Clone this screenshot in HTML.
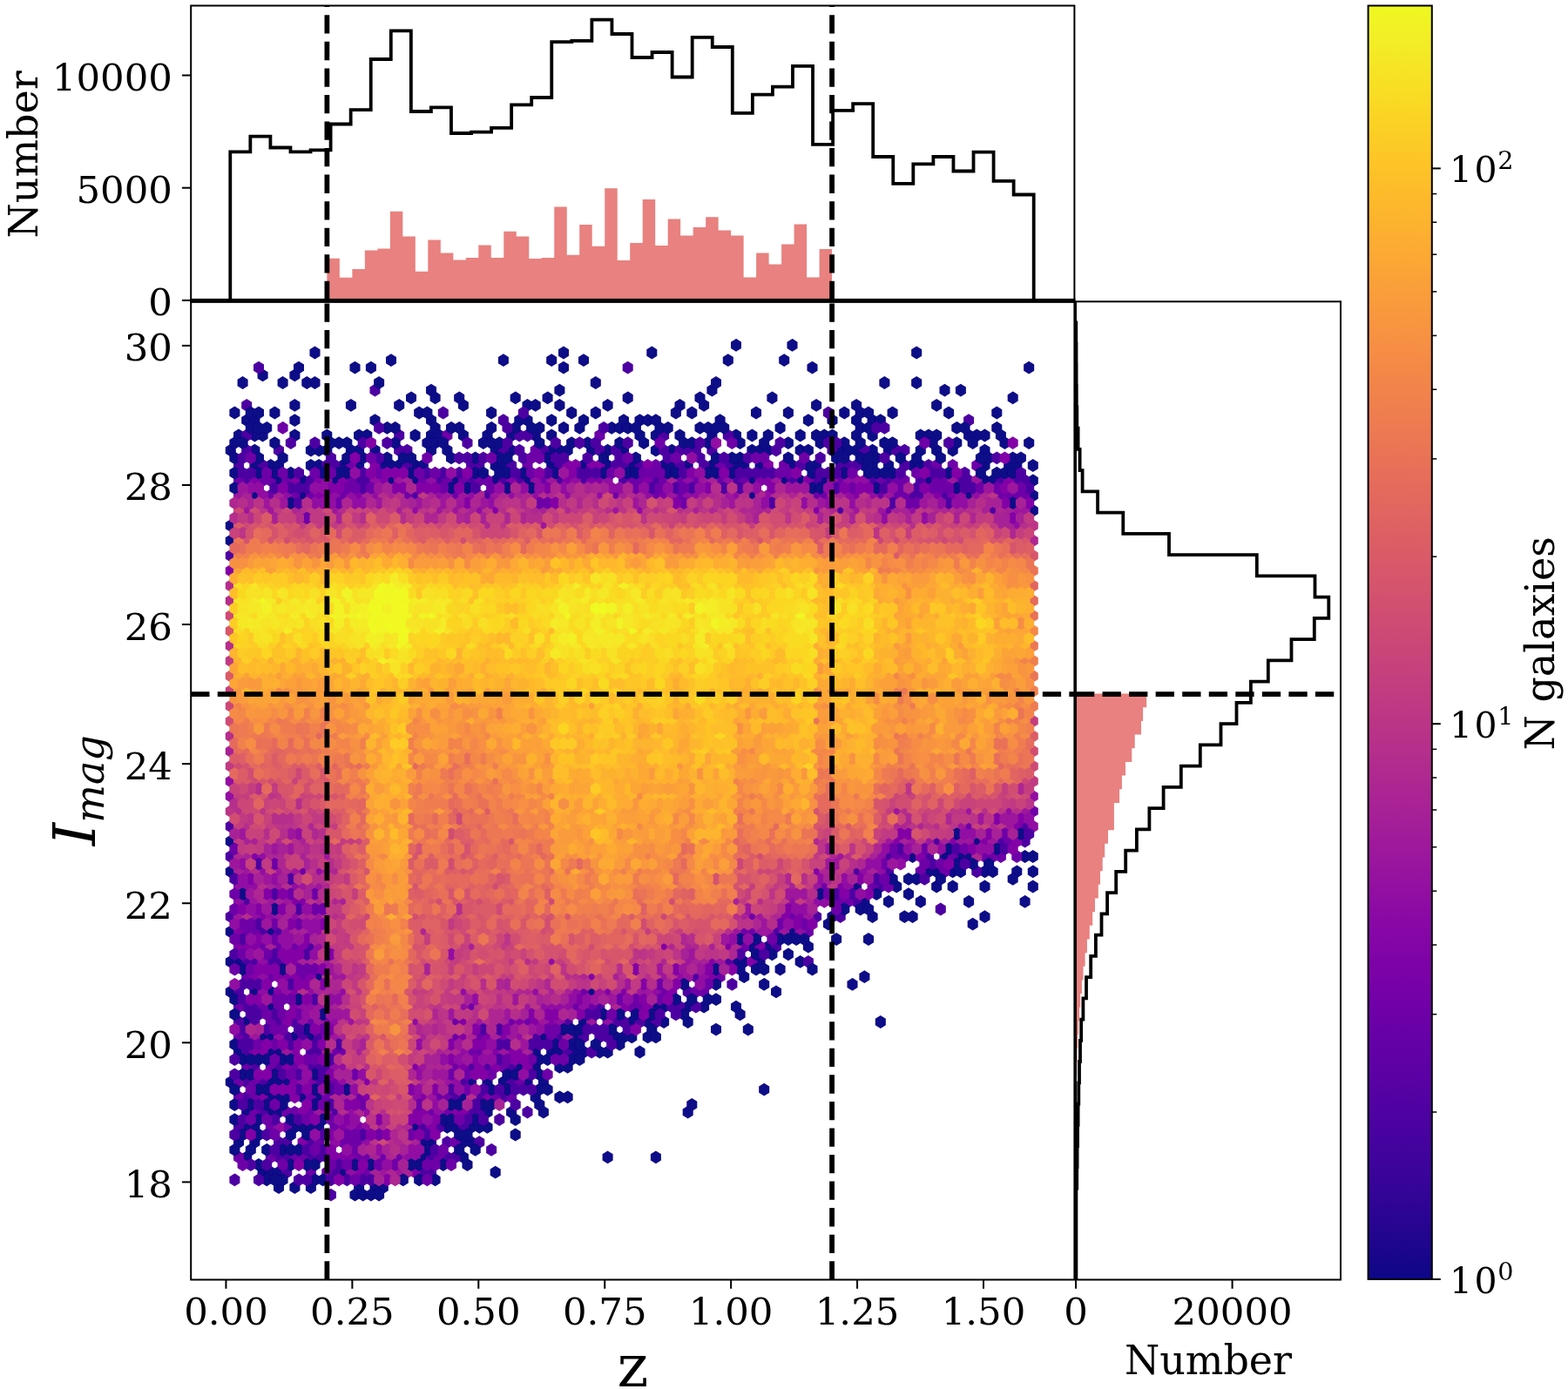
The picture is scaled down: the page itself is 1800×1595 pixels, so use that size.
<!DOCTYPE html><html><head><meta charset="utf-8"><style>html,body{margin:0;padding:0;background:#fff}svg{display:block}text{font-family:"DejaVu Serif","Liberation Serif",serif;fill:#000}</style></head><body>
<svg width="1800" height="1595" viewBox="0 0 1800 1595">
<rect width="1800" height="1595" fill="#fff"/>
<defs><path id="h" d="M0 -5.76L4.61 -2.88V2.88L0 5.76L-4.61 2.88V-2.88Z"/><linearGradient id="cg" x1="0" y1="1" x2="0" y2="0">
<stop offset="0.0000" stop-color="#0c0786"/>
<stop offset="0.0312" stop-color="#21058f"/>
<stop offset="0.0625" stop-color="#310496"/>
<stop offset="0.0938" stop-color="#3f039c"/>
<stop offset="0.1250" stop-color="#4c02a1"/>
<stop offset="0.1562" stop-color="#5901a4"/>
<stop offset="0.1875" stop-color="#6500a7"/>
<stop offset="0.2188" stop-color="#7200a8"/>
<stop offset="0.2500" stop-color="#7e03a7"/>
<stop offset="0.2812" stop-color="#8908a5"/>
<stop offset="0.3125" stop-color="#9511a1"/>
<stop offset="0.3438" stop-color="#9f1a9b"/>
<stop offset="0.3750" stop-color="#a92395"/>
<stop offset="0.4062" stop-color="#b22c8e"/>
<stop offset="0.4375" stop-color="#bb3586"/>
<stop offset="0.4688" stop-color="#c33e7f"/>
<stop offset="0.5000" stop-color="#cb4777"/>
<stop offset="0.5312" stop-color="#d25070"/>
<stop offset="0.5625" stop-color="#d95969"/>
<stop offset="0.5938" stop-color="#df6262"/>
<stop offset="0.6250" stop-color="#e56c5b"/>
<stop offset="0.6562" stop-color="#eb7654"/>
<stop offset="0.6875" stop-color="#f0804d"/>
<stop offset="0.7188" stop-color="#f48a47"/>
<stop offset="0.7500" stop-color="#f89540"/>
<stop offset="0.7812" stop-color="#faa039"/>
<stop offset="0.8125" stop-color="#fcac32"/>
<stop offset="0.8438" stop-color="#fdb82c"/>
<stop offset="0.8750" stop-color="#fdc427"/>
<stop offset="0.9062" stop-color="#fbd124"/>
<stop offset="0.9375" stop-color="#f8df24"/>
<stop offset="0.9688" stop-color="#f3ec26"/>
<stop offset="1.0000" stop-color="#eff821"/>
</linearGradient><clipPath id="crh"><rect x="1200" y="346.3" width="400" height="1123.2"/></clipPath><filter id="hb" x="-2%" y="-2%" width="104%" height="104%"><feGaussianBlur stdDeviation="0.6"/></filter><clipPath id="cm"><rect x="219.2" y="346.3" width="1014.2" height="1123.2"/></clipPath></defs>
<g clip-path="url(#cm)"><g filter="url(#hb)" stroke-width="2.8">
<g fill="#0d0887" stroke="#0d0887">
<use href="#h" x="283.2" y="482.7"/><use href="#h" x="292.4" y="482.7"/><use href="#h" x="338.4" y="482.7"/><use href="#h" x="430.5" y="482.7"/><use href="#h" x="495.0" y="482.7"/><use href="#h" x="596.3" y="482.7"/><use href="#h" x="605.5" y="482.7"/><use href="#h" x="633.2" y="482.7"/><use href="#h" x="670.0" y="482.7"/><use href="#h" x="716.0" y="482.7"/><use href="#h" x="734.5" y="482.7"/><use href="#h" x="743.7" y="482.7"/><use href="#h" x="752.9" y="482.7"/><use href="#h" x="826.6" y="482.7"/><use href="#h" x="927.9" y="482.7"/><use href="#h" x="955.5" y="482.7"/><use href="#h" x="983.1" y="482.7"/><use href="#h" x="1001.6" y="482.7"/><use href="#h" x="1010.8" y="482.7"/><use href="#h" x="274.0" y="500.0"/><use href="#h" x="292.4" y="500.0"/><use href="#h" x="301.6" y="500.0"/><use href="#h" x="338.4" y="500.0"/><use href="#h" x="375.3" y="500.0"/><use href="#h" x="412.1" y="500.0"/><use href="#h" x="421.3" y="500.0"/><use href="#h" x="476.6" y="500.0"/><use href="#h" x="495.0" y="500.0"/><use href="#h" x="504.2" y="500.0"/><use href="#h" x="531.9" y="500.0"/><use href="#h" x="559.5" y="500.0"/><use href="#h" x="587.1" y="500.0"/><use href="#h" x="614.7" y="500.0"/><use href="#h" x="633.2" y="500.0"/><use href="#h" x="734.5" y="500.0"/><use href="#h" x="752.9" y="500.0"/><use href="#h" x="780.5" y="500.0"/><use href="#h" x="817.4" y="500.0"/><use href="#h" x="845.0" y="500.0"/><use href="#h" x="863.4" y="500.0"/><use href="#h" x="881.8" y="500.0"/><use href="#h" x="918.7" y="500.0"/><use href="#h" x="937.1" y="500.0"/><use href="#h" x="946.3" y="500.0"/><use href="#h" x="955.5" y="500.0"/><use href="#h" x="983.1" y="500.0"/><use href="#h" x="1001.6" y="500.0"/><use href="#h" x="1056.8" y="500.0"/><use href="#h" x="1066.0" y="500.0"/><use href="#h" x="1075.2" y="500.0"/><use href="#h" x="1112.1" y="500.0"/><use href="#h" x="1121.3" y="500.0"/><use href="#h" x="1130.5" y="500.0"/><use href="#h" x="1148.9" y="500.0"/><use href="#h" x="264.8" y="517.2"/><use href="#h" x="292.4" y="517.2"/><use href="#h" x="356.9" y="517.2"/><use href="#h" x="366.1" y="517.2"/><use href="#h" x="375.3" y="517.2"/><use href="#h" x="402.9" y="517.2"/><use href="#h" x="412.1" y="517.2"/><use href="#h" x="430.5" y="517.2"/><use href="#h" x="495.0" y="517.2"/><use href="#h" x="513.4" y="517.2"/><use href="#h" x="568.7" y="517.2"/><use href="#h" x="587.1" y="517.2"/><use href="#h" x="633.2" y="517.2"/><use href="#h" x="642.4" y="517.2"/><use href="#h" x="651.6" y="517.2"/><use href="#h" x="679.2" y="517.2"/><use href="#h" x="697.6" y="517.2"/><use href="#h" x="716.0" y="517.2"/><use href="#h" x="752.9" y="517.2"/><use href="#h" x="771.3" y="517.2"/><use href="#h" x="863.4" y="517.2"/><use href="#h" x="872.6" y="517.2"/><use href="#h" x="881.8" y="517.2"/><use href="#h" x="918.7" y="517.2"/><use href="#h" x="927.9" y="517.2"/><use href="#h" x="964.7" y="517.2"/><use href="#h" x="973.9" y="517.2"/><use href="#h" x="983.1" y="517.2"/><use href="#h" x="1001.6" y="517.2"/><use href="#h" x="1020.0" y="517.2"/><use href="#h" x="1056.8" y="517.2"/><use href="#h" x="1075.2" y="517.2"/><use href="#h" x="1093.7" y="517.2"/><use href="#h" x="1130.5" y="517.2"/><use href="#h" x="292.4" y="534.5"/><use href="#h" x="310.8" y="534.5"/><use href="#h" x="320.0" y="534.5"/><use href="#h" x="356.9" y="534.5"/><use href="#h" x="366.1" y="534.5"/><use href="#h" x="393.7" y="534.5"/><use href="#h" x="412.1" y="534.5"/><use href="#h" x="439.8" y="534.5"/><use href="#h" x="449.0" y="534.5"/><use href="#h" x="458.2" y="534.5"/><use href="#h" x="476.6" y="534.5"/><use href="#h" x="485.8" y="534.5"/><use href="#h" x="568.7" y="534.5"/><use href="#h" x="577.9" y="534.5"/><use href="#h" x="633.2" y="534.5"/><use href="#h" x="670.0" y="534.5"/><use href="#h" x="697.6" y="534.5"/><use href="#h" x="725.3" y="534.5"/><use href="#h" x="762.1" y="534.5"/><use href="#h" x="771.3" y="534.5"/><use href="#h" x="789.7" y="534.5"/><use href="#h" x="817.4" y="534.5"/><use href="#h" x="845.0" y="534.5"/><use href="#h" x="854.2" y="534.5"/><use href="#h" x="872.6" y="534.5"/><use href="#h" x="909.5" y="534.5"/><use href="#h" x="927.9" y="534.5"/><use href="#h" x="937.1" y="534.5"/><use href="#h" x="992.4" y="534.5"/><use href="#h" x="1001.6" y="534.5"/><use href="#h" x="1020.0" y="534.5"/><use href="#h" x="1047.6" y="534.5"/><use href="#h" x="1056.8" y="534.5"/><use href="#h" x="1130.5" y="534.5"/><use href="#h" x="1158.1" y="534.5"/><use href="#h" x="1167.3" y="534.5"/><use href="#h" x="1185.8" y="534.5"/><use href="#h" x="320.0" y="551.8"/><use href="#h" x="347.6" y="551.8"/><use href="#h" x="384.5" y="551.8"/><use href="#h" x="449.0" y="551.8"/><use href="#h" x="476.6" y="551.8"/><use href="#h" x="522.6" y="551.8"/><use href="#h" x="568.7" y="551.8"/><use href="#h" x="605.5" y="551.8"/><use href="#h" x="863.4" y="551.8"/><use href="#h" x="900.2" y="551.8"/><use href="#h" x="918.7" y="551.8"/><use href="#h" x="946.3" y="551.8"/><use href="#h" x="1066.0" y="551.8"/><use href="#h" x="1130.5" y="551.8"/><use href="#h" x="1139.7" y="551.8"/><use href="#h" x="1185.8" y="551.8"/><use href="#h" x="292.4" y="569.0"/><use href="#h" x="347.6" y="569.0"/><use href="#h" x="863.4" y="569.0"/><use href="#h" x="1112.1" y="569.0"/><use href="#h" x="1185.8" y="569.0"/><use href="#h" x="1185.8" y="586.3"/><use href="#h" x="264.8" y="603.6"/><use href="#h" x="264.8" y="620.8"/><use href="#h" x="264.8" y="966.2"/><use href="#h" x="1121.3" y="966.2"/><use href="#h" x="1047.6" y="983.5"/><use href="#h" x="1084.5" y="983.5"/><use href="#h" x="1102.9" y="983.5"/><use href="#h" x="1112.1" y="983.5"/><use href="#h" x="1176.6" y="983.5"/><use href="#h" x="1185.8" y="983.5"/><use href="#h" x="264.8" y="1000.8"/><use href="#h" x="1066.0" y="1000.8"/><use href="#h" x="1075.2" y="1000.8"/><use href="#h" x="1093.7" y="1000.8"/><use href="#h" x="1102.9" y="1000.8"/><use href="#h" x="1130.5" y="1000.8"/><use href="#h" x="1139.7" y="1000.8"/><use href="#h" x="1167.3" y="1000.8"/><use href="#h" x="1185.8" y="1000.8"/><use href="#h" x="983.1" y="1018.0"/><use href="#h" x="1029.2" y="1018.0"/><use href="#h" x="1075.2" y="1018.0"/><use href="#h" x="1093.7" y="1018.0"/><use href="#h" x="992.4" y="1035.3"/><use href="#h" x="1020.0" y="1035.3"/><use href="#h" x="955.5" y="1052.6"/><use href="#h" x="1001.6" y="1052.6"/><use href="#h" x="1047.6" y="1052.6"/><use href="#h" x="264.8" y="1069.9"/><use href="#h" x="310.8" y="1069.9"/><use href="#h" x="909.5" y="1069.9"/><use href="#h" x="863.4" y="1087.1"/><use href="#h" x="881.8" y="1087.1"/><use href="#h" x="927.9" y="1087.1"/><use href="#h" x="264.8" y="1104.4"/><use href="#h" x="274.0" y="1104.4"/><use href="#h" x="845.0" y="1104.4"/><use href="#h" x="854.2" y="1104.4"/><use href="#h" x="872.6" y="1104.4"/><use href="#h" x="366.1" y="1121.7"/><use href="#h" x="854.2" y="1121.7"/><use href="#h" x="264.8" y="1138.9"/><use href="#h" x="292.4" y="1138.9"/><use href="#h" x="310.8" y="1138.9"/><use href="#h" x="679.2" y="1138.9"/><use href="#h" x="310.8" y="1156.2"/><use href="#h" x="752.9" y="1156.2"/><use href="#h" x="762.1" y="1156.2"/><use href="#h" x="789.7" y="1156.2"/><use href="#h" x="808.1" y="1156.2"/><use href="#h" x="283.2" y="1173.5"/><use href="#h" x="670.0" y="1173.5"/><use href="#h" x="725.3" y="1173.5"/><use href="#h" x="743.7" y="1173.5"/><use href="#h" x="762.1" y="1173.5"/><use href="#h" x="301.6" y="1190.8"/><use href="#h" x="310.8" y="1190.8"/><use href="#h" x="338.4" y="1190.8"/><use href="#h" x="356.9" y="1190.8"/><use href="#h" x="623.9" y="1190.8"/><use href="#h" x="660.8" y="1190.8"/><use href="#h" x="706.8" y="1190.8"/><use href="#h" x="716.0" y="1190.8"/><use href="#h" x="725.3" y="1190.8"/><use href="#h" x="743.7" y="1190.8"/><use href="#h" x="274.0" y="1208.0"/><use href="#h" x="310.8" y="1208.0"/><use href="#h" x="320.0" y="1208.0"/><use href="#h" x="614.7" y="1208.0"/><use href="#h" x="633.2" y="1208.0"/><use href="#h" x="642.4" y="1208.0"/><use href="#h" x="660.8" y="1208.0"/><use href="#h" x="670.0" y="1208.0"/><use href="#h" x="688.4" y="1208.0"/><use href="#h" x="697.6" y="1208.0"/><use href="#h" x="734.5" y="1208.0"/><use href="#h" x="596.3" y="1225.3"/><use href="#h" x="614.7" y="1225.3"/><use href="#h" x="642.4" y="1225.3"/><use href="#h" x="651.6" y="1225.3"/><use href="#h" x="264.8" y="1242.6"/><use href="#h" x="310.8" y="1242.6"/><use href="#h" x="320.0" y="1242.6"/><use href="#h" x="329.2" y="1242.6"/><use href="#h" x="375.3" y="1242.6"/><use href="#h" x="541.1" y="1242.6"/><use href="#h" x="559.5" y="1242.6"/><use href="#h" x="577.9" y="1242.6"/><use href="#h" x="605.5" y="1242.6"/><use href="#h" x="623.9" y="1242.6"/><use href="#h" x="310.8" y="1259.8"/><use href="#h" x="320.0" y="1259.8"/><use href="#h" x="329.2" y="1259.8"/><use href="#h" x="347.6" y="1259.8"/><use href="#h" x="366.1" y="1259.8"/><use href="#h" x="531.9" y="1259.8"/><use href="#h" x="614.7" y="1259.8"/><use href="#h" x="642.4" y="1259.8"/><use href="#h" x="651.6" y="1259.8"/><use href="#h" x="283.2" y="1277.1"/><use href="#h" x="310.8" y="1277.1"/><use href="#h" x="320.0" y="1277.1"/><use href="#h" x="559.5" y="1277.1"/><use href="#h" x="587.1" y="1277.1"/><use href="#h" x="623.9" y="1277.1"/><use href="#h" x="283.2" y="1294.4"/><use href="#h" x="292.4" y="1294.4"/><use href="#h" x="338.4" y="1294.4"/><use href="#h" x="347.6" y="1294.4"/><use href="#h" x="356.9" y="1294.4"/><use href="#h" x="366.1" y="1294.4"/><use href="#h" x="476.6" y="1294.4"/><use href="#h" x="513.4" y="1294.4"/><use href="#h" x="522.6" y="1294.4"/><use href="#h" x="541.1" y="1294.4"/><use href="#h" x="550.3" y="1294.4"/><use href="#h" x="559.5" y="1294.4"/><use href="#h" x="274.0" y="1311.6"/><use href="#h" x="292.4" y="1311.6"/><use href="#h" x="485.8" y="1311.6"/><use href="#h" x="495.0" y="1311.6"/><use href="#h" x="531.9" y="1311.6"/><use href="#h" x="541.1" y="1311.6"/><use href="#h" x="283.2" y="1328.9"/><use href="#h" x="485.8" y="1328.9"/><use href="#h" x="531.9" y="1328.9"/><use href="#h" x="697.6" y="1328.9"/><use href="#h" x="301.6" y="1346.2"/><use href="#h" x="310.8" y="1346.2"/><use href="#h" x="320.0" y="1346.2"/><use href="#h" x="393.7" y="1346.2"/><use href="#h" x="568.7" y="1346.2"/><use href="#h" x="320.0" y="1363.5"/><use href="#h" x="338.4" y="1363.5"/><use href="#h" x="356.9" y="1363.5"/><use href="#h" x="412.1" y="1363.5"/><use href="#h" x="430.5" y="1363.5"/><use href="#h" x="439.8" y="1363.5"/><use href="#h" x="301.6" y="430.9"/><use href="#h" x="338.4" y="430.9"/><use href="#h" x="338.4" y="465.4"/><use href="#h" x="449.0" y="413.6"/><use href="#h" x="402.9" y="465.4"/><use href="#h" x="458.2" y="465.4"/><use href="#h" x="495.0" y="448.1"/><use href="#h" x="531.9" y="465.4"/><use href="#h" x="577.9" y="413.6"/><use href="#h" x="633.2" y="413.6"/><use href="#h" x="670.0" y="413.6"/><use href="#h" x="845.0" y="396.3"/><use href="#h" x="835.8" y="413.6"/><use href="#h" x="642.4" y="448.1"/><use href="#h" x="605.5" y="465.4"/><use href="#h" x="614.7" y="465.4"/><use href="#h" x="642.4" y="465.4"/><use href="#h" x="697.6" y="465.4"/><use href="#h" x="817.4" y="448.1"/><use href="#h" x="808.1" y="465.4"/><use href="#h" x="780.5" y="465.4"/><use href="#h" x="909.5" y="396.3"/><use href="#h" x="900.2" y="413.6"/><use href="#h" x="1084.5" y="448.1"/><use href="#h" x="1102.9" y="448.1"/><use href="#h" x="937.1" y="465.4"/><use href="#h" x="983.1" y="465.4"/><use href="#h" x="1075.2" y="465.4"/><use href="#h" x="891.0" y="1138.9"/><use href="#h" x="918.7" y="1104.4"/><use href="#h" x="992.4" y="1121.7"/><use href="#h" x="1010.8" y="1173.5"/><use href="#h" x="845.0" y="1156.2"/><use href="#h" x="789.7" y="1173.5"/><use href="#h" x="789.7" y="1277.1"/><use href="#h" x="752.9" y="1328.9"/><use href="#h" x="752.9" y="1190.8"/><use href="#h" x="1038.4" y="1052.6"/><use href="#h" x="1056.8" y="1035.3"/><use href="#h" x="1112.1" y="1035.3"/><use href="#h" x="1130.5" y="1018.0"/><use href="#h" x="1130.5" y="1052.6"/><use href="#h" x="1185.8" y="1018.0"/><use href="#h" x="1176.6" y="1035.3"/>
</g>
<g fill="#4e02a2" stroke="#4e02a2">
<use href="#h" x="577.9" y="482.7"/><use href="#h" x="1112.1" y="482.7"/><use href="#h" x="283.2" y="500.0"/><use href="#h" x="458.2" y="500.0"/><use href="#h" x="596.3" y="500.0"/><use href="#h" x="605.5" y="500.0"/><use href="#h" x="762.1" y="500.0"/><use href="#h" x="835.8" y="500.0"/><use href="#h" x="283.2" y="517.2"/><use href="#h" x="320.0" y="517.2"/><use href="#h" x="458.2" y="517.2"/><use href="#h" x="467.4" y="517.2"/><use href="#h" x="577.9" y="517.2"/><use href="#h" x="596.3" y="517.2"/><use href="#h" x="623.9" y="517.2"/><use href="#h" x="688.4" y="517.2"/><use href="#h" x="706.8" y="517.2"/><use href="#h" x="762.1" y="517.2"/><use href="#h" x="780.5" y="517.2"/><use href="#h" x="789.7" y="517.2"/><use href="#h" x="798.9" y="517.2"/><use href="#h" x="817.4" y="517.2"/><use href="#h" x="891.0" y="517.2"/><use href="#h" x="955.5" y="517.2"/><use href="#h" x="992.4" y="517.2"/><use href="#h" x="1029.2" y="517.2"/><use href="#h" x="1038.4" y="517.2"/><use href="#h" x="274.0" y="534.5"/><use href="#h" x="301.6" y="534.5"/><use href="#h" x="375.3" y="534.5"/><use href="#h" x="384.5" y="534.5"/><use href="#h" x="467.4" y="534.5"/><use href="#h" x="541.1" y="534.5"/><use href="#h" x="550.3" y="534.5"/><use href="#h" x="587.1" y="534.5"/><use href="#h" x="642.4" y="534.5"/><use href="#h" x="706.8" y="534.5"/><use href="#h" x="716.0" y="534.5"/><use href="#h" x="734.5" y="534.5"/><use href="#h" x="780.5" y="534.5"/><use href="#h" x="808.1" y="534.5"/><use href="#h" x="835.8" y="534.5"/><use href="#h" x="918.7" y="534.5"/><use href="#h" x="964.7" y="534.5"/><use href="#h" x="973.9" y="534.5"/><use href="#h" x="983.1" y="534.5"/><use href="#h" x="1038.4" y="534.5"/><use href="#h" x="1066.0" y="534.5"/><use href="#h" x="283.2" y="551.8"/><use href="#h" x="356.9" y="551.8"/><use href="#h" x="412.1" y="551.8"/><use href="#h" x="421.3" y="551.8"/><use href="#h" x="504.2" y="551.8"/><use href="#h" x="541.1" y="551.8"/><use href="#h" x="577.9" y="551.8"/><use href="#h" x="596.3" y="551.8"/><use href="#h" x="642.4" y="551.8"/><use href="#h" x="670.0" y="551.8"/><use href="#h" x="716.0" y="551.8"/><use href="#h" x="752.9" y="551.8"/><use href="#h" x="845.0" y="551.8"/><use href="#h" x="909.5" y="551.8"/><use href="#h" x="937.1" y="551.8"/><use href="#h" x="1001.6" y="551.8"/><use href="#h" x="1020.0" y="551.8"/><use href="#h" x="1056.8" y="551.8"/><use href="#h" x="1102.9" y="551.8"/><use href="#h" x="1112.1" y="551.8"/><use href="#h" x="1148.9" y="551.8"/><use href="#h" x="1167.3" y="551.8"/><use href="#h" x="1176.6" y="551.8"/><use href="#h" x="476.6" y="569.0"/><use href="#h" x="559.5" y="569.0"/><use href="#h" x="1047.6" y="569.0"/><use href="#h" x="1056.8" y="569.0"/><use href="#h" x="1084.5" y="569.0"/><use href="#h" x="964.7" y="586.3"/><use href="#h" x="1139.7" y="586.3"/><use href="#h" x="264.8" y="638.1"/><use href="#h" x="264.8" y="949.0"/><use href="#h" x="1176.6" y="949.0"/><use href="#h" x="1075.2" y="966.2"/><use href="#h" x="1148.9" y="966.2"/><use href="#h" x="1176.6" y="966.2"/><use href="#h" x="264.8" y="983.5"/><use href="#h" x="1020.0" y="983.5"/><use href="#h" x="1066.0" y="983.5"/><use href="#h" x="983.1" y="1000.8"/><use href="#h" x="1020.0" y="1000.8"/><use href="#h" x="1121.3" y="1000.8"/><use href="#h" x="1010.8" y="1018.0"/><use href="#h" x="283.2" y="1035.3"/><use href="#h" x="955.5" y="1035.3"/><use href="#h" x="983.1" y="1035.3"/><use href="#h" x="264.8" y="1052.6"/><use href="#h" x="937.1" y="1052.6"/><use href="#h" x="964.7" y="1052.6"/><use href="#h" x="301.6" y="1069.9"/><use href="#h" x="320.0" y="1069.9"/><use href="#h" x="891.0" y="1069.9"/><use href="#h" x="356.9" y="1087.1"/><use href="#h" x="891.0" y="1087.1"/><use href="#h" x="283.2" y="1104.4"/><use href="#h" x="292.4" y="1104.4"/><use href="#h" x="310.8" y="1104.4"/><use href="#h" x="320.0" y="1104.4"/><use href="#h" x="835.8" y="1104.4"/><use href="#h" x="798.9" y="1121.7"/><use href="#h" x="274.0" y="1138.9"/><use href="#h" x="789.7" y="1138.9"/><use href="#h" x="283.2" y="1156.2"/><use href="#h" x="292.4" y="1156.2"/><use href="#h" x="688.4" y="1156.2"/><use href="#h" x="771.3" y="1156.2"/><use href="#h" x="780.5" y="1156.2"/><use href="#h" x="798.9" y="1156.2"/><use href="#h" x="274.0" y="1173.5"/><use href="#h" x="292.4" y="1173.5"/><use href="#h" x="320.0" y="1173.5"/><use href="#h" x="338.4" y="1173.5"/><use href="#h" x="651.6" y="1173.5"/><use href="#h" x="706.8" y="1173.5"/><use href="#h" x="716.0" y="1173.5"/><use href="#h" x="734.5" y="1173.5"/><use href="#h" x="752.9" y="1173.5"/><use href="#h" x="283.2" y="1190.8"/><use href="#h" x="329.2" y="1190.8"/><use href="#h" x="347.6" y="1190.8"/><use href="#h" x="366.1" y="1190.8"/><use href="#h" x="614.7" y="1190.8"/><use href="#h" x="642.4" y="1190.8"/><use href="#h" x="670.0" y="1190.8"/><use href="#h" x="688.4" y="1190.8"/><use href="#h" x="697.6" y="1190.8"/><use href="#h" x="283.2" y="1208.0"/><use href="#h" x="356.9" y="1208.0"/><use href="#h" x="366.1" y="1208.0"/><use href="#h" x="651.6" y="1208.0"/><use href="#h" x="679.2" y="1208.0"/><use href="#h" x="292.4" y="1225.3"/><use href="#h" x="320.0" y="1225.3"/><use href="#h" x="356.9" y="1225.3"/><use href="#h" x="366.1" y="1225.3"/><use href="#h" x="375.3" y="1225.3"/><use href="#h" x="541.1" y="1225.3"/><use href="#h" x="559.5" y="1225.3"/><use href="#h" x="587.1" y="1225.3"/><use href="#h" x="283.2" y="1242.6"/><use href="#h" x="301.6" y="1242.6"/><use href="#h" x="366.1" y="1242.6"/><use href="#h" x="531.9" y="1242.6"/><use href="#h" x="587.1" y="1242.6"/><use href="#h" x="283.2" y="1259.8"/><use href="#h" x="522.6" y="1259.8"/><use href="#h" x="550.3" y="1259.8"/><use href="#h" x="577.9" y="1259.8"/><use href="#h" x="301.6" y="1277.1"/><use href="#h" x="384.5" y="1277.1"/><use href="#h" x="541.1" y="1277.1"/><use href="#h" x="550.3" y="1277.1"/><use href="#h" x="605.5" y="1277.1"/><use href="#h" x="274.0" y="1294.4"/><use href="#h" x="485.8" y="1294.4"/><use href="#h" x="504.2" y="1294.4"/><use href="#h" x="531.9" y="1294.4"/><use href="#h" x="320.0" y="1311.6"/><use href="#h" x="329.2" y="1311.6"/><use href="#h" x="356.9" y="1311.6"/><use href="#h" x="513.4" y="1311.6"/><use href="#h" x="550.3" y="1311.6"/><use href="#h" x="320.0" y="1328.9"/><use href="#h" x="329.2" y="1328.9"/><use href="#h" x="356.9" y="1328.9"/><use href="#h" x="366.1" y="1328.9"/><use href="#h" x="375.3" y="1328.9"/><use href="#h" x="495.0" y="1328.9"/><use href="#h" x="513.4" y="1328.9"/><use href="#h" x="522.6" y="1328.9"/><use href="#h" x="329.2" y="1346.2"/><use href="#h" x="384.5" y="1346.2"/><use href="#h" x="485.8" y="1346.2"/><use href="#h" x="495.0" y="1346.2"/><use href="#h" x="283.2" y="465.4"/><use href="#h" x="430.5" y="448.1"/><use href="#h" x="927.9" y="1104.4"/>
</g>
<g fill="#6e00a8" stroke="#6e00a8">
<use href="#h" x="513.4" y="500.0"/><use href="#h" x="688.4" y="500.0"/><use href="#h" x="614.7" y="517.2"/><use href="#h" x="402.9" y="534.5"/><use href="#h" x="605.5" y="534.5"/><use href="#h" x="752.9" y="534.5"/><use href="#h" x="826.6" y="534.5"/><use href="#h" x="900.2" y="534.5"/><use href="#h" x="1075.2" y="534.5"/><use href="#h" x="1093.7" y="534.5"/><use href="#h" x="1121.3" y="534.5"/><use href="#h" x="274.0" y="551.8"/><use href="#h" x="301.6" y="551.8"/><use href="#h" x="310.8" y="551.8"/><use href="#h" x="329.2" y="551.8"/><use href="#h" x="402.9" y="551.8"/><use href="#h" x="485.8" y="551.8"/><use href="#h" x="513.4" y="551.8"/><use href="#h" x="531.9" y="551.8"/><use href="#h" x="550.3" y="551.8"/><use href="#h" x="559.5" y="551.8"/><use href="#h" x="623.9" y="551.8"/><use href="#h" x="725.3" y="551.8"/><use href="#h" x="734.5" y="551.8"/><use href="#h" x="762.1" y="551.8"/><use href="#h" x="780.5" y="551.8"/><use href="#h" x="798.9" y="551.8"/><use href="#h" x="826.6" y="551.8"/><use href="#h" x="854.2" y="551.8"/><use href="#h" x="964.7" y="551.8"/><use href="#h" x="1010.8" y="551.8"/><use href="#h" x="1029.2" y="551.8"/><use href="#h" x="1038.4" y="551.8"/><use href="#h" x="1075.2" y="551.8"/><use href="#h" x="1084.5" y="551.8"/><use href="#h" x="310.8" y="569.0"/><use href="#h" x="338.4" y="569.0"/><use href="#h" x="356.9" y="569.0"/><use href="#h" x="375.3" y="569.0"/><use href="#h" x="393.7" y="569.0"/><use href="#h" x="467.4" y="569.0"/><use href="#h" x="522.6" y="569.0"/><use href="#h" x="706.8" y="569.0"/><use href="#h" x="752.9" y="569.0"/><use href="#h" x="780.5" y="569.0"/><use href="#h" x="937.1" y="569.0"/><use href="#h" x="946.3" y="569.0"/><use href="#h" x="1010.8" y="569.0"/><use href="#h" x="1029.2" y="569.0"/><use href="#h" x="1038.4" y="569.0"/><use href="#h" x="1148.9" y="569.0"/><use href="#h" x="1158.1" y="569.0"/><use href="#h" x="1167.3" y="569.0"/><use href="#h" x="1176.6" y="569.0"/><use href="#h" x="1020.0" y="586.3"/><use href="#h" x="1185.8" y="931.7"/><use href="#h" x="1112.1" y="949.0"/><use href="#h" x="1158.1" y="966.2"/><use href="#h" x="1029.2" y="983.5"/><use href="#h" x="1038.4" y="983.5"/><use href="#h" x="1093.7" y="983.5"/><use href="#h" x="1130.5" y="983.5"/><use href="#h" x="1139.7" y="983.5"/><use href="#h" x="1148.9" y="983.5"/><use href="#h" x="1167.3" y="983.5"/><use href="#h" x="347.6" y="1000.8"/><use href="#h" x="1056.8" y="1000.8"/><use href="#h" x="1084.5" y="1000.8"/><use href="#h" x="946.3" y="1018.0"/><use href="#h" x="1001.6" y="1018.0"/><use href="#h" x="1020.0" y="1018.0"/><use href="#h" x="964.7" y="1035.3"/><use href="#h" x="973.9" y="1035.3"/><use href="#h" x="863.4" y="1052.6"/><use href="#h" x="909.5" y="1052.6"/><use href="#h" x="283.2" y="1069.9"/><use href="#h" x="292.4" y="1069.9"/><use href="#h" x="854.2" y="1069.9"/><use href="#h" x="863.4" y="1069.9"/><use href="#h" x="927.9" y="1069.9"/><use href="#h" x="301.6" y="1087.1"/><use href="#h" x="320.0" y="1087.1"/><use href="#h" x="338.4" y="1087.1"/><use href="#h" x="854.2" y="1087.1"/><use href="#h" x="283.2" y="1121.7"/><use href="#h" x="310.8" y="1121.7"/><use href="#h" x="347.6" y="1121.7"/><use href="#h" x="826.6" y="1121.7"/><use href="#h" x="670.0" y="1138.9"/><use href="#h" x="762.1" y="1138.9"/><use href="#h" x="798.9" y="1138.9"/><use href="#h" x="808.1" y="1138.9"/><use href="#h" x="274.0" y="1156.2"/><use href="#h" x="301.6" y="1156.2"/><use href="#h" x="320.0" y="1156.2"/><use href="#h" x="375.3" y="1156.2"/><use href="#h" x="541.1" y="1156.2"/><use href="#h" x="660.8" y="1156.2"/><use href="#h" x="679.2" y="1156.2"/><use href="#h" x="725.3" y="1156.2"/><use href="#h" x="734.5" y="1156.2"/><use href="#h" x="310.8" y="1173.5"/><use href="#h" x="356.9" y="1173.5"/><use href="#h" x="522.6" y="1173.5"/><use href="#h" x="587.1" y="1173.5"/><use href="#h" x="605.5" y="1173.5"/><use href="#h" x="274.0" y="1190.8"/><use href="#h" x="522.6" y="1190.8"/><use href="#h" x="550.3" y="1190.8"/><use href="#h" x="633.2" y="1190.8"/><use href="#h" x="384.5" y="1208.0"/><use href="#h" x="393.7" y="1208.0"/><use href="#h" x="541.1" y="1208.0"/><use href="#h" x="550.3" y="1208.0"/><use href="#h" x="283.2" y="1225.3"/><use href="#h" x="310.8" y="1225.3"/><use href="#h" x="338.4" y="1225.3"/><use href="#h" x="522.6" y="1225.3"/><use href="#h" x="577.9" y="1225.3"/><use href="#h" x="274.0" y="1242.6"/><use href="#h" x="292.4" y="1242.6"/><use href="#h" x="384.5" y="1242.6"/><use href="#h" x="596.3" y="1242.6"/><use href="#h" x="274.0" y="1259.8"/><use href="#h" x="292.4" y="1259.8"/><use href="#h" x="356.9" y="1259.8"/><use href="#h" x="375.3" y="1259.8"/><use href="#h" x="412.1" y="1259.8"/><use href="#h" x="504.2" y="1259.8"/><use href="#h" x="513.4" y="1259.8"/><use href="#h" x="568.7" y="1259.8"/><use href="#h" x="587.1" y="1259.8"/><use href="#h" x="292.4" y="1277.1"/><use href="#h" x="329.2" y="1277.1"/><use href="#h" x="338.4" y="1277.1"/><use href="#h" x="356.9" y="1277.1"/><use href="#h" x="495.0" y="1277.1"/><use href="#h" x="513.4" y="1277.1"/><use href="#h" x="310.8" y="1294.4"/><use href="#h" x="329.2" y="1294.4"/><use href="#h" x="384.5" y="1294.4"/><use href="#h" x="366.1" y="1311.6"/><use href="#h" x="393.7" y="1311.6"/><use href="#h" x="402.9" y="1311.6"/><use href="#h" x="412.1" y="1311.6"/><use href="#h" x="522.6" y="1311.6"/><use href="#h" x="274.0" y="1328.9"/><use href="#h" x="310.8" y="1328.9"/><use href="#h" x="338.4" y="1328.9"/><use href="#h" x="347.6" y="1328.9"/><use href="#h" x="412.1" y="1328.9"/><use href="#h" x="421.3" y="1328.9"/><use href="#h" x="439.8" y="1328.9"/><use href="#h" x="458.2" y="1328.9"/><use href="#h" x="504.2" y="1328.9"/><use href="#h" x="356.9" y="1346.2"/><use href="#h" x="375.3" y="1346.2"/><use href="#h" x="421.3" y="1346.2"/>
</g>
<g fill="#8305a7" stroke="#8305a7">
<use href="#h" x="430.5" y="534.5"/><use href="#h" x="651.6" y="534.5"/><use href="#h" x="660.8" y="534.5"/><use href="#h" x="679.2" y="534.5"/><use href="#h" x="688.4" y="534.5"/><use href="#h" x="743.7" y="534.5"/><use href="#h" x="881.8" y="534.5"/><use href="#h" x="292.4" y="551.8"/><use href="#h" x="338.4" y="551.8"/><use href="#h" x="366.1" y="551.8"/><use href="#h" x="393.7" y="551.8"/><use href="#h" x="439.8" y="551.8"/><use href="#h" x="587.1" y="551.8"/><use href="#h" x="651.6" y="551.8"/><use href="#h" x="679.2" y="551.8"/><use href="#h" x="688.4" y="551.8"/><use href="#h" x="743.7" y="551.8"/><use href="#h" x="872.6" y="551.8"/><use href="#h" x="881.8" y="551.8"/><use href="#h" x="927.9" y="551.8"/><use href="#h" x="1158.1" y="551.8"/><use href="#h" x="366.1" y="569.0"/><use href="#h" x="412.1" y="569.0"/><use href="#h" x="762.1" y="569.0"/><use href="#h" x="983.1" y="569.0"/><use href="#h" x="1075.2" y="569.0"/><use href="#h" x="1093.7" y="569.0"/><use href="#h" x="568.7" y="586.3"/><use href="#h" x="937.1" y="586.3"/><use href="#h" x="264.8" y="655.4"/><use href="#h" x="1167.3" y="949.0"/><use href="#h" x="1029.2" y="966.2"/><use href="#h" x="1093.7" y="966.2"/><use href="#h" x="1130.5" y="966.2"/><use href="#h" x="1167.3" y="966.2"/><use href="#h" x="292.4" y="983.5"/><use href="#h" x="1056.8" y="983.5"/><use href="#h" x="937.1" y="1000.8"/><use href="#h" x="955.5" y="1000.8"/><use href="#h" x="964.7" y="1018.0"/><use href="#h" x="338.4" y="1035.3"/><use href="#h" x="347.6" y="1035.3"/><use href="#h" x="301.6" y="1052.6"/><use href="#h" x="900.2" y="1052.6"/><use href="#h" x="918.7" y="1052.6"/><use href="#h" x="274.0" y="1069.9"/><use href="#h" x="274.0" y="1087.1"/><use href="#h" x="283.2" y="1087.1"/><use href="#h" x="292.4" y="1087.1"/><use href="#h" x="347.6" y="1087.1"/><use href="#h" x="762.1" y="1087.1"/><use href="#h" x="835.8" y="1087.1"/><use href="#h" x="872.6" y="1087.1"/><use href="#h" x="329.2" y="1104.4"/><use href="#h" x="338.4" y="1104.4"/><use href="#h" x="817.4" y="1104.4"/><use href="#h" x="863.4" y="1104.4"/><use href="#h" x="292.4" y="1121.7"/><use href="#h" x="320.0" y="1121.7"/><use href="#h" x="329.2" y="1121.7"/><use href="#h" x="338.4" y="1121.7"/><use href="#h" x="356.9" y="1121.7"/><use href="#h" x="679.2" y="1121.7"/><use href="#h" x="817.4" y="1121.7"/><use href="#h" x="320.0" y="1138.9"/><use href="#h" x="338.4" y="1138.9"/><use href="#h" x="697.6" y="1138.9"/><use href="#h" x="716.0" y="1138.9"/><use href="#h" x="771.3" y="1138.9"/><use href="#h" x="338.4" y="1156.2"/><use href="#h" x="716.0" y="1156.2"/><use href="#h" x="743.7" y="1156.2"/><use href="#h" x="329.2" y="1173.5"/><use href="#h" x="375.3" y="1173.5"/><use href="#h" x="531.9" y="1173.5"/><use href="#h" x="596.3" y="1173.5"/><use href="#h" x="614.7" y="1173.5"/><use href="#h" x="633.2" y="1173.5"/><use href="#h" x="375.3" y="1190.8"/><use href="#h" x="531.9" y="1190.8"/><use href="#h" x="559.5" y="1190.8"/><use href="#h" x="577.9" y="1190.8"/><use href="#h" x="292.4" y="1208.0"/><use href="#h" x="301.6" y="1208.0"/><use href="#h" x="338.4" y="1208.0"/><use href="#h" x="568.7" y="1208.0"/><use href="#h" x="587.1" y="1208.0"/><use href="#h" x="596.3" y="1208.0"/><use href="#h" x="329.2" y="1225.3"/><use href="#h" x="476.6" y="1225.3"/><use href="#h" x="531.9" y="1225.3"/><use href="#h" x="550.3" y="1225.3"/><use href="#h" x="568.7" y="1225.3"/><use href="#h" x="605.5" y="1225.3"/><use href="#h" x="338.4" y="1242.6"/><use href="#h" x="356.9" y="1242.6"/><use href="#h" x="421.3" y="1242.6"/><use href="#h" x="301.6" y="1259.8"/><use href="#h" x="338.4" y="1259.8"/><use href="#h" x="421.3" y="1259.8"/><use href="#h" x="485.8" y="1259.8"/><use href="#h" x="559.5" y="1259.8"/><use href="#h" x="347.6" y="1277.1"/><use href="#h" x="476.6" y="1277.1"/><use href="#h" x="485.8" y="1277.1"/><use href="#h" x="522.6" y="1277.1"/><use href="#h" x="531.9" y="1277.1"/><use href="#h" x="393.7" y="1294.4"/><use href="#h" x="412.1" y="1294.4"/><use href="#h" x="495.0" y="1294.4"/><use href="#h" x="347.6" y="1311.6"/><use href="#h" x="384.5" y="1328.9"/><use href="#h" x="393.7" y="1328.9"/><use href="#h" x="402.9" y="1328.9"/><use href="#h" x="412.1" y="1346.2"/><use href="#h" x="476.6" y="1346.2"/>
</g>
<g fill="#920fa3" stroke="#920fa3">
<use href="#h" x="375.3" y="551.8"/><use href="#h" x="430.5" y="551.8"/><use href="#h" x="495.0" y="551.8"/><use href="#h" x="614.7" y="551.8"/><use href="#h" x="660.8" y="551.8"/><use href="#h" x="697.6" y="551.8"/><use href="#h" x="789.7" y="551.8"/><use href="#h" x="835.8" y="551.8"/><use href="#h" x="955.5" y="551.8"/><use href="#h" x="973.9" y="551.8"/><use href="#h" x="983.1" y="551.8"/><use href="#h" x="992.4" y="551.8"/><use href="#h" x="301.6" y="569.0"/><use href="#h" x="329.2" y="569.0"/><use href="#h" x="384.5" y="569.0"/><use href="#h" x="402.9" y="569.0"/><use href="#h" x="430.5" y="569.0"/><use href="#h" x="504.2" y="569.0"/><use href="#h" x="541.1" y="569.0"/><use href="#h" x="587.1" y="569.0"/><use href="#h" x="614.7" y="569.0"/><use href="#h" x="651.6" y="569.0"/><use href="#h" x="688.4" y="569.0"/><use href="#h" x="743.7" y="569.0"/><use href="#h" x="789.7" y="569.0"/><use href="#h" x="798.9" y="569.0"/><use href="#h" x="845.0" y="569.0"/><use href="#h" x="881.8" y="569.0"/><use href="#h" x="973.9" y="569.0"/><use href="#h" x="1001.6" y="569.0"/><use href="#h" x="1102.9" y="569.0"/><use href="#h" x="1121.3" y="569.0"/><use href="#h" x="476.6" y="586.3"/><use href="#h" x="550.3" y="586.3"/><use href="#h" x="734.5" y="586.3"/><use href="#h" x="1047.6" y="586.3"/><use href="#h" x="1167.3" y="603.6"/><use href="#h" x="264.8" y="897.2"/><use href="#h" x="264.8" y="914.4"/><use href="#h" x="1185.8" y="914.4"/><use href="#h" x="1158.1" y="931.7"/><use href="#h" x="1185.8" y="949.0"/><use href="#h" x="301.6" y="983.5"/><use href="#h" x="1010.8" y="983.5"/><use href="#h" x="301.6" y="1000.8"/><use href="#h" x="366.1" y="1000.8"/><use href="#h" x="992.4" y="1000.8"/><use href="#h" x="1010.8" y="1000.8"/><use href="#h" x="274.0" y="1018.0"/><use href="#h" x="283.2" y="1018.0"/><use href="#h" x="292.4" y="1018.0"/><use href="#h" x="338.4" y="1018.0"/><use href="#h" x="973.9" y="1018.0"/><use href="#h" x="274.0" y="1035.3"/><use href="#h" x="909.5" y="1035.3"/><use href="#h" x="937.1" y="1035.3"/><use href="#h" x="946.3" y="1035.3"/><use href="#h" x="292.4" y="1052.6"/><use href="#h" x="310.8" y="1052.6"/><use href="#h" x="338.4" y="1052.6"/><use href="#h" x="329.2" y="1069.9"/><use href="#h" x="356.9" y="1069.9"/><use href="#h" x="366.1" y="1069.9"/><use href="#h" x="918.7" y="1069.9"/><use href="#h" x="329.2" y="1087.1"/><use href="#h" x="366.1" y="1087.1"/><use href="#h" x="301.6" y="1104.4"/><use href="#h" x="633.2" y="1104.4"/><use href="#h" x="301.6" y="1121.7"/><use href="#h" x="780.5" y="1121.7"/><use href="#h" x="808.1" y="1121.7"/><use href="#h" x="301.6" y="1138.9"/><use href="#h" x="329.2" y="1138.9"/><use href="#h" x="356.9" y="1138.9"/><use href="#h" x="393.7" y="1138.9"/><use href="#h" x="531.9" y="1138.9"/><use href="#h" x="614.7" y="1138.9"/><use href="#h" x="660.8" y="1138.9"/><use href="#h" x="752.9" y="1138.9"/><use href="#h" x="347.6" y="1156.2"/><use href="#h" x="356.9" y="1156.2"/><use href="#h" x="531.9" y="1156.2"/><use href="#h" x="623.9" y="1156.2"/><use href="#h" x="633.2" y="1156.2"/><use href="#h" x="642.4" y="1156.2"/><use href="#h" x="651.6" y="1156.2"/><use href="#h" x="670.0" y="1156.2"/><use href="#h" x="347.6" y="1173.5"/><use href="#h" x="384.5" y="1173.5"/><use href="#h" x="476.6" y="1173.5"/><use href="#h" x="642.4" y="1173.5"/><use href="#h" x="697.6" y="1173.5"/><use href="#h" x="320.0" y="1190.8"/><use href="#h" x="596.3" y="1190.8"/><use href="#h" x="531.9" y="1208.0"/><use href="#h" x="347.6" y="1225.3"/><use href="#h" x="384.5" y="1225.3"/><use href="#h" x="393.7" y="1225.3"/><use href="#h" x="347.6" y="1242.6"/><use href="#h" x="393.7" y="1242.6"/><use href="#h" x="522.6" y="1242.6"/><use href="#h" x="476.6" y="1259.8"/><use href="#h" x="375.3" y="1277.1"/><use href="#h" x="402.9" y="1277.1"/><use href="#h" x="421.3" y="1277.1"/><use href="#h" x="504.2" y="1277.1"/><use href="#h" x="320.0" y="1294.4"/><use href="#h" x="402.9" y="1294.4"/><use href="#h" x="421.3" y="1294.4"/><use href="#h" x="384.5" y="1311.6"/><use href="#h" x="421.3" y="1311.6"/><use href="#h" x="467.4" y="1328.9"/><use href="#h" x="476.6" y="1328.9"/><use href="#h" x="402.9" y="1346.2"/>
</g>
<g fill="#9d189d" stroke="#9d189d">
<use href="#h" x="458.2" y="551.8"/><use href="#h" x="633.2" y="551.8"/><use href="#h" x="808.1" y="551.8"/><use href="#h" x="891.0" y="551.8"/><use href="#h" x="1093.7" y="551.8"/><use href="#h" x="1121.3" y="551.8"/><use href="#h" x="274.0" y="569.0"/><use href="#h" x="513.4" y="569.0"/><use href="#h" x="531.9" y="569.0"/><use href="#h" x="568.7" y="569.0"/><use href="#h" x="771.3" y="569.0"/><use href="#h" x="835.8" y="569.0"/><use href="#h" x="1020.0" y="569.0"/><use href="#h" x="1066.0" y="569.0"/><use href="#h" x="283.2" y="586.3"/><use href="#h" x="310.8" y="586.3"/><use href="#h" x="384.5" y="586.3"/><use href="#h" x="504.2" y="586.3"/><use href="#h" x="522.6" y="586.3"/><use href="#h" x="706.8" y="586.3"/><use href="#h" x="983.1" y="586.3"/><use href="#h" x="1010.8" y="586.3"/><use href="#h" x="1167.3" y="586.3"/><use href="#h" x="1176.6" y="586.3"/><use href="#h" x="623.9" y="603.6"/><use href="#h" x="1029.2" y="931.7"/><use href="#h" x="1112.1" y="931.7"/><use href="#h" x="1176.6" y="931.7"/><use href="#h" x="1102.9" y="949.0"/><use href="#h" x="1158.1" y="949.0"/><use href="#h" x="1020.0" y="966.2"/><use href="#h" x="1047.6" y="966.2"/><use href="#h" x="1066.0" y="966.2"/><use href="#h" x="1102.9" y="966.2"/><use href="#h" x="1112.1" y="966.2"/><use href="#h" x="1139.7" y="966.2"/><use href="#h" x="375.3" y="983.5"/><use href="#h" x="964.7" y="983.5"/><use href="#h" x="283.2" y="1000.8"/><use href="#h" x="320.0" y="1000.8"/><use href="#h" x="338.4" y="1000.8"/><use href="#h" x="375.3" y="1000.8"/><use href="#h" x="320.0" y="1018.0"/><use href="#h" x="347.6" y="1018.0"/><use href="#h" x="366.1" y="1018.0"/><use href="#h" x="937.1" y="1018.0"/><use href="#h" x="292.4" y="1035.3"/><use href="#h" x="310.8" y="1035.3"/><use href="#h" x="329.2" y="1035.3"/><use href="#h" x="274.0" y="1052.6"/><use href="#h" x="320.0" y="1052.6"/><use href="#h" x="366.1" y="1052.6"/><use href="#h" x="872.6" y="1052.6"/><use href="#h" x="927.9" y="1052.6"/><use href="#h" x="845.0" y="1069.9"/><use href="#h" x="872.6" y="1069.9"/><use href="#h" x="881.8" y="1069.9"/><use href="#h" x="900.2" y="1069.9"/><use href="#h" x="375.3" y="1104.4"/><use href="#h" x="789.7" y="1104.4"/><use href="#h" x="826.6" y="1104.4"/><use href="#h" x="384.5" y="1121.7"/><use href="#h" x="393.7" y="1121.7"/><use href="#h" x="762.1" y="1121.7"/><use href="#h" x="789.7" y="1121.7"/><use href="#h" x="688.4" y="1138.9"/><use href="#h" x="734.5" y="1138.9"/><use href="#h" x="743.7" y="1138.9"/><use href="#h" x="366.1" y="1156.2"/><use href="#h" x="605.5" y="1156.2"/><use href="#h" x="366.1" y="1173.5"/><use href="#h" x="402.9" y="1173.5"/><use href="#h" x="550.3" y="1173.5"/><use href="#h" x="623.9" y="1173.5"/><use href="#h" x="679.2" y="1173.5"/><use href="#h" x="292.4" y="1190.8"/><use href="#h" x="384.5" y="1190.8"/><use href="#h" x="587.1" y="1190.8"/><use href="#h" x="651.6" y="1190.8"/><use href="#h" x="329.2" y="1208.0"/><use href="#h" x="559.5" y="1208.0"/><use href="#h" x="577.9" y="1208.0"/><use href="#h" x="485.8" y="1225.3"/><use href="#h" x="513.4" y="1242.6"/><use href="#h" x="495.0" y="1259.8"/><use href="#h" x="366.1" y="1277.1"/><use href="#h" x="439.8" y="1346.2"/><use href="#h" x="458.2" y="1346.2"/>
</g>
<g fill="#a72197" stroke="#a72197">
<use href="#h" x="467.4" y="551.8"/><use href="#h" x="771.3" y="551.8"/><use href="#h" x="817.4" y="551.8"/><use href="#h" x="283.2" y="569.0"/><use href="#h" x="320.0" y="569.0"/><use href="#h" x="421.3" y="569.0"/><use href="#h" x="449.0" y="569.0"/><use href="#h" x="495.0" y="569.0"/><use href="#h" x="596.3" y="569.0"/><use href="#h" x="716.0" y="569.0"/><use href="#h" x="808.1" y="569.0"/><use href="#h" x="955.5" y="569.0"/><use href="#h" x="964.7" y="569.0"/><use href="#h" x="458.2" y="586.3"/><use href="#h" x="541.1" y="586.3"/><use href="#h" x="623.9" y="586.3"/><use href="#h" x="798.9" y="586.3"/><use href="#h" x="872.6" y="586.3"/><use href="#h" x="1029.2" y="586.3"/><use href="#h" x="1038.4" y="586.3"/><use href="#h" x="1130.5" y="586.3"/><use href="#h" x="1158.1" y="586.3"/><use href="#h" x="1148.9" y="603.6"/><use href="#h" x="1158.1" y="603.6"/><use href="#h" x="264.8" y="862.6"/><use href="#h" x="283.2" y="966.2"/><use href="#h" x="292.4" y="966.2"/><use href="#h" x="347.6" y="966.2"/><use href="#h" x="1038.4" y="966.2"/><use href="#h" x="1084.5" y="966.2"/><use href="#h" x="283.2" y="983.5"/><use href="#h" x="347.6" y="983.5"/><use href="#h" x="1001.6" y="983.5"/><use href="#h" x="274.0" y="1000.8"/><use href="#h" x="1001.6" y="1000.8"/><use href="#h" x="310.8" y="1018.0"/><use href="#h" x="356.9" y="1018.0"/><use href="#h" x="909.5" y="1018.0"/><use href="#h" x="320.0" y="1035.3"/><use href="#h" x="393.7" y="1035.3"/><use href="#h" x="845.0" y="1035.3"/><use href="#h" x="329.2" y="1052.6"/><use href="#h" x="347.6" y="1052.6"/><use href="#h" x="356.9" y="1052.6"/><use href="#h" x="854.2" y="1052.6"/><use href="#h" x="338.4" y="1069.9"/><use href="#h" x="347.6" y="1069.9"/><use href="#h" x="310.8" y="1087.1"/><use href="#h" x="375.3" y="1087.1"/><use href="#h" x="541.1" y="1087.1"/><use href="#h" x="789.7" y="1087.1"/><use href="#h" x="817.4" y="1087.1"/><use href="#h" x="347.6" y="1104.4"/><use href="#h" x="356.9" y="1104.4"/><use href="#h" x="798.9" y="1104.4"/><use href="#h" x="808.1" y="1104.4"/><use href="#h" x="706.8" y="1121.7"/><use href="#h" x="366.1" y="1138.9"/><use href="#h" x="384.5" y="1138.9"/><use href="#h" x="633.2" y="1138.9"/><use href="#h" x="651.6" y="1138.9"/><use href="#h" x="384.5" y="1156.2"/><use href="#h" x="577.9" y="1173.5"/><use href="#h" x="393.7" y="1190.8"/><use href="#h" x="485.8" y="1190.8"/><use href="#h" x="568.7" y="1190.8"/><use href="#h" x="375.3" y="1208.0"/><use href="#h" x="412.1" y="1208.0"/><use href="#h" x="504.2" y="1208.0"/><use href="#h" x="605.5" y="1208.0"/><use href="#h" x="393.7" y="1259.8"/><use href="#h" x="476.6" y="1311.6"/><use href="#h" x="430.5" y="1328.9"/><use href="#h" x="430.5" y="1346.2"/><use href="#h" x="467.4" y="1346.2"/>
</g>
<g fill="#b52f8c" stroke="#b52f8c">
<use href="#h" x="439.8" y="569.0"/><use href="#h" x="458.2" y="569.0"/><use href="#h" x="623.9" y="569.0"/><use href="#h" x="660.8" y="569.0"/><use href="#h" x="670.0" y="569.0"/><use href="#h" x="725.3" y="569.0"/><use href="#h" x="826.6" y="569.0"/><use href="#h" x="854.2" y="569.0"/><use href="#h" x="891.0" y="569.0"/><use href="#h" x="927.9" y="569.0"/><use href="#h" x="347.6" y="586.3"/><use href="#h" x="393.7" y="586.3"/><use href="#h" x="513.4" y="586.3"/><use href="#h" x="531.9" y="586.3"/><use href="#h" x="577.9" y="586.3"/><use href="#h" x="605.5" y="586.3"/><use href="#h" x="697.6" y="586.3"/><use href="#h" x="752.9" y="586.3"/><use href="#h" x="780.5" y="586.3"/><use href="#h" x="973.9" y="586.3"/><use href="#h" x="1093.7" y="586.3"/><use href="#h" x="1112.1" y="586.3"/><use href="#h" x="1047.6" y="603.6"/><use href="#h" x="1176.6" y="603.6"/><use href="#h" x="264.8" y="672.7"/><use href="#h" x="264.8" y="689.9"/><use href="#h" x="264.8" y="741.7"/><use href="#h" x="264.8" y="845.4"/><use href="#h" x="274.0" y="931.7"/><use href="#h" x="1038.4" y="931.7"/><use href="#h" x="1130.5" y="931.7"/><use href="#h" x="1167.3" y="931.7"/><use href="#h" x="283.2" y="949.0"/><use href="#h" x="1075.2" y="949.0"/><use href="#h" x="338.4" y="966.2"/><use href="#h" x="973.9" y="983.5"/><use href="#h" x="292.4" y="1000.8"/><use href="#h" x="973.9" y="1000.8"/><use href="#h" x="301.6" y="1018.0"/><use href="#h" x="329.2" y="1018.0"/><use href="#h" x="872.6" y="1035.3"/><use href="#h" x="283.2" y="1052.6"/><use href="#h" x="384.5" y="1052.6"/><use href="#h" x="845.0" y="1052.6"/><use href="#h" x="835.8" y="1069.9"/><use href="#h" x="366.1" y="1104.4"/><use href="#h" x="605.5" y="1104.4"/><use href="#h" x="651.6" y="1121.7"/><use href="#h" x="660.8" y="1121.7"/><use href="#h" x="743.7" y="1121.7"/><use href="#h" x="347.6" y="1138.9"/><use href="#h" x="504.2" y="1173.5"/><use href="#h" x="541.1" y="1173.5"/><use href="#h" x="559.5" y="1173.5"/><use href="#h" x="421.3" y="1225.3"/><use href="#h" x="541.1" y="1259.8"/><use href="#h" x="393.7" y="1277.1"/><use href="#h" x="439.8" y="1277.1"/><use href="#h" x="458.2" y="1294.4"/><use href="#h" x="449.0" y="1311.6"/>
</g>
<g fill="#c03a83" stroke="#c03a83">
<use href="#h" x="485.8" y="569.0"/><use href="#h" x="918.7" y="569.0"/><use href="#h" x="320.0" y="586.3"/><use href="#h" x="356.9" y="586.3"/><use href="#h" x="366.1" y="586.3"/><use href="#h" x="430.5" y="586.3"/><use href="#h" x="495.0" y="586.3"/><use href="#h" x="596.3" y="586.3"/><use href="#h" x="688.4" y="586.3"/><use href="#h" x="743.7" y="586.3"/><use href="#h" x="762.1" y="586.3"/><use href="#h" x="826.6" y="586.3"/><use href="#h" x="845.0" y="586.3"/><use href="#h" x="1056.8" y="586.3"/><use href="#h" x="347.6" y="603.6"/><use href="#h" x="366.1" y="603.6"/><use href="#h" x="384.5" y="603.6"/><use href="#h" x="1139.7" y="603.6"/><use href="#h" x="264.8" y="759.0"/><use href="#h" x="264.8" y="879.9"/><use href="#h" x="1185.8" y="897.2"/><use href="#h" x="320.0" y="914.4"/><use href="#h" x="274.0" y="966.2"/><use href="#h" x="301.6" y="966.2"/><use href="#h" x="393.7" y="966.2"/><use href="#h" x="1056.8" y="966.2"/><use href="#h" x="329.2" y="983.5"/><use href="#h" x="356.9" y="983.5"/><use href="#h" x="366.1" y="983.5"/><use href="#h" x="937.1" y="983.5"/><use href="#h" x="891.0" y="1018.0"/><use href="#h" x="955.5" y="1018.0"/><use href="#h" x="854.2" y="1035.3"/><use href="#h" x="900.2" y="1035.3"/><use href="#h" x="881.8" y="1052.6"/><use href="#h" x="384.5" y="1087.1"/><use href="#h" x="402.9" y="1087.1"/><use href="#h" x="577.9" y="1087.1"/><use href="#h" x="587.1" y="1104.4"/><use href="#h" x="614.7" y="1104.4"/><use href="#h" x="375.3" y="1121.7"/><use href="#h" x="476.6" y="1138.9"/><use href="#h" x="513.4" y="1138.9"/><use href="#h" x="577.9" y="1138.9"/><use href="#h" x="725.3" y="1138.9"/><use href="#h" x="495.0" y="1156.2"/><use href="#h" x="421.3" y="1173.5"/><use href="#h" x="495.0" y="1173.5"/><use href="#h" x="513.4" y="1173.5"/><use href="#h" x="412.1" y="1190.8"/><use href="#h" x="495.0" y="1190.8"/><use href="#h" x="476.6" y="1208.0"/><use href="#h" x="495.0" y="1208.0"/><use href="#h" x="458.2" y="1259.8"/><use href="#h" x="430.5" y="1294.4"/>
</g>
<g fill="#ae2892" stroke="#ae2892">
<use href="#h" x="550.3" y="569.0"/><use href="#h" x="577.9" y="569.0"/><use href="#h" x="605.5" y="569.0"/><use href="#h" x="633.2" y="569.0"/><use href="#h" x="734.5" y="569.0"/><use href="#h" x="817.4" y="569.0"/><use href="#h" x="872.6" y="569.0"/><use href="#h" x="909.5" y="569.0"/><use href="#h" x="1130.5" y="569.0"/><use href="#h" x="338.4" y="586.3"/><use href="#h" x="614.7" y="586.3"/><use href="#h" x="651.6" y="586.3"/><use href="#h" x="817.4" y="586.3"/><use href="#h" x="854.2" y="586.3"/><use href="#h" x="863.4" y="586.3"/><use href="#h" x="881.8" y="586.3"/><use href="#h" x="955.5" y="586.3"/><use href="#h" x="1075.2" y="586.3"/><use href="#h" x="1084.5" y="586.3"/><use href="#h" x="1102.9" y="586.3"/><use href="#h" x="1148.9" y="586.3"/><use href="#h" x="559.5" y="603.6"/><use href="#h" x="1185.8" y="620.8"/><use href="#h" x="356.9" y="949.0"/><use href="#h" x="1029.2" y="949.0"/><use href="#h" x="1038.4" y="949.0"/><use href="#h" x="1056.8" y="949.0"/><use href="#h" x="1139.7" y="949.0"/><use href="#h" x="320.0" y="966.2"/><use href="#h" x="937.1" y="966.2"/><use href="#h" x="274.0" y="983.5"/><use href="#h" x="310.8" y="983.5"/><use href="#h" x="320.0" y="983.5"/><use href="#h" x="955.5" y="983.5"/><use href="#h" x="1121.3" y="983.5"/><use href="#h" x="329.2" y="1000.8"/><use href="#h" x="384.5" y="1000.8"/><use href="#h" x="946.3" y="1000.8"/><use href="#h" x="375.3" y="1018.0"/><use href="#h" x="301.6" y="1035.3"/><use href="#h" x="366.1" y="1035.3"/><use href="#h" x="384.5" y="1035.3"/><use href="#h" x="927.9" y="1035.3"/><use href="#h" x="891.0" y="1052.6"/><use href="#h" x="485.8" y="1069.9"/><use href="#h" x="771.3" y="1087.1"/><use href="#h" x="798.9" y="1087.1"/><use href="#h" x="845.0" y="1087.1"/><use href="#h" x="762.1" y="1104.4"/><use href="#h" x="670.0" y="1121.7"/><use href="#h" x="375.3" y="1138.9"/><use href="#h" x="596.3" y="1138.9"/><use href="#h" x="605.5" y="1138.9"/><use href="#h" x="706.8" y="1138.9"/><use href="#h" x="706.8" y="1156.2"/><use href="#h" x="568.7" y="1173.5"/><use href="#h" x="541.1" y="1190.8"/><use href="#h" x="513.4" y="1208.0"/><use href="#h" x="522.6" y="1208.0"/><use href="#h" x="495.0" y="1225.3"/><use href="#h" x="504.2" y="1225.3"/><use href="#h" x="513.4" y="1225.3"/><use href="#h" x="402.9" y="1242.6"/><use href="#h" x="485.8" y="1242.6"/><use href="#h" x="504.2" y="1242.6"/><use href="#h" x="384.5" y="1259.8"/><use href="#h" x="402.9" y="1259.8"/><use href="#h" x="412.1" y="1277.1"/><use href="#h" x="439.8" y="1294.4"/><use href="#h" x="467.4" y="1294.4"/><use href="#h" x="458.2" y="1311.6"/><use href="#h" x="449.0" y="1328.9"/><use href="#h" x="449.0" y="1346.2"/>
</g>
<g fill="#bb3488" stroke="#bb3488">
<use href="#h" x="642.4" y="569.0"/><use href="#h" x="679.2" y="569.0"/><use href="#h" x="900.2" y="569.0"/><use href="#h" x="992.4" y="569.0"/><use href="#h" x="1139.7" y="569.0"/><use href="#h" x="301.6" y="586.3"/><use href="#h" x="485.8" y="586.3"/><use href="#h" x="559.5" y="586.3"/><use href="#h" x="660.8" y="586.3"/><use href="#h" x="716.0" y="586.3"/><use href="#h" x="789.7" y="586.3"/><use href="#h" x="808.1" y="586.3"/><use href="#h" x="946.3" y="586.3"/><use href="#h" x="1066.0" y="586.3"/><use href="#h" x="1121.3" y="586.3"/><use href="#h" x="577.9" y="603.6"/><use href="#h" x="1185.8" y="603.6"/><use href="#h" x="310.8" y="914.4"/><use href="#h" x="264.8" y="931.7"/><use href="#h" x="301.6" y="931.7"/><use href="#h" x="1093.7" y="931.7"/><use href="#h" x="1102.9" y="931.7"/><use href="#h" x="1148.9" y="931.7"/><use href="#h" x="320.0" y="949.0"/><use href="#h" x="329.2" y="949.0"/><use href="#h" x="338.4" y="949.0"/><use href="#h" x="1047.6" y="949.0"/><use href="#h" x="1066.0" y="949.0"/><use href="#h" x="1093.7" y="949.0"/><use href="#h" x="1148.9" y="949.0"/><use href="#h" x="375.3" y="966.2"/><use href="#h" x="946.3" y="966.2"/><use href="#h" x="1010.8" y="966.2"/><use href="#h" x="356.9" y="1000.8"/><use href="#h" x="356.9" y="1035.3"/><use href="#h" x="375.3" y="1052.6"/><use href="#h" x="393.7" y="1052.6"/><use href="#h" x="384.5" y="1069.9"/><use href="#h" x="384.5" y="1104.4"/><use href="#h" x="402.9" y="1121.7"/><use href="#h" x="716.0" y="1121.7"/><use href="#h" x="771.3" y="1121.7"/><use href="#h" x="412.1" y="1138.9"/><use href="#h" x="587.1" y="1138.9"/><use href="#h" x="393.7" y="1156.2"/><use href="#h" x="504.2" y="1156.2"/><use href="#h" x="550.3" y="1156.2"/><use href="#h" x="568.7" y="1156.2"/><use href="#h" x="577.9" y="1156.2"/><use href="#h" x="614.7" y="1156.2"/><use href="#h" x="393.7" y="1173.5"/><use href="#h" x="412.1" y="1173.5"/><use href="#h" x="421.3" y="1190.8"/><use href="#h" x="513.4" y="1190.8"/><use href="#h" x="605.5" y="1190.8"/><use href="#h" x="412.1" y="1242.6"/><use href="#h" x="430.5" y="1242.6"/><use href="#h" x="495.0" y="1242.6"/><use href="#h" x="430.5" y="1311.6"/><use href="#h" x="467.4" y="1311.6"/>
</g>
<g fill="#d14e72" stroke="#d14e72">
<use href="#h" x="697.6" y="569.0"/><use href="#h" x="292.4" y="586.3"/><use href="#h" x="642.4" y="586.3"/><use href="#h" x="421.3" y="603.6"/><use href="#h" x="522.6" y="603.6"/><use href="#h" x="550.3" y="603.6"/><use href="#h" x="633.2" y="603.6"/><use href="#h" x="798.9" y="603.6"/><use href="#h" x="891.0" y="603.6"/><use href="#h" x="955.5" y="603.6"/><use href="#h" x="1020.0" y="603.6"/><use href="#h" x="1038.4" y="603.6"/><use href="#h" x="329.2" y="620.8"/><use href="#h" x="531.9" y="620.8"/><use href="#h" x="1185.8" y="862.6"/><use href="#h" x="310.8" y="897.2"/><use href="#h" x="1038.4" y="914.4"/><use href="#h" x="310.8" y="931.7"/><use href="#h" x="338.4" y="931.7"/><use href="#h" x="1084.5" y="931.7"/><use href="#h" x="1139.7" y="931.7"/><use href="#h" x="301.6" y="949.0"/><use href="#h" x="1010.8" y="949.0"/><use href="#h" x="1020.0" y="949.0"/><use href="#h" x="329.2" y="966.2"/><use href="#h" x="872.6" y="983.5"/><use href="#h" x="384.5" y="1018.0"/><use href="#h" x="568.7" y="1018.0"/><use href="#h" x="504.2" y="1035.3"/><use href="#h" x="550.3" y="1035.3"/><use href="#h" x="771.3" y="1035.3"/><use href="#h" x="476.6" y="1052.6"/><use href="#h" x="623.9" y="1069.9"/><use href="#h" x="771.3" y="1069.9"/><use href="#h" x="798.9" y="1069.9"/><use href="#h" x="679.2" y="1087.1"/><use href="#h" x="725.3" y="1087.1"/><use href="#h" x="485.8" y="1104.4"/><use href="#h" x="568.7" y="1104.4"/><use href="#h" x="651.6" y="1104.4"/><use href="#h" x="743.7" y="1104.4"/><use href="#h" x="485.8" y="1121.7"/><use href="#h" x="402.9" y="1190.8"/>
</g>
<g fill="#ce4b75" stroke="#ce4b75">
<use href="#h" x="274.0" y="586.3"/><use href="#h" x="375.3" y="586.3"/><use href="#h" x="439.8" y="586.3"/><use href="#h" x="587.1" y="586.3"/><use href="#h" x="725.3" y="586.3"/><use href="#h" x="891.0" y="586.3"/><use href="#h" x="909.5" y="586.3"/><use href="#h" x="283.2" y="603.6"/><use href="#h" x="476.6" y="603.6"/><use href="#h" x="541.1" y="603.6"/><use href="#h" x="1066.0" y="603.6"/><use href="#h" x="1029.2" y="620.8"/><use href="#h" x="1102.9" y="620.8"/><use href="#h" x="264.8" y="707.2"/><use href="#h" x="264.8" y="828.1"/><use href="#h" x="274.0" y="879.9"/><use href="#h" x="1185.8" y="879.9"/><use href="#h" x="292.4" y="897.2"/><use href="#h" x="375.3" y="914.4"/><use href="#h" x="1158.1" y="914.4"/><use href="#h" x="1176.6" y="914.4"/><use href="#h" x="283.2" y="931.7"/><use href="#h" x="292.4" y="931.7"/><use href="#h" x="1056.8" y="931.7"/><use href="#h" x="292.4" y="949.0"/><use href="#h" x="955.5" y="949.0"/><use href="#h" x="946.3" y="983.5"/><use href="#h" x="891.0" y="1000.8"/><use href="#h" x="881.8" y="1018.0"/><use href="#h" x="633.2" y="1035.3"/><use href="#h" x="891.0" y="1035.3"/><use href="#h" x="531.9" y="1069.9"/><use href="#h" x="826.6" y="1069.9"/><use href="#h" x="568.7" y="1087.1"/><use href="#h" x="412.1" y="1104.4"/><use href="#h" x="513.4" y="1104.4"/><use href="#h" x="531.9" y="1104.4"/><use href="#h" x="577.9" y="1104.4"/><use href="#h" x="697.6" y="1104.4"/><use href="#h" x="421.3" y="1121.7"/><use href="#h" x="550.3" y="1121.7"/><use href="#h" x="550.3" y="1138.9"/><use href="#h" x="513.4" y="1156.2"/><use href="#h" x="476.6" y="1190.8"/><use href="#h" x="421.3" y="1208.0"/><use href="#h" x="412.1" y="1225.3"/><use href="#h" x="439.8" y="1259.8"/><use href="#h" x="467.4" y="1277.1"/><use href="#h" x="439.8" y="1311.6"/>
</g>
<g fill="#cc4778" stroke="#cc4778">
<use href="#h" x="329.2" y="586.3"/><use href="#h" x="402.9" y="586.3"/><use href="#h" x="412.1" y="586.3"/><use href="#h" x="679.2" y="586.3"/><use href="#h" x="835.8" y="586.3"/><use href="#h" x="393.7" y="603.6"/><use href="#h" x="504.2" y="603.6"/><use href="#h" x="568.7" y="603.6"/><use href="#h" x="937.1" y="603.6"/><use href="#h" x="1029.2" y="603.6"/><use href="#h" x="1084.5" y="603.6"/><use href="#h" x="1102.9" y="603.6"/><use href="#h" x="1010.8" y="620.8"/><use href="#h" x="1084.5" y="620.8"/><use href="#h" x="264.8" y="810.8"/><use href="#h" x="1176.6" y="897.2"/><use href="#h" x="356.9" y="914.4"/><use href="#h" x="366.1" y="914.4"/><use href="#h" x="1029.2" y="914.4"/><use href="#h" x="329.2" y="931.7"/><use href="#h" x="366.1" y="931.7"/><use href="#h" x="375.3" y="931.7"/><use href="#h" x="366.1" y="949.0"/><use href="#h" x="375.3" y="949.0"/><use href="#h" x="1084.5" y="949.0"/><use href="#h" x="310.8" y="966.2"/><use href="#h" x="356.9" y="966.2"/><use href="#h" x="992.4" y="966.2"/><use href="#h" x="393.7" y="983.5"/><use href="#h" x="872.6" y="1000.8"/><use href="#h" x="881.8" y="1000.8"/><use href="#h" x="421.3" y="1052.6"/><use href="#h" x="522.6" y="1052.6"/><use href="#h" x="762.1" y="1052.6"/><use href="#h" x="780.5" y="1087.1"/><use href="#h" x="826.6" y="1087.1"/><use href="#h" x="402.9" y="1104.4"/><use href="#h" x="734.5" y="1104.4"/><use href="#h" x="614.7" y="1121.7"/><use href="#h" x="495.0" y="1138.9"/><use href="#h" x="522.6" y="1156.2"/><use href="#h" x="485.8" y="1173.5"/><use href="#h" x="485.8" y="1208.0"/><use href="#h" x="449.0" y="1242.6"/>
</g>
<g fill="#c8437b" stroke="#c8437b">
<use href="#h" x="421.3" y="586.3"/><use href="#h" x="918.7" y="586.3"/><use href="#h" x="375.3" y="603.6"/><use href="#h" x="412.1" y="603.6"/><use href="#h" x="771.3" y="603.6"/><use href="#h" x="927.9" y="603.6"/><use href="#h" x="964.7" y="603.6"/><use href="#h" x="973.9" y="603.6"/><use href="#h" x="1010.8" y="603.6"/><use href="#h" x="1093.7" y="603.6"/><use href="#h" x="1121.3" y="603.6"/><use href="#h" x="264.8" y="793.5"/><use href="#h" x="338.4" y="897.2"/><use href="#h" x="347.6" y="914.4"/><use href="#h" x="1047.6" y="914.4"/><use href="#h" x="1112.1" y="914.4"/><use href="#h" x="1148.9" y="914.4"/><use href="#h" x="1066.0" y="931.7"/><use href="#h" x="1075.2" y="931.7"/><use href="#h" x="347.6" y="949.0"/><use href="#h" x="1121.3" y="949.0"/><use href="#h" x="1130.5" y="949.0"/><use href="#h" x="412.1" y="966.2"/><use href="#h" x="338.4" y="983.5"/><use href="#h" x="384.5" y="983.5"/><use href="#h" x="310.8" y="1000.8"/><use href="#h" x="900.2" y="1018.0"/><use href="#h" x="881.8" y="1035.3"/><use href="#h" x="587.1" y="1087.1"/><use href="#h" x="393.7" y="1104.4"/><use href="#h" x="752.9" y="1104.4"/><use href="#h" x="780.5" y="1104.4"/><use href="#h" x="752.9" y="1121.7"/><use href="#h" x="402.9" y="1156.2"/><use href="#h" x="412.1" y="1156.2"/><use href="#h" x="476.6" y="1156.2"/><use href="#h" x="485.8" y="1156.2"/><use href="#h" x="596.3" y="1156.2"/><use href="#h" x="402.9" y="1208.0"/><use href="#h" x="430.5" y="1277.1"/><use href="#h" x="449.0" y="1294.4"/>
</g>
<g fill="#c43e7f" stroke="#c43e7f">
<use href="#h" x="449.0" y="586.3"/><use href="#h" x="467.4" y="586.3"/><use href="#h" x="633.2" y="586.3"/><use href="#h" x="670.0" y="586.3"/><use href="#h" x="900.2" y="586.3"/><use href="#h" x="927.9" y="586.3"/><use href="#h" x="992.4" y="586.3"/><use href="#h" x="1001.6" y="586.3"/><use href="#h" x="863.4" y="603.6"/><use href="#h" x="1112.1" y="603.6"/><use href="#h" x="1185.8" y="828.1"/><use href="#h" x="274.0" y="914.4"/><use href="#h" x="283.2" y="914.4"/><use href="#h" x="356.9" y="931.7"/><use href="#h" x="1020.0" y="931.7"/><use href="#h" x="274.0" y="949.0"/><use href="#h" x="310.8" y="949.0"/><use href="#h" x="384.5" y="949.0"/><use href="#h" x="366.1" y="966.2"/><use href="#h" x="402.9" y="966.2"/><use href="#h" x="992.4" y="983.5"/><use href="#h" x="964.7" y="1000.8"/><use href="#h" x="863.4" y="1018.0"/><use href="#h" x="927.9" y="1018.0"/><use href="#h" x="375.3" y="1035.3"/><use href="#h" x="918.7" y="1035.3"/><use href="#h" x="375.3" y="1069.9"/><use href="#h" x="393.7" y="1069.9"/><use href="#h" x="743.7" y="1069.9"/><use href="#h" x="780.5" y="1069.9"/><use href="#h" x="393.7" y="1087.1"/><use href="#h" x="531.9" y="1087.1"/><use href="#h" x="808.1" y="1087.1"/><use href="#h" x="522.6" y="1104.4"/><use href="#h" x="642.4" y="1104.4"/><use href="#h" x="725.3" y="1104.4"/><use href="#h" x="412.1" y="1121.7"/><use href="#h" x="531.9" y="1121.7"/><use href="#h" x="577.9" y="1121.7"/><use href="#h" x="587.1" y="1121.7"/><use href="#h" x="633.2" y="1121.7"/><use href="#h" x="688.4" y="1121.7"/><use href="#h" x="734.5" y="1121.7"/><use href="#h" x="485.8" y="1138.9"/><use href="#h" x="541.1" y="1138.9"/><use href="#h" x="559.5" y="1138.9"/><use href="#h" x="568.7" y="1138.9"/><use href="#h" x="623.9" y="1138.9"/><use href="#h" x="642.4" y="1138.9"/><use href="#h" x="559.5" y="1156.2"/><use href="#h" x="587.1" y="1156.2"/><use href="#h" x="504.2" y="1190.8"/><use href="#h" x="402.9" y="1225.3"/><use href="#h" x="476.6" y="1242.6"/>
</g>
<g fill="#d8576b" stroke="#d8576b">
<use href="#h" x="771.3" y="586.3"/><use href="#h" x="338.4" y="603.6"/><use href="#h" x="531.9" y="603.6"/><use href="#h" x="679.2" y="603.6"/><use href="#h" x="706.8" y="603.6"/><use href="#h" x="716.0" y="603.6"/><use href="#h" x="789.7" y="603.6"/><use href="#h" x="918.7" y="603.6"/><use href="#h" x="1075.2" y="603.6"/><use href="#h" x="375.3" y="620.8"/><use href="#h" x="872.6" y="620.8"/><use href="#h" x="937.1" y="620.8"/><use href="#h" x="1139.7" y="620.8"/><use href="#h" x="1148.9" y="620.8"/><use href="#h" x="1176.6" y="620.8"/><use href="#h" x="1185.8" y="638.1"/><use href="#h" x="264.8" y="724.5"/><use href="#h" x="301.6" y="897.2"/><use href="#h" x="320.0" y="897.2"/><use href="#h" x="375.3" y="897.2"/><use href="#h" x="301.6" y="914.4"/><use href="#h" x="320.0" y="931.7"/><use href="#h" x="347.6" y="931.7"/><use href="#h" x="1010.8" y="931.7"/><use href="#h" x="587.1" y="966.2"/><use href="#h" x="983.1" y="966.2"/><use href="#h" x="531.9" y="1000.8"/><use href="#h" x="927.9" y="1000.8"/><use href="#h" x="522.6" y="1035.3"/><use href="#h" x="485.8" y="1052.6"/><use href="#h" x="531.9" y="1052.6"/><use href="#h" x="651.6" y="1052.6"/><use href="#h" x="817.4" y="1052.6"/><use href="#h" x="412.1" y="1069.9"/><use href="#h" x="587.1" y="1069.9"/><use href="#h" x="716.0" y="1069.9"/><use href="#h" x="789.7" y="1069.9"/><use href="#h" x="485.8" y="1087.1"/><use href="#h" x="752.9" y="1087.1"/><use href="#h" x="495.0" y="1104.4"/><use href="#h" x="504.2" y="1104.4"/><use href="#h" x="559.5" y="1104.4"/><use href="#h" x="706.8" y="1104.4"/><use href="#h" x="596.3" y="1121.7"/><use href="#h" x="439.8" y="1190.8"/><use href="#h" x="430.5" y="1225.3"/><use href="#h" x="439.8" y="1225.3"/>
</g>
<g fill="#da5b69" stroke="#da5b69">
<use href="#h" x="274.0" y="603.6"/><use href="#h" x="301.6" y="603.6"/><use href="#h" x="587.1" y="603.6"/><use href="#h" x="596.3" y="603.6"/><use href="#h" x="651.6" y="603.6"/><use href="#h" x="734.5" y="603.6"/><use href="#h" x="780.5" y="603.6"/><use href="#h" x="826.6" y="603.6"/><use href="#h" x="881.8" y="603.6"/><use href="#h" x="1056.8" y="603.6"/><use href="#h" x="347.6" y="620.8"/><use href="#h" x="605.5" y="620.8"/><use href="#h" x="1167.3" y="620.8"/><use href="#h" x="1029.2" y="638.1"/><use href="#h" x="264.8" y="776.3"/><use href="#h" x="338.4" y="879.9"/><use href="#h" x="274.0" y="897.2"/><use href="#h" x="283.2" y="897.2"/><use href="#h" x="1047.6" y="897.2"/><use href="#h" x="292.4" y="914.4"/><use href="#h" x="1056.8" y="914.4"/><use href="#h" x="1084.5" y="914.4"/><use href="#h" x="1102.9" y="914.4"/><use href="#h" x="955.5" y="931.7"/><use href="#h" x="973.9" y="949.0"/><use href="#h" x="863.4" y="983.5"/><use href="#h" x="983.1" y="983.5"/><use href="#h" x="541.1" y="1000.8"/><use href="#h" x="421.3" y="1035.3"/><use href="#h" x="495.0" y="1035.3"/><use href="#h" x="559.5" y="1035.3"/><use href="#h" x="577.9" y="1035.3"/><use href="#h" x="863.4" y="1035.3"/><use href="#h" x="504.2" y="1052.6"/><use href="#h" x="559.5" y="1052.6"/><use href="#h" x="605.5" y="1052.6"/><use href="#h" x="623.9" y="1052.6"/><use href="#h" x="725.3" y="1052.6"/><use href="#h" x="826.6" y="1052.6"/><use href="#h" x="835.8" y="1052.6"/><use href="#h" x="596.3" y="1069.9"/><use href="#h" x="513.4" y="1087.1"/><use href="#h" x="706.8" y="1087.1"/><use href="#h" x="504.2" y="1121.7"/><use href="#h" x="642.4" y="1121.7"/><use href="#h" x="725.3" y="1121.7"/><use href="#h" x="458.2" y="1242.6"/>
</g>
<g fill="#d6556d" stroke="#d6556d">
<use href="#h" x="292.4" y="603.6"/><use href="#h" x="485.8" y="603.6"/><use href="#h" x="495.0" y="603.6"/><use href="#h" x="605.5" y="603.6"/><use href="#h" x="762.1" y="603.6"/><use href="#h" x="808.1" y="603.6"/><use href="#h" x="835.8" y="603.6"/><use href="#h" x="845.0" y="603.6"/><use href="#h" x="909.5" y="603.6"/><use href="#h" x="983.1" y="603.6"/><use href="#h" x="1130.5" y="603.6"/><use href="#h" x="310.8" y="620.8"/><use href="#h" x="356.9" y="620.8"/><use href="#h" x="1056.8" y="620.8"/><use href="#h" x="329.2" y="914.4"/><use href="#h" x="384.5" y="914.4"/><use href="#h" x="1130.5" y="914.4"/><use href="#h" x="1139.7" y="914.4"/><use href="#h" x="1047.6" y="931.7"/><use href="#h" x="937.1" y="949.0"/><use href="#h" x="476.6" y="983.5"/><use href="#h" x="531.9" y="983.5"/><use href="#h" x="393.7" y="1000.8"/><use href="#h" x="900.2" y="1000.8"/><use href="#h" x="402.9" y="1018.0"/><use href="#h" x="918.7" y="1018.0"/><use href="#h" x="402.9" y="1035.3"/><use href="#h" x="541.1" y="1035.3"/><use href="#h" x="587.1" y="1035.3"/><use href="#h" x="412.1" y="1052.6"/><use href="#h" x="550.3" y="1052.6"/><use href="#h" x="789.7" y="1052.6"/><use href="#h" x="513.4" y="1069.9"/><use href="#h" x="522.6" y="1069.9"/><use href="#h" x="550.3" y="1069.9"/><use href="#h" x="559.5" y="1069.9"/><use href="#h" x="633.2" y="1069.9"/><use href="#h" x="752.9" y="1069.9"/><use href="#h" x="817.4" y="1069.9"/><use href="#h" x="421.3" y="1087.1"/><use href="#h" x="642.4" y="1087.1"/><use href="#h" x="541.1" y="1104.4"/><use href="#h" x="771.3" y="1104.4"/><use href="#h" x="476.6" y="1121.7"/><use href="#h" x="513.4" y="1121.7"/><use href="#h" x="541.1" y="1121.7"/><use href="#h" x="623.9" y="1121.7"/><use href="#h" x="421.3" y="1138.9"/><use href="#h" x="467.4" y="1138.9"/><use href="#h" x="504.2" y="1138.9"/><use href="#h" x="467.4" y="1225.3"/>
</g>
<g fill="#d45270" stroke="#d45270">
<use href="#h" x="310.8" y="603.6"/><use href="#h" x="329.2" y="603.6"/><use href="#h" x="356.9" y="603.6"/><use href="#h" x="402.9" y="603.6"/><use href="#h" x="439.8" y="603.6"/><use href="#h" x="513.4" y="603.6"/><use href="#h" x="660.8" y="603.6"/><use href="#h" x="725.3" y="603.6"/><use href="#h" x="743.7" y="603.6"/><use href="#h" x="900.2" y="603.6"/><use href="#h" x="946.3" y="603.6"/><use href="#h" x="283.2" y="620.8"/><use href="#h" x="1066.0" y="620.8"/><use href="#h" x="1075.2" y="620.8"/><use href="#h" x="1093.7" y="620.8"/><use href="#h" x="283.2" y="879.9"/><use href="#h" x="356.9" y="897.2"/><use href="#h" x="1066.0" y="914.4"/><use href="#h" x="1167.3" y="914.4"/><use href="#h" x="937.1" y="931.7"/><use href="#h" x="1121.3" y="931.7"/><use href="#h" x="946.3" y="949.0"/><use href="#h" x="955.5" y="966.2"/><use href="#h" x="421.3" y="1000.8"/><use href="#h" x="476.6" y="1018.0"/><use href="#h" x="845.0" y="1018.0"/><use href="#h" x="633.2" y="1052.6"/><use href="#h" x="402.9" y="1069.9"/><use href="#h" x="577.9" y="1069.9"/><use href="#h" x="808.1" y="1069.9"/><use href="#h" x="412.1" y="1087.1"/><use href="#h" x="476.6" y="1087.1"/><use href="#h" x="522.6" y="1087.1"/><use href="#h" x="550.3" y="1087.1"/><use href="#h" x="559.5" y="1087.1"/><use href="#h" x="623.9" y="1087.1"/><use href="#h" x="633.2" y="1087.1"/><use href="#h" x="743.7" y="1087.1"/><use href="#h" x="623.9" y="1104.4"/><use href="#h" x="670.0" y="1104.4"/><use href="#h" x="568.7" y="1121.7"/><use href="#h" x="605.5" y="1121.7"/><use href="#h" x="697.6" y="1121.7"/><use href="#h" x="402.9" y="1138.9"/><use href="#h" x="522.6" y="1138.9"/><use href="#h" x="467.4" y="1259.8"/><use href="#h" x="449.0" y="1277.1"/><use href="#h" x="458.2" y="1277.1"/>
</g>
<g fill="#de5f65" stroke="#de5f65">
<use href="#h" x="320.0" y="603.6"/><use href="#h" x="430.5" y="603.6"/><use href="#h" x="688.4" y="603.6"/><use href="#h" x="697.6" y="603.6"/><use href="#h" x="1001.6" y="603.6"/><use href="#h" x="412.1" y="620.8"/><use href="#h" x="1038.4" y="620.8"/><use href="#h" x="347.6" y="897.2"/><use href="#h" x="366.1" y="897.2"/><use href="#h" x="1038.4" y="897.2"/><use href="#h" x="1093.7" y="914.4"/><use href="#h" x="522.6" y="931.7"/><use href="#h" x="973.9" y="966.2"/><use href="#h" x="541.1" y="983.5"/><use href="#h" x="568.7" y="983.5"/><use href="#h" x="402.9" y="1000.8"/><use href="#h" x="522.6" y="1000.8"/><use href="#h" x="845.0" y="1000.8"/><use href="#h" x="541.1" y="1018.0"/><use href="#h" x="559.5" y="1018.0"/><use href="#h" x="872.6" y="1018.0"/><use href="#h" x="531.9" y="1035.3"/><use href="#h" x="771.3" y="1052.6"/><use href="#h" x="670.0" y="1069.9"/><use href="#h" x="679.2" y="1069.9"/><use href="#h" x="504.2" y="1087.1"/><use href="#h" x="605.5" y="1087.1"/><use href="#h" x="421.3" y="1104.4"/><use href="#h" x="596.3" y="1104.4"/><use href="#h" x="495.0" y="1121.7"/><use href="#h" x="430.5" y="1156.2"/><use href="#h" x="430.5" y="1190.8"/>
</g>
<g fill="#e26561" stroke="#e26561">
<use href="#h" x="449.0" y="603.6"/><use href="#h" x="817.4" y="603.6"/><use href="#h" x="476.6" y="620.8"/><use href="#h" x="771.3" y="620.8"/><use href="#h" x="780.5" y="620.8"/><use href="#h" x="1112.1" y="620.8"/><use href="#h" x="1158.1" y="620.8"/><use href="#h" x="1185.8" y="672.7"/><use href="#h" x="310.8" y="879.9"/><use href="#h" x="384.5" y="879.9"/><use href="#h" x="1148.9" y="879.9"/><use href="#h" x="329.2" y="897.2"/><use href="#h" x="1167.3" y="897.2"/><use href="#h" x="338.4" y="914.4"/><use href="#h" x="1075.2" y="914.4"/><use href="#h" x="412.1" y="931.7"/><use href="#h" x="550.3" y="949.0"/><use href="#h" x="845.0" y="966.2"/><use href="#h" x="476.6" y="1000.8"/><use href="#h" x="577.9" y="1000.8"/><use href="#h" x="522.6" y="1018.0"/><use href="#h" x="550.3" y="1018.0"/><use href="#h" x="568.7" y="1035.3"/><use href="#h" x="605.5" y="1035.3"/><use href="#h" x="402.9" y="1052.6"/><use href="#h" x="541.1" y="1052.6"/><use href="#h" x="614.7" y="1052.6"/><use href="#h" x="541.1" y="1069.9"/><use href="#h" x="706.8" y="1069.9"/><use href="#h" x="725.3" y="1069.9"/><use href="#h" x="476.6" y="1104.4"/><use href="#h" x="660.8" y="1104.4"/><use href="#h" x="716.0" y="1104.4"/><use href="#h" x="430.5" y="1259.8"/>
</g>
<g fill="#e97158" stroke="#e97158">
<use href="#h" x="458.2" y="603.6"/><use href="#h" x="596.3" y="620.8"/><use href="#h" x="918.7" y="620.8"/><use href="#h" x="1047.6" y="638.1"/><use href="#h" x="347.6" y="862.6"/><use href="#h" x="955.5" y="897.2"/><use href="#h" x="550.3" y="914.4"/><use href="#h" x="937.1" y="914.4"/><use href="#h" x="983.1" y="949.0"/><use href="#h" x="854.2" y="966.2"/><use href="#h" x="421.3" y="983.5"/><use href="#h" x="513.4" y="983.5"/><use href="#h" x="854.2" y="983.5"/><use href="#h" x="605.5" y="1000.8"/><use href="#h" x="651.6" y="1000.8"/><use href="#h" x="633.2" y="1018.0"/><use href="#h" x="550.3" y="1104.4"/><use href="#h" x="430.5" y="1121.7"/>
</g>
<g fill="#e56b5d" stroke="#e56b5d">
<use href="#h" x="467.4" y="603.6"/><use href="#h" x="301.6" y="620.8"/><use href="#h" x="670.0" y="620.8"/><use href="#h" x="881.8" y="620.8"/><use href="#h" x="983.1" y="620.8"/><use href="#h" x="283.2" y="862.6"/><use href="#h" x="310.8" y="862.6"/><use href="#h" x="329.2" y="862.6"/><use href="#h" x="338.4" y="862.6"/><use href="#h" x="412.1" y="879.9"/><use href="#h" x="476.6" y="879.9"/><use href="#h" x="1029.2" y="897.2"/><use href="#h" x="946.3" y="931.7"/><use href="#h" x="964.7" y="949.0"/><use href="#h" x="559.5" y="966.2"/><use href="#h" x="881.8" y="966.2"/><use href="#h" x="559.5" y="983.5"/><use href="#h" x="927.9" y="983.5"/><use href="#h" x="412.1" y="1000.8"/><use href="#h" x="633.2" y="1000.8"/><use href="#h" x="854.2" y="1000.8"/><use href="#h" x="421.3" y="1018.0"/><use href="#h" x="623.9" y="1018.0"/><use href="#h" x="734.5" y="1035.3"/><use href="#h" x="835.8" y="1035.3"/><use href="#h" x="752.9" y="1052.6"/><use href="#h" x="495.0" y="1087.1"/><use href="#h" x="596.3" y="1087.1"/><use href="#h" x="430.5" y="1208.0"/>
</g>
<g fill="#dc5d67" stroke="#dc5d67">
<use href="#h" x="614.7" y="603.6"/><use href="#h" x="854.2" y="603.6"/><use href="#h" x="872.6" y="603.6"/><use href="#h" x="338.4" y="620.8"/><use href="#h" x="366.1" y="620.8"/><use href="#h" x="402.9" y="620.8"/><use href="#h" x="485.8" y="620.8"/><use href="#h" x="513.4" y="620.8"/><use href="#h" x="1020.0" y="620.8"/><use href="#h" x="1047.6" y="620.8"/><use href="#h" x="1185.8" y="845.4"/><use href="#h" x="320.0" y="879.9"/><use href="#h" x="347.6" y="879.9"/><use href="#h" x="366.1" y="879.9"/><use href="#h" x="393.7" y="914.4"/><use href="#h" x="1121.3" y="914.4"/><use href="#h" x="384.5" y="931.7"/><use href="#h" x="393.7" y="931.7"/><use href="#h" x="559.5" y="931.7"/><use href="#h" x="421.3" y="966.2"/><use href="#h" x="531.9" y="966.2"/><use href="#h" x="541.1" y="966.2"/><use href="#h" x="402.9" y="983.5"/><use href="#h" x="495.0" y="983.5"/><use href="#h" x="513.4" y="1000.8"/><use href="#h" x="863.4" y="1000.8"/><use href="#h" x="918.7" y="1000.8"/><use href="#h" x="393.7" y="1018.0"/><use href="#h" x="495.0" y="1052.6"/><use href="#h" x="476.6" y="1069.9"/><use href="#h" x="495.0" y="1069.9"/><use href="#h" x="568.7" y="1069.9"/><use href="#h" x="605.5" y="1069.9"/><use href="#h" x="734.5" y="1087.1"/><use href="#h" x="522.6" y="1121.7"/><use href="#h" x="559.5" y="1121.7"/><use href="#h" x="467.4" y="1242.6"/><use href="#h" x="449.0" y="1259.8"/>
</g>
<g fill="#e06363" stroke="#e06363">
<use href="#h" x="642.4" y="603.6"/><use href="#h" x="670.0" y="603.6"/><use href="#h" x="541.1" y="620.8"/><use href="#h" x="550.3" y="620.8"/><use href="#h" x="568.7" y="620.8"/><use href="#h" x="1121.3" y="620.8"/><use href="#h" x="320.0" y="862.6"/><use href="#h" x="301.6" y="879.9"/><use href="#h" x="393.7" y="949.0"/><use href="#h" x="881.8" y="983.5"/><use href="#h" x="909.5" y="1000.8"/><use href="#h" x="513.4" y="1018.0"/><use href="#h" x="577.9" y="1018.0"/><use href="#h" x="577.9" y="1052.6"/><use href="#h" x="587.1" y="1052.6"/><use href="#h" x="808.1" y="1052.6"/><use href="#h" x="421.3" y="1069.9"/><use href="#h" x="504.2" y="1069.9"/><use href="#h" x="614.7" y="1069.9"/><use href="#h" x="734.5" y="1069.9"/><use href="#h" x="614.7" y="1087.1"/><use href="#h" x="670.0" y="1087.1"/><use href="#h" x="688.4" y="1087.1"/><use href="#h" x="679.2" y="1104.4"/><use href="#h" x="449.0" y="1208.0"/><use href="#h" x="458.2" y="1225.3"/><use href="#h" x="439.8" y="1242.6"/>
</g>
<g fill="#e3685f" stroke="#e3685f">
<use href="#h" x="752.9" y="603.6"/><use href="#h" x="320.0" y="620.8"/><use href="#h" x="393.7" y="620.8"/><use href="#h" x="577.9" y="620.8"/><use href="#h" x="863.4" y="620.8"/><use href="#h" x="973.9" y="620.8"/><use href="#h" x="366.1" y="845.4"/><use href="#h" x="292.4" y="879.9"/><use href="#h" x="329.2" y="879.9"/><use href="#h" x="1112.1" y="897.2"/><use href="#h" x="1020.0" y="914.4"/><use href="#h" x="541.1" y="931.7"/><use href="#h" x="964.7" y="966.2"/><use href="#h" x="623.9" y="983.5"/><use href="#h" x="891.0" y="983.5"/><use href="#h" x="900.2" y="983.5"/><use href="#h" x="485.8" y="1000.8"/><use href="#h" x="495.0" y="1018.0"/><use href="#h" x="587.1" y="1018.0"/><use href="#h" x="854.2" y="1018.0"/><use href="#h" x="412.1" y="1035.3"/><use href="#h" x="476.6" y="1035.3"/><use href="#h" x="485.8" y="1035.3"/><use href="#h" x="614.7" y="1035.3"/><use href="#h" x="826.6" y="1035.3"/><use href="#h" x="513.4" y="1052.6"/><use href="#h" x="568.7" y="1052.6"/><use href="#h" x="596.3" y="1052.6"/><use href="#h" x="716.0" y="1052.6"/><use href="#h" x="798.9" y="1052.6"/><use href="#h" x="762.1" y="1069.9"/><use href="#h" x="421.3" y="1156.2"/><use href="#h" x="449.0" y="1225.3"/>
</g>
<g fill="#e56a5d" stroke="#e56a5d">
<use href="#h" x="992.4" y="603.6"/><use href="#h" x="421.3" y="620.8"/><use href="#h" x="449.0" y="620.8"/><use href="#h" x="522.6" y="620.8"/><use href="#h" x="633.2" y="620.8"/><use href="#h" x="817.4" y="620.8"/><use href="#h" x="964.7" y="620.8"/><use href="#h" x="992.4" y="620.8"/><use href="#h" x="1130.5" y="620.8"/><use href="#h" x="1185.8" y="689.9"/><use href="#h" x="356.9" y="879.9"/><use href="#h" x="1148.9" y="897.2"/><use href="#h" x="522.6" y="914.4"/><use href="#h" x="946.3" y="914.4"/><use href="#h" x="412.1" y="949.0"/><use href="#h" x="531.9" y="949.0"/><use href="#h" x="891.0" y="949.0"/><use href="#h" x="384.5" y="966.2"/><use href="#h" x="513.4" y="966.2"/><use href="#h" x="577.9" y="966.2"/><use href="#h" x="596.3" y="983.5"/><use href="#h" x="531.9" y="1018.0"/><use href="#h" x="651.6" y="1087.1"/><use href="#h" x="660.8" y="1087.1"/><use href="#h" x="716.0" y="1087.1"/><use href="#h" x="439.8" y="1156.2"/>
</g>
<g fill="#eb7655" stroke="#eb7655">
<use href="#h" x="274.0" y="620.8"/><use href="#h" x="366.1" y="638.1"/><use href="#h" x="347.6" y="845.4"/><use href="#h" x="375.3" y="845.4"/><use href="#h" x="1029.2" y="862.6"/><use href="#h" x="1112.1" y="862.6"/><use href="#h" x="1176.6" y="862.6"/><use href="#h" x="495.0" y="914.4"/><use href="#h" x="863.4" y="931.7"/><use href="#h" x="973.9" y="931.7"/><use href="#h" x="568.7" y="949.0"/><use href="#h" x="485.8" y="966.2"/><use href="#h" x="1001.6" y="966.2"/><use href="#h" x="780.5" y="983.5"/><use href="#h" x="771.3" y="1000.8"/><use href="#h" x="412.1" y="1018.0"/><use href="#h" x="504.2" y="1018.0"/><use href="#h" x="596.3" y="1018.0"/><use href="#h" x="614.7" y="1018.0"/><use href="#h" x="780.5" y="1018.0"/><use href="#h" x="651.6" y="1035.3"/><use href="#h" x="706.8" y="1035.3"/><use href="#h" x="660.8" y="1052.6"/><use href="#h" x="780.5" y="1052.6"/><use href="#h" x="651.6" y="1069.9"/><use href="#h" x="697.6" y="1069.9"/>
</g>
<g fill="#ee7b51" stroke="#ee7b51">
<use href="#h" x="292.4" y="620.8"/><use href="#h" x="430.5" y="620.8"/><use href="#h" x="614.7" y="620.8"/><use href="#h" x="734.5" y="620.8"/><use href="#h" x="955.5" y="620.8"/><use href="#h" x="356.9" y="638.1"/><use href="#h" x="421.3" y="638.1"/><use href="#h" x="531.9" y="638.1"/><use href="#h" x="946.3" y="638.1"/><use href="#h" x="329.2" y="828.1"/><use href="#h" x="283.2" y="845.4"/><use href="#h" x="1167.3" y="862.6"/><use href="#h" x="375.3" y="879.9"/><use href="#h" x="393.7" y="879.9"/><use href="#h" x="421.3" y="879.9"/><use href="#h" x="568.7" y="879.9"/><use href="#h" x="402.9" y="897.2"/><use href="#h" x="1020.0" y="897.2"/><use href="#h" x="1139.7" y="897.2"/><use href="#h" x="412.1" y="914.4"/><use href="#h" x="421.3" y="931.7"/><use href="#h" x="577.9" y="931.7"/><use href="#h" x="992.4" y="931.7"/><use href="#h" x="402.9" y="949.0"/><use href="#h" x="421.3" y="949.0"/><use href="#h" x="504.2" y="949.0"/><use href="#h" x="522.6" y="949.0"/><use href="#h" x="559.5" y="949.0"/><use href="#h" x="596.3" y="949.0"/><use href="#h" x="476.6" y="966.2"/><use href="#h" x="623.9" y="966.2"/><use href="#h" x="485.8" y="983.5"/><use href="#h" x="550.3" y="983.5"/><use href="#h" x="614.7" y="1000.8"/><use href="#h" x="679.2" y="1000.8"/><use href="#h" x="679.2" y="1018.0"/><use href="#h" x="660.8" y="1035.3"/><use href="#h" x="430.5" y="1069.9"/>
</g>
<g fill="#ea7457" stroke="#ea7457">
<use href="#h" x="384.5" y="620.8"/><use href="#h" x="826.6" y="620.8"/><use href="#h" x="900.2" y="620.8"/><use href="#h" x="1185.8" y="655.4"/><use href="#h" x="1185.8" y="776.3"/><use href="#h" x="375.3" y="828.1"/><use href="#h" x="937.1" y="828.1"/><use href="#h" x="366.1" y="862.6"/><use href="#h" x="1047.6" y="879.9"/><use href="#h" x="1158.1" y="897.2"/><use href="#h" x="402.9" y="931.7"/><use href="#h" x="587.1" y="931.7"/><use href="#h" x="412.1" y="983.5"/><use href="#h" x="504.2" y="983.5"/><use href="#h" x="577.9" y="983.5"/><use href="#h" x="918.7" y="983.5"/><use href="#h" x="513.4" y="1035.3"/><use href="#h" x="596.3" y="1035.3"/><use href="#h" x="670.0" y="1052.6"/><use href="#h" x="449.0" y="1156.2"/><use href="#h" x="458.2" y="1156.2"/><use href="#h" x="449.0" y="1173.5"/><use href="#h" x="458.2" y="1173.5"/><use href="#h" x="449.0" y="1190.8"/><use href="#h" x="458.2" y="1190.8"/><use href="#h" x="467.4" y="1208.0"/>
</g>
<g fill="#ed7a52" stroke="#ed7a52">
<use href="#h" x="439.8" y="620.8"/><use href="#h" x="725.3" y="620.8"/><use href="#h" x="522.6" y="638.1"/><use href="#h" x="955.5" y="638.1"/><use href="#h" x="1158.1" y="638.1"/><use href="#h" x="1185.8" y="810.8"/><use href="#h" x="274.0" y="845.4"/><use href="#h" x="292.4" y="845.4"/><use href="#h" x="301.6" y="862.6"/><use href="#h" x="375.3" y="862.6"/><use href="#h" x="485.8" y="879.9"/><use href="#h" x="937.1" y="897.2"/><use href="#h" x="541.1" y="914.4"/><use href="#h" x="983.1" y="914.4"/><use href="#h" x="854.2" y="949.0"/><use href="#h" x="863.4" y="949.0"/><use href="#h" x="568.7" y="966.2"/><use href="#h" x="504.2" y="1000.8"/><use href="#h" x="780.5" y="1035.3"/><use href="#h" x="679.2" y="1052.6"/><use href="#h" x="642.4" y="1069.9"/><use href="#h" x="660.8" y="1069.9"/>
</g>
<g fill="#f07f4f" stroke="#f07f4f">
<use href="#h" x="458.2" y="620.8"/><use href="#h" x="660.8" y="620.8"/><use href="#h" x="679.2" y="620.8"/><use href="#h" x="688.4" y="620.8"/><use href="#h" x="706.8" y="620.8"/><use href="#h" x="854.2" y="620.8"/><use href="#h" x="559.5" y="638.1"/><use href="#h" x="577.9" y="638.1"/><use href="#h" x="863.4" y="638.1"/><use href="#h" x="1020.0" y="655.4"/><use href="#h" x="1185.8" y="759.0"/><use href="#h" x="1029.2" y="793.5"/><use href="#h" x="1185.8" y="793.5"/><use href="#h" x="347.6" y="828.1"/><use href="#h" x="338.4" y="845.4"/><use href="#h" x="356.9" y="845.4"/><use href="#h" x="1167.3" y="845.4"/><use href="#h" x="476.6" y="862.6"/><use href="#h" x="531.9" y="879.9"/><use href="#h" x="541.1" y="879.9"/><use href="#h" x="1020.0" y="879.9"/><use href="#h" x="513.4" y="897.2"/><use href="#h" x="1084.5" y="897.2"/><use href="#h" x="504.2" y="914.4"/><use href="#h" x="568.7" y="914.4"/><use href="#h" x="485.8" y="931.7"/><use href="#h" x="964.7" y="931.7"/><use href="#h" x="504.2" y="966.2"/><use href="#h" x="743.7" y="983.5"/><use href="#h" x="789.7" y="1000.8"/><use href="#h" x="743.7" y="1018.0"/><use href="#h" x="789.7" y="1018.0"/><use href="#h" x="439.8" y="1069.9"/><use href="#h" x="439.8" y="1208.0"/>
</g>
<g fill="#e87059" stroke="#e87059">
<use href="#h" x="467.4" y="620.8"/><use href="#h" x="495.0" y="620.8"/><use href="#h" x="559.5" y="620.8"/><use href="#h" x="587.1" y="620.8"/><use href="#h" x="789.7" y="620.8"/><use href="#h" x="946.3" y="620.8"/><use href="#h" x="1112.1" y="638.1"/><use href="#h" x="1148.9" y="638.1"/><use href="#h" x="1185.8" y="707.2"/><use href="#h" x="402.9" y="879.9"/><use href="#h" x="1158.1" y="879.9"/><use href="#h" x="384.5" y="897.2"/><use href="#h" x="568.7" y="897.2"/><use href="#h" x="1121.3" y="897.2"/><use href="#h" x="531.9" y="931.7"/><use href="#h" x="485.8" y="949.0"/><use href="#h" x="900.2" y="966.2"/><use href="#h" x="633.2" y="983.5"/><use href="#h" x="909.5" y="983.5"/><use href="#h" x="559.5" y="1000.8"/><use href="#h" x="688.4" y="1052.6"/><use href="#h" x="734.5" y="1052.6"/><use href="#h" x="743.7" y="1052.6"/><use href="#h" x="449.0" y="1104.4"/>
</g>
<g fill="#e76e5b" stroke="#e76e5b">
<use href="#h" x="504.2" y="620.8"/><use href="#h" x="623.9" y="620.8"/><use href="#h" x="642.4" y="620.8"/><use href="#h" x="845.0" y="620.8"/><use href="#h" x="1121.3" y="638.1"/><use href="#h" x="1167.3" y="638.1"/><use href="#h" x="1176.6" y="638.1"/><use href="#h" x="274.0" y="862.6"/><use href="#h" x="356.9" y="862.6"/><use href="#h" x="522.6" y="879.9"/><use href="#h" x="1167.3" y="879.9"/><use href="#h" x="1102.9" y="897.2"/><use href="#h" x="1130.5" y="897.2"/><use href="#h" x="476.6" y="949.0"/><use href="#h" x="541.1" y="949.0"/><use href="#h" x="992.4" y="949.0"/><use href="#h" x="550.3" y="966.2"/><use href="#h" x="522.6" y="983.5"/><use href="#h" x="587.1" y="983.5"/><use href="#h" x="845.0" y="983.5"/><use href="#h" x="495.0" y="1000.8"/><use href="#h" x="550.3" y="1000.8"/><use href="#h" x="789.7" y="1035.3"/><use href="#h" x="697.6" y="1087.1"/><use href="#h" x="688.4" y="1104.4"/><use href="#h" x="467.4" y="1190.8"/>
</g>
<g fill="#ec7754" stroke="#ec7754">
<use href="#h" x="651.6" y="620.8"/><use href="#h" x="909.5" y="620.8"/><use href="#h" x="1075.2" y="638.1"/><use href="#h" x="1185.8" y="741.7"/><use href="#h" x="1038.4" y="793.5"/><use href="#h" x="320.0" y="828.1"/><use href="#h" x="301.6" y="845.4"/><use href="#h" x="1029.2" y="845.4"/><use href="#h" x="1176.6" y="879.9"/><use href="#h" x="412.1" y="897.2"/><use href="#h" x="476.6" y="914.4"/><use href="#h" x="955.5" y="914.4"/><use href="#h" x="1001.6" y="931.7"/><use href="#h" x="522.6" y="966.2"/><use href="#h" x="633.2" y="966.2"/><use href="#h" x="872.6" y="966.2"/><use href="#h" x="605.5" y="983.5"/><use href="#h" x="587.1" y="1000.8"/><use href="#h" x="623.9" y="1000.8"/><use href="#h" x="780.5" y="1000.8"/><use href="#h" x="485.8" y="1018.0"/><use href="#h" x="642.4" y="1052.6"/><use href="#h" x="467.4" y="1104.4"/>
</g>
<g fill="#ef7c51" stroke="#ef7c51">
<use href="#h" x="697.6" y="620.8"/><use href="#h" x="835.8" y="620.8"/><use href="#h" x="329.2" y="638.1"/><use href="#h" x="1093.7" y="638.1"/><use href="#h" x="1139.7" y="638.1"/><use href="#h" x="1010.8" y="655.4"/><use href="#h" x="1047.6" y="810.8"/><use href="#h" x="283.2" y="828.1"/><use href="#h" x="310.8" y="845.4"/><use href="#h" x="384.5" y="845.4"/><use href="#h" x="1038.4" y="845.4"/><use href="#h" x="1148.9" y="862.6"/><use href="#h" x="1056.8" y="897.2"/><use href="#h" x="1093.7" y="897.2"/><use href="#h" x="587.1" y="914.4"/><use href="#h" x="863.4" y="914.4"/><use href="#h" x="587.1" y="949.0"/><use href="#h" x="614.7" y="949.0"/><use href="#h" x="614.7" y="966.2"/><use href="#h" x="596.3" y="1000.8"/><use href="#h" x="734.5" y="1000.8"/><use href="#h" x="734.5" y="1018.0"/><use href="#h" x="762.1" y="1035.3"/><use href="#h" x="697.6" y="1052.6"/><use href="#h" x="688.4" y="1069.9"/>
</g>
<g fill="#f0804e" stroke="#f0804e">
<use href="#h" x="716.0" y="620.8"/><use href="#h" x="798.9" y="620.8"/><use href="#h" x="927.9" y="620.8"/><use href="#h" x="274.0" y="638.1"/><use href="#h" x="1038.4" y="638.1"/><use href="#h" x="1084.5" y="638.1"/><use href="#h" x="1038.4" y="828.1"/><use href="#h" x="329.2" y="845.4"/><use href="#h" x="1056.8" y="845.4"/><use href="#h" x="1029.2" y="879.9"/><use href="#h" x="522.6" y="897.2"/><use href="#h" x="476.6" y="931.7"/><use href="#h" x="495.0" y="931.7"/><use href="#h" x="495.0" y="949.0"/><use href="#h" x="845.0" y="949.0"/><use href="#h" x="789.7" y="966.2"/><use href="#h" x="863.4" y="966.2"/><use href="#h" x="909.5" y="966.2"/><use href="#h" x="918.7" y="966.2"/><use href="#h" x="614.7" y="983.5"/><use href="#h" x="716.0" y="1000.8"/><use href="#h" x="798.9" y="1035.3"/><use href="#h" x="467.4" y="1156.2"/><use href="#h" x="467.4" y="1173.5"/>
</g>
<g fill="#f1814d" stroke="#f1814d">
<use href="#h" x="743.7" y="620.8"/><use href="#h" x="762.1" y="620.8"/><use href="#h" x="891.0" y="620.8"/><use href="#h" x="283.2" y="638.1"/><use href="#h" x="513.4" y="638.1"/><use href="#h" x="891.0" y="638.1"/><use href="#h" x="1167.3" y="793.5"/><use href="#h" x="1167.3" y="810.8"/><use href="#h" x="1158.1" y="828.1"/><use href="#h" x="1167.3" y="828.1"/><use href="#h" x="384.5" y="862.6"/><use href="#h" x="541.1" y="897.2"/><use href="#h" x="946.3" y="897.2"/><use href="#h" x="513.4" y="931.7"/><use href="#h" x="568.7" y="931.7"/><use href="#h" x="845.0" y="931.7"/><use href="#h" x="854.2" y="931.7"/><use href="#h" x="568.7" y="1000.8"/><use href="#h" x="430.5" y="1052.6"/><use href="#h" x="439.8" y="1138.9"/><use href="#h" x="449.0" y="1138.9"/>
</g>
<g fill="#f1834c" stroke="#f1834c">
<use href="#h" x="752.9" y="620.8"/><use href="#h" x="1001.6" y="620.8"/><use href="#h" x="412.1" y="638.1"/><use href="#h" x="587.1" y="638.1"/><use href="#h" x="1066.0" y="638.1"/><use href="#h" x="274.0" y="810.8"/><use href="#h" x="310.8" y="828.1"/><use href="#h" x="476.6" y="845.4"/><use href="#h" x="955.5" y="862.6"/><use href="#h" x="1158.1" y="862.6"/><use href="#h" x="495.0" y="879.9"/><use href="#h" x="421.3" y="897.2"/><use href="#h" x="845.0" y="897.2"/><use href="#h" x="1075.2" y="897.2"/><use href="#h" x="402.9" y="914.4"/><use href="#h" x="421.3" y="914.4"/><use href="#h" x="633.2" y="914.4"/><use href="#h" x="983.1" y="931.7"/><use href="#h" x="633.2" y="949.0"/><use href="#h" x="891.0" y="966.2"/><use href="#h" x="927.9" y="966.2"/><use href="#h" x="743.7" y="1000.8"/><use href="#h" x="808.1" y="1000.8"/><use href="#h" x="642.4" y="1018.0"/><use href="#h" x="835.8" y="1018.0"/><use href="#h" x="623.9" y="1035.3"/><use href="#h" x="679.2" y="1035.3"/><use href="#h" x="743.7" y="1035.3"/><use href="#h" x="808.1" y="1035.3"/><use href="#h" x="458.2" y="1104.4"/>
</g>
<g fill="#f3874a" stroke="#f3874a">
<use href="#h" x="808.1" y="620.8"/><use href="#h" x="320.0" y="638.1"/><use href="#h" x="476.6" y="638.1"/><use href="#h" x="623.9" y="638.1"/><use href="#h" x="845.0" y="638.1"/><use href="#h" x="1029.2" y="776.3"/><use href="#h" x="320.0" y="793.5"/><use href="#h" x="320.0" y="845.4"/><use href="#h" x="559.5" y="845.4"/><use href="#h" x="292.4" y="862.6"/><use href="#h" x="541.1" y="862.6"/><use href="#h" x="946.3" y="862.6"/><use href="#h" x="1038.4" y="862.6"/><use href="#h" x="1102.9" y="879.9"/><use href="#h" x="393.7" y="897.2"/><use href="#h" x="559.5" y="897.2"/><use href="#h" x="1010.8" y="897.2"/><use href="#h" x="1066.0" y="897.2"/><use href="#h" x="854.2" y="914.4"/><use href="#h" x="605.5" y="931.7"/><use href="#h" x="1001.6" y="949.0"/><use href="#h" x="495.0" y="966.2"/><use href="#h" x="596.3" y="966.2"/><use href="#h" x="439.8" y="1018.0"/><use href="#h" x="605.5" y="1018.0"/><use href="#h" x="817.4" y="1018.0"/><use href="#h" x="716.0" y="1035.3"/><use href="#h" x="725.3" y="1035.3"/><use href="#h" x="817.4" y="1035.3"/><use href="#h" x="706.8" y="1052.6"/><use href="#h" x="439.8" y="1121.7"/><use href="#h" x="458.2" y="1138.9"/><use href="#h" x="458.2" y="1208.0"/>
</g>
<g fill="#f89441" stroke="#f89441">
<use href="#h" x="292.4" y="638.1"/><use href="#h" x="310.8" y="638.1"/><use href="#h" x="568.7" y="638.1"/><use href="#h" x="992.4" y="638.1"/><use href="#h" x="1001.6" y="638.1"/><use href="#h" x="1066.0" y="655.4"/><use href="#h" x="1158.1" y="655.4"/><use href="#h" x="1038.4" y="672.7"/><use href="#h" x="1167.3" y="672.7"/><use href="#h" x="495.0" y="793.5"/><use href="#h" x="384.5" y="810.8"/><use href="#h" x="421.3" y="810.8"/><use href="#h" x="504.2" y="828.1"/><use href="#h" x="531.9" y="828.1"/><use href="#h" x="568.7" y="862.6"/><use href="#h" x="1056.8" y="862.6"/><use href="#h" x="513.4" y="879.9"/><use href="#h" x="937.1" y="879.9"/><use href="#h" x="550.3" y="897.2"/><use href="#h" x="633.2" y="931.7"/><use href="#h" x="872.6" y="931.7"/><use href="#h" x="688.4" y="983.5"/><use href="#h" x="826.6" y="983.5"/><use href="#h" x="430.5" y="1000.8"/><use href="#h" x="771.3" y="1018.0"/><use href="#h" x="808.1" y="1018.0"/>
</g>
<g fill="#f68d45" stroke="#f68d45">
<use href="#h" x="301.6" y="638.1"/><use href="#h" x="504.2" y="638.1"/><use href="#h" x="605.5" y="638.1"/><use href="#h" x="375.3" y="793.5"/><use href="#h" x="338.4" y="828.1"/><use href="#h" x="356.9" y="828.1"/><use href="#h" x="1047.6" y="828.1"/><use href="#h" x="1148.9" y="828.1"/><use href="#h" x="1047.6" y="862.6"/><use href="#h" x="1102.9" y="862.6"/><use href="#h" x="577.9" y="914.4"/><use href="#h" x="891.0" y="914.4"/><use href="#h" x="909.5" y="931.7"/><use href="#h" x="752.9" y="983.5"/><use href="#h" x="817.4" y="983.5"/>
</g>
<g fill="#f79342" stroke="#f79342">
<use href="#h" x="338.4" y="638.1"/><use href="#h" x="402.9" y="638.1"/><use href="#h" x="854.2" y="638.1"/><use href="#h" x="1038.4" y="655.4"/><use href="#h" x="283.2" y="810.8"/><use href="#h" x="310.8" y="810.8"/><use href="#h" x="1038.4" y="810.8"/><use href="#h" x="402.9" y="845.4"/><use href="#h" x="495.0" y="845.4"/><use href="#h" x="513.4" y="862.6"/><use href="#h" x="559.5" y="879.9"/><use href="#h" x="1112.1" y="879.9"/><use href="#h" x="973.9" y="897.2"/><use href="#h" x="780.5" y="931.7"/><use href="#h" x="430.5" y="949.0"/><use href="#h" x="725.3" y="983.5"/><use href="#h" x="762.1" y="983.5"/><use href="#h" x="467.4" y="1000.8"/><use href="#h" x="835.8" y="1000.8"/><use href="#h" x="439.8" y="1087.1"/><use href="#h" x="458.2" y="1087.1"/>
</g>
<g fill="#f79044" stroke="#f79044">
<use href="#h" x="347.6" y="638.1"/><use href="#h" x="614.7" y="638.1"/><use href="#h" x="973.9" y="638.1"/><use href="#h" x="946.3" y="810.8"/><use href="#h" x="1148.9" y="810.8"/><use href="#h" x="504.2" y="862.6"/><use href="#h" x="1066.0" y="862.6"/><use href="#h" x="1010.8" y="879.9"/><use href="#h" x="1075.2" y="879.9"/><use href="#h" x="596.3" y="897.2"/><use href="#h" x="633.2" y="897.2"/><use href="#h" x="485.8" y="914.4"/><use href="#h" x="513.4" y="914.4"/><use href="#h" x="918.7" y="949.0"/><use href="#h" x="771.3" y="966.2"/><use href="#h" x="660.8" y="983.5"/><use href="#h" x="670.0" y="1000.8"/><use href="#h" x="688.4" y="1035.3"/><use href="#h" x="458.2" y="1069.9"/>
</g>
<g fill="#f89540" stroke="#f89540">
<use href="#h" x="375.3" y="638.1"/><use href="#h" x="485.8" y="638.1"/><use href="#h" x="651.6" y="638.1"/><use href="#h" x="771.3" y="638.1"/><use href="#h" x="983.1" y="638.1"/><use href="#h" x="1010.8" y="638.1"/><use href="#h" x="937.1" y="655.4"/><use href="#h" x="1075.2" y="655.4"/><use href="#h" x="1167.3" y="759.0"/><use href="#h" x="1176.6" y="776.3"/><use href="#h" x="274.0" y="793.5"/><use href="#h" x="402.9" y="810.8"/><use href="#h" x="531.9" y="810.8"/><use href="#h" x="412.1" y="828.1"/><use href="#h" x="1075.2" y="828.1"/><use href="#h" x="550.3" y="845.4"/><use href="#h" x="550.3" y="879.9"/><use href="#h" x="780.5" y="879.9"/><use href="#h" x="854.2" y="879.9"/><use href="#h" x="1056.8" y="879.9"/><use href="#h" x="872.6" y="897.2"/><use href="#h" x="909.5" y="897.2"/><use href="#h" x="964.7" y="897.2"/><use href="#h" x="927.9" y="931.7"/><use href="#h" x="688.4" y="1000.8"/><use href="#h" x="725.3" y="1000.8"/><use href="#h" x="826.6" y="1000.8"/><use href="#h" x="467.4" y="1069.9"/>
</g>
<g fill="#fa9b3d" stroke="#fa9b3d">
<use href="#h" x="384.5" y="638.1"/><use href="#h" x="596.3" y="638.1"/><use href="#h" x="642.4" y="638.1"/><use href="#h" x="780.5" y="638.1"/><use href="#h" x="881.8" y="638.1"/><use href="#h" x="1084.5" y="655.4"/><use href="#h" x="1093.7" y="655.4"/><use href="#h" x="1029.2" y="689.9"/><use href="#h" x="1029.2" y="741.7"/><use href="#h" x="1102.9" y="741.7"/><use href="#h" x="1029.2" y="759.0"/><use href="#h" x="1038.4" y="776.3"/><use href="#h" x="338.4" y="793.5"/><use href="#h" x="366.1" y="793.5"/><use href="#h" x="559.5" y="793.5"/><use href="#h" x="292.4" y="810.8"/><use href="#h" x="550.3" y="810.8"/><use href="#h" x="1130.5" y="810.8"/><use href="#h" x="522.6" y="828.1"/><use href="#h" x="568.7" y="828.1"/><use href="#h" x="1010.8" y="828.1"/><use href="#h" x="568.7" y="845.4"/><use href="#h" x="937.1" y="845.4"/><use href="#h" x="1139.7" y="845.4"/><use href="#h" x="587.1" y="862.6"/><use href="#h" x="504.2" y="879.9"/><use href="#h" x="633.2" y="879.9"/><use href="#h" x="845.0" y="879.9"/><use href="#h" x="872.6" y="879.9"/><use href="#h" x="1001.6" y="879.9"/><use href="#h" x="1139.7" y="879.9"/><use href="#h" x="605.5" y="897.2"/><use href="#h" x="927.9" y="914.4"/><use href="#h" x="430.5" y="931.7"/><use href="#h" x="504.2" y="931.7"/><use href="#h" x="614.7" y="931.7"/><use href="#h" x="716.0" y="931.7"/><use href="#h" x="918.7" y="931.7"/><use href="#h" x="798.9" y="949.0"/><use href="#h" x="716.0" y="966.2"/><use href="#h" x="752.9" y="966.2"/><use href="#h" x="467.4" y="983.5"/><use href="#h" x="439.8" y="1000.8"/><use href="#h" x="449.0" y="1018.0"/>
</g>
<g fill="#f48849" stroke="#f48849">
<use href="#h" x="393.7" y="638.1"/><use href="#h" x="541.1" y="638.1"/><use href="#h" x="1185.8" y="724.5"/><use href="#h" x="1148.9" y="845.4"/><use href="#h" x="402.9" y="862.6"/><use href="#h" x="531.9" y="862.6"/><use href="#h" x="863.4" y="862.6"/><use href="#h" x="1084.5" y="879.9"/><use href="#h" x="1121.3" y="879.9"/><use href="#h" x="587.1" y="897.2"/><use href="#h" x="531.9" y="914.4"/><use href="#h" x="559.5" y="914.4"/><use href="#h" x="1001.6" y="914.4"/><use href="#h" x="734.5" y="949.0"/><use href="#h" x="909.5" y="949.0"/><use href="#h" x="835.8" y="966.2"/><use href="#h" x="688.4" y="1018.0"/><use href="#h" x="697.6" y="1018.0"/><use href="#h" x="826.6" y="1018.0"/><use href="#h" x="467.4" y="1035.3"/><use href="#h" x="642.4" y="1035.3"/><use href="#h" x="752.9" y="1035.3"/><use href="#h" x="449.0" y="1069.9"/><use href="#h" x="467.4" y="1087.1"/><use href="#h" x="467.4" y="1121.7"/>
</g>
<g fill="#fba238" stroke="#fba238">
<use href="#h" x="430.5" y="638.1"/><use href="#h" x="550.3" y="655.4"/><use href="#h" x="1158.1" y="707.2"/><use href="#h" x="1038.4" y="759.0"/><use href="#h" x="310.8" y="793.5"/><use href="#h" x="412.1" y="810.8"/><use href="#h" x="513.4" y="810.8"/><use href="#h" x="577.9" y="810.8"/><use href="#h" x="1010.8" y="810.8"/><use href="#h" x="1121.3" y="810.8"/><use href="#h" x="845.0" y="828.1"/><use href="#h" x="964.7" y="828.1"/><use href="#h" x="734.5" y="845.4"/><use href="#h" x="421.3" y="862.6"/><use href="#h" x="458.2" y="879.9"/><use href="#h" x="430.5" y="897.2"/><use href="#h" x="660.8" y="897.2"/><use href="#h" x="789.7" y="897.2"/><use href="#h" x="467.4" y="949.0"/><use href="#h" x="642.4" y="949.0"/><use href="#h" x="706.8" y="949.0"/><use href="#h" x="660.8" y="966.2"/><use href="#h" x="734.5" y="966.2"/><use href="#h" x="762.1" y="966.2"/><use href="#h" x="771.3" y="983.5"/><use href="#h" x="449.0" y="1035.3"/>
</g>
<g fill="#fca934" stroke="#fca934">
<use href="#h" x="439.8" y="638.1"/><use href="#h" x="762.1" y="638.1"/><use href="#h" x="835.8" y="638.1"/><use href="#h" x="927.9" y="638.1"/><use href="#h" x="587.1" y="655.4"/><use href="#h" x="642.4" y="655.4"/><use href="#h" x="1029.2" y="672.7"/><use href="#h" x="1010.8" y="689.9"/><use href="#h" x="1093.7" y="689.9"/><use href="#h" x="1176.6" y="707.2"/><use href="#h" x="1066.0" y="759.0"/><use href="#h" x="1112.1" y="759.0"/><use href="#h" x="541.1" y="776.3"/><use href="#h" x="955.5" y="776.3"/><use href="#h" x="301.6" y="793.5"/><use href="#h" x="522.6" y="793.5"/><use href="#h" x="587.1" y="793.5"/><use href="#h" x="946.3" y="793.5"/><use href="#h" x="1010.8" y="793.5"/><use href="#h" x="1093.7" y="793.5"/><use href="#h" x="1121.3" y="793.5"/><use href="#h" x="1148.9" y="793.5"/><use href="#h" x="845.0" y="810.8"/><use href="#h" x="596.3" y="828.1"/><use href="#h" x="1066.0" y="828.1"/><use href="#h" x="633.2" y="845.4"/><use href="#h" x="743.7" y="845.4"/><use href="#h" x="789.7" y="845.4"/><use href="#h" x="660.8" y="862.6"/><use href="#h" x="835.8" y="879.9"/><use href="#h" x="670.0" y="897.2"/><use href="#h" x="679.2" y="897.2"/><use href="#h" x="992.4" y="897.2"/><use href="#h" x="430.5" y="914.4"/><use href="#h" x="808.1" y="914.4"/><use href="#h" x="743.7" y="931.7"/><use href="#h" x="725.3" y="949.0"/><use href="#h" x="449.0" y="966.2"/><use href="#h" x="817.4" y="966.2"/><use href="#h" x="660.8" y="1000.8"/>
</g>
<g fill="#f9983e" stroke="#f9983e">
<use href="#h" x="449.0" y="638.1"/><use href="#h" x="670.0" y="638.1"/><use href="#h" x="706.8" y="638.1"/><use href="#h" x="918.7" y="638.1"/><use href="#h" x="1176.6" y="672.7"/><use href="#h" x="1102.9" y="793.5"/><use href="#h" x="1158.1" y="793.5"/><use href="#h" x="338.4" y="810.8"/><use href="#h" x="513.4" y="828.1"/><use href="#h" x="559.5" y="828.1"/><use href="#h" x="946.3" y="828.1"/><use href="#h" x="430.5" y="879.9"/><use href="#h" x="577.9" y="879.9"/><use href="#h" x="623.9" y="949.0"/><use href="#h" x="743.7" y="966.2"/><use href="#h" x="642.4" y="1000.8"/><use href="#h" x="467.4" y="1018.0"/><use href="#h" x="660.8" y="1018.0"/><use href="#h" x="439.8" y="1035.3"/>
</g>
<g fill="#fdae32" stroke="#fdae32">
<use href="#h" x="458.2" y="638.1"/><use href="#h" x="679.2" y="638.1"/><use href="#h" x="522.6" y="655.4"/><use href="#h" x="577.9" y="655.4"/><use href="#h" x="679.2" y="655.4"/><use href="#h" x="937.1" y="741.7"/><use href="#h" x="1047.6" y="741.7"/><use href="#h" x="559.5" y="759.0"/><use href="#h" x="393.7" y="776.3"/><use href="#h" x="964.7" y="793.5"/><use href="#h" x="1084.5" y="793.5"/><use href="#h" x="734.5" y="810.8"/><use href="#h" x="605.5" y="828.1"/><use href="#h" x="808.1" y="879.9"/><use href="#h" x="964.7" y="879.9"/><use href="#h" x="449.0" y="897.2"/><use href="#h" x="670.0" y="914.4"/><use href="#h" x="826.6" y="931.7"/><use href="#h" x="697.6" y="949.0"/><use href="#h" x="458.2" y="983.5"/>
</g>
<g fill="#fca537" stroke="#fca537">
<use href="#h" x="467.4" y="638.1"/><use href="#h" x="752.9" y="638.1"/><use href="#h" x="541.1" y="655.4"/><use href="#h" x="568.7" y="655.4"/><use href="#h" x="872.6" y="655.4"/><use href="#h" x="983.1" y="655.4"/><use href="#h" x="1038.4" y="689.9"/><use href="#h" x="1167.3" y="707.2"/><use href="#h" x="1167.3" y="724.5"/><use href="#h" x="1176.6" y="724.5"/><use href="#h" x="1038.4" y="741.7"/><use href="#h" x="1066.0" y="776.3"/><use href="#h" x="1075.2" y="776.3"/><use href="#h" x="1084.5" y="776.3"/><use href="#h" x="412.1" y="793.5"/><use href="#h" x="577.9" y="793.5"/><use href="#h" x="1139.7" y="793.5"/><use href="#h" x="587.1" y="810.8"/><use href="#h" x="863.4" y="810.8"/><use href="#h" x="1056.8" y="810.8"/><use href="#h" x="1139.7" y="828.1"/><use href="#h" x="1093.7" y="845.4"/><use href="#h" x="1112.1" y="845.4"/><use href="#h" x="780.5" y="862.6"/><use href="#h" x="734.5" y="879.9"/><use href="#h" x="909.5" y="879.9"/><use href="#h" x="973.9" y="879.9"/><use href="#h" x="900.2" y="897.2"/><use href="#h" x="780.5" y="914.4"/><use href="#h" x="826.6" y="914.4"/><use href="#h" x="771.3" y="931.7"/><use href="#h" x="900.2" y="931.7"/><use href="#h" x="835.8" y="949.0"/><use href="#h" x="826.6" y="966.2"/><use href="#h" x="679.2" y="983.5"/><use href="#h" x="697.6" y="983.5"/>
</g>
<g fill="#f58c46" stroke="#f58c46">
<use href="#h" x="495.0" y="638.1"/><use href="#h" x="1020.0" y="638.1"/><use href="#h" x="1056.8" y="638.1"/><use href="#h" x="1130.5" y="638.1"/><use href="#h" x="1056.8" y="655.4"/><use href="#h" x="329.2" y="810.8"/><use href="#h" x="955.5" y="810.8"/><use href="#h" x="366.1" y="828.1"/><use href="#h" x="955.5" y="845.4"/><use href="#h" x="1176.6" y="845.4"/><use href="#h" x="485.8" y="862.6"/><use href="#h" x="577.9" y="862.6"/><use href="#h" x="531.9" y="897.2"/><use href="#h" x="863.4" y="897.2"/><use href="#h" x="973.9" y="914.4"/><use href="#h" x="550.3" y="931.7"/><use href="#h" x="789.7" y="931.7"/><use href="#h" x="513.4" y="949.0"/><use href="#h" x="651.6" y="1018.0"/><use href="#h" x="449.0" y="1087.1"/>
</g>
<g fill="#f79143" stroke="#f79143">
<use href="#h" x="550.3" y="638.1"/><use href="#h" x="798.9" y="638.1"/><use href="#h" x="1112.1" y="655.4"/><use href="#h" x="1158.1" y="672.7"/><use href="#h" x="1047.6" y="776.3"/><use href="#h" x="955.5" y="793.5"/><use href="#h" x="301.6" y="828.1"/><use href="#h" x="393.7" y="828.1"/><use href="#h" x="1020.0" y="828.1"/><use href="#h" x="485.8" y="845.4"/><use href="#h" x="531.9" y="845.4"/><use href="#h" x="1047.6" y="845.4"/><use href="#h" x="1158.1" y="845.4"/><use href="#h" x="412.1" y="862.6"/><use href="#h" x="476.6" y="897.2"/><use href="#h" x="485.8" y="897.2"/><use href="#h" x="679.2" y="966.2"/><use href="#h" x="762.1" y="1000.8"/><use href="#h" x="716.0" y="1018.0"/><use href="#h" x="762.1" y="1018.0"/><use href="#h" x="458.2" y="1052.6"/>
</g>
<g fill="#f58b47" stroke="#f58b47">
<use href="#h" x="633.2" y="638.1"/><use href="#h" x="743.7" y="638.1"/><use href="#h" x="937.1" y="638.1"/><use href="#h" x="1102.9" y="638.1"/><use href="#h" x="1102.9" y="655.4"/><use href="#h" x="1158.1" y="776.3"/><use href="#h" x="393.7" y="810.8"/><use href="#h" x="522.6" y="810.8"/><use href="#h" x="1158.1" y="810.8"/><use href="#h" x="421.3" y="845.4"/><use href="#h" x="1066.0" y="845.4"/><use href="#h" x="946.3" y="879.9"/><use href="#h" x="495.0" y="897.2"/><use href="#h" x="623.9" y="914.4"/><use href="#h" x="734.5" y="914.4"/><use href="#h" x="577.9" y="949.0"/><use href="#h" x="872.6" y="949.0"/><use href="#h" x="706.8" y="1000.8"/><use href="#h" x="430.5" y="1018.0"/><use href="#h" x="670.0" y="1018.0"/><use href="#h" x="439.8" y="1052.6"/><use href="#h" x="430.5" y="1087.1"/><use href="#h" x="430.5" y="1138.9"/>
</g>
<g fill="#f9973f" stroke="#f9973f">
<use href="#h" x="660.8" y="638.1"/><use href="#h" x="1139.7" y="655.4"/><use href="#h" x="1047.6" y="793.5"/><use href="#h" x="937.1" y="810.8"/><use href="#h" x="485.8" y="828.1"/><use href="#h" x="577.9" y="828.1"/><use href="#h" x="1121.3" y="845.4"/><use href="#h" x="522.6" y="862.6"/><use href="#h" x="559.5" y="862.6"/><use href="#h" x="1084.5" y="862.6"/><use href="#h" x="623.9" y="879.9"/><use href="#h" x="881.8" y="879.9"/><use href="#h" x="955.5" y="879.9"/><use href="#h" x="983.1" y="897.2"/><use href="#h" x="909.5" y="914.4"/><use href="#h" x="992.4" y="914.4"/><use href="#h" x="596.3" y="931.7"/><use href="#h" x="771.3" y="949.0"/><use href="#h" x="900.2" y="949.0"/><use href="#h" x="430.5" y="983.5"/><use href="#h" x="458.2" y="1035.3"/>
</g>
<g fill="#fdab33" stroke="#fdab33">
<use href="#h" x="688.4" y="638.1"/><use href="#h" x="808.1" y="638.1"/><use href="#h" x="1075.2" y="672.7"/><use href="#h" x="1093.7" y="672.7"/><use href="#h" x="1029.2" y="724.5"/><use href="#h" x="1066.0" y="741.7"/><use href="#h" x="937.1" y="759.0"/><use href="#h" x="522.6" y="776.3"/><use href="#h" x="476.6" y="793.5"/><use href="#h" x="531.9" y="793.5"/><use href="#h" x="623.9" y="793.5"/><use href="#h" x="1075.2" y="810.8"/><use href="#h" x="614.7" y="828.1"/><use href="#h" x="909.5" y="828.1"/><use href="#h" x="1121.3" y="828.1"/><use href="#h" x="845.0" y="845.4"/><use href="#h" x="854.2" y="845.4"/><use href="#h" x="863.4" y="845.4"/><use href="#h" x="983.1" y="845.4"/><use href="#h" x="743.7" y="879.9"/><use href="#h" x="743.7" y="897.2"/><use href="#h" x="688.4" y="914.4"/><use href="#h" x="449.0" y="931.7"/><use href="#h" x="798.9" y="931.7"/><use href="#h" x="651.6" y="949.0"/>
</g>
<g fill="#fca338" stroke="#fca338">
<use href="#h" x="697.6" y="638.1"/><use href="#h" x="1056.8" y="707.2"/><use href="#h" x="1121.3" y="776.3"/><use href="#h" x="541.1" y="793.5"/><use href="#h" x="973.9" y="793.5"/><use href="#h" x="504.2" y="810.8"/><use href="#h" x="568.7" y="810.8"/><use href="#h" x="577.9" y="845.4"/><use href="#h" x="614.7" y="862.6"/><use href="#h" x="633.2" y="862.6"/><use href="#h" x="891.0" y="862.6"/><use href="#h" x="900.2" y="862.6"/><use href="#h" x="1130.5" y="879.9"/><use href="#h" x="900.2" y="914.4"/><use href="#h" x="670.0" y="931.7"/><use href="#h" x="734.5" y="931.7"/><use href="#h" x="706.8" y="983.5"/><use href="#h" x="449.0" y="1000.8"/>
</g>
<g fill="#fdb42f" stroke="#fdb42f">
<use href="#h" x="716.0" y="638.1"/><use href="#h" x="393.7" y="655.4"/><use href="#h" x="651.6" y="655.4"/><use href="#h" x="1001.6" y="655.4"/><use href="#h" x="1038.4" y="724.5"/><use href="#h" x="274.0" y="759.0"/><use href="#h" x="412.1" y="776.3"/><use href="#h" x="568.7" y="776.3"/><use href="#h" x="1102.9" y="776.3"/><use href="#h" x="1056.8" y="793.5"/><use href="#h" x="1075.2" y="793.5"/><use href="#h" x="633.2" y="810.8"/><use href="#h" x="670.0" y="828.1"/><use href="#h" x="706.8" y="828.1"/><use href="#h" x="734.5" y="828.1"/><use href="#h" x="780.5" y="828.1"/><use href="#h" x="660.8" y="845.4"/><use href="#h" x="670.0" y="862.6"/><use href="#h" x="697.6" y="862.6"/><use href="#h" x="817.4" y="862.6"/><use href="#h" x="716.0" y="879.9"/><use href="#h" x="771.3" y="914.4"/><use href="#h" x="449.0" y="949.0"/>
</g>
<g fill="#fca835" stroke="#fca835">
<use href="#h" x="725.3" y="638.1"/><use href="#h" x="633.2" y="655.4"/><use href="#h" x="1066.0" y="672.7"/><use href="#h" x="1038.4" y="707.2"/><use href="#h" x="1148.9" y="707.2"/><use href="#h" x="1148.9" y="759.0"/><use href="#h" x="384.5" y="776.3"/><use href="#h" x="393.7" y="793.5"/><use href="#h" x="973.9" y="810.8"/><use href="#h" x="881.8" y="862.6"/><use href="#h" x="789.7" y="879.9"/><use href="#h" x="725.3" y="897.2"/><use href="#h" x="808.1" y="983.5"/>
</g>
<g fill="#fca636" stroke="#fca636">
<use href="#h" x="734.5" y="638.1"/><use href="#h" x="1029.2" y="707.2"/><use href="#h" x="1148.9" y="724.5"/><use href="#h" x="1167.3" y="741.7"/><use href="#h" x="1047.6" y="759.0"/><use href="#h" x="366.1" y="776.3"/><use href="#h" x="356.9" y="793.5"/><use href="#h" x="789.7" y="810.8"/><use href="#h" x="1112.1" y="810.8"/><use href="#h" x="1084.5" y="828.1"/><use href="#h" x="1130.5" y="845.4"/><use href="#h" x="734.5" y="862.6"/><use href="#h" x="909.5" y="862.6"/><use href="#h" x="1075.2" y="862.6"/><use href="#h" x="458.2" y="897.2"/><use href="#h" x="614.7" y="897.2"/><use href="#h" x="706.8" y="897.2"/><use href="#h" x="881.8" y="897.2"/><use href="#h" x="706.8" y="931.7"/><use href="#h" x="679.2" y="949.0"/><use href="#h" x="458.2" y="966.2"/>
</g>
<g fill="#f68f44" stroke="#f68f44">
<use href="#h" x="789.7" y="638.1"/><use href="#h" x="872.6" y="638.1"/><use href="#h" x="1130.5" y="655.4"/><use href="#h" x="1167.3" y="655.4"/><use href="#h" x="329.2" y="793.5"/><use href="#h" x="937.1" y="793.5"/><use href="#h" x="356.9" y="810.8"/><use href="#h" x="1029.2" y="810.8"/><use href="#h" x="1176.6" y="810.8"/><use href="#h" x="292.4" y="828.1"/><use href="#h" x="1029.2" y="828.1"/><use href="#h" x="1112.1" y="828.1"/><use href="#h" x="1176.6" y="828.1"/><use href="#h" x="541.1" y="845.4"/><use href="#h" x="1010.8" y="845.4"/><use href="#h" x="393.7" y="862.6"/><use href="#h" x="495.0" y="862.6"/><use href="#h" x="550.3" y="862.6"/><use href="#h" x="854.2" y="862.6"/><use href="#h" x="504.2" y="897.2"/><use href="#h" x="577.9" y="897.2"/><use href="#h" x="854.2" y="897.2"/><use href="#h" x="605.5" y="949.0"/><use href="#h" x="789.7" y="949.0"/><use href="#h" x="780.5" y="966.2"/><use href="#h" x="651.6" y="983.5"/><use href="#h" x="734.5" y="983.5"/><use href="#h" x="706.8" y="1018.0"/><use href="#h" x="449.0" y="1121.7"/>
</g>
<g fill="#fa9c3c" stroke="#fa9c3c">
<use href="#h" x="817.4" y="638.1"/><use href="#h" x="900.2" y="638.1"/><use href="#h" x="623.9" y="655.4"/><use href="#h" x="946.3" y="655.4"/><use href="#h" x="955.5" y="655.4"/><use href="#h" x="347.6" y="793.5"/><use href="#h" x="1020.0" y="810.8"/><use href="#h" x="1066.0" y="810.8"/><use href="#h" x="393.7" y="845.4"/><use href="#h" x="412.1" y="845.4"/><use href="#h" x="504.2" y="845.4"/><use href="#h" x="513.4" y="845.4"/><use href="#h" x="596.3" y="845.4"/><use href="#h" x="872.6" y="845.4"/><use href="#h" x="1084.5" y="845.4"/><use href="#h" x="430.5" y="862.6"/><use href="#h" x="1020.0" y="862.6"/><use href="#h" x="725.3" y="931.7"/><use href="#h" x="439.8" y="949.0"/><use href="#h" x="752.9" y="949.0"/><use href="#h" x="439.8" y="966.2"/><use href="#h" x="716.0" y="983.5"/><use href="#h" x="798.9" y="983.5"/><use href="#h" x="697.6" y="1000.8"/>
</g>
<g fill="#fba139" stroke="#fba139">
<use href="#h" x="826.6" y="638.1"/><use href="#h" x="274.0" y="655.4"/><use href="#h" x="992.4" y="655.4"/><use href="#h" x="1047.6" y="672.7"/><use href="#h" x="1112.1" y="672.7"/><use href="#h" x="1148.9" y="672.7"/><use href="#h" x="1158.1" y="724.5"/><use href="#h" x="1084.5" y="759.0"/><use href="#h" x="283.2" y="776.3"/><use href="#h" x="338.4" y="776.3"/><use href="#h" x="347.6" y="776.3"/><use href="#h" x="1020.0" y="776.3"/><use href="#h" x="1167.3" y="776.3"/><use href="#h" x="292.4" y="793.5"/><use href="#h" x="513.4" y="793.5"/><use href="#h" x="1112.1" y="793.5"/><use href="#h" x="301.6" y="810.8"/><use href="#h" x="485.8" y="810.8"/><use href="#h" x="559.5" y="810.8"/><use href="#h" x="679.2" y="810.8"/><use href="#h" x="1084.5" y="810.8"/><use href="#h" x="1093.7" y="810.8"/><use href="#h" x="402.9" y="828.1"/><use href="#h" x="495.0" y="828.1"/><use href="#h" x="955.5" y="828.1"/><use href="#h" x="1056.8" y="828.1"/><use href="#h" x="522.6" y="845.4"/><use href="#h" x="587.1" y="845.4"/><use href="#h" x="614.7" y="845.4"/><use href="#h" x="1075.2" y="845.4"/><use href="#h" x="623.9" y="862.6"/><use href="#h" x="596.3" y="879.9"/><use href="#h" x="614.7" y="879.9"/><use href="#h" x="863.4" y="879.9"/><use href="#h" x="891.0" y="879.9"/><use href="#h" x="623.9" y="897.2"/><use href="#h" x="918.7" y="914.4"/><use href="#h" x="439.8" y="931.7"/><use href="#h" x="679.2" y="931.7"/><use href="#h" x="670.0" y="949.0"/><use href="#h" x="762.1" y="949.0"/><use href="#h" x="706.8" y="966.2"/><use href="#h" x="642.4" y="983.5"/><use href="#h" x="670.0" y="983.5"/><use href="#h" x="817.4" y="1000.8"/><use href="#h" x="467.4" y="1052.6"/>
</g>
<g fill="#fa9e3b" stroke="#fa9e3b">
<use href="#h" x="909.5" y="638.1"/><use href="#h" x="964.7" y="655.4"/><use href="#h" x="1158.1" y="759.0"/><use href="#h" x="320.0" y="776.3"/><use href="#h" x="1139.7" y="776.3"/><use href="#h" x="1020.0" y="793.5"/><use href="#h" x="1130.5" y="793.5"/><use href="#h" x="1176.6" y="793.5"/><use href="#h" x="347.6" y="810.8"/><use href="#h" x="1130.5" y="828.1"/><use href="#h" x="973.9" y="845.4"/><use href="#h" x="1020.0" y="845.4"/><use href="#h" x="605.5" y="862.6"/><use href="#h" x="1139.7" y="862.6"/><use href="#h" x="605.5" y="914.4"/><use href="#h" x="458.2" y="949.0"/><use href="#h" x="743.7" y="949.0"/><use href="#h" x="642.4" y="966.2"/><use href="#h" x="458.2" y="1000.8"/><use href="#h" x="458.2" y="1018.0"/>
</g>
<g fill="#f3854b" stroke="#f3854b">
<use href="#h" x="964.7" y="638.1"/><use href="#h" x="1029.2" y="655.4"/><use href="#h" x="1148.9" y="655.4"/><use href="#h" x="1176.6" y="759.0"/><use href="#h" x="476.6" y="828.1"/><use href="#h" x="1038.4" y="879.9"/><use href="#h" x="1066.0" y="879.9"/><use href="#h" x="596.3" y="914.4"/><use href="#h" x="872.6" y="914.4"/><use href="#h" x="1010.8" y="914.4"/><use href="#h" x="623.9" y="931.7"/><use href="#h" x="605.5" y="966.2"/><use href="#h" x="789.7" y="983.5"/><use href="#h" x="752.9" y="1000.8"/><use href="#h" x="752.9" y="1018.0"/><use href="#h" x="697.6" y="1035.3"/><use href="#h" x="430.5" y="1104.4"/><use href="#h" x="439.8" y="1104.4"/><use href="#h" x="458.2" y="1121.7"/><use href="#h" x="439.8" y="1173.5"/>
</g>
<g fill="#feba2c" stroke="#feba2c">
<use href="#h" x="283.2" y="655.4"/><use href="#h" x="329.2" y="655.4"/><use href="#h" x="660.8" y="655.4"/><use href="#h" x="1075.2" y="689.9"/><use href="#h" x="1066.0" y="724.5"/><use href="#h" x="1075.2" y="724.5"/><use href="#h" x="1112.1" y="724.5"/><use href="#h" x="559.5" y="741.7"/><use href="#h" x="587.1" y="741.7"/><use href="#h" x="1112.1" y="741.7"/><use href="#h" x="375.3" y="759.0"/><use href="#h" x="522.6" y="759.0"/><use href="#h" x="587.1" y="759.0"/><use href="#h" x="605.5" y="759.0"/><use href="#h" x="633.2" y="759.0"/><use href="#h" x="845.0" y="759.0"/><use href="#h" x="1075.2" y="759.0"/><use href="#h" x="513.4" y="776.3"/><use href="#h" x="577.9" y="776.3"/><use href="#h" x="946.3" y="776.3"/><use href="#h" x="467.4" y="793.5"/><use href="#h" x="614.7" y="793.5"/><use href="#h" x="734.5" y="793.5"/><use href="#h" x="964.7" y="810.8"/><use href="#h" x="688.4" y="828.1"/><use href="#h" x="743.7" y="828.1"/><use href="#h" x="863.4" y="828.1"/><use href="#h" x="983.1" y="828.1"/><use href="#h" x="449.0" y="845.4"/><use href="#h" x="623.9" y="845.4"/><use href="#h" x="909.5" y="845.4"/><use href="#h" x="439.8" y="862.6"/><use href="#h" x="642.4" y="862.6"/><use href="#h" x="1001.6" y="862.6"/><use href="#h" x="817.4" y="879.9"/><use href="#h" x="900.2" y="879.9"/><use href="#h" x="826.6" y="949.0"/>
</g>
<g fill="#fdb52e" stroke="#fdb52e">
<use href="#h" x="292.4" y="655.4"/><use href="#h" x="320.0" y="655.4"/><use href="#h" x="559.5" y="655.4"/><use href="#h" x="614.7" y="655.4"/><use href="#h" x="771.3" y="655.4"/><use href="#h" x="780.5" y="655.4"/><use href="#h" x="918.7" y="655.4"/><use href="#h" x="955.5" y="672.7"/><use href="#h" x="1056.8" y="689.9"/><use href="#h" x="1139.7" y="707.2"/><use href="#h" x="1047.6" y="724.5"/><use href="#h" x="1158.1" y="741.7"/><use href="#h" x="1176.6" y="741.7"/><use href="#h" x="356.9" y="759.0"/><use href="#h" x="412.1" y="759.0"/><use href="#h" x="1010.8" y="759.0"/><use href="#h" x="292.4" y="776.3"/><use href="#h" x="780.5" y="776.3"/><use href="#h" x="596.3" y="793.5"/><use href="#h" x="780.5" y="793.5"/><use href="#h" x="817.4" y="793.5"/><use href="#h" x="881.8" y="793.5"/><use href="#h" x="992.4" y="793.5"/><use href="#h" x="605.5" y="810.8"/><use href="#h" x="872.6" y="810.8"/><use href="#h" x="918.7" y="810.8"/><use href="#h" x="430.5" y="828.1"/><use href="#h" x="458.2" y="828.1"/><use href="#h" x="992.4" y="828.1"/><use href="#h" x="651.6" y="845.4"/><use href="#h" x="992.4" y="845.4"/><use href="#h" x="918.7" y="862.6"/><use href="#h" x="642.4" y="897.2"/><use href="#h" x="467.4" y="914.4"/><use href="#h" x="642.4" y="914.4"/><use href="#h" x="725.3" y="914.4"/><use href="#h" x="835.8" y="931.7"/><use href="#h" x="697.6" y="966.2"/><use href="#h" x="725.3" y="966.2"/>
</g>
<g fill="#fec029" stroke="#fec029">
<use href="#h" x="301.6" y="655.4"/><use href="#h" x="789.7" y="655.4"/><use href="#h" x="854.2" y="655.4"/><use href="#h" x="927.9" y="655.4"/><use href="#h" x="550.3" y="672.7"/><use href="#h" x="854.2" y="672.7"/><use href="#h" x="900.2" y="672.7"/><use href="#h" x="1001.6" y="672.7"/><use href="#h" x="541.1" y="689.9"/><use href="#h" x="937.1" y="707.2"/><use href="#h" x="881.8" y="724.5"/><use href="#h" x="1121.3" y="724.5"/><use href="#h" x="1139.7" y="724.5"/><use href="#h" x="845.0" y="741.7"/><use href="#h" x="946.3" y="741.7"/><use href="#h" x="1130.5" y="741.7"/><use href="#h" x="329.2" y="759.0"/><use href="#h" x="476.6" y="759.0"/><use href="#h" x="531.9" y="759.0"/><use href="#h" x="550.3" y="759.0"/><use href="#h" x="964.7" y="759.0"/><use href="#h" x="679.2" y="793.5"/><use href="#h" x="789.7" y="793.5"/><use href="#h" x="467.4" y="810.8"/><use href="#h" x="651.6" y="810.8"/><use href="#h" x="651.6" y="828.1"/><use href="#h" x="725.3" y="828.1"/><use href="#h" x="973.9" y="828.1"/><use href="#h" x="835.8" y="845.4"/><use href="#h" x="918.7" y="845.4"/><use href="#h" x="927.9" y="845.4"/><use href="#h" x="752.9" y="862.6"/><use href="#h" x="449.0" y="879.9"/>
</g>
<g fill="#fb9f3a" stroke="#fb9f3a">
<use href="#h" x="310.8" y="655.4"/><use href="#h" x="1056.8" y="672.7"/><use href="#h" x="1112.1" y="776.3"/><use href="#h" x="366.1" y="810.8"/><use href="#h" x="1102.9" y="810.8"/><use href="#h" x="587.1" y="828.1"/><use href="#h" x="623.9" y="828.1"/><use href="#h" x="439.8" y="845.4"/><use href="#h" x="596.3" y="862.6"/><use href="#h" x="872.6" y="862.6"/><use href="#h" x="1010.8" y="862.6"/><use href="#h" x="1093.7" y="862.6"/><use href="#h" x="780.5" y="897.2"/><use href="#h" x="614.7" y="914.4"/><use href="#h" x="789.7" y="914.4"/><use href="#h" x="780.5" y="949.0"/><use href="#h" x="808.1" y="949.0"/><use href="#h" x="430.5" y="966.2"/><use href="#h" x="430.5" y="1035.3"/>
</g>
<g fill="#fdb130" stroke="#fdb130">
<use href="#h" x="338.4" y="655.4"/><use href="#h" x="375.3" y="655.4"/><use href="#h" x="402.9" y="655.4"/><use href="#h" x="476.6" y="655.4"/><use href="#h" x="1121.3" y="655.4"/><use href="#h" x="1121.3" y="672.7"/><use href="#h" x="1047.6" y="689.9"/><use href="#h" x="1084.5" y="689.9"/><use href="#h" x="1176.6" y="689.9"/><use href="#h" x="384.5" y="759.0"/><use href="#h" x="495.0" y="776.3"/><use href="#h" x="1010.8" y="776.3"/><use href="#h" x="1130.5" y="776.3"/><use href="#h" x="402.9" y="793.5"/><use href="#h" x="485.8" y="793.5"/><use href="#h" x="568.7" y="793.5"/><use href="#h" x="863.4" y="793.5"/><use href="#h" x="983.1" y="793.5"/><use href="#h" x="476.6" y="810.8"/><use href="#h" x="596.3" y="810.8"/><use href="#h" x="835.8" y="810.8"/><use href="#h" x="900.2" y="810.8"/><use href="#h" x="679.2" y="828.1"/><use href="#h" x="716.0" y="845.4"/><use href="#h" x="780.5" y="845.4"/><use href="#h" x="881.8" y="845.4"/><use href="#h" x="891.0" y="845.4"/><use href="#h" x="964.7" y="845.4"/><use href="#h" x="1001.6" y="845.4"/><use href="#h" x="449.0" y="862.6"/><use href="#h" x="771.3" y="862.6"/><use href="#h" x="992.4" y="879.9"/><use href="#h" x="439.8" y="897.2"/><use href="#h" x="752.9" y="897.2"/><use href="#h" x="817.4" y="897.2"/><use href="#h" x="826.6" y="897.2"/><use href="#h" x="918.7" y="897.2"/><use href="#h" x="927.9" y="897.2"/><use href="#h" x="439.8" y="914.4"/><use href="#h" x="651.6" y="914.4"/><use href="#h" x="743.7" y="914.4"/><use href="#h" x="467.4" y="966.2"/>
</g>
<g fill="#febe2a" stroke="#febe2a">
<use href="#h" x="347.6" y="655.4"/><use href="#h" x="891.0" y="655.4"/><use href="#h" x="522.6" y="672.7"/><use href="#h" x="577.9" y="672.7"/><use href="#h" x="780.5" y="672.7"/><use href="#h" x="789.7" y="672.7"/><use href="#h" x="1102.9" y="724.5"/><use href="#h" x="320.0" y="741.7"/><use href="#h" x="550.3" y="741.7"/><use href="#h" x="881.8" y="741.7"/><use href="#h" x="347.6" y="759.0"/><use href="#h" x="541.1" y="759.0"/><use href="#h" x="863.4" y="759.0"/><use href="#h" x="449.0" y="776.3"/><use href="#h" x="854.2" y="776.3"/><use href="#h" x="633.2" y="793.5"/><use href="#h" x="743.7" y="793.5"/><use href="#h" x="716.0" y="810.8"/><use href="#h" x="927.9" y="810.8"/><use href="#h" x="642.4" y="828.1"/><use href="#h" x="872.6" y="828.1"/><use href="#h" x="725.3" y="862.6"/><use href="#h" x="670.0" y="879.9"/><use href="#h" x="706.8" y="879.9"/>
</g>
<g fill="#fdac33" stroke="#fdac33">
<use href="#h" x="356.9" y="655.4"/><use href="#h" x="485.8" y="655.4"/><use href="#h" x="596.3" y="655.4"/><use href="#h" x="946.3" y="672.7"/><use href="#h" x="1102.9" y="672.7"/><use href="#h" x="1139.7" y="672.7"/><use href="#h" x="1047.6" y="707.2"/><use href="#h" x="1075.2" y="707.2"/><use href="#h" x="1093.7" y="741.7"/><use href="#h" x="338.4" y="759.0"/><use href="#h" x="1139.7" y="759.0"/><use href="#h" x="310.8" y="776.3"/><use href="#h" x="421.3" y="776.3"/><use href="#h" x="559.5" y="776.3"/><use href="#h" x="1056.8" y="776.3"/><use href="#h" x="384.5" y="793.5"/><use href="#h" x="854.2" y="793.5"/><use href="#h" x="872.6" y="793.5"/><use href="#h" x="1001.6" y="793.5"/><use href="#h" x="495.0" y="810.8"/><use href="#h" x="614.7" y="810.8"/><use href="#h" x="891.0" y="810.8"/><use href="#h" x="1139.7" y="810.8"/><use href="#h" x="439.8" y="828.1"/><use href="#h" x="541.1" y="828.1"/><use href="#h" x="854.2" y="828.1"/><use href="#h" x="679.2" y="845.4"/><use href="#h" x="900.2" y="845.4"/><use href="#h" x="743.7" y="862.6"/><use href="#h" x="789.7" y="862.6"/><use href="#h" x="605.5" y="879.9"/><use href="#h" x="752.9" y="879.9"/><use href="#h" x="983.1" y="879.9"/><use href="#h" x="716.0" y="897.2"/><use href="#h" x="734.5" y="897.2"/><use href="#h" x="808.1" y="897.2"/><use href="#h" x="449.0" y="914.4"/><use href="#h" x="458.2" y="914.4"/><use href="#h" x="716.0" y="914.4"/><use href="#h" x="458.2" y="931.7"/><use href="#h" x="651.6" y="931.7"/><use href="#h" x="762.1" y="931.7"/><use href="#h" x="808.1" y="931.7"/><use href="#h" x="817.4" y="949.0"/><use href="#h" x="449.0" y="983.5"/>
</g>
<g fill="#fdaf31" stroke="#fdaf31">
<use href="#h" x="366.1" y="655.4"/><use href="#h" x="845.0" y="655.4"/><use href="#h" x="863.4" y="655.4"/><use href="#h" x="1020.0" y="672.7"/><use href="#h" x="1020.0" y="689.9"/><use href="#h" x="1066.0" y="689.9"/><use href="#h" x="1102.9" y="689.9"/><use href="#h" x="1148.9" y="689.9"/><use href="#h" x="1020.0" y="724.5"/><use href="#h" x="1075.2" y="741.7"/><use href="#h" x="310.8" y="759.0"/><use href="#h" x="393.7" y="759.0"/><use href="#h" x="955.5" y="759.0"/><use href="#h" x="1056.8" y="759.0"/><use href="#h" x="274.0" y="776.3"/><use href="#h" x="301.6" y="776.3"/><use href="#h" x="329.2" y="776.3"/><use href="#h" x="375.3" y="776.3"/><use href="#h" x="587.1" y="776.3"/><use href="#h" x="872.6" y="776.3"/><use href="#h" x="421.3" y="793.5"/><use href="#h" x="439.8" y="793.5"/><use href="#h" x="1001.6" y="810.8"/><use href="#h" x="605.5" y="845.4"/><use href="#h" x="679.2" y="862.6"/><use href="#h" x="964.7" y="862.6"/><use href="#h" x="439.8" y="879.9"/><use href="#h" x="467.4" y="897.2"/><use href="#h" x="771.3" y="897.2"/><use href="#h" x="660.8" y="914.4"/><use href="#h" x="706.8" y="914.4"/><use href="#h" x="798.9" y="914.4"/><use href="#h" x="817.4" y="914.4"/><use href="#h" x="642.4" y="931.7"/><use href="#h" x="697.6" y="931.7"/><use href="#h" x="688.4" y="949.0"/><use href="#h" x="798.9" y="966.2"/><use href="#h" x="449.0" y="1052.6"/>
</g>
<g fill="#febd2a" stroke="#febd2a">
<use href="#h" x="384.5" y="655.4"/><use href="#h" x="835.8" y="655.4"/><use href="#h" x="541.1" y="672.7"/><use href="#h" x="937.1" y="672.7"/><use href="#h" x="1158.1" y="689.9"/><use href="#h" x="946.3" y="707.2"/><use href="#h" x="1010.8" y="724.5"/><use href="#h" x="983.1" y="741.7"/><use href="#h" x="513.4" y="759.0"/><use href="#h" x="577.9" y="759.0"/><use href="#h" x="780.5" y="759.0"/><use href="#h" x="900.2" y="759.0"/><use href="#h" x="946.3" y="759.0"/><use href="#h" x="1020.0" y="759.0"/><use href="#h" x="1102.9" y="759.0"/><use href="#h" x="826.6" y="776.3"/><use href="#h" x="900.2" y="776.3"/><use href="#h" x="449.0" y="793.5"/><use href="#h" x="605.5" y="793.5"/><use href="#h" x="449.0" y="810.8"/><use href="#h" x="854.2" y="810.8"/><use href="#h" x="909.5" y="810.8"/><use href="#h" x="633.2" y="828.1"/><use href="#h" x="835.8" y="828.1"/><use href="#h" x="1001.6" y="828.1"/><use href="#h" x="808.1" y="845.4"/><use href="#h" x="458.2" y="862.6"/><use href="#h" x="762.1" y="862.6"/><use href="#h" x="642.4" y="879.9"/><use href="#h" x="660.8" y="879.9"/><use href="#h" x="697.6" y="879.9"/><use href="#h" x="697.6" y="914.4"/>
</g>
<g fill="#fdc527" stroke="#fdc527">
<use href="#h" x="412.1" y="655.4"/><use href="#h" x="798.9" y="655.4"/><use href="#h" x="973.9" y="655.4"/><use href="#h" x="845.0" y="707.2"/><use href="#h" x="1020.0" y="707.2"/><use href="#h" x="541.1" y="724.5"/><use href="#h" x="937.1" y="724.5"/><use href="#h" x="320.0" y="759.0"/><use href="#h" x="485.8" y="759.0"/><use href="#h" x="798.9" y="759.0"/><use href="#h" x="1001.6" y="759.0"/><use href="#h" x="476.6" y="776.3"/><use href="#h" x="614.7" y="776.3"/><use href="#h" x="642.4" y="776.3"/><use href="#h" x="734.5" y="776.3"/><use href="#h" x="909.5" y="776.3"/><use href="#h" x="918.7" y="776.3"/><use href="#h" x="1093.7" y="776.3"/><use href="#h" x="927.9" y="793.5"/><use href="#h" x="743.7" y="810.8"/><use href="#h" x="798.9" y="810.8"/><use href="#h" x="798.9" y="862.6"/>
</g>
<g fill="#feb72d" stroke="#feb72d">
<use href="#h" x="421.3" y="655.4"/><use href="#h" x="495.0" y="655.4"/><use href="#h" x="734.5" y="655.4"/><use href="#h" x="946.3" y="724.5"/><use href="#h" x="1020.0" y="741.7"/><use href="#h" x="504.2" y="759.0"/><use href="#h" x="356.9" y="776.3"/><use href="#h" x="531.9" y="776.3"/><use href="#h" x="771.3" y="776.3"/><use href="#h" x="863.4" y="776.3"/><use href="#h" x="430.5" y="810.8"/><use href="#h" x="881.8" y="810.8"/><use href="#h" x="467.4" y="828.1"/><use href="#h" x="789.7" y="828.1"/><use href="#h" x="771.3" y="845.4"/><use href="#h" x="688.4" y="897.2"/><use href="#h" x="697.6" y="897.2"/><use href="#h" x="798.9" y="897.2"/><use href="#h" x="679.2" y="914.4"/><use href="#h" x="752.9" y="914.4"/>
</g>
<g fill="#fdc229" stroke="#fdc229">
<use href="#h" x="430.5" y="655.4"/><use href="#h" x="670.0" y="655.4"/><use href="#h" x="725.3" y="655.4"/><use href="#h" x="762.1" y="655.4"/><use href="#h" x="826.6" y="655.4"/><use href="#h" x="863.4" y="689.9"/><use href="#h" x="1084.5" y="707.2"/><use href="#h" x="531.9" y="741.7"/><use href="#h" x="863.4" y="741.7"/><use href="#h" x="973.9" y="741.7"/><use href="#h" x="1001.6" y="741.7"/><use href="#h" x="301.6" y="759.0"/><use href="#h" x="881.8" y="759.0"/><use href="#h" x="835.8" y="776.3"/><use href="#h" x="964.7" y="776.3"/><use href="#h" x="992.4" y="776.3"/><use href="#h" x="716.0" y="793.5"/><use href="#h" x="762.1" y="793.5"/><use href="#h" x="826.6" y="793.5"/><use href="#h" x="458.2" y="810.8"/><use href="#h" x="798.9" y="828.1"/><use href="#h" x="826.6" y="828.1"/><use href="#h" x="798.9" y="845.4"/><use href="#h" x="716.0" y="862.6"/>
</g>
<g fill="#fdc627" stroke="#fdc627">
<use href="#h" x="439.8" y="655.4"/><use href="#h" x="366.1" y="672.7"/><use href="#h" x="531.9" y="672.7"/><use href="#h" x="743.7" y="672.7"/><use href="#h" x="872.6" y="672.7"/><use href="#h" x="983.1" y="672.7"/><use href="#h" x="1093.7" y="707.2"/><use href="#h" x="1112.1" y="707.2"/><use href="#h" x="1056.8" y="724.5"/><use href="#h" x="623.9" y="741.7"/><use href="#h" x="780.5" y="741.7"/><use href="#h" x="421.3" y="759.0"/><use href="#h" x="495.0" y="759.0"/><use href="#h" x="725.3" y="759.0"/><use href="#h" x="771.3" y="759.0"/><use href="#h" x="1130.5" y="759.0"/><use href="#h" x="439.8" y="776.3"/><use href="#h" x="697.6" y="776.3"/><use href="#h" x="891.0" y="776.3"/><use href="#h" x="752.9" y="793.5"/><use href="#h" x="725.3" y="810.8"/><use href="#h" x="826.6" y="810.8"/><use href="#h" x="716.0" y="828.1"/><use href="#h" x="927.9" y="862.6"/><use href="#h" x="467.4" y="879.9"/><use href="#h" x="679.2" y="879.9"/>
</g>
<g fill="#fdcb26" stroke="#fdcb26">
<use href="#h" x="449.0" y="655.4"/><use href="#h" x="485.8" y="672.7"/><use href="#h" x="881.8" y="672.7"/><use href="#h" x="872.6" y="707.2"/><use href="#h" x="881.8" y="707.2"/><use href="#h" x="964.7" y="707.2"/><use href="#h" x="845.0" y="724.5"/><use href="#h" x="983.1" y="724.5"/><use href="#h" x="292.4" y="741.7"/><use href="#h" x="522.6" y="741.7"/><use href="#h" x="605.5" y="741.7"/><use href="#h" x="743.7" y="741.7"/><use href="#h" x="891.0" y="741.7"/><use href="#h" x="752.9" y="759.0"/><use href="#h" x="789.7" y="759.0"/><use href="#h" x="826.6" y="759.0"/><use href="#h" x="651.6" y="776.3"/><use href="#h" x="762.1" y="776.3"/><use href="#h" x="762.1" y="810.8"/><use href="#h" x="688.4" y="931.7"/>
</g>
<g fill="#fbd324" stroke="#fbd324">
<use href="#h" x="458.2" y="655.4"/><use href="#h" x="310.8" y="672.7"/><use href="#h" x="504.2" y="672.7"/><use href="#h" x="596.3" y="672.7"/><use href="#h" x="679.2" y="672.7"/><use href="#h" x="375.3" y="689.9"/><use href="#h" x="522.6" y="689.9"/><use href="#h" x="587.1" y="689.9"/><use href="#h" x="927.9" y="689.9"/><use href="#h" x="1001.6" y="689.9"/><use href="#h" x="522.6" y="707.2"/><use href="#h" x="568.7" y="707.2"/><use href="#h" x="596.3" y="707.2"/><use href="#h" x="633.2" y="707.2"/><use href="#h" x="283.2" y="724.5"/><use href="#h" x="338.4" y="724.5"/><use href="#h" x="522.6" y="724.5"/><use href="#h" x="596.3" y="724.5"/><use href="#h" x="780.5" y="724.5"/><use href="#h" x="384.5" y="741.7"/><use href="#h" x="393.7" y="741.7"/><use href="#h" x="596.3" y="741.7"/><use href="#h" x="716.0" y="741.7"/><use href="#h" x="688.4" y="776.3"/><use href="#h" x="752.9" y="776.3"/><use href="#h" x="706.8" y="793.5"/>
</g>
<g fill="#fdca26" stroke="#fdca26">
<use href="#h" x="467.4" y="655.4"/><use href="#h" x="817.4" y="655.4"/><use href="#h" x="633.2" y="672.7"/><use href="#h" x="909.5" y="672.7"/><use href="#h" x="973.9" y="672.7"/><use href="#h" x="992.4" y="672.7"/><use href="#h" x="320.0" y="689.9"/><use href="#h" x="872.6" y="689.9"/><use href="#h" x="1010.8" y="707.2"/><use href="#h" x="550.3" y="724.5"/><use href="#h" x="587.1" y="724.5"/><use href="#h" x="973.9" y="724.5"/><use href="#h" x="338.4" y="741.7"/><use href="#h" x="366.1" y="741.7"/><use href="#h" x="513.4" y="741.7"/><use href="#h" x="568.7" y="741.7"/><use href="#h" x="854.2" y="741.7"/><use href="#h" x="900.2" y="741.7"/><use href="#h" x="992.4" y="741.7"/><use href="#h" x="734.5" y="759.0"/><use href="#h" x="872.6" y="759.0"/><use href="#h" x="918.7" y="759.0"/><use href="#h" x="973.9" y="759.0"/><use href="#h" x="992.4" y="759.0"/><use href="#h" x="623.9" y="776.3"/><use href="#h" x="679.2" y="776.3"/><use href="#h" x="789.7" y="776.3"/><use href="#h" x="817.4" y="776.3"/><use href="#h" x="983.1" y="776.3"/><use href="#h" x="835.8" y="793.5"/><use href="#h" x="642.4" y="810.8"/><use href="#h" x="771.3" y="828.1"/><use href="#h" x="927.9" y="828.1"/><use href="#h" x="697.6" y="845.4"/><use href="#h" x="725.3" y="845.4"/><use href="#h" x="835.8" y="862.6"/><use href="#h" x="826.6" y="879.9"/>
</g>
<g fill="#fdb22f" stroke="#fdb22f">
<use href="#h" x="504.2" y="655.4"/><use href="#h" x="531.9" y="655.4"/><use href="#h" x="743.7" y="655.4"/><use href="#h" x="909.5" y="655.4"/><use href="#h" x="1010.8" y="672.7"/><use href="#h" x="1167.3" y="689.9"/><use href="#h" x="1066.0" y="707.2"/><use href="#h" x="1148.9" y="741.7"/><use href="#h" x="937.1" y="776.3"/><use href="#h" x="1001.6" y="776.3"/><use href="#h" x="1066.0" y="793.5"/><use href="#h" x="458.2" y="845.4"/><use href="#h" x="467.4" y="862.6"/><use href="#h" x="651.6" y="862.6"/><use href="#h" x="973.9" y="862.6"/><use href="#h" x="992.4" y="862.6"/><use href="#h" x="762.1" y="897.2"/><use href="#h" x="835.8" y="897.2"/><use href="#h" x="835.8" y="914.4"/><use href="#h" x="716.0" y="949.0"/>
</g>
<g fill="#feb82c" stroke="#feb82c">
<use href="#h" x="513.4" y="655.4"/><use href="#h" x="605.5" y="655.4"/><use href="#h" x="881.8" y="655.4"/><use href="#h" x="937.1" y="689.9"/><use href="#h" x="946.3" y="689.9"/><use href="#h" x="1130.5" y="689.9"/><use href="#h" x="1139.7" y="689.9"/><use href="#h" x="955.5" y="724.5"/><use href="#h" x="1093.7" y="724.5"/><use href="#h" x="1056.8" y="741.7"/><use href="#h" x="1084.5" y="741.7"/><use href="#h" x="292.4" y="759.0"/><use href="#h" x="366.1" y="759.0"/><use href="#h" x="568.7" y="759.0"/><use href="#h" x="596.3" y="759.0"/><use href="#h" x="891.0" y="759.0"/><use href="#h" x="983.1" y="759.0"/><use href="#h" x="485.8" y="776.3"/><use href="#h" x="283.2" y="793.5"/><use href="#h" x="458.2" y="793.5"/><use href="#h" x="504.2" y="793.5"/><use href="#h" x="845.0" y="793.5"/><use href="#h" x="909.5" y="793.5"/><use href="#h" x="439.8" y="810.8"/><use href="#h" x="623.9" y="810.8"/><use href="#h" x="660.8" y="810.8"/><use href="#h" x="670.0" y="810.8"/><use href="#h" x="771.3" y="810.8"/><use href="#h" x="780.5" y="810.8"/><use href="#h" x="817.4" y="810.8"/><use href="#h" x="983.1" y="810.8"/><use href="#h" x="660.8" y="828.1"/><use href="#h" x="808.1" y="828.1"/><use href="#h" x="900.2" y="828.1"/><use href="#h" x="918.7" y="828.1"/><use href="#h" x="670.0" y="845.4"/><use href="#h" x="762.1" y="845.4"/><use href="#h" x="688.4" y="862.6"/><use href="#h" x="983.1" y="862.6"/><use href="#h" x="651.6" y="879.9"/><use href="#h" x="688.4" y="879.9"/><use href="#h" x="725.3" y="879.9"/><use href="#h" x="771.3" y="879.9"/><use href="#h" x="762.1" y="914.4"/><use href="#h" x="467.4" y="931.7"/>
</g>
<g fill="#fdc328" stroke="#fdc328">
<use href="#h" x="688.4" y="655.4"/><use href="#h" x="716.0" y="655.4"/><use href="#h" x="808.1" y="655.4"/><use href="#h" x="587.1" y="672.7"/><use href="#h" x="623.9" y="672.7"/><use href="#h" x="863.4" y="672.7"/><use href="#h" x="955.5" y="689.9"/><use href="#h" x="1112.1" y="689.9"/><use href="#h" x="854.2" y="724.5"/><use href="#h" x="1130.5" y="724.5"/><use href="#h" x="356.9" y="741.7"/><use href="#h" x="826.6" y="741.7"/><use href="#h" x="1121.3" y="741.7"/><use href="#h" x="504.2" y="776.3"/><use href="#h" x="605.5" y="776.3"/><use href="#h" x="725.3" y="776.3"/><use href="#h" x="725.3" y="793.5"/><use href="#h" x="891.0" y="793.5"/><use href="#h" x="688.4" y="810.8"/><use href="#h" x="817.4" y="845.4"/><use href="#h" x="798.9" y="879.9"/>
</g>
<g fill="#fccd25" stroke="#fccd25">
<use href="#h" x="697.6" y="655.4"/><use href="#h" x="614.7" y="672.7"/><use href="#h" x="762.1" y="672.7"/><use href="#h" x="826.6" y="672.7"/><use href="#h" x="854.2" y="689.9"/><use href="#h" x="863.4" y="707.2"/><use href="#h" x="964.7" y="724.5"/><use href="#h" x="421.3" y="741.7"/><use href="#h" x="623.9" y="759.0"/><use href="#h" x="743.7" y="759.0"/><use href="#h" x="909.5" y="759.0"/><use href="#h" x="670.0" y="776.3"/><use href="#h" x="743.7" y="776.3"/><use href="#h" x="642.4" y="793.5"/><use href="#h" x="752.9" y="828.1"/><use href="#h" x="762.1" y="828.1"/><use href="#h" x="706.8" y="845.4"/><use href="#h" x="808.1" y="862.6"/>
</g>
<g fill="#febb2b" stroke="#febb2b">
<use href="#h" x="706.8" y="655.4"/><use href="#h" x="752.9" y="655.4"/><use href="#h" x="1084.5" y="672.7"/><use href="#h" x="1130.5" y="672.7"/><use href="#h" x="1102.9" y="707.2"/><use href="#h" x="1130.5" y="707.2"/><use href="#h" x="633.2" y="724.5"/><use href="#h" x="863.4" y="724.5"/><use href="#h" x="1084.5" y="724.5"/><use href="#h" x="955.5" y="741.7"/><use href="#h" x="1010.8" y="741.7"/><use href="#h" x="1139.7" y="741.7"/><use href="#h" x="614.7" y="759.0"/><use href="#h" x="854.2" y="759.0"/><use href="#h" x="1121.3" y="759.0"/><use href="#h" x="596.3" y="776.3"/><use href="#h" x="633.2" y="776.3"/><use href="#h" x="845.0" y="776.3"/><use href="#h" x="973.9" y="776.3"/><use href="#h" x="550.3" y="793.5"/><use href="#h" x="771.3" y="793.5"/><use href="#h" x="900.2" y="793.5"/><use href="#h" x="992.4" y="810.8"/><use href="#h" x="449.0" y="828.1"/><use href="#h" x="881.8" y="828.1"/><use href="#h" x="891.0" y="828.1"/><use href="#h" x="430.5" y="845.4"/><use href="#h" x="467.4" y="845.4"/><use href="#h" x="642.4" y="845.4"/><use href="#h" x="762.1" y="879.9"/><use href="#h" x="918.7" y="879.9"/><use href="#h" x="651.6" y="897.2"/><use href="#h" x="817.4" y="931.7"/><use href="#h" x="688.4" y="966.2"/>
</g>
<g fill="#fcd025" stroke="#fcd025">
<use href="#h" x="900.2" y="655.4"/><use href="#h" x="642.4" y="672.7"/><use href="#h" x="688.4" y="672.7"/><use href="#h" x="366.1" y="689.9"/><use href="#h" x="577.9" y="689.9"/><use href="#h" x="596.3" y="689.9"/><use href="#h" x="845.0" y="689.9"/><use href="#h" x="780.5" y="707.2"/><use href="#h" x="854.2" y="707.2"/><use href="#h" x="623.9" y="724.5"/><use href="#h" x="789.7" y="724.5"/><use href="#h" x="900.2" y="724.5"/><use href="#h" x="476.6" y="741.7"/><use href="#h" x="504.2" y="741.7"/><use href="#h" x="633.2" y="741.7"/><use href="#h" x="697.6" y="759.0"/><use href="#h" x="716.0" y="759.0"/><use href="#h" x="402.9" y="776.3"/><use href="#h" x="697.6" y="793.5"/><use href="#h" x="688.4" y="845.4"/>
</g>
<g fill="#f48948" stroke="#f48948">
<use href="#h" x="1047.6" y="655.4"/><use href="#h" x="1176.6" y="655.4"/><use href="#h" x="1148.9" y="776.3"/><use href="#h" x="274.0" y="828.1"/><use href="#h" x="384.5" y="828.1"/><use href="#h" x="1102.9" y="828.1"/><use href="#h" x="1102.9" y="845.4"/><use href="#h" x="937.1" y="862.6"/><use href="#h" x="964.7" y="914.4"/><use href="#h" x="881.8" y="931.7"/><use href="#h" x="891.0" y="931.7"/><use href="#h" x="881.8" y="949.0"/><use href="#h" x="927.9" y="949.0"/><use href="#h" x="808.1" y="966.2"/><use href="#h" x="439.8" y="983.5"/><use href="#h" x="835.8" y="983.5"/><use href="#h" x="725.3" y="1018.0"/><use href="#h" x="798.9" y="1018.0"/><use href="#h" x="670.0" y="1035.3"/><use href="#h" x="430.5" y="1173.5"/>
</g>
<g fill="#f8df25" stroke="#f8df25">
<use href="#h" x="274.0" y="672.7"/><use href="#h" x="725.3" y="672.7"/><use href="#h" x="329.2" y="689.9"/><use href="#h" x="347.6" y="689.9"/><use href="#h" x="706.8" y="689.9"/><use href="#h" x="716.0" y="689.9"/><use href="#h" x="964.7" y="689.9"/><use href="#h" x="320.0" y="707.2"/><use href="#h" x="366.1" y="707.2"/><use href="#h" x="476.6" y="707.2"/><use href="#h" x="504.2" y="707.2"/><use href="#h" x="614.7" y="707.2"/><use href="#h" x="605.5" y="724.5"/><use href="#h" x="670.0" y="724.5"/><use href="#h" x="752.9" y="724.5"/><use href="#h" x="771.3" y="724.5"/><use href="#h" x="798.9" y="724.5"/><use href="#h" x="817.4" y="724.5"/><use href="#h" x="752.9" y="741.7"/>
</g>
<g fill="#fbd724" stroke="#fbd724">
<use href="#h" x="283.2" y="672.7"/><use href="#h" x="338.4" y="672.7"/><use href="#h" x="347.6" y="672.7"/><use href="#h" x="670.0" y="672.7"/><use href="#h" x="752.9" y="672.7"/><use href="#h" x="900.2" y="689.9"/><use href="#h" x="909.5" y="689.9"/><use href="#h" x="973.9" y="689.9"/><use href="#h" x="955.5" y="707.2"/><use href="#h" x="973.9" y="707.2"/><use href="#h" x="660.8" y="724.5"/><use href="#h" x="495.0" y="741.7"/><use href="#h" x="670.0" y="741.7"/><use href="#h" x="651.6" y="759.0"/><use href="#h" x="660.8" y="759.0"/><use href="#h" x="670.0" y="793.5"/><use href="#h" x="826.6" y="845.4"/>
</g>
<g fill="#f6e626" stroke="#f6e626">
<use href="#h" x="292.4" y="672.7"/><use href="#h" x="430.5" y="672.7"/><use href="#h" x="274.0" y="689.9"/><use href="#h" x="283.2" y="707.2"/><use href="#h" x="716.0" y="707.2"/><use href="#h" x="725.3" y="707.2"/><use href="#h" x="891.0" y="707.2"/><use href="#h" x="421.3" y="724.5"/><use href="#h" x="679.2" y="724.5"/><use href="#h" x="798.9" y="741.7"/>
</g>
<g fill="#fad824" stroke="#fad824">
<use href="#h" x="301.6" y="672.7"/><use href="#h" x="421.3" y="672.7"/><use href="#h" x="495.0" y="672.7"/><use href="#h" x="706.8" y="672.7"/><use href="#h" x="752.9" y="689.9"/><use href="#h" x="347.6" y="707.2"/><use href="#h" x="375.3" y="707.2"/><use href="#h" x="541.1" y="707.2"/><use href="#h" x="550.3" y="707.2"/><use href="#h" x="577.9" y="707.2"/><use href="#h" x="706.8" y="707.2"/><use href="#h" x="762.1" y="707.2"/><use href="#h" x="835.8" y="707.2"/><use href="#h" x="909.5" y="707.2"/><use href="#h" x="983.1" y="707.2"/><use href="#h" x="568.7" y="724.5"/><use href="#h" x="891.0" y="724.5"/><use href="#h" x="1001.6" y="724.5"/><use href="#h" x="771.3" y="741.7"/><use href="#h" x="762.1" y="759.0"/><use href="#h" x="706.8" y="776.3"/>
</g>
<g fill="#fcce25" stroke="#fcce25">
<use href="#h" x="320.0" y="672.7"/><use href="#h" x="329.2" y="672.7"/><use href="#h" x="402.9" y="672.7"/><use href="#h" x="605.5" y="672.7"/><use href="#h" x="771.3" y="672.7"/><use href="#h" x="808.1" y="672.7"/><use href="#h" x="559.5" y="689.9"/><use href="#h" x="623.9" y="689.9"/><use href="#h" x="881.8" y="689.9"/><use href="#h" x="1121.3" y="689.9"/><use href="#h" x="559.5" y="707.2"/><use href="#h" x="1001.6" y="707.2"/><use href="#h" x="1121.3" y="707.2"/><use href="#h" x="531.9" y="724.5"/><use href="#h" x="577.9" y="724.5"/><use href="#h" x="310.8" y="741.7"/><use href="#h" x="789.7" y="741.7"/><use href="#h" x="283.2" y="759.0"/><use href="#h" x="402.9" y="759.0"/><use href="#h" x="430.5" y="759.0"/><use href="#h" x="642.4" y="759.0"/><use href="#h" x="430.5" y="776.3"/><use href="#h" x="881.8" y="776.3"/><use href="#h" x="918.7" y="793.5"/><use href="#h" x="697.6" y="810.8"/><use href="#h" x="752.9" y="810.8"/><use href="#h" x="697.6" y="828.1"/>
</g>
<g fill="#fcd225" stroke="#fcd225">
<use href="#h" x="356.9" y="672.7"/><use href="#h" x="476.6" y="672.7"/><use href="#h" x="891.0" y="672.7"/><use href="#h" x="568.7" y="689.9"/><use href="#h" x="347.6" y="724.5"/><use href="#h" x="356.9" y="724.5"/><use href="#h" x="283.2" y="741.7"/><use href="#h" x="329.2" y="741.7"/><use href="#h" x="485.8" y="741.7"/><use href="#h" x="577.9" y="741.7"/><use href="#h" x="762.1" y="741.7"/><use href="#h" x="688.4" y="759.0"/><use href="#h" x="835.8" y="759.0"/><use href="#h" x="660.8" y="776.3"/><use href="#h" x="706.8" y="810.8"/><use href="#h" x="927.9" y="879.9"/>
</g>
<g fill="#fdc827" stroke="#fdc827">
<use href="#h" x="375.3" y="672.7"/><use href="#h" x="559.5" y="672.7"/><use href="#h" x="568.7" y="672.7"/><use href="#h" x="845.0" y="672.7"/><use href="#h" x="992.4" y="689.9"/><use href="#h" x="614.7" y="724.5"/><use href="#h" x="1093.7" y="759.0"/><use href="#h" x="550.3" y="776.3"/><use href="#h" x="430.5" y="793.5"/><use href="#h" x="651.6" y="793.5"/><use href="#h" x="660.8" y="793.5"/><use href="#h" x="688.4" y="793.5"/><use href="#h" x="798.9" y="793.5"/><use href="#h" x="808.1" y="793.5"/><use href="#h" x="808.1" y="810.8"/><use href="#h" x="817.4" y="828.1"/><use href="#h" x="752.9" y="845.4"/><use href="#h" x="706.8" y="862.6"/><use href="#h" x="826.6" y="862.6"/>
</g>
<g fill="#f7e225" stroke="#f7e225">
<use href="#h" x="384.5" y="672.7"/><use href="#h" x="393.7" y="689.9"/><use href="#h" x="421.3" y="689.9"/><use href="#h" x="495.0" y="689.9"/><use href="#h" x="550.3" y="689.9"/><use href="#h" x="688.4" y="689.9"/><use href="#h" x="679.2" y="707.2"/><use href="#h" x="752.9" y="707.2"/><use href="#h" x="798.9" y="707.2"/><use href="#h" x="513.4" y="724.5"/><use href="#h" x="651.6" y="724.5"/><use href="#h" x="697.6" y="724.5"/><use href="#h" x="642.4" y="741.7"/><use href="#h" x="458.2" y="759.0"/>
</g>
<g fill="#fada24" stroke="#fada24">
<use href="#h" x="393.7" y="672.7"/><use href="#h" x="734.5" y="672.7"/><use href="#h" x="964.7" y="672.7"/><use href="#h" x="614.7" y="689.9"/><use href="#h" x="679.2" y="689.9"/><use href="#h" x="697.6" y="689.9"/><use href="#h" x="743.7" y="689.9"/><use href="#h" x="983.1" y="689.9"/><use href="#h" x="292.4" y="707.2"/><use href="#h" x="623.9" y="707.2"/><use href="#h" x="927.9" y="707.2"/><use href="#h" x="559.5" y="724.5"/><use href="#h" x="706.8" y="724.5"/><use href="#h" x="872.6" y="724.5"/><use href="#h" x="909.5" y="724.5"/><use href="#h" x="347.6" y="741.7"/><use href="#h" x="909.5" y="741.7"/><use href="#h" x="918.7" y="741.7"/><use href="#h" x="964.7" y="741.7"/><use href="#h" x="927.9" y="759.0"/><use href="#h" x="467.4" y="776.3"/><use href="#h" x="927.9" y="776.3"/>
</g>
<g fill="#fbd524" stroke="#fbd524">
<use href="#h" x="412.1" y="672.7"/><use href="#h" x="513.4" y="672.7"/><use href="#h" x="835.8" y="672.7"/><use href="#h" x="605.5" y="689.9"/><use href="#h" x="633.2" y="689.9"/><use href="#h" x="891.0" y="689.9"/><use href="#h" x="605.5" y="707.2"/><use href="#h" x="992.4" y="707.2"/><use href="#h" x="485.8" y="724.5"/><use href="#h" x="734.5" y="724.5"/><use href="#h" x="992.4" y="724.5"/><use href="#h" x="274.0" y="741.7"/><use href="#h" x="375.3" y="741.7"/><use href="#h" x="734.5" y="741.7"/><use href="#h" x="817.4" y="741.7"/><use href="#h" x="872.6" y="741.7"/><use href="#h" x="927.9" y="741.7"/><use href="#h" x="808.1" y="759.0"/><use href="#h" x="798.9" y="776.3"/><use href="#h" x="808.1" y="776.3"/>
</g>
<g fill="#f0f921" stroke="#f0f921">
<use href="#h" x="439.8" y="672.7"/><use href="#h" x="439.8" y="689.9"/><use href="#h" x="449.0" y="689.9"/><use href="#h" x="458.2" y="689.9"/><use href="#h" x="412.1" y="707.2"/><use href="#h" x="430.5" y="707.2"/><use href="#h" x="439.8" y="707.2"/><use href="#h" x="449.0" y="707.2"/><use href="#h" x="458.2" y="707.2"/><use href="#h" x="467.4" y="707.2"/><use href="#h" x="651.6" y="707.2"/><use href="#h" x="430.5" y="724.5"/><use href="#h" x="449.0" y="724.5"/><use href="#h" x="458.2" y="724.5"/><use href="#h" x="467.4" y="724.5"/>
</g>
<g fill="#f0f724" stroke="#f0f724">
<use href="#h" x="449.0" y="672.7"/><use href="#h" x="301.6" y="689.9"/><use href="#h" x="430.5" y="689.9"/><use href="#h" x="467.4" y="689.9"/><use href="#h" x="384.5" y="707.2"/><use href="#h" x="495.0" y="707.2"/><use href="#h" x="725.3" y="724.5"/><use href="#h" x="458.2" y="741.7"/>
</g>
<g fill="#f3ee27" stroke="#f3ee27">
<use href="#h" x="458.2" y="672.7"/><use href="#h" x="467.4" y="672.7"/><use href="#h" x="660.8" y="672.7"/><use href="#h" x="476.6" y="689.9"/><use href="#h" x="642.4" y="689.9"/><use href="#h" x="789.7" y="707.2"/><use href="#h" x="329.2" y="724.5"/><use href="#h" x="467.4" y="741.7"/>
</g>
<g fill="#f9dd25" stroke="#f9dd25">
<use href="#h" x="651.6" y="672.7"/><use href="#h" x="918.7" y="672.7"/><use href="#h" x="531.9" y="689.9"/><use href="#h" x="771.3" y="689.9"/><use href="#h" x="918.7" y="689.9"/><use href="#h" x="587.1" y="707.2"/><use href="#h" x="900.2" y="707.2"/><use href="#h" x="274.0" y="724.5"/><use href="#h" x="320.0" y="724.5"/><use href="#h" x="375.3" y="724.5"/><use href="#h" x="393.7" y="724.5"/><use href="#h" x="716.0" y="724.5"/><use href="#h" x="301.6" y="741.7"/><use href="#h" x="402.9" y="741.7"/><use href="#h" x="439.8" y="741.7"/><use href="#h" x="679.2" y="759.0"/>
</g>
<g fill="#f7e425" stroke="#f7e425">
<use href="#h" x="697.6" y="672.7"/><use href="#h" x="817.4" y="672.7"/><use href="#h" x="762.1" y="689.9"/><use href="#h" x="780.5" y="689.9"/><use href="#h" x="798.9" y="689.9"/><use href="#h" x="826.6" y="689.9"/><use href="#h" x="835.8" y="689.9"/><use href="#h" x="642.4" y="707.2"/><use href="#h" x="670.0" y="707.2"/><use href="#h" x="292.4" y="724.5"/><use href="#h" x="301.6" y="724.5"/><use href="#h" x="412.1" y="741.7"/><use href="#h" x="651.6" y="741.7"/><use href="#h" x="688.4" y="741.7"/><use href="#h" x="706.8" y="741.7"/><use href="#h" x="835.8" y="741.7"/><use href="#h" x="670.0" y="759.0"/><use href="#h" x="706.8" y="759.0"/>
</g>
<g fill="#f2f227" stroke="#f2f227">
<use href="#h" x="716.0" y="672.7"/><use href="#h" x="402.9" y="689.9"/><use href="#h" x="393.7" y="707.2"/><use href="#h" x="421.3" y="707.2"/>
</g>
<g fill="#f9dc24" stroke="#f9dc24">
<use href="#h" x="798.9" y="672.7"/><use href="#h" x="927.9" y="672.7"/><use href="#h" x="329.2" y="707.2"/><use href="#h" x="660.8" y="707.2"/><use href="#h" x="808.1" y="707.2"/><use href="#h" x="310.8" y="724.5"/><use href="#h" x="366.1" y="724.5"/><use href="#h" x="402.9" y="724.5"/><use href="#h" x="541.1" y="741.7"/><use href="#h" x="614.7" y="741.7"/><use href="#h" x="458.2" y="776.3"/><use href="#h" x="716.0" y="776.3"/>
</g>
<g fill="#f8e125" stroke="#f8e125">
<use href="#h" x="283.2" y="689.9"/><use href="#h" x="412.1" y="689.9"/><use href="#h" x="651.6" y="689.9"/><use href="#h" x="725.3" y="689.9"/><use href="#h" x="513.4" y="707.2"/><use href="#h" x="531.9" y="707.2"/><use href="#h" x="697.6" y="707.2"/><use href="#h" x="734.5" y="707.2"/><use href="#h" x="495.0" y="724.5"/><use href="#h" x="642.4" y="724.5"/><use href="#h" x="927.9" y="724.5"/><use href="#h" x="467.4" y="759.0"/><use href="#h" x="817.4" y="759.0"/>
</g>
<g fill="#f5eb27" stroke="#f5eb27">
<use href="#h" x="292.4" y="689.9"/><use href="#h" x="338.4" y="689.9"/><use href="#h" x="356.9" y="689.9"/><use href="#h" x="670.0" y="689.9"/><use href="#h" x="743.7" y="707.2"/><use href="#h" x="743.7" y="724.5"/><use href="#h" x="808.1" y="724.5"/>
</g>
<g fill="#f4ed27" stroke="#f4ed27">
<use href="#h" x="310.8" y="689.9"/><use href="#h" x="485.8" y="689.9"/><use href="#h" x="734.5" y="689.9"/><use href="#h" x="817.4" y="689.9"/><use href="#h" x="301.6" y="707.2"/><use href="#h" x="338.4" y="707.2"/><use href="#h" x="356.9" y="707.2"/><use href="#h" x="688.4" y="707.2"/><use href="#h" x="430.5" y="741.7"/><use href="#h" x="808.1" y="741.7"/>
</g>
<g fill="#f1f525" stroke="#f1f525">
<use href="#h" x="384.5" y="689.9"/><use href="#h" x="402.9" y="707.2"/><use href="#h" x="918.7" y="707.2"/>
</g>
<g fill="#f6e826" stroke="#f6e826">
<use href="#h" x="504.2" y="689.9"/><use href="#h" x="513.4" y="689.9"/><use href="#h" x="274.0" y="707.2"/><use href="#h" x="412.1" y="724.5"/><use href="#h" x="826.6" y="724.5"/><use href="#h" x="835.8" y="724.5"/><use href="#h" x="918.7" y="724.5"/><use href="#h" x="449.0" y="741.7"/><use href="#h" x="679.2" y="741.7"/><use href="#h" x="697.6" y="741.7"/><use href="#h" x="725.3" y="741.7"/><use href="#h" x="449.0" y="759.0"/>
</g>
<g fill="#f5e926" stroke="#f5e926">
<use href="#h" x="660.8" y="689.9"/><use href="#h" x="789.7" y="689.9"/><use href="#h" x="808.1" y="689.9"/><use href="#h" x="310.8" y="707.2"/><use href="#h" x="771.3" y="707.2"/><use href="#h" x="817.4" y="707.2"/><use href="#h" x="826.6" y="707.2"/><use href="#h" x="384.5" y="724.5"/><use href="#h" x="476.6" y="724.5"/><use href="#h" x="762.1" y="724.5"/><use href="#h" x="660.8" y="741.7"/>
</g>
<g fill="#f1f426" stroke="#f1f426">
<use href="#h" x="485.8" y="707.2"/><use href="#h" x="439.8" y="724.5"/>
</g>
<g fill="#f3f027" stroke="#f3f027">
<use href="#h" x="504.2" y="724.5"/><use href="#h" x="688.4" y="724.5"/><use href="#h" x="439.8" y="759.0"/>
</g>
<g fill="#f99a3e" stroke="#f99a3e">
<use href="#h" x="320.0" y="810.8"/><use href="#h" x="375.3" y="810.8"/><use href="#h" x="541.1" y="810.8"/><use href="#h" x="421.3" y="828.1"/><use href="#h" x="550.3" y="828.1"/><use href="#h" x="1093.7" y="828.1"/><use href="#h" x="946.3" y="845.4"/><use href="#h" x="845.0" y="862.6"/><use href="#h" x="1121.3" y="862.6"/><use href="#h" x="1130.5" y="862.6"/><use href="#h" x="587.1" y="879.9"/><use href="#h" x="1093.7" y="879.9"/><use href="#h" x="891.0" y="897.2"/><use href="#h" x="1001.6" y="897.2"/><use href="#h" x="845.0" y="914.4"/><use href="#h" x="881.8" y="914.4"/><use href="#h" x="660.8" y="931.7"/><use href="#h" x="752.9" y="931.7"/><use href="#h" x="660.8" y="949.0"/><use href="#h" x="651.6" y="966.2"/><use href="#h" x="670.0" y="966.2"/><use href="#h" x="798.9" y="1000.8"/>
</g>
<g fill="#0d0887" stroke="#0d0887">
<use href="#h" x="269.4" y="474.0"/><use href="#h" x="287.8" y="474.0"/><use href="#h" x="297.0" y="474.0"/><use href="#h" x="315.4" y="474.0"/><use href="#h" x="481.2" y="474.0"/><use href="#h" x="490.4" y="474.0"/><use href="#h" x="564.1" y="474.0"/><use href="#h" x="656.2" y="474.0"/><use href="#h" x="683.8" y="474.0"/><use href="#h" x="775.9" y="474.0"/><use href="#h" x="794.3" y="474.0"/><use href="#h" x="868.0" y="474.0"/><use href="#h" x="904.9" y="474.0"/><use href="#h" x="969.3" y="474.0"/><use href="#h" x="987.7" y="474.0"/><use href="#h" x="997.0" y="474.0"/><use href="#h" x="1024.6" y="474.0"/><use href="#h" x="1089.1" y="474.0"/><use href="#h" x="1144.3" y="474.0"/><use href="#h" x="287.8" y="491.3"/><use href="#h" x="297.0" y="491.3"/><use href="#h" x="306.2" y="491.3"/><use href="#h" x="444.4" y="491.3"/><use href="#h" x="453.6" y="491.3"/><use href="#h" x="499.6" y="491.3"/><use href="#h" x="518.0" y="491.3"/><use href="#h" x="527.2" y="491.3"/><use href="#h" x="564.1" y="491.3"/><use href="#h" x="591.7" y="491.3"/><use href="#h" x="610.1" y="491.3"/><use href="#h" x="619.3" y="491.3"/><use href="#h" x="647.0" y="491.3"/><use href="#h" x="665.4" y="491.3"/><use href="#h" x="702.2" y="491.3"/><use href="#h" x="711.4" y="491.3"/><use href="#h" x="720.7" y="491.3"/><use href="#h" x="729.9" y="491.3"/><use href="#h" x="757.5" y="491.3"/><use href="#h" x="766.7" y="491.3"/><use href="#h" x="803.5" y="491.3"/><use href="#h" x="812.8" y="491.3"/><use href="#h" x="822.0" y="491.3"/><use href="#h" x="831.2" y="491.3"/><use href="#h" x="895.6" y="491.3"/><use href="#h" x="987.7" y="491.3"/><use href="#h" x="997.0" y="491.3"/><use href="#h" x="1098.3" y="491.3"/><use href="#h" x="1107.5" y="491.3"/><use href="#h" x="1144.3" y="491.3"/><use href="#h" x="269.4" y="508.6"/><use href="#h" x="278.6" y="508.6"/><use href="#h" x="315.4" y="508.6"/><use href="#h" x="379.9" y="508.6"/><use href="#h" x="389.1" y="508.6"/><use href="#h" x="398.3" y="508.6"/><use href="#h" x="453.6" y="508.6"/><use href="#h" x="490.4" y="508.6"/><use href="#h" x="499.6" y="508.6"/><use href="#h" x="508.8" y="508.6"/><use href="#h" x="554.9" y="508.6"/><use href="#h" x="564.1" y="508.6"/><use href="#h" x="573.3" y="508.6"/><use href="#h" x="619.3" y="508.6"/><use href="#h" x="656.2" y="508.6"/><use href="#h" x="674.6" y="508.6"/><use href="#h" x="711.4" y="508.6"/><use href="#h" x="739.1" y="508.6"/><use href="#h" x="785.1" y="508.6"/><use href="#h" x="794.3" y="508.6"/><use href="#h" x="812.8" y="508.6"/><use href="#h" x="849.6" y="508.6"/><use href="#h" x="877.2" y="508.6"/><use href="#h" x="904.9" y="508.6"/><use href="#h" x="941.7" y="508.6"/><use href="#h" x="969.3" y="508.6"/><use href="#h" x="987.7" y="508.6"/><use href="#h" x="1015.4" y="508.6"/><use href="#h" x="1024.6" y="508.6"/><use href="#h" x="1070.6" y="508.6"/><use href="#h" x="1098.3" y="508.6"/><use href="#h" x="1116.7" y="508.6"/><use href="#h" x="1153.5" y="508.6"/><use href="#h" x="1181.2" y="508.6"/><use href="#h" x="269.4" y="525.9"/><use href="#h" x="297.0" y="525.9"/><use href="#h" x="324.6" y="525.9"/><use href="#h" x="398.3" y="525.9"/><use href="#h" x="416.7" y="525.9"/><use href="#h" x="444.4" y="525.9"/><use href="#h" x="462.8" y="525.9"/><use href="#h" x="472.0" y="525.9"/><use href="#h" x="518.0" y="525.9"/><use href="#h" x="545.7" y="525.9"/><use href="#h" x="573.3" y="525.9"/><use href="#h" x="582.5" y="525.9"/><use href="#h" x="628.6" y="525.9"/><use href="#h" x="693.0" y="525.9"/><use href="#h" x="729.9" y="525.9"/><use href="#h" x="822.0" y="525.9"/><use href="#h" x="840.4" y="525.9"/><use href="#h" x="849.6" y="525.9"/><use href="#h" x="904.9" y="525.9"/><use href="#h" x="960.1" y="525.9"/><use href="#h" x="969.3" y="525.9"/><use href="#h" x="987.7" y="525.9"/><use href="#h" x="997.0" y="525.9"/><use href="#h" x="1006.2" y="525.9"/><use href="#h" x="1033.8" y="525.9"/><use href="#h" x="1052.2" y="525.9"/><use href="#h" x="1079.8" y="525.9"/><use href="#h" x="1125.9" y="525.9"/><use href="#h" x="1135.1" y="525.9"/><use href="#h" x="1162.7" y="525.9"/><use href="#h" x="1171.9" y="525.9"/><use href="#h" x="269.4" y="543.1"/><use href="#h" x="297.0" y="543.1"/><use href="#h" x="315.4" y="543.1"/><use href="#h" x="333.8" y="543.1"/><use href="#h" x="370.7" y="543.1"/><use href="#h" x="389.1" y="543.1"/><use href="#h" x="398.3" y="543.1"/><use href="#h" x="472.0" y="543.1"/><use href="#h" x="545.7" y="543.1"/><use href="#h" x="554.9" y="543.1"/><use href="#h" x="573.3" y="543.1"/><use href="#h" x="582.5" y="543.1"/><use href="#h" x="600.9" y="543.1"/><use href="#h" x="637.8" y="543.1"/><use href="#h" x="693.0" y="543.1"/><use href="#h" x="720.7" y="543.1"/><use href="#h" x="729.9" y="543.1"/><use href="#h" x="766.7" y="543.1"/><use href="#h" x="775.9" y="543.1"/><use href="#h" x="812.8" y="543.1"/><use href="#h" x="822.0" y="543.1"/><use href="#h" x="840.4" y="543.1"/><use href="#h" x="932.5" y="543.1"/><use href="#h" x="969.3" y="543.1"/><use href="#h" x="997.0" y="543.1"/><use href="#h" x="1006.2" y="543.1"/><use href="#h" x="1015.4" y="543.1"/><use href="#h" x="1024.6" y="543.1"/><use href="#h" x="1089.1" y="543.1"/><use href="#h" x="1125.9" y="543.1"/><use href="#h" x="1144.3" y="543.1"/><use href="#h" x="1153.5" y="543.1"/><use href="#h" x="1162.7" y="543.1"/><use href="#h" x="269.4" y="560.4"/><use href="#h" x="518.0" y="560.4"/><use href="#h" x="536.5" y="560.4"/><use href="#h" x="582.5" y="560.4"/><use href="#h" x="610.1" y="560.4"/><use href="#h" x="932.5" y="560.4"/><use href="#h" x="941.7" y="560.4"/><use href="#h" x="1006.2" y="560.4"/><use href="#h" x="1098.3" y="560.4"/><use href="#h" x="333.8" y="577.7"/><use href="#h" x="1162.7" y="577.7"/><use href="#h" x="1098.3" y="957.6"/><use href="#h" x="1171.9" y="957.6"/><use href="#h" x="1089.1" y="974.9"/><use href="#h" x="1144.3" y="974.9"/><use href="#h" x="1098.3" y="992.1"/><use href="#h" x="1116.7" y="992.1"/><use href="#h" x="1135.1" y="992.1"/><use href="#h" x="1024.6" y="1009.4"/><use href="#h" x="1043.0" y="1009.4"/><use href="#h" x="1052.2" y="1009.4"/><use href="#h" x="1079.8" y="1009.4"/><use href="#h" x="278.6" y="1026.7"/><use href="#h" x="941.7" y="1026.7"/><use href="#h" x="1006.2" y="1026.7"/><use href="#h" x="1043.0" y="1026.7"/><use href="#h" x="315.4" y="1044.0"/><use href="#h" x="969.3" y="1044.0"/><use href="#h" x="987.7" y="1044.0"/><use href="#h" x="997.0" y="1044.0"/><use href="#h" x="950.9" y="1061.2"/><use href="#h" x="849.6" y="1078.5"/><use href="#h" x="868.0" y="1078.5"/><use href="#h" x="895.6" y="1078.5"/><use href="#h" x="904.9" y="1078.5"/><use href="#h" x="914.1" y="1078.5"/><use href="#h" x="923.3" y="1078.5"/><use href="#h" x="960.1" y="1078.5"/><use href="#h" x="868.0" y="1095.8"/><use href="#h" x="886.4" y="1095.8"/><use href="#h" x="904.9" y="1095.8"/><use href="#h" x="278.6" y="1113.0"/><use href="#h" x="324.6" y="1113.0"/><use href="#h" x="822.0" y="1113.0"/><use href="#h" x="849.6" y="1113.0"/><use href="#h" x="868.0" y="1113.0"/><use href="#h" x="785.1" y="1130.3"/><use href="#h" x="822.0" y="1130.3"/><use href="#h" x="269.4" y="1147.6"/><use href="#h" x="343.0" y="1147.6"/><use href="#h" x="775.9" y="1147.6"/><use href="#h" x="794.3" y="1147.6"/><use href="#h" x="812.8" y="1147.6"/><use href="#h" x="822.0" y="1147.6"/><use href="#h" x="269.4" y="1164.8"/><use href="#h" x="370.7" y="1164.8"/><use href="#h" x="693.0" y="1164.8"/><use href="#h" x="711.4" y="1164.8"/><use href="#h" x="729.9" y="1164.8"/><use href="#h" x="748.3" y="1164.8"/><use href="#h" x="785.1" y="1164.8"/><use href="#h" x="352.3" y="1182.1"/><use href="#h" x="647.0" y="1182.1"/><use href="#h" x="656.2" y="1182.1"/><use href="#h" x="665.4" y="1182.1"/><use href="#h" x="702.2" y="1182.1"/><use href="#h" x="748.3" y="1182.1"/><use href="#h" x="269.4" y="1199.4"/><use href="#h" x="637.8" y="1199.4"/><use href="#h" x="656.2" y="1199.4"/><use href="#h" x="665.4" y="1199.4"/><use href="#h" x="683.8" y="1199.4"/><use href="#h" x="711.4" y="1199.4"/><use href="#h" x="278.6" y="1216.7"/><use href="#h" x="287.8" y="1216.7"/><use href="#h" x="297.0" y="1216.7"/><use href="#h" x="306.2" y="1216.7"/><use href="#h" x="324.6" y="1216.7"/><use href="#h" x="333.8" y="1216.7"/><use href="#h" x="619.3" y="1216.7"/><use href="#h" x="628.6" y="1216.7"/><use href="#h" x="656.2" y="1216.7"/><use href="#h" x="665.4" y="1216.7"/><use href="#h" x="278.6" y="1233.9"/><use href="#h" x="287.8" y="1233.9"/><use href="#h" x="315.4" y="1233.9"/><use href="#h" x="361.5" y="1233.9"/><use href="#h" x="582.5" y="1233.9"/><use href="#h" x="591.7" y="1233.9"/><use href="#h" x="619.3" y="1233.9"/><use href="#h" x="269.4" y="1251.2"/><use href="#h" x="297.0" y="1251.2"/><use href="#h" x="306.2" y="1251.2"/><use href="#h" x="361.5" y="1251.2"/><use href="#h" x="398.3" y="1251.2"/><use href="#h" x="564.1" y="1251.2"/><use href="#h" x="582.5" y="1251.2"/><use href="#h" x="619.3" y="1251.2"/><use href="#h" x="628.6" y="1251.2"/><use href="#h" x="269.4" y="1268.5"/><use href="#h" x="287.8" y="1268.5"/><use href="#h" x="306.2" y="1268.5"/><use href="#h" x="324.6" y="1268.5"/><use href="#h" x="361.5" y="1268.5"/><use href="#h" x="518.0" y="1268.5"/><use href="#h" x="527.2" y="1268.5"/><use href="#h" x="554.9" y="1268.5"/><use href="#h" x="564.1" y="1268.5"/><use href="#h" x="619.3" y="1268.5"/><use href="#h" x="269.4" y="1285.7"/><use href="#h" x="297.0" y="1285.7"/><use href="#h" x="333.8" y="1285.7"/><use href="#h" x="370.7" y="1285.7"/><use href="#h" x="508.8" y="1285.7"/><use href="#h" x="518.0" y="1285.7"/><use href="#h" x="545.7" y="1285.7"/><use href="#h" x="591.7" y="1285.7"/><use href="#h" x="278.6" y="1303.0"/><use href="#h" x="297.0" y="1303.0"/><use href="#h" x="333.8" y="1303.0"/><use href="#h" x="352.3" y="1303.0"/><use href="#h" x="527.2" y="1303.0"/><use href="#h" x="536.5" y="1303.0"/><use href="#h" x="591.7" y="1303.0"/><use href="#h" x="269.4" y="1320.3"/><use href="#h" x="287.8" y="1320.3"/><use href="#h" x="306.2" y="1320.3"/><use href="#h" x="324.6" y="1320.3"/><use href="#h" x="333.8" y="1320.3"/><use href="#h" x="343.0" y="1320.3"/><use href="#h" x="490.4" y="1320.3"/><use href="#h" x="527.2" y="1320.3"/><use href="#h" x="545.7" y="1320.3"/><use href="#h" x="297.0" y="1337.5"/><use href="#h" x="333.8" y="1337.5"/><use href="#h" x="352.3" y="1337.5"/><use href="#h" x="361.5" y="1337.5"/><use href="#h" x="407.5" y="1337.5"/><use href="#h" x="425.9" y="1337.5"/><use href="#h" x="472.0" y="1337.5"/><use href="#h" x="481.2" y="1337.5"/><use href="#h" x="508.8" y="1337.5"/><use href="#h" x="536.5" y="1337.5"/><use href="#h" x="306.2" y="1354.8"/><use href="#h" x="315.4" y="1354.8"/><use href="#h" x="324.6" y="1354.8"/><use href="#h" x="361.5" y="1354.8"/><use href="#h" x="370.7" y="1354.8"/><use href="#h" x="462.8" y="1354.8"/><use href="#h" x="481.2" y="1354.8"/><use href="#h" x="499.6" y="1354.8"/><use href="#h" x="407.5" y="1372.1"/><use href="#h" x="416.7" y="1372.1"/><use href="#h" x="425.9" y="1372.1"/><use href="#h" x="435.1" y="1372.1"/><use href="#h" x="361.5" y="405.0"/><use href="#h" x="278.6" y="439.5"/><use href="#h" x="324.6" y="439.5"/><use href="#h" x="343.0" y="422.2"/><use href="#h" x="352.3" y="439.5"/><use href="#h" x="361.5" y="439.5"/><use href="#h" x="407.5" y="422.2"/><use href="#h" x="425.9" y="422.2"/><use href="#h" x="435.1" y="439.5"/><use href="#h" x="472.0" y="456.8"/><use href="#h" x="499.6" y="456.8"/><use href="#h" x="527.2" y="456.8"/><use href="#h" x="647.0" y="405.0"/><use href="#h" x="647.0" y="422.2"/><use href="#h" x="748.3" y="405.0"/><use href="#h" x="683.8" y="439.5"/><use href="#h" x="591.7" y="456.8"/><use href="#h" x="628.6" y="456.8"/><use href="#h" x="720.7" y="456.8"/><use href="#h" x="822.0" y="439.5"/><use href="#h" x="803.5" y="456.8"/><use href="#h" x="886.4" y="456.8"/><use href="#h" x="932.5" y="422.2"/><use href="#h" x="1052.2" y="405.0"/><use href="#h" x="1181.2" y="422.2"/><use href="#h" x="1015.4" y="439.5"/><use href="#h" x="1052.2" y="439.5"/><use href="#h" x="1162.7" y="456.8"/><use href="#h" x="877.2" y="1113.0"/><use href="#h" x="895.6" y="1113.0"/><use href="#h" x="877.2" y="1130.3"/><use href="#h" x="932.5" y="1113.0"/><use href="#h" x="978.5" y="1130.3"/><use href="#h" x="849.6" y="1164.8"/><use href="#h" x="858.8" y="1182.1"/><use href="#h" x="822.0" y="1182.1"/><use href="#h" x="877.2" y="1251.2"/><use href="#h" x="794.3" y="1268.5"/><use href="#h" x="997.0" y="1078.5"/><use href="#h" x="1116.7" y="1061.2"/><use href="#h" x="1162.7" y="1009.4"/>
</g>
<g fill="#4e02a2" stroke="#4e02a2">
<use href="#h" x="508.8" y="474.0"/><use href="#h" x="600.9" y="474.0"/><use href="#h" x="950.9" y="474.0"/><use href="#h" x="435.1" y="491.3"/><use href="#h" x="582.5" y="491.3"/><use href="#h" x="693.0" y="491.3"/><use href="#h" x="1006.2" y="491.3"/><use href="#h" x="1015.4" y="491.3"/><use href="#h" x="333.8" y="508.6"/><use href="#h" x="361.5" y="508.6"/><use href="#h" x="416.7" y="508.6"/><use href="#h" x="444.4" y="508.6"/><use href="#h" x="536.5" y="508.6"/><use href="#h" x="582.5" y="508.6"/><use href="#h" x="637.8" y="508.6"/><use href="#h" x="665.4" y="508.6"/><use href="#h" x="683.8" y="508.6"/><use href="#h" x="720.7" y="508.6"/><use href="#h" x="803.5" y="508.6"/><use href="#h" x="895.6" y="508.6"/><use href="#h" x="950.9" y="508.6"/><use href="#h" x="960.1" y="508.6"/><use href="#h" x="1089.1" y="508.6"/><use href="#h" x="278.6" y="525.9"/><use href="#h" x="379.9" y="525.9"/><use href="#h" x="435.1" y="525.9"/><use href="#h" x="527.2" y="525.9"/><use href="#h" x="536.5" y="525.9"/><use href="#h" x="554.9" y="525.9"/><use href="#h" x="600.9" y="525.9"/><use href="#h" x="637.8" y="525.9"/><use href="#h" x="647.0" y="525.9"/><use href="#h" x="674.6" y="525.9"/><use href="#h" x="711.4" y="525.9"/><use href="#h" x="766.7" y="525.9"/><use href="#h" x="803.5" y="525.9"/><use href="#h" x="831.2" y="525.9"/><use href="#h" x="858.8" y="525.9"/><use href="#h" x="941.7" y="525.9"/><use href="#h" x="1015.4" y="525.9"/><use href="#h" x="1144.3" y="525.9"/><use href="#h" x="278.6" y="543.1"/><use href="#h" x="287.8" y="543.1"/><use href="#h" x="343.0" y="543.1"/><use href="#h" x="416.7" y="543.1"/><use href="#h" x="490.4" y="543.1"/><use href="#h" x="508.8" y="543.1"/><use href="#h" x="527.2" y="543.1"/><use href="#h" x="591.7" y="543.1"/><use href="#h" x="628.6" y="543.1"/><use href="#h" x="665.4" y="543.1"/><use href="#h" x="674.6" y="543.1"/><use href="#h" x="683.8" y="543.1"/><use href="#h" x="785.1" y="543.1"/><use href="#h" x="849.6" y="543.1"/><use href="#h" x="858.8" y="543.1"/><use href="#h" x="868.0" y="543.1"/><use href="#h" x="877.2" y="543.1"/><use href="#h" x="886.4" y="543.1"/><use href="#h" x="941.7" y="543.1"/><use href="#h" x="950.9" y="543.1"/><use href="#h" x="960.1" y="543.1"/><use href="#h" x="1033.8" y="543.1"/><use href="#h" x="1070.6" y="543.1"/><use href="#h" x="1079.8" y="543.1"/><use href="#h" x="1107.5" y="543.1"/><use href="#h" x="1171.9" y="543.1"/><use href="#h" x="315.4" y="560.4"/><use href="#h" x="333.8" y="560.4"/><use href="#h" x="343.0" y="560.4"/><use href="#h" x="352.3" y="560.4"/><use href="#h" x="416.7" y="560.4"/><use href="#h" x="545.7" y="560.4"/><use href="#h" x="748.3" y="560.4"/><use href="#h" x="775.9" y="560.4"/><use href="#h" x="794.3" y="560.4"/><use href="#h" x="831.2" y="560.4"/><use href="#h" x="849.6" y="560.4"/><use href="#h" x="960.1" y="560.4"/><use href="#h" x="1015.4" y="560.4"/><use href="#h" x="1052.2" y="560.4"/><use href="#h" x="1107.5" y="560.4"/><use href="#h" x="1116.7" y="560.4"/><use href="#h" x="1181.2" y="560.4"/><use href="#h" x="343.0" y="577.7"/><use href="#h" x="886.4" y="577.7"/><use href="#h" x="1024.6" y="577.7"/><use href="#h" x="1089.1" y="577.7"/><use href="#h" x="1181.2" y="957.6"/><use href="#h" x="1033.8" y="974.9"/><use href="#h" x="1098.3" y="974.9"/><use href="#h" x="1153.5" y="974.9"/><use href="#h" x="297.0" y="992.1"/><use href="#h" x="1070.6" y="992.1"/><use href="#h" x="1107.5" y="992.1"/><use href="#h" x="269.4" y="1009.4"/><use href="#h" x="333.8" y="1009.4"/><use href="#h" x="1006.2" y="1009.4"/><use href="#h" x="1061.4" y="1009.4"/><use href="#h" x="315.4" y="1026.7"/><use href="#h" x="960.1" y="1026.7"/><use href="#h" x="978.5" y="1026.7"/><use href="#h" x="343.0" y="1044.0"/><use href="#h" x="297.0" y="1061.2"/><use href="#h" x="278.6" y="1078.5"/><use href="#h" x="269.4" y="1095.8"/><use href="#h" x="315.4" y="1095.8"/><use href="#h" x="352.3" y="1095.8"/><use href="#h" x="849.6" y="1095.8"/><use href="#h" x="877.2" y="1095.8"/><use href="#h" x="278.6" y="1130.3"/><use href="#h" x="287.8" y="1130.3"/><use href="#h" x="297.0" y="1130.3"/><use href="#h" x="333.8" y="1130.3"/><use href="#h" x="840.4" y="1130.3"/><use href="#h" x="278.6" y="1147.6"/><use href="#h" x="361.5" y="1147.6"/><use href="#h" x="287.8" y="1164.8"/><use href="#h" x="297.0" y="1164.8"/><use href="#h" x="315.4" y="1164.8"/><use href="#h" x="674.6" y="1164.8"/><use href="#h" x="683.8" y="1164.8"/><use href="#h" x="757.5" y="1164.8"/><use href="#h" x="775.9" y="1164.8"/><use href="#h" x="278.6" y="1182.1"/><use href="#h" x="306.2" y="1182.1"/><use href="#h" x="343.0" y="1182.1"/><use href="#h" x="554.9" y="1182.1"/><use href="#h" x="573.3" y="1182.1"/><use href="#h" x="674.6" y="1182.1"/><use href="#h" x="683.8" y="1182.1"/><use href="#h" x="693.0" y="1182.1"/><use href="#h" x="720.7" y="1182.1"/><use href="#h" x="278.6" y="1199.4"/><use href="#h" x="287.8" y="1199.4"/><use href="#h" x="333.8" y="1199.4"/><use href="#h" x="361.5" y="1199.4"/><use href="#h" x="389.1" y="1199.4"/><use href="#h" x="573.3" y="1199.4"/><use href="#h" x="582.5" y="1199.4"/><use href="#h" x="610.1" y="1199.4"/><use href="#h" x="619.3" y="1199.4"/><use href="#h" x="628.6" y="1199.4"/><use href="#h" x="702.2" y="1199.4"/><use href="#h" x="269.4" y="1216.7"/><use href="#h" x="379.9" y="1216.7"/><use href="#h" x="573.3" y="1216.7"/><use href="#h" x="269.4" y="1233.9"/><use href="#h" x="324.6" y="1233.9"/><use href="#h" x="343.0" y="1233.9"/><use href="#h" x="370.7" y="1233.9"/><use href="#h" x="610.1" y="1233.9"/><use href="#h" x="343.0" y="1251.2"/><use href="#h" x="379.9" y="1251.2"/><use href="#h" x="518.0" y="1251.2"/><use href="#h" x="554.9" y="1251.2"/><use href="#h" x="573.3" y="1251.2"/><use href="#h" x="591.7" y="1251.2"/><use href="#h" x="600.9" y="1251.2"/><use href="#h" x="610.1" y="1251.2"/><use href="#h" x="278.6" y="1268.5"/><use href="#h" x="297.0" y="1268.5"/><use href="#h" x="379.9" y="1268.5"/><use href="#h" x="545.7" y="1268.5"/><use href="#h" x="591.7" y="1268.5"/><use href="#h" x="278.6" y="1285.7"/><use href="#h" x="315.4" y="1285.7"/><use href="#h" x="343.0" y="1285.7"/><use href="#h" x="536.5" y="1285.7"/><use href="#h" x="554.9" y="1285.7"/><use href="#h" x="573.3" y="1285.7"/><use href="#h" x="269.4" y="1303.0"/><use href="#h" x="306.2" y="1303.0"/><use href="#h" x="370.7" y="1303.0"/><use href="#h" x="416.7" y="1303.0"/><use href="#h" x="490.4" y="1303.0"/><use href="#h" x="315.4" y="1320.3"/><use href="#h" x="352.3" y="1320.3"/><use href="#h" x="370.7" y="1320.3"/><use href="#h" x="499.6" y="1320.3"/><use href="#h" x="564.1" y="1320.3"/><use href="#h" x="287.8" y="1337.5"/><use href="#h" x="306.2" y="1337.5"/><use href="#h" x="389.1" y="1337.5"/><use href="#h" x="269.4" y="1354.8"/><use href="#h" x="297.0" y="1354.8"/><use href="#h" x="343.0" y="1354.8"/><use href="#h" x="352.3" y="1354.8"/><use href="#h" x="379.9" y="1354.8"/><use href="#h" x="398.3" y="1354.8"/><use href="#h" x="416.7" y="1354.8"/><use href="#h" x="425.9" y="1354.8"/><use href="#h" x="379.9" y="1372.1"/><use href="#h" x="297.0" y="422.2"/><use href="#h" x="720.7" y="422.2"/><use href="#h" x="1079.8" y="1044.0"/>
</g>
<g fill="#6e00a8" stroke="#6e00a8">
<use href="#h" x="324.6" y="491.3"/><use href="#h" x="757.5" y="508.6"/><use href="#h" x="840.4" y="508.6"/><use href="#h" x="1061.4" y="508.6"/><use href="#h" x="287.8" y="525.9"/><use href="#h" x="425.9" y="525.9"/><use href="#h" x="490.4" y="525.9"/><use href="#h" x="564.1" y="525.9"/><use href="#h" x="610.1" y="525.9"/><use href="#h" x="619.3" y="525.9"/><use href="#h" x="720.7" y="525.9"/><use href="#h" x="775.9" y="525.9"/><use href="#h" x="868.0" y="525.9"/><use href="#h" x="877.2" y="525.9"/><use href="#h" x="923.3" y="525.9"/><use href="#h" x="306.2" y="543.1"/><use href="#h" x="324.6" y="543.1"/><use href="#h" x="361.5" y="543.1"/><use href="#h" x="379.9" y="543.1"/><use href="#h" x="435.1" y="543.1"/><use href="#h" x="481.2" y="543.1"/><use href="#h" x="499.6" y="543.1"/><use href="#h" x="610.1" y="543.1"/><use href="#h" x="702.2" y="543.1"/><use href="#h" x="739.1" y="543.1"/><use href="#h" x="748.3" y="543.1"/><use href="#h" x="757.5" y="543.1"/><use href="#h" x="895.6" y="543.1"/><use href="#h" x="904.9" y="543.1"/><use href="#h" x="978.5" y="543.1"/><use href="#h" x="1052.2" y="543.1"/><use href="#h" x="398.3" y="560.4"/><use href="#h" x="407.5" y="560.4"/><use href="#h" x="425.9" y="560.4"/><use href="#h" x="508.8" y="560.4"/><use href="#h" x="564.1" y="560.4"/><use href="#h" x="729.9" y="560.4"/><use href="#h" x="757.5" y="560.4"/><use href="#h" x="785.1" y="560.4"/><use href="#h" x="978.5" y="560.4"/><use href="#h" x="1033.8" y="560.4"/><use href="#h" x="1070.6" y="560.4"/><use href="#h" x="1079.8" y="560.4"/><use href="#h" x="1089.1" y="560.4"/><use href="#h" x="1125.9" y="560.4"/><use href="#h" x="1144.3" y="560.4"/><use href="#h" x="1171.9" y="560.4"/><use href="#h" x="389.1" y="577.7"/><use href="#h" x="619.3" y="577.7"/><use href="#h" x="628.6" y="577.7"/><use href="#h" x="785.1" y="577.7"/><use href="#h" x="1043.0" y="577.7"/><use href="#h" x="1052.2" y="577.7"/><use href="#h" x="352.3" y="594.9"/><use href="#h" x="1153.5" y="957.6"/><use href="#h" x="269.4" y="974.9"/><use href="#h" x="1024.6" y="974.9"/><use href="#h" x="1061.4" y="974.9"/><use href="#h" x="1107.5" y="974.9"/><use href="#h" x="315.4" y="992.1"/><use href="#h" x="1015.4" y="992.1"/><use href="#h" x="1061.4" y="992.1"/><use href="#h" x="1079.8" y="992.1"/><use href="#h" x="1015.4" y="1009.4"/><use href="#h" x="269.4" y="1026.7"/><use href="#h" x="333.8" y="1026.7"/><use href="#h" x="361.5" y="1026.7"/><use href="#h" x="950.9" y="1026.7"/><use href="#h" x="269.4" y="1044.0"/><use href="#h" x="361.5" y="1044.0"/><use href="#h" x="370.7" y="1044.0"/><use href="#h" x="960.1" y="1044.0"/><use href="#h" x="278.6" y="1061.2"/><use href="#h" x="287.8" y="1061.2"/><use href="#h" x="315.4" y="1061.2"/><use href="#h" x="343.0" y="1061.2"/><use href="#h" x="895.6" y="1061.2"/><use href="#h" x="923.3" y="1061.2"/><use href="#h" x="269.4" y="1078.5"/><use href="#h" x="315.4" y="1078.5"/><use href="#h" x="886.4" y="1078.5"/><use href="#h" x="278.6" y="1095.8"/><use href="#h" x="306.2" y="1095.8"/><use href="#h" x="269.4" y="1113.0"/><use href="#h" x="287.8" y="1113.0"/><use href="#h" x="343.0" y="1113.0"/><use href="#h" x="352.3" y="1113.0"/><use href="#h" x="361.5" y="1113.0"/><use href="#h" x="757.5" y="1130.3"/><use href="#h" x="812.8" y="1130.3"/><use href="#h" x="315.4" y="1147.6"/><use href="#h" x="324.6" y="1147.6"/><use href="#h" x="333.8" y="1147.6"/><use href="#h" x="711.4" y="1147.6"/><use href="#h" x="729.9" y="1147.6"/><use href="#h" x="757.5" y="1147.6"/><use href="#h" x="306.2" y="1164.8"/><use href="#h" x="324.6" y="1164.8"/><use href="#h" x="343.0" y="1164.8"/><use href="#h" x="702.2" y="1164.8"/><use href="#h" x="315.4" y="1182.1"/><use href="#h" x="324.6" y="1182.1"/><use href="#h" x="370.7" y="1182.1"/><use href="#h" x="628.6" y="1182.1"/><use href="#h" x="637.8" y="1182.1"/><use href="#h" x="297.0" y="1199.4"/><use href="#h" x="315.4" y="1199.4"/><use href="#h" x="647.0" y="1199.4"/><use href="#h" x="315.4" y="1216.7"/><use href="#h" x="352.3" y="1216.7"/><use href="#h" x="361.5" y="1216.7"/><use href="#h" x="582.5" y="1216.7"/><use href="#h" x="610.1" y="1216.7"/><use href="#h" x="637.8" y="1216.7"/><use href="#h" x="647.0" y="1216.7"/><use href="#h" x="333.8" y="1233.9"/><use href="#h" x="407.5" y="1233.9"/><use href="#h" x="518.0" y="1233.9"/><use href="#h" x="536.5" y="1233.9"/><use href="#h" x="564.1" y="1233.9"/><use href="#h" x="628.6" y="1233.9"/><use href="#h" x="287.8" y="1251.2"/><use href="#h" x="389.1" y="1251.2"/><use href="#h" x="536.5" y="1251.2"/><use href="#h" x="315.4" y="1268.5"/><use href="#h" x="370.7" y="1268.5"/><use href="#h" x="416.7" y="1268.5"/><use href="#h" x="481.2" y="1268.5"/><use href="#h" x="287.8" y="1285.7"/><use href="#h" x="306.2" y="1285.7"/><use href="#h" x="352.3" y="1285.7"/><use href="#h" x="379.9" y="1285.7"/><use href="#h" x="527.2" y="1285.7"/><use href="#h" x="315.4" y="1303.0"/><use href="#h" x="398.3" y="1303.0"/><use href="#h" x="407.5" y="1303.0"/><use href="#h" x="435.1" y="1303.0"/><use href="#h" x="472.0" y="1303.0"/><use href="#h" x="361.5" y="1320.3"/><use href="#h" x="407.5" y="1320.3"/><use href="#h" x="508.8" y="1320.3"/><use href="#h" x="278.6" y="1337.5"/><use href="#h" x="324.6" y="1337.5"/><use href="#h" x="379.9" y="1337.5"/><use href="#h" x="398.3" y="1337.5"/><use href="#h" x="435.1" y="1337.5"/><use href="#h" x="453.6" y="1337.5"/><use href="#h" x="490.4" y="1337.5"/><use href="#h" x="499.6" y="1337.5"/><use href="#h" x="518.0" y="1337.5"/><use href="#h" x="407.5" y="1354.8"/><use href="#h" x="490.4" y="1354.8"/>
</g>
<g fill="#8305a7" stroke="#8305a7">
<use href="#h" x="425.9" y="508.6"/><use href="#h" x="1162.7" y="508.6"/><use href="#h" x="407.5" y="525.9"/><use href="#h" x="1153.5" y="525.9"/><use href="#h" x="425.9" y="543.1"/><use href="#h" x="444.4" y="543.1"/><use href="#h" x="453.6" y="543.1"/><use href="#h" x="462.8" y="543.1"/><use href="#h" x="536.5" y="543.1"/><use href="#h" x="619.3" y="543.1"/><use href="#h" x="656.2" y="543.1"/><use href="#h" x="794.3" y="543.1"/><use href="#h" x="831.2" y="543.1"/><use href="#h" x="914.1" y="543.1"/><use href="#h" x="1061.4" y="543.1"/><use href="#h" x="1098.3" y="543.1"/><use href="#h" x="324.6" y="560.4"/><use href="#h" x="379.9" y="560.4"/><use href="#h" x="389.1" y="560.4"/><use href="#h" x="453.6" y="560.4"/><use href="#h" x="462.8" y="560.4"/><use href="#h" x="481.2" y="560.4"/><use href="#h" x="490.4" y="560.4"/><use href="#h" x="499.6" y="560.4"/><use href="#h" x="527.2" y="560.4"/><use href="#h" x="628.6" y="560.4"/><use href="#h" x="812.8" y="560.4"/><use href="#h" x="886.4" y="560.4"/><use href="#h" x="969.3" y="560.4"/><use href="#h" x="987.7" y="560.4"/><use href="#h" x="997.0" y="560.4"/><use href="#h" x="1061.4" y="560.4"/><use href="#h" x="1153.5" y="560.4"/><use href="#h" x="536.5" y="577.7"/><use href="#h" x="637.8" y="577.7"/><use href="#h" x="775.9" y="577.7"/><use href="#h" x="1153.5" y="577.7"/><use href="#h" x="1181.2" y="577.7"/><use href="#h" x="1162.7" y="594.9"/><use href="#h" x="1144.3" y="940.3"/><use href="#h" x="1171.9" y="940.3"/><use href="#h" x="1033.8" y="957.6"/><use href="#h" x="1043.0" y="957.6"/><use href="#h" x="1135.1" y="957.6"/><use href="#h" x="1116.7" y="974.9"/><use href="#h" x="1162.7" y="974.9"/><use href="#h" x="1089.1" y="992.1"/><use href="#h" x="287.8" y="1009.4"/><use href="#h" x="987.7" y="1009.4"/><use href="#h" x="306.2" y="1026.7"/><use href="#h" x="324.6" y="1026.7"/><use href="#h" x="969.3" y="1026.7"/><use href="#h" x="997.0" y="1026.7"/><use href="#h" x="278.6" y="1044.0"/><use href="#h" x="297.0" y="1044.0"/><use href="#h" x="324.6" y="1044.0"/><use href="#h" x="904.9" y="1044.0"/><use href="#h" x="333.8" y="1061.2"/><use href="#h" x="370.7" y="1061.2"/><use href="#h" x="914.1" y="1061.2"/><use href="#h" x="932.5" y="1061.2"/><use href="#h" x="297.0" y="1078.5"/><use href="#h" x="352.3" y="1078.5"/><use href="#h" x="324.6" y="1095.8"/><use href="#h" x="333.8" y="1095.8"/><use href="#h" x="343.0" y="1095.8"/><use href="#h" x="379.9" y="1095.8"/><use href="#h" x="297.0" y="1113.0"/><use href="#h" x="306.2" y="1113.0"/><use href="#h" x="315.4" y="1113.0"/><use href="#h" x="370.7" y="1113.0"/><use href="#h" x="729.9" y="1113.0"/><use href="#h" x="775.9" y="1113.0"/><use href="#h" x="812.8" y="1113.0"/><use href="#h" x="840.4" y="1113.0"/><use href="#h" x="306.2" y="1130.3"/><use href="#h" x="343.0" y="1130.3"/><use href="#h" x="352.3" y="1130.3"/><use href="#h" x="370.7" y="1130.3"/><use href="#h" x="739.1" y="1130.3"/><use href="#h" x="775.9" y="1130.3"/><use href="#h" x="287.8" y="1147.6"/><use href="#h" x="297.0" y="1147.6"/><use href="#h" x="352.3" y="1147.6"/><use href="#h" x="665.4" y="1147.6"/><use href="#h" x="739.1" y="1147.6"/><use href="#h" x="766.7" y="1147.6"/><use href="#h" x="333.8" y="1164.8"/><use href="#h" x="610.1" y="1164.8"/><use href="#h" x="628.6" y="1164.8"/><use href="#h" x="637.8" y="1164.8"/><use href="#h" x="665.4" y="1164.8"/><use href="#h" x="739.1" y="1164.8"/><use href="#h" x="361.5" y="1182.1"/><use href="#h" x="379.9" y="1182.1"/><use href="#h" x="545.7" y="1182.1"/><use href="#h" x="582.5" y="1182.1"/><use href="#h" x="729.9" y="1182.1"/><use href="#h" x="306.2" y="1199.4"/><use href="#h" x="324.6" y="1199.4"/><use href="#h" x="343.0" y="1199.4"/><use href="#h" x="370.7" y="1199.4"/><use href="#h" x="518.0" y="1199.4"/><use href="#h" x="545.7" y="1199.4"/><use href="#h" x="554.9" y="1199.4"/><use href="#h" x="343.0" y="1216.7"/><use href="#h" x="370.7" y="1216.7"/><use href="#h" x="518.0" y="1216.7"/><use href="#h" x="545.7" y="1216.7"/><use href="#h" x="591.7" y="1216.7"/><use href="#h" x="600.9" y="1216.7"/><use href="#h" x="297.0" y="1233.9"/><use href="#h" x="306.2" y="1233.9"/><use href="#h" x="379.9" y="1233.9"/><use href="#h" x="545.7" y="1233.9"/><use href="#h" x="554.9" y="1233.9"/><use href="#h" x="315.4" y="1251.2"/><use href="#h" x="324.6" y="1251.2"/><use href="#h" x="333.8" y="1251.2"/><use href="#h" x="352.3" y="1251.2"/><use href="#h" x="472.0" y="1251.2"/><use href="#h" x="499.6" y="1251.2"/><use href="#h" x="352.3" y="1268.5"/><use href="#h" x="398.3" y="1268.5"/><use href="#h" x="407.5" y="1268.5"/><use href="#h" x="361.5" y="1285.7"/><use href="#h" x="398.3" y="1285.7"/><use href="#h" x="435.1" y="1285.7"/><use href="#h" x="472.0" y="1285.7"/><use href="#h" x="481.2" y="1285.7"/><use href="#h" x="499.6" y="1285.7"/><use href="#h" x="287.8" y="1303.0"/><use href="#h" x="379.9" y="1303.0"/><use href="#h" x="425.9" y="1303.0"/><use href="#h" x="444.4" y="1303.0"/><use href="#h" x="481.2" y="1303.0"/><use href="#h" x="499.6" y="1303.0"/><use href="#h" x="379.9" y="1320.3"/><use href="#h" x="343.0" y="1337.5"/><use href="#h" x="416.7" y="1337.5"/><use href="#h" x="389.1" y="1354.8"/><use href="#h" x="444.4" y="1354.8"/>
</g>
<g fill="#920fa3" stroke="#920fa3">
<use href="#h" x="822.0" y="508.6"/><use href="#h" x="794.3" y="525.9"/><use href="#h" x="407.5" y="543.1"/><use href="#h" x="518.0" y="543.1"/><use href="#h" x="711.4" y="543.1"/><use href="#h" x="803.5" y="543.1"/><use href="#h" x="287.8" y="560.4"/><use href="#h" x="297.0" y="560.4"/><use href="#h" x="361.5" y="560.4"/><use href="#h" x="370.7" y="560.4"/><use href="#h" x="573.3" y="560.4"/><use href="#h" x="600.9" y="560.4"/><use href="#h" x="619.3" y="560.4"/><use href="#h" x="647.0" y="560.4"/><use href="#h" x="702.2" y="560.4"/><use href="#h" x="711.4" y="560.4"/><use href="#h" x="739.1" y="560.4"/><use href="#h" x="766.7" y="560.4"/><use href="#h" x="803.5" y="560.4"/><use href="#h" x="868.0" y="560.4"/><use href="#h" x="950.9" y="560.4"/><use href="#h" x="1024.6" y="560.4"/><use href="#h" x="361.5" y="577.7"/><use href="#h" x="370.7" y="577.7"/><use href="#h" x="379.9" y="577.7"/><use href="#h" x="407.5" y="577.7"/><use href="#h" x="416.7" y="577.7"/><use href="#h" x="564.1" y="577.7"/><use href="#h" x="877.2" y="577.7"/><use href="#h" x="923.3" y="577.7"/><use href="#h" x="950.9" y="577.7"/><use href="#h" x="978.5" y="577.7"/><use href="#h" x="1079.8" y="577.7"/><use href="#h" x="1098.3" y="577.7"/><use href="#h" x="1107.5" y="577.7"/><use href="#h" x="1015.4" y="594.9"/><use href="#h" x="1061.4" y="594.9"/><use href="#h" x="1181.2" y="940.3"/><use href="#h" x="343.0" y="957.6"/><use href="#h" x="1107.5" y="957.6"/><use href="#h" x="1116.7" y="957.6"/><use href="#h" x="1015.4" y="974.9"/><use href="#h" x="1043.0" y="974.9"/><use href="#h" x="1079.8" y="974.9"/><use href="#h" x="1125.9" y="974.9"/><use href="#h" x="1135.1" y="974.9"/><use href="#h" x="278.6" y="992.1"/><use href="#h" x="997.0" y="992.1"/><use href="#h" x="1006.2" y="992.1"/><use href="#h" x="1033.8" y="992.1"/><use href="#h" x="278.6" y="1009.4"/><use href="#h" x="315.4" y="1009.4"/><use href="#h" x="941.7" y="1009.4"/><use href="#h" x="969.3" y="1009.4"/><use href="#h" x="987.7" y="1026.7"/><use href="#h" x="287.8" y="1044.0"/><use href="#h" x="352.3" y="1044.0"/><use href="#h" x="914.1" y="1044.0"/><use href="#h" x="923.3" y="1044.0"/><use href="#h" x="269.4" y="1061.2"/><use href="#h" x="352.3" y="1061.2"/><use href="#h" x="361.5" y="1061.2"/><use href="#h" x="904.9" y="1061.2"/><use href="#h" x="287.8" y="1078.5"/><use href="#h" x="306.2" y="1078.5"/><use href="#h" x="324.6" y="1078.5"/><use href="#h" x="333.8" y="1078.5"/><use href="#h" x="840.4" y="1078.5"/><use href="#h" x="858.8" y="1078.5"/><use href="#h" x="287.8" y="1095.8"/><use href="#h" x="361.5" y="1095.8"/><use href="#h" x="518.0" y="1095.8"/><use href="#h" x="269.4" y="1130.3"/><use href="#h" x="324.6" y="1130.3"/><use href="#h" x="803.5" y="1130.3"/><use href="#h" x="379.9" y="1147.6"/><use href="#h" x="389.1" y="1147.6"/><use href="#h" x="545.7" y="1147.6"/><use href="#h" x="656.2" y="1147.6"/><use href="#h" x="674.6" y="1147.6"/><use href="#h" x="720.7" y="1147.6"/><use href="#h" x="352.3" y="1164.8"/><use href="#h" x="269.4" y="1182.1"/><use href="#h" x="619.3" y="1182.1"/><use href="#h" x="352.3" y="1199.4"/><use href="#h" x="481.2" y="1199.4"/><use href="#h" x="564.1" y="1199.4"/><use href="#h" x="508.8" y="1216.7"/><use href="#h" x="527.2" y="1216.7"/><use href="#h" x="554.9" y="1216.7"/><use href="#h" x="564.1" y="1216.7"/><use href="#h" x="352.3" y="1233.9"/><use href="#h" x="416.7" y="1233.9"/><use href="#h" x="481.2" y="1233.9"/><use href="#h" x="600.9" y="1233.9"/><use href="#h" x="370.7" y="1251.2"/><use href="#h" x="407.5" y="1251.2"/><use href="#h" x="481.2" y="1251.2"/><use href="#h" x="527.2" y="1251.2"/><use href="#h" x="545.7" y="1251.2"/><use href="#h" x="499.6" y="1268.5"/><use href="#h" x="389.1" y="1285.7"/><use href="#h" x="407.5" y="1285.7"/><use href="#h" x="490.4" y="1285.7"/><use href="#h" x="361.5" y="1303.0"/><use href="#h" x="398.3" y="1320.3"/><use href="#h" x="435.1" y="1320.3"/><use href="#h" x="472.0" y="1320.3"/><use href="#h" x="481.2" y="1320.3"/><use href="#h" x="444.4" y="1337.5"/>
</g>
<g fill="#9d189d" stroke="#9d189d">
<use href="#h" x="647.0" y="543.1"/><use href="#h" x="278.6" y="560.4"/><use href="#h" x="435.1" y="560.4"/><use href="#h" x="904.9" y="560.4"/><use href="#h" x="914.1" y="560.4"/><use href="#h" x="923.3" y="560.4"/><use href="#h" x="1135.1" y="560.4"/><use href="#h" x="1162.7" y="560.4"/><use href="#h" x="306.2" y="577.7"/><use href="#h" x="324.6" y="577.7"/><use href="#h" x="435.1" y="577.7"/><use href="#h" x="481.2" y="577.7"/><use href="#h" x="508.8" y="577.7"/><use href="#h" x="527.2" y="577.7"/><use href="#h" x="554.9" y="577.7"/><use href="#h" x="729.9" y="577.7"/><use href="#h" x="840.4" y="577.7"/><use href="#h" x="941.7" y="577.7"/><use href="#h" x="1061.4" y="577.7"/><use href="#h" x="1125.9" y="940.3"/><use href="#h" x="1153.5" y="940.3"/><use href="#h" x="1162.7" y="940.3"/><use href="#h" x="278.6" y="957.6"/><use href="#h" x="333.8" y="957.6"/><use href="#h" x="315.4" y="974.9"/><use href="#h" x="333.8" y="974.9"/><use href="#h" x="950.9" y="974.9"/><use href="#h" x="269.4" y="992.1"/><use href="#h" x="950.9" y="992.1"/><use href="#h" x="960.1" y="992.1"/><use href="#h" x="1024.6" y="992.1"/><use href="#h" x="306.2" y="1009.4"/><use href="#h" x="997.0" y="1009.4"/><use href="#h" x="287.8" y="1026.7"/><use href="#h" x="904.9" y="1026.7"/><use href="#h" x="914.1" y="1026.7"/><use href="#h" x="923.3" y="1026.7"/><use href="#h" x="306.2" y="1044.0"/><use href="#h" x="858.8" y="1044.0"/><use href="#h" x="306.2" y="1061.2"/><use href="#h" x="877.2" y="1061.2"/><use href="#h" x="343.0" y="1078.5"/><use href="#h" x="831.2" y="1078.5"/><use href="#h" x="297.0" y="1095.8"/><use href="#h" x="794.3" y="1095.8"/><use href="#h" x="379.9" y="1113.0"/><use href="#h" x="757.5" y="1113.0"/><use href="#h" x="785.1" y="1113.0"/><use href="#h" x="803.5" y="1113.0"/><use href="#h" x="720.7" y="1130.3"/><use href="#h" x="306.2" y="1147.6"/><use href="#h" x="591.7" y="1147.6"/><use href="#h" x="683.8" y="1147.6"/><use href="#h" x="702.2" y="1147.6"/><use href="#h" x="361.5" y="1164.8"/><use href="#h" x="379.9" y="1164.8"/><use href="#h" x="389.1" y="1164.8"/><use href="#h" x="398.3" y="1164.8"/><use href="#h" x="518.0" y="1164.8"/><use href="#h" x="582.5" y="1164.8"/><use href="#h" x="591.7" y="1182.1"/><use href="#h" x="610.1" y="1182.1"/><use href="#h" x="527.2" y="1199.4"/><use href="#h" x="600.9" y="1199.4"/><use href="#h" x="536.5" y="1216.7"/><use href="#h" x="499.6" y="1233.9"/><use href="#h" x="508.8" y="1233.9"/><use href="#h" x="389.1" y="1303.0"/>
</g>
<g fill="#a72197" stroke="#a72197">
<use href="#h" x="444.4" y="560.4"/><use href="#h" x="656.2" y="560.4"/><use href="#h" x="674.6" y="560.4"/><use href="#h" x="693.0" y="560.4"/><use href="#h" x="858.8" y="560.4"/><use href="#h" x="1043.0" y="560.4"/><use href="#h" x="287.8" y="577.7"/><use href="#h" x="472.0" y="577.7"/><use href="#h" x="831.2" y="577.7"/><use href="#h" x="868.0" y="577.7"/><use href="#h" x="1070.6" y="577.7"/><use href="#h" x="1116.7" y="577.7"/><use href="#h" x="1135.1" y="577.7"/><use href="#h" x="1144.3" y="577.7"/><use href="#h" x="1171.9" y="577.7"/><use href="#h" x="315.4" y="594.9"/><use href="#h" x="389.1" y="594.9"/><use href="#h" x="536.5" y="594.9"/><use href="#h" x="554.9" y="594.9"/><use href="#h" x="868.0" y="594.9"/><use href="#h" x="941.7" y="594.9"/><use href="#h" x="978.5" y="594.9"/><use href="#h" x="1043.0" y="594.9"/><use href="#h" x="1070.6" y="594.9"/><use href="#h" x="1098.3" y="594.9"/><use href="#h" x="1144.3" y="594.9"/><use href="#h" x="1153.5" y="594.9"/><use href="#h" x="1171.9" y="594.9"/><use href="#h" x="269.4" y="957.6"/><use href="#h" x="1125.9" y="957.6"/><use href="#h" x="1144.3" y="957.6"/><use href="#h" x="1162.7" y="957.6"/><use href="#h" x="306.2" y="974.9"/><use href="#h" x="324.6" y="974.9"/><use href="#h" x="1052.2" y="974.9"/><use href="#h" x="352.3" y="992.1"/><use href="#h" x="297.0" y="1009.4"/><use href="#h" x="324.6" y="1009.4"/><use href="#h" x="950.9" y="1009.4"/><use href="#h" x="978.5" y="1009.4"/><use href="#h" x="352.3" y="1026.7"/><use href="#h" x="333.8" y="1044.0"/><use href="#h" x="932.5" y="1044.0"/><use href="#h" x="324.6" y="1061.2"/><use href="#h" x="361.5" y="1078.5"/><use href="#h" x="785.1" y="1095.8"/><use href="#h" x="333.8" y="1113.0"/><use href="#h" x="490.4" y="1113.0"/><use href="#h" x="831.2" y="1113.0"/><use href="#h" x="582.5" y="1130.3"/><use href="#h" x="766.7" y="1130.3"/><use href="#h" x="536.5" y="1147.6"/><use href="#h" x="619.3" y="1147.6"/><use href="#h" x="647.0" y="1147.6"/><use href="#h" x="693.0" y="1147.6"/><use href="#h" x="748.3" y="1147.6"/><use href="#h" x="600.9" y="1164.8"/><use href="#h" x="656.2" y="1164.8"/><use href="#h" x="297.0" y="1182.1"/><use href="#h" x="416.7" y="1199.4"/><use href="#h" x="490.4" y="1216.7"/><use href="#h" x="499.6" y="1216.7"/><use href="#h" x="389.1" y="1233.9"/><use href="#h" x="398.3" y="1233.9"/><use href="#h" x="490.4" y="1233.9"/><use href="#h" x="508.8" y="1251.2"/><use href="#h" x="508.8" y="1268.5"/><use href="#h" x="536.5" y="1268.5"/><use href="#h" x="573.3" y="1268.5"/><use href="#h" x="416.7" y="1320.3"/><use href="#h" x="444.4" y="1320.3"/><use href="#h" x="462.8" y="1320.3"/><use href="#h" x="462.8" y="1337.5"/><use href="#h" x="435.1" y="1354.8"/>
</g>
<g fill="#ae2892" stroke="#ae2892">
<use href="#h" x="472.0" y="560.4"/><use href="#h" x="591.7" y="560.4"/><use href="#h" x="637.8" y="560.4"/><use href="#h" x="683.8" y="560.4"/><use href="#h" x="720.7" y="560.4"/><use href="#h" x="895.6" y="560.4"/><use href="#h" x="269.4" y="577.7"/><use href="#h" x="398.3" y="577.7"/><use href="#h" x="425.9" y="577.7"/><use href="#h" x="462.8" y="577.7"/><use href="#h" x="490.4" y="577.7"/><use href="#h" x="545.7" y="577.7"/><use href="#h" x="600.9" y="577.7"/><use href="#h" x="665.4" y="577.7"/><use href="#h" x="739.1" y="577.7"/><use href="#h" x="997.0" y="577.7"/><use href="#h" x="490.4" y="594.9"/><use href="#h" x="499.6" y="594.9"/><use href="#h" x="527.2" y="594.9"/><use href="#h" x="582.5" y="594.9"/><use href="#h" x="600.9" y="594.9"/><use href="#h" x="1116.7" y="594.9"/><use href="#h" x="1162.7" y="612.2"/><use href="#h" x="1171.9" y="905.8"/><use href="#h" x="1043.0" y="940.3"/><use href="#h" x="1089.1" y="940.3"/><use href="#h" x="361.5" y="957.6"/><use href="#h" x="352.3" y="974.9"/><use href="#h" x="1006.2" y="974.9"/><use href="#h" x="1070.6" y="974.9"/><use href="#h" x="324.6" y="992.1"/><use href="#h" x="987.7" y="992.1"/><use href="#h" x="904.9" y="1009.4"/><use href="#h" x="297.0" y="1026.7"/><use href="#h" x="868.0" y="1061.2"/><use href="#h" x="370.7" y="1078.5"/><use href="#h" x="785.1" y="1078.5"/><use href="#h" x="840.4" y="1095.8"/><use href="#h" x="389.1" y="1113.0"/><use href="#h" x="794.3" y="1113.0"/><use href="#h" x="361.5" y="1130.3"/><use href="#h" x="379.9" y="1130.3"/><use href="#h" x="389.1" y="1130.3"/><use href="#h" x="573.3" y="1130.3"/><use href="#h" x="628.6" y="1130.3"/><use href="#h" x="628.6" y="1147.6"/><use href="#h" x="499.6" y="1164.8"/><use href="#h" x="564.1" y="1164.8"/><use href="#h" x="573.3" y="1164.8"/><use href="#h" x="619.3" y="1164.8"/><use href="#h" x="647.0" y="1164.8"/><use href="#h" x="287.8" y="1182.1"/><use href="#h" x="481.2" y="1182.1"/><use href="#h" x="499.6" y="1182.1"/><use href="#h" x="564.1" y="1182.1"/><use href="#h" x="600.9" y="1182.1"/><use href="#h" x="472.0" y="1233.9"/><use href="#h" x="527.2" y="1233.9"/><use href="#h" x="389.1" y="1268.5"/><use href="#h" x="444.4" y="1285.7"/><use href="#h" x="453.6" y="1303.0"/><use href="#h" x="425.9" y="1320.3"/><use href="#h" x="453.6" y="1354.8"/>
</g>
<g fill="#b52f8c" stroke="#b52f8c">
<use href="#h" x="665.4" y="560.4"/><use href="#h" x="822.0" y="560.4"/><use href="#h" x="278.6" y="577.7"/><use href="#h" x="315.4" y="577.7"/><use href="#h" x="352.3" y="577.7"/><use href="#h" x="499.6" y="577.7"/><use href="#h" x="518.0" y="577.7"/><use href="#h" x="573.3" y="577.7"/><use href="#h" x="647.0" y="577.7"/><use href="#h" x="683.8" y="577.7"/><use href="#h" x="803.5" y="577.7"/><use href="#h" x="822.0" y="577.7"/><use href="#h" x="932.5" y="577.7"/><use href="#h" x="987.7" y="577.7"/><use href="#h" x="1033.8" y="577.7"/><use href="#h" x="1125.9" y="577.7"/><use href="#h" x="269.4" y="594.9"/><use href="#h" x="287.8" y="594.9"/><use href="#h" x="343.0" y="594.9"/><use href="#h" x="416.7" y="594.9"/><use href="#h" x="462.8" y="594.9"/><use href="#h" x="610.1" y="594.9"/><use href="#h" x="619.3" y="594.9"/><use href="#h" x="858.8" y="594.9"/><use href="#h" x="1006.2" y="594.9"/><use href="#h" x="297.0" y="905.8"/><use href="#h" x="269.4" y="923.1"/><use href="#h" x="343.0" y="923.1"/><use href="#h" x="315.4" y="940.3"/><use href="#h" x="324.6" y="940.3"/><use href="#h" x="333.8" y="940.3"/><use href="#h" x="306.2" y="957.6"/><use href="#h" x="324.6" y="957.6"/><use href="#h" x="370.7" y="957.6"/><use href="#h" x="343.0" y="974.9"/><use href="#h" x="370.7" y="974.9"/><use href="#h" x="361.5" y="992.1"/><use href="#h" x="379.9" y="992.1"/><use href="#h" x="978.5" y="992.1"/><use href="#h" x="361.5" y="1009.4"/><use href="#h" x="370.7" y="1009.4"/><use href="#h" x="923.3" y="1009.4"/><use href="#h" x="343.0" y="1026.7"/><use href="#h" x="370.7" y="1026.7"/><use href="#h" x="932.5" y="1026.7"/><use href="#h" x="527.2" y="1044.0"/><use href="#h" x="895.6" y="1044.0"/><use href="#h" x="886.4" y="1061.2"/><use href="#h" x="794.3" y="1078.5"/><use href="#h" x="711.4" y="1113.0"/><use href="#h" x="554.9" y="1130.3"/><use href="#h" x="711.4" y="1130.3"/><use href="#h" x="748.3" y="1130.3"/><use href="#h" x="398.3" y="1147.6"/><use href="#h" x="573.3" y="1147.6"/><use href="#h" x="637.8" y="1147.6"/><use href="#h" x="545.7" y="1164.8"/><use href="#h" x="591.7" y="1164.8"/><use href="#h" x="490.4" y="1182.1"/><use href="#h" x="508.8" y="1182.1"/><use href="#h" x="536.5" y="1182.1"/><use href="#h" x="379.9" y="1199.4"/><use href="#h" x="407.5" y="1199.4"/><use href="#h" x="536.5" y="1199.4"/><use href="#h" x="591.7" y="1199.4"/><use href="#h" x="389.1" y="1216.7"/><use href="#h" x="490.4" y="1251.2"/><use href="#h" x="472.0" y="1268.5"/><use href="#h" x="453.6" y="1320.3"/>
</g>
<g fill="#bb3488" stroke="#bb3488">
<use href="#h" x="840.4" y="560.4"/><use href="#h" x="297.0" y="577.7"/><use href="#h" x="444.4" y="577.7"/><use href="#h" x="582.5" y="577.7"/><use href="#h" x="591.7" y="577.7"/><use href="#h" x="711.4" y="577.7"/><use href="#h" x="849.6" y="577.7"/><use href="#h" x="858.8" y="577.7"/><use href="#h" x="960.1" y="577.7"/><use href="#h" x="969.3" y="577.7"/><use href="#h" x="1006.2" y="577.7"/><use href="#h" x="1015.4" y="577.7"/><use href="#h" x="739.1" y="594.9"/><use href="#h" x="904.9" y="594.9"/><use href="#h" x="950.9" y="594.9"/><use href="#h" x="997.0" y="594.9"/><use href="#h" x="1033.8" y="594.9"/><use href="#h" x="278.6" y="612.2"/><use href="#h" x="1006.2" y="612.2"/><use href="#h" x="1043.0" y="905.8"/><use href="#h" x="1181.2" y="923.1"/><use href="#h" x="287.8" y="940.3"/><use href="#h" x="1116.7" y="940.3"/><use href="#h" x="1135.1" y="940.3"/><use href="#h" x="361.5" y="974.9"/><use href="#h" x="941.7" y="974.9"/><use href="#h" x="978.5" y="974.9"/><use href="#h" x="343.0" y="1009.4"/><use href="#h" x="960.1" y="1009.4"/><use href="#h" x="886.4" y="1026.7"/><use href="#h" x="849.6" y="1061.2"/><use href="#h" x="858.8" y="1061.2"/><use href="#h" x="582.5" y="1078.5"/><use href="#h" x="729.9" y="1095.8"/><use href="#h" x="739.1" y="1095.8"/><use href="#h" x="775.9" y="1095.8"/><use href="#h" x="812.8" y="1095.8"/><use href="#h" x="822.0" y="1095.8"/><use href="#h" x="407.5" y="1113.0"/><use href="#h" x="647.0" y="1113.0"/><use href="#h" x="619.3" y="1130.3"/><use href="#h" x="665.4" y="1130.3"/><use href="#h" x="674.6" y="1130.3"/><use href="#h" x="370.7" y="1147.6"/><use href="#h" x="610.1" y="1147.6"/><use href="#h" x="508.8" y="1164.8"/><use href="#h" x="389.1" y="1182.1"/><use href="#h" x="490.4" y="1199.4"/><use href="#h" x="425.9" y="1268.5"/><use href="#h" x="490.4" y="1268.5"/><use href="#h" x="425.9" y="1285.7"/><use href="#h" x="462.8" y="1303.0"/>
</g>
<g fill="#c03a83" stroke="#c03a83">
<use href="#h" x="453.6" y="577.7"/><use href="#h" x="656.2" y="577.7"/><use href="#h" x="674.6" y="577.7"/><use href="#h" x="904.9" y="577.7"/><use href="#h" x="278.6" y="594.9"/><use href="#h" x="361.5" y="594.9"/><use href="#h" x="370.7" y="594.9"/><use href="#h" x="407.5" y="594.9"/><use href="#h" x="508.8" y="594.9"/><use href="#h" x="637.8" y="594.9"/><use href="#h" x="1024.6" y="594.9"/><use href="#h" x="1052.2" y="594.9"/><use href="#h" x="1125.9" y="594.9"/><use href="#h" x="1181.2" y="594.9"/><use href="#h" x="315.4" y="905.8"/><use href="#h" x="1162.7" y="923.1"/><use href="#h" x="278.6" y="940.3"/><use href="#h" x="343.0" y="940.3"/><use href="#h" x="361.5" y="940.3"/><use href="#h" x="370.7" y="940.3"/><use href="#h" x="1061.4" y="940.3"/><use href="#h" x="1098.3" y="940.3"/><use href="#h" x="1107.5" y="940.3"/><use href="#h" x="1015.4" y="957.6"/><use href="#h" x="1024.6" y="957.6"/><use href="#h" x="1089.1" y="957.6"/><use href="#h" x="278.6" y="974.9"/><use href="#h" x="297.0" y="974.9"/><use href="#h" x="389.1" y="974.9"/><use href="#h" x="306.2" y="992.1"/><use href="#h" x="389.1" y="992.1"/><use href="#h" x="398.3" y="1009.4"/><use href="#h" x="379.9" y="1044.0"/><use href="#h" x="389.1" y="1044.0"/><use href="#h" x="518.0" y="1061.2"/><use href="#h" x="398.3" y="1078.5"/><use href="#h" x="370.7" y="1095.8"/><use href="#h" x="389.1" y="1095.8"/><use href="#h" x="748.3" y="1095.8"/><use href="#h" x="803.5" y="1095.8"/><use href="#h" x="831.2" y="1095.8"/><use href="#h" x="416.7" y="1113.0"/><use href="#h" x="739.1" y="1113.0"/><use href="#h" x="766.7" y="1113.0"/><use href="#h" x="407.5" y="1130.3"/><use href="#h" x="518.0" y="1130.3"/><use href="#h" x="729.9" y="1130.3"/><use href="#h" x="518.0" y="1147.6"/><use href="#h" x="527.2" y="1147.6"/><use href="#h" x="527.2" y="1164.8"/><use href="#h" x="536.5" y="1164.8"/><use href="#h" x="518.0" y="1182.1"/><use href="#h" x="472.0" y="1216.7"/>
</g>
<g fill="#c43e7f" stroke="#c43e7f">
<use href="#h" x="610.1" y="577.7"/><use href="#h" x="702.2" y="577.7"/><use href="#h" x="757.5" y="577.7"/><use href="#h" x="794.3" y="577.7"/><use href="#h" x="472.0" y="594.9"/><use href="#h" x="785.1" y="594.9"/><use href="#h" x="831.2" y="594.9"/><use href="#h" x="849.6" y="594.9"/><use href="#h" x="969.3" y="594.9"/><use href="#h" x="1135.1" y="594.9"/><use href="#h" x="950.9" y="612.2"/><use href="#h" x="1043.0" y="612.2"/><use href="#h" x="1171.9" y="612.2"/><use href="#h" x="287.8" y="905.8"/><use href="#h" x="1153.5" y="905.8"/><use href="#h" x="1181.2" y="905.8"/><use href="#h" x="1153.5" y="923.1"/><use href="#h" x="1070.6" y="957.6"/><use href="#h" x="1079.8" y="957.6"/><use href="#h" x="287.8" y="974.9"/><use href="#h" x="379.9" y="974.9"/><use href="#h" x="370.7" y="992.1"/><use href="#h" x="379.9" y="1009.4"/><use href="#h" x="895.6" y="1009.4"/><use href="#h" x="407.5" y="1026.7"/><use href="#h" x="858.8" y="1026.7"/><use href="#h" x="886.4" y="1044.0"/><use href="#h" x="389.1" y="1061.2"/><use href="#h" x="389.1" y="1078.5"/><use href="#h" x="490.4" y="1078.5"/><use href="#h" x="527.2" y="1095.8"/><use href="#h" x="518.0" y="1113.0"/><use href="#h" x="545.7" y="1113.0"/><use href="#h" x="610.1" y="1130.3"/><use href="#h" x="656.2" y="1130.3"/><use href="#h" x="508.8" y="1147.6"/><use href="#h" x="582.5" y="1147.6"/><use href="#h" x="600.9" y="1147.6"/><use href="#h" x="472.0" y="1182.1"/><use href="#h" x="527.2" y="1182.1"/><use href="#h" x="398.3" y="1199.4"/><use href="#h" x="508.8" y="1199.4"/><use href="#h" x="407.5" y="1216.7"/><use href="#h" x="416.7" y="1216.7"/>
</g>
<g fill="#ce4b75" stroke="#ce4b75">
<use href="#h" x="693.0" y="577.7"/><use href="#h" x="435.1" y="594.9"/><use href="#h" x="444.4" y="594.9"/><use href="#h" x="518.0" y="594.9"/><use href="#h" x="628.6" y="594.9"/><use href="#h" x="748.3" y="594.9"/><use href="#h" x="757.5" y="594.9"/><use href="#h" x="803.5" y="594.9"/><use href="#h" x="822.0" y="594.9"/><use href="#h" x="389.1" y="612.2"/><use href="#h" x="582.5" y="612.2"/><use href="#h" x="1153.5" y="612.2"/><use href="#h" x="278.6" y="905.8"/><use href="#h" x="352.3" y="923.1"/><use href="#h" x="1098.3" y="923.1"/><use href="#h" x="527.2" y="940.3"/><use href="#h" x="315.4" y="957.6"/><use href="#h" x="941.7" y="957.6"/><use href="#h" x="1061.4" y="957.6"/><use href="#h" x="398.3" y="992.1"/><use href="#h" x="389.1" y="1026.7"/><use href="#h" x="849.6" y="1026.7"/><use href="#h" x="573.3" y="1044.0"/><use href="#h" x="416.7" y="1061.2"/><use href="#h" x="379.9" y="1078.5"/><use href="#h" x="518.0" y="1078.5"/><use href="#h" x="775.9" y="1078.5"/><use href="#h" x="536.5" y="1113.0"/><use href="#h" x="582.5" y="1113.0"/><use href="#h" x="481.2" y="1130.3"/><use href="#h" x="508.8" y="1130.3"/><use href="#h" x="536.5" y="1130.3"/><use href="#h" x="600.9" y="1130.3"/><use href="#h" x="683.8" y="1130.3"/><use href="#h" x="490.4" y="1147.6"/><use href="#h" x="554.9" y="1164.8"/><use href="#h" x="407.5" y="1182.1"/><use href="#h" x="499.6" y="1199.4"/><use href="#h" x="435.1" y="1251.2"/><use href="#h" x="453.6" y="1268.5"/><use href="#h" x="462.8" y="1268.5"/>
</g>
<g fill="#c8437b" stroke="#c8437b">
<use href="#h" x="720.7" y="577.7"/><use href="#h" x="766.7" y="577.7"/><use href="#h" x="812.8" y="577.7"/><use href="#h" x="914.1" y="577.7"/><use href="#h" x="324.6" y="594.9"/><use href="#h" x="333.8" y="594.9"/><use href="#h" x="564.1" y="594.9"/><use href="#h" x="573.3" y="594.9"/><use href="#h" x="683.8" y="594.9"/><use href="#h" x="775.9" y="594.9"/><use href="#h" x="1079.8" y="594.9"/><use href="#h" x="269.4" y="612.2"/><use href="#h" x="1144.3" y="612.2"/><use href="#h" x="269.4" y="905.8"/><use href="#h" x="306.2" y="923.1"/><use href="#h" x="324.6" y="923.1"/><use href="#h" x="1024.6" y="923.1"/><use href="#h" x="1107.5" y="923.1"/><use href="#h" x="1116.7" y="923.1"/><use href="#h" x="1171.9" y="923.1"/><use href="#h" x="306.2" y="940.3"/><use href="#h" x="287.8" y="957.6"/><use href="#h" x="297.0" y="957.6"/><use href="#h" x="352.3" y="957.6"/><use href="#h" x="950.9" y="957.6"/><use href="#h" x="1006.2" y="957.6"/><use href="#h" x="997.0" y="974.9"/><use href="#h" x="287.8" y="992.1"/><use href="#h" x="333.8" y="992.1"/><use href="#h" x="343.0" y="992.1"/><use href="#h" x="932.5" y="992.1"/><use href="#h" x="941.7" y="992.1"/><use href="#h" x="969.3" y="992.1"/><use href="#h" x="389.1" y="1009.4"/><use href="#h" x="932.5" y="1009.4"/><use href="#h" x="877.2" y="1044.0"/><use href="#h" x="536.5" y="1078.5"/><use href="#h" x="822.0" y="1078.5"/><use href="#h" x="536.5" y="1095.8"/><use href="#h" x="600.9" y="1095.8"/><use href="#h" x="757.5" y="1095.8"/><use href="#h" x="398.3" y="1113.0"/><use href="#h" x="748.3" y="1113.0"/><use href="#h" x="527.2" y="1130.3"/><use href="#h" x="693.0" y="1130.3"/><use href="#h" x="481.2" y="1147.6"/><use href="#h" x="564.1" y="1147.6"/><use href="#h" x="416.7" y="1164.8"/><use href="#h" x="481.2" y="1216.7"/><use href="#h" x="416.7" y="1251.2"/><use href="#h" x="435.1" y="1268.5"/>
</g>
<g fill="#d45270" stroke="#d45270">
<use href="#h" x="748.3" y="577.7"/><use href="#h" x="702.2" y="594.9"/><use href="#h" x="794.3" y="594.9"/><use href="#h" x="960.1" y="594.9"/><use href="#h" x="987.7" y="594.9"/><use href="#h" x="287.8" y="612.2"/><use href="#h" x="315.4" y="612.2"/><use href="#h" x="352.3" y="612.2"/><use href="#h" x="1024.6" y="612.2"/><use href="#h" x="1098.3" y="612.2"/><use href="#h" x="1116.7" y="612.2"/><use href="#h" x="1015.4" y="923.1"/><use href="#h" x="1061.4" y="923.1"/><use href="#h" x="950.9" y="940.3"/><use href="#h" x="1052.2" y="940.3"/><use href="#h" x="481.2" y="974.9"/><use href="#h" x="536.5" y="974.9"/><use href="#h" x="960.1" y="974.9"/><use href="#h" x="923.3" y="992.1"/><use href="#h" x="822.0" y="1009.4"/><use href="#h" x="849.6" y="1009.4"/><use href="#h" x="858.8" y="1009.4"/><use href="#h" x="536.5" y="1026.7"/><use href="#h" x="877.2" y="1026.7"/><use href="#h" x="398.3" y="1044.0"/><use href="#h" x="849.6" y="1044.0"/><use href="#h" x="398.3" y="1061.2"/><use href="#h" x="573.3" y="1061.2"/><use href="#h" x="840.4" y="1061.2"/><use href="#h" x="407.5" y="1095.8"/><use href="#h" x="610.1" y="1095.8"/><use href="#h" x="628.6" y="1095.8"/><use href="#h" x="637.8" y="1095.8"/><use href="#h" x="693.0" y="1095.8"/><use href="#h" x="472.0" y="1113.0"/><use href="#h" x="508.8" y="1113.0"/><use href="#h" x="591.7" y="1113.0"/><use href="#h" x="702.2" y="1113.0"/><use href="#h" x="499.6" y="1130.3"/><use href="#h" x="416.7" y="1147.6"/><use href="#h" x="472.0" y="1147.6"/>
</g>
<g fill="#cc4778" stroke="#cc4778">
<use href="#h" x="895.6" y="577.7"/><use href="#h" x="297.0" y="594.9"/><use href="#h" x="379.9" y="594.9"/><use href="#h" x="481.2" y="594.9"/><use href="#h" x="545.7" y="594.9"/><use href="#h" x="591.7" y="594.9"/><use href="#h" x="647.0" y="594.9"/><use href="#h" x="656.2" y="594.9"/><use href="#h" x="665.4" y="594.9"/><use href="#h" x="693.0" y="594.9"/><use href="#h" x="766.7" y="594.9"/><use href="#h" x="812.8" y="594.9"/><use href="#h" x="932.5" y="594.9"/><use href="#h" x="1107.5" y="594.9"/><use href="#h" x="554.9" y="612.2"/><use href="#h" x="564.1" y="612.2"/><use href="#h" x="573.3" y="612.2"/><use href="#h" x="1181.2" y="612.2"/><use href="#h" x="343.0" y="888.5"/><use href="#h" x="278.6" y="923.1"/><use href="#h" x="287.8" y="923.1"/><use href="#h" x="315.4" y="923.1"/><use href="#h" x="1079.8" y="923.1"/><use href="#h" x="1125.9" y="923.1"/><use href="#h" x="1135.1" y="923.1"/><use href="#h" x="1144.3" y="923.1"/><use href="#h" x="352.3" y="940.3"/><use href="#h" x="1015.4" y="940.3"/><use href="#h" x="1033.8" y="940.3"/><use href="#h" x="1070.6" y="940.3"/><use href="#h" x="849.6" y="992.1"/><use href="#h" x="895.6" y="992.1"/><use href="#h" x="379.9" y="1026.7"/><use href="#h" x="868.0" y="1044.0"/><use href="#h" x="379.9" y="1061.2"/><use href="#h" x="527.2" y="1061.2"/><use href="#h" x="573.3" y="1078.5"/><use href="#h" x="757.5" y="1078.5"/><use href="#h" x="766.7" y="1078.5"/><use href="#h" x="582.5" y="1095.8"/><use href="#h" x="766.7" y="1095.8"/><use href="#h" x="554.9" y="1113.0"/><use href="#h" x="564.1" y="1113.0"/><use href="#h" x="610.1" y="1113.0"/><use href="#h" x="628.6" y="1113.0"/><use href="#h" x="398.3" y="1130.3"/><use href="#h" x="407.5" y="1147.6"/><use href="#h" x="554.9" y="1147.6"/><use href="#h" x="398.3" y="1182.1"/><use href="#h" x="472.0" y="1199.4"/><use href="#h" x="398.3" y="1216.7"/><use href="#h" x="435.1" y="1233.9"/><use href="#h" x="425.9" y="1251.2"/><use href="#h" x="444.4" y="1251.2"/><use href="#h" x="444.4" y="1268.5"/><use href="#h" x="453.6" y="1285.7"/><use href="#h" x="462.8" y="1285.7"/>
</g>
<g fill="#da5b69" stroke="#da5b69">
<use href="#h" x="306.2" y="594.9"/><use href="#h" x="453.6" y="594.9"/><use href="#h" x="674.6" y="594.9"/><use href="#h" x="711.4" y="594.9"/><use href="#h" x="729.9" y="594.9"/><use href="#h" x="923.3" y="594.9"/><use href="#h" x="407.5" y="612.2"/><use href="#h" x="416.7" y="612.2"/><use href="#h" x="518.0" y="612.2"/><use href="#h" x="665.4" y="612.2"/><use href="#h" x="960.1" y="612.2"/><use href="#h" x="1107.5" y="612.2"/><use href="#h" x="315.4" y="871.3"/><use href="#h" x="333.8" y="888.5"/><use href="#h" x="352.3" y="888.5"/><use href="#h" x="1181.2" y="888.5"/><use href="#h" x="370.7" y="923.1"/><use href="#h" x="941.7" y="940.3"/><use href="#h" x="960.1" y="957.6"/><use href="#h" x="472.0" y="992.1"/><use href="#h" x="490.4" y="992.1"/><use href="#h" x="499.6" y="992.1"/><use href="#h" x="407.5" y="1009.4"/><use href="#h" x="582.5" y="1009.4"/><use href="#h" x="868.0" y="1009.4"/><use href="#h" x="868.0" y="1026.7"/><use href="#h" x="545.7" y="1044.0"/><use href="#h" x="554.9" y="1044.0"/><use href="#h" x="564.1" y="1044.0"/><use href="#h" x="481.2" y="1061.2"/><use href="#h" x="508.8" y="1078.5"/><use href="#h" x="564.1" y="1078.5"/><use href="#h" x="600.9" y="1078.5"/><use href="#h" x="619.3" y="1078.5"/><use href="#h" x="628.6" y="1078.5"/><use href="#h" x="812.8" y="1078.5"/><use href="#h" x="665.4" y="1095.8"/><use href="#h" x="674.6" y="1113.0"/><use href="#h" x="472.0" y="1130.3"/><use href="#h" x="425.9" y="1199.4"/>
</g>
<g fill="#d6556d" stroke="#d6556d">
<use href="#h" x="398.3" y="594.9"/><use href="#h" x="720.7" y="594.9"/><use href="#h" x="333.8" y="612.2"/><use href="#h" x="545.7" y="612.2"/><use href="#h" x="591.7" y="612.2"/><use href="#h" x="619.3" y="612.2"/><use href="#h" x="849.6" y="612.2"/><use href="#h" x="941.7" y="612.2"/><use href="#h" x="1162.7" y="629.5"/><use href="#h" x="333.8" y="923.1"/><use href="#h" x="361.5" y="923.1"/><use href="#h" x="1006.2" y="923.1"/><use href="#h" x="297.0" y="940.3"/><use href="#h" x="389.1" y="940.3"/><use href="#h" x="1052.2" y="957.6"/><use href="#h" x="987.7" y="974.9"/><use href="#h" x="407.5" y="992.1"/><use href="#h" x="573.3" y="1009.4"/><use href="#h" x="886.4" y="1009.4"/><use href="#h" x="398.3" y="1026.7"/><use href="#h" x="518.0" y="1026.7"/><use href="#h" x="775.9" y="1061.2"/><use href="#h" x="803.5" y="1061.2"/><use href="#h" x="812.8" y="1061.2"/><use href="#h" x="656.2" y="1078.5"/><use href="#h" x="729.9" y="1078.5"/><use href="#h" x="803.5" y="1078.5"/><use href="#h" x="416.7" y="1095.8"/><use href="#h" x="545.7" y="1095.8"/><use href="#h" x="564.1" y="1095.8"/><use href="#h" x="573.3" y="1095.8"/><use href="#h" x="499.6" y="1113.0"/><use href="#h" x="573.3" y="1113.0"/><use href="#h" x="665.4" y="1113.0"/><use href="#h" x="545.7" y="1130.3"/><use href="#h" x="499.6" y="1147.6"/><use href="#h" x="490.4" y="1164.8"/>
</g>
<g fill="#de5f65" stroke="#de5f65">
<use href="#h" x="425.9" y="594.9"/><use href="#h" x="324.6" y="612.2"/><use href="#h" x="453.6" y="612.2"/><use href="#h" x="490.4" y="612.2"/><use href="#h" x="831.2" y="612.2"/><use href="#h" x="868.0" y="612.2"/><use href="#h" x="987.7" y="612.2"/><use href="#h" x="1015.4" y="612.2"/><use href="#h" x="1135.1" y="612.2"/><use href="#h" x="1181.2" y="629.5"/><use href="#h" x="278.6" y="871.3"/><use href="#h" x="1116.7" y="888.5"/><use href="#h" x="1171.9" y="888.5"/><use href="#h" x="1033.8" y="905.8"/><use href="#h" x="1070.6" y="905.8"/><use href="#h" x="1098.3" y="905.8"/><use href="#h" x="1089.1" y="923.1"/><use href="#h" x="398.3" y="974.9"/><use href="#h" x="518.0" y="974.9"/><use href="#h" x="416.7" y="992.1"/><use href="#h" x="545.7" y="992.1"/><use href="#h" x="886.4" y="992.1"/><use href="#h" x="472.0" y="1026.7"/><use href="#h" x="628.6" y="1026.7"/><use href="#h" x="794.3" y="1026.7"/><use href="#h" x="508.8" y="1044.0"/><use href="#h" x="739.1" y="1044.0"/><use href="#h" x="499.6" y="1078.5"/><use href="#h" x="527.2" y="1078.5"/><use href="#h" x="610.1" y="1078.5"/><use href="#h" x="600.9" y="1113.0"/><use href="#h" x="444.4" y="1199.4"/><use href="#h" x="453.6" y="1216.7"/><use href="#h" x="462.8" y="1233.9"/>
</g>
<g fill="#d14e72" stroke="#d14e72">
<use href="#h" x="840.4" y="594.9"/><use href="#h" x="886.4" y="594.9"/><use href="#h" x="895.6" y="594.9"/><use href="#h" x="914.1" y="594.9"/><use href="#h" x="1089.1" y="594.9"/><use href="#h" x="343.0" y="612.2"/><use href="#h" x="1079.8" y="612.2"/><use href="#h" x="287.8" y="888.5"/><use href="#h" x="352.3" y="905.8"/><use href="#h" x="1162.7" y="905.8"/><use href="#h" x="1033.8" y="923.1"/><use href="#h" x="1043.0" y="923.1"/><use href="#h" x="269.4" y="940.3"/><use href="#h" x="379.9" y="940.3"/><use href="#h" x="1079.8" y="940.3"/><use href="#h" x="518.0" y="957.6"/><use href="#h" x="518.0" y="992.1"/><use href="#h" x="352.3" y="1009.4"/><use href="#h" x="895.6" y="1026.7"/><use href="#h" x="407.5" y="1061.2"/><use href="#h" x="536.5" y="1061.2"/><use href="#h" x="628.6" y="1061.2"/><use href="#h" x="739.1" y="1061.2"/><use href="#h" x="591.7" y="1078.5"/><use href="#h" x="554.9" y="1095.8"/><use href="#h" x="591.7" y="1095.8"/><use href="#h" x="647.0" y="1095.8"/><use href="#h" x="619.3" y="1113.0"/><use href="#h" x="656.2" y="1113.0"/><use href="#h" x="591.7" y="1130.3"/><use href="#h" x="637.8" y="1130.3"/><use href="#h" x="647.0" y="1130.3"/><use href="#h" x="702.2" y="1130.3"/><use href="#h" x="407.5" y="1164.8"/><use href="#h" x="472.0" y="1164.8"/><use href="#h" x="481.2" y="1164.8"/><use href="#h" x="416.7" y="1182.1"/><use href="#h" x="462.8" y="1216.7"/><use href="#h" x="453.6" y="1251.2"/>
</g>
<g fill="#d8576b" stroke="#d8576b">
<use href="#h" x="877.2" y="594.9"/><use href="#h" x="370.7" y="612.2"/><use href="#h" x="508.8" y="612.2"/><use href="#h" x="748.3" y="612.2"/><use href="#h" x="886.4" y="612.2"/><use href="#h" x="932.5" y="612.2"/><use href="#h" x="370.7" y="888.5"/><use href="#h" x="324.6" y="905.8"/><use href="#h" x="333.8" y="905.8"/><use href="#h" x="1116.7" y="905.8"/><use href="#h" x="1144.3" y="905.8"/><use href="#h" x="379.9" y="957.6"/><use href="#h" x="389.1" y="957.6"/><use href="#h" x="904.9" y="992.1"/><use href="#h" x="536.5" y="1044.0"/><use href="#h" x="508.8" y="1061.2"/><use href="#h" x="554.9" y="1061.2"/><use href="#h" x="582.5" y="1061.2"/><use href="#h" x="600.9" y="1061.2"/><use href="#h" x="794.3" y="1061.2"/><use href="#h" x="407.5" y="1078.5"/><use href="#h" x="398.3" y="1095.8"/><use href="#h" x="481.2" y="1095.8"/><use href="#h" x="508.8" y="1095.8"/><use href="#h" x="674.6" y="1095.8"/><use href="#h" x="702.2" y="1095.8"/><use href="#h" x="711.4" y="1095.8"/><use href="#h" x="720.7" y="1095.8"/><use href="#h" x="481.2" y="1113.0"/><use href="#h" x="527.2" y="1113.0"/><use href="#h" x="693.0" y="1113.0"/><use href="#h" x="720.7" y="1113.0"/><use href="#h" x="416.7" y="1130.3"/><use href="#h" x="564.1" y="1130.3"/><use href="#h" x="425.9" y="1233.9"/><use href="#h" x="444.4" y="1233.9"/><use href="#h" x="462.8" y="1251.2"/>
</g>
<g fill="#e76e5b" stroke="#e76e5b">
<use href="#h" x="297.0" y="612.2"/><use href="#h" x="720.7" y="612.2"/><use href="#h" x="775.9" y="612.2"/><use href="#h" x="877.2" y="612.2"/><use href="#h" x="904.9" y="612.2"/><use href="#h" x="914.1" y="612.2"/><use href="#h" x="278.6" y="629.5"/><use href="#h" x="343.0" y="629.5"/><use href="#h" x="1181.2" y="854.0"/><use href="#h" x="536.5" y="871.3"/><use href="#h" x="1144.3" y="871.3"/><use href="#h" x="361.5" y="888.5"/><use href="#h" x="379.9" y="905.8"/><use href="#h" x="950.9" y="905.8"/><use href="#h" x="591.7" y="940.3"/><use href="#h" x="849.6" y="940.3"/><use href="#h" x="490.4" y="957.6"/><use href="#h" x="849.6" y="957.6"/><use href="#h" x="508.8" y="974.9"/><use href="#h" x="573.3" y="974.9"/><use href="#h" x="527.2" y="992.1"/><use href="#h" x="582.5" y="992.1"/><use href="#h" x="508.8" y="1009.4"/><use href="#h" x="610.1" y="1026.7"/><use href="#h" x="518.0" y="1044.0"/><use href="#h" x="600.9" y="1044.0"/><use href="#h" x="720.7" y="1078.5"/><use href="#h" x="462.8" y="1164.8"/>
</g>
<g fill="#e56a5d" stroke="#e56a5d">
<use href="#h" x="306.2" y="612.2"/><use href="#h" x="674.6" y="612.2"/><use href="#h" x="812.8" y="612.2"/><use href="#h" x="923.3" y="612.2"/><use href="#h" x="997.0" y="612.2"/><use href="#h" x="1006.2" y="629.5"/><use href="#h" x="269.4" y="854.0"/><use href="#h" x="269.4" y="888.5"/><use href="#h" x="389.1" y="888.5"/><use href="#h" x="1024.6" y="905.8"/><use href="#h" x="1061.4" y="905.8"/><use href="#h" x="472.0" y="940.3"/><use href="#h" x="554.9" y="957.6"/><use href="#h" x="545.7" y="974.9"/><use href="#h" x="849.6" y="974.9"/><use href="#h" x="554.9" y="992.1"/><use href="#h" x="518.0" y="1009.4"/><use href="#h" x="527.2" y="1009.4"/><use href="#h" x="536.5" y="1009.4"/><use href="#h" x="582.5" y="1044.0"/><use href="#h" x="591.7" y="1044.0"/><use href="#h" x="803.5" y="1044.0"/><use href="#h" x="564.1" y="1061.2"/><use href="#h" x="720.7" y="1061.2"/><use href="#h" x="822.0" y="1061.2"/><use href="#h" x="674.6" y="1078.5"/><use href="#h" x="425.9" y="1113.0"/><use href="#h" x="425.9" y="1130.3"/><use href="#h" x="425.9" y="1164.8"/><use href="#h" x="444.4" y="1164.8"/><use href="#h" x="435.1" y="1216.7"/>
</g>
<g fill="#e06363" stroke="#e06363">
<use href="#h" x="361.5" y="612.2"/><use href="#h" x="600.9" y="612.2"/><use href="#h" x="702.2" y="612.2"/><use href="#h" x="766.7" y="612.2"/><use href="#h" x="1061.4" y="612.2"/><use href="#h" x="1107.5" y="629.5"/><use href="#h" x="324.6" y="888.5"/><use href="#h" x="361.5" y="905.8"/><use href="#h" x="370.7" y="905.8"/><use href="#h" x="1052.2" y="923.1"/><use href="#h" x="1070.6" y="923.1"/><use href="#h" x="398.3" y="940.3"/><use href="#h" x="536.5" y="957.6"/><use href="#h" x="978.5" y="957.6"/><use href="#h" x="858.8" y="974.9"/><use href="#h" x="914.1" y="992.1"/><use href="#h" x="481.2" y="1009.4"/><use href="#h" x="564.1" y="1009.4"/><use href="#h" x="877.2" y="1009.4"/><use href="#h" x="554.9" y="1026.7"/><use href="#h" x="582.5" y="1026.7"/><use href="#h" x="785.1" y="1026.7"/><use href="#h" x="490.4" y="1061.2"/><use href="#h" x="499.6" y="1061.2"/><use href="#h" x="748.3" y="1061.2"/><use href="#h" x="693.0" y="1078.5"/><use href="#h" x="490.4" y="1095.8"/><use href="#h" x="637.8" y="1113.0"/><use href="#h" x="425.9" y="1182.1"/><use href="#h" x="425.9" y="1216.7"/>
</g>
<g fill="#e56b5d" stroke="#e56b5d">
<use href="#h" x="379.9" y="612.2"/><use href="#h" x="425.9" y="612.2"/><use href="#h" x="647.0" y="612.2"/><use href="#h" x="739.1" y="612.2"/><use href="#h" x="269.4" y="629.5"/><use href="#h" x="554.9" y="629.5"/><use href="#h" x="600.9" y="629.5"/><use href="#h" x="729.9" y="629.5"/><use href="#h" x="1015.4" y="629.5"/><use href="#h" x="1089.1" y="629.5"/><use href="#h" x="1098.3" y="629.5"/><use href="#h" x="315.4" y="854.0"/><use href="#h" x="333.8" y="854.0"/><use href="#h" x="306.2" y="888.5"/><use href="#h" x="1033.8" y="888.5"/><use href="#h" x="1107.5" y="888.5"/><use href="#h" x="306.2" y="905.8"/><use href="#h" x="398.3" y="905.8"/><use href="#h" x="1107.5" y="905.8"/><use href="#h" x="398.3" y="923.1"/><use href="#h" x="518.0" y="923.1"/><use href="#h" x="941.7" y="923.1"/><use href="#h" x="950.9" y="923.1"/><use href="#h" x="499.6" y="940.3"/><use href="#h" x="398.3" y="957.6"/><use href="#h" x="582.5" y="974.9"/><use href="#h" x="785.1" y="974.9"/><use href="#h" x="886.4" y="974.9"/><use href="#h" x="785.1" y="992.1"/><use href="#h" x="472.0" y="1009.4"/><use href="#h" x="499.6" y="1009.4"/><use href="#h" x="499.6" y="1026.7"/><use href="#h" x="545.7" y="1026.7"/><use href="#h" x="775.9" y="1044.0"/><use href="#h" x="794.3" y="1044.0"/><use href="#h" x="416.7" y="1078.5"/><use href="#h" x="453.6" y="1147.6"/>
</g>
<g fill="#e3685f" stroke="#e3685f">
<use href="#h" x="398.3" y="612.2"/><use href="#h" x="610.1" y="612.2"/><use href="#h" x="840.4" y="612.2"/><use href="#h" x="352.3" y="629.5"/><use href="#h" x="1052.2" y="629.5"/><use href="#h" x="1116.7" y="629.5"/><use href="#h" x="1125.9" y="629.5"/><use href="#h" x="306.2" y="871.3"/><use href="#h" x="324.6" y="871.3"/><use href="#h" x="389.1" y="905.8"/><use href="#h" x="379.9" y="923.1"/><use href="#h" x="389.1" y="923.1"/><use href="#h" x="407.5" y="923.1"/><use href="#h" x="416.7" y="940.3"/><use href="#h" x="518.0" y="940.3"/><use href="#h" x="407.5" y="974.9"/><use href="#h" x="619.3" y="974.9"/><use href="#h" x="665.4" y="992.1"/><use href="#h" x="775.9" y="1009.4"/><use href="#h" x="914.1" y="1009.4"/><use href="#h" x="564.1" y="1026.7"/><use href="#h" x="775.9" y="1026.7"/><use href="#h" x="416.7" y="1044.0"/><use href="#h" x="472.0" y="1044.0"/><use href="#h" x="628.6" y="1044.0"/><use href="#h" x="822.0" y="1044.0"/><use href="#h" x="711.4" y="1061.2"/><use href="#h" x="766.7" y="1061.2"/><use href="#h" x="831.2" y="1061.2"/><use href="#h" x="739.1" y="1078.5"/><use href="#h" x="472.0" y="1095.8"/><use href="#h" x="656.2" y="1095.8"/><use href="#h" x="490.4" y="1130.3"/>
</g>
<g fill="#e87059" stroke="#e87059">
<use href="#h" x="435.1" y="612.2"/><use href="#h" x="729.9" y="612.2"/><use href="#h" x="545.7" y="629.5"/><use href="#h" x="978.5" y="629.5"/><use href="#h" x="1153.5" y="629.5"/><use href="#h" x="297.0" y="854.0"/><use href="#h" x="352.3" y="854.0"/><use href="#h" x="287.8" y="871.3"/><use href="#h" x="1171.9" y="871.3"/><use href="#h" x="518.0" y="888.5"/><use href="#h" x="1006.2" y="905.8"/><use href="#h" x="527.2" y="923.1"/><use href="#h" x="1024.6" y="940.3"/><use href="#h" x="416.7" y="957.6"/><use href="#h" x="932.5" y="974.9"/><use href="#h" x="573.3" y="992.1"/><use href="#h" x="868.0" y="992.1"/><use href="#h" x="554.9" y="1009.4"/><use href="#h" x="508.8" y="1026.7"/><use href="#h" x="729.9" y="1026.7"/><use href="#h" x="831.2" y="1026.7"/><use href="#h" x="481.2" y="1044.0"/><use href="#h" x="757.5" y="1044.0"/><use href="#h" x="591.7" y="1061.2"/><use href="#h" x="610.1" y="1061.2"/><use href="#h" x="757.5" y="1061.2"/><use href="#h" x="472.0" y="1078.5"/><use href="#h" x="444.4" y="1130.3"/><use href="#h" x="453.6" y="1199.4"/>
</g>
<g fill="#ec7754" stroke="#ec7754">
<use href="#h" x="444.4" y="612.2"/><use href="#h" x="628.6" y="612.2"/><use href="#h" x="711.4" y="612.2"/><use href="#h" x="785.1" y="612.2"/><use href="#h" x="969.3" y="612.2"/><use href="#h" x="416.7" y="629.5"/><use href="#h" x="490.4" y="629.5"/><use href="#h" x="1070.6" y="629.5"/><use href="#h" x="1144.3" y="629.5"/><use href="#h" x="269.4" y="836.7"/><use href="#h" x="941.7" y="888.5"/><use href="#h" x="950.9" y="888.5"/><use href="#h" x="1043.0" y="888.5"/><use href="#h" x="481.2" y="905.8"/><use href="#h" x="1052.2" y="905.8"/><use href="#h" x="1079.8" y="905.8"/><use href="#h" x="490.4" y="940.3"/><use href="#h" x="564.1" y="940.3"/><use href="#h" x="564.1" y="957.6"/><use href="#h" x="573.3" y="957.6"/><use href="#h" x="591.7" y="957.6"/><use href="#h" x="923.3" y="974.9"/><use href="#h" x="490.4" y="1009.4"/><use href="#h" x="831.2" y="1009.4"/><use href="#h" x="840.4" y="1009.4"/><use href="#h" x="499.6" y="1044.0"/><use href="#h" x="702.2" y="1044.0"/><use href="#h" x="444.4" y="1147.6"/>
</g>
<g fill="#ea7457" stroke="#ea7457">
<use href="#h" x="462.8" y="612.2"/><use href="#h" x="794.3" y="612.2"/><use href="#h" x="361.5" y="629.5"/><use href="#h" x="499.6" y="629.5"/><use href="#h" x="683.8" y="629.5"/><use href="#h" x="868.0" y="629.5"/><use href="#h" x="1079.8" y="629.5"/><use href="#h" x="1171.9" y="819.4"/><use href="#h" x="343.0" y="836.7"/><use href="#h" x="370.7" y="836.7"/><use href="#h" x="343.0" y="871.3"/><use href="#h" x="398.3" y="871.3"/><use href="#h" x="1033.8" y="871.3"/><use href="#h" x="379.9" y="888.5"/><use href="#h" x="1144.3" y="888.5"/><use href="#h" x="518.0" y="905.8"/><use href="#h" x="1135.1" y="905.8"/><use href="#h" x="536.5" y="940.3"/><use href="#h" x="600.9" y="957.6"/><use href="#h" x="923.3" y="957.6"/><use href="#h" x="932.5" y="957.6"/><use href="#h" x="564.1" y="974.9"/><use href="#h" x="610.1" y="974.9"/><use href="#h" x="536.5" y="992.1"/><use href="#h" x="610.1" y="992.1"/><use href="#h" x="628.6" y="992.1"/><use href="#h" x="591.7" y="1009.4"/><use href="#h" x="628.6" y="1009.4"/><use href="#h" x="739.1" y="1026.7"/><use href="#h" x="619.3" y="1061.2"/><use href="#h" x="435.1" y="1147.6"/><use href="#h" x="435.1" y="1199.4"/>
</g>
<g fill="#e26561" stroke="#e26561">
<use href="#h" x="472.0" y="612.2"/><use href="#h" x="527.2" y="612.2"/><use href="#h" x="536.5" y="612.2"/><use href="#h" x="895.6" y="612.2"/><use href="#h" x="1033.8" y="612.2"/><use href="#h" x="1125.9" y="612.2"/><use href="#h" x="1033.8" y="629.5"/><use href="#h" x="315.4" y="888.5"/><use href="#h" x="1162.7" y="888.5"/><use href="#h" x="343.0" y="905.8"/><use href="#h" x="1015.4" y="905.8"/><use href="#h" x="297.0" y="923.1"/><use href="#h" x="416.7" y="923.1"/><use href="#h" x="987.7" y="957.6"/><use href="#h" x="472.0" y="974.9"/><use href="#h" x="564.1" y="992.1"/><use href="#h" x="416.7" y="1009.4"/><use href="#h" x="490.4" y="1026.7"/><use href="#h" x="591.7" y="1026.7"/><use href="#h" x="490.4" y="1044.0"/><use href="#h" x="610.1" y="1044.0"/><use href="#h" x="785.1" y="1044.0"/><use href="#h" x="812.8" y="1044.0"/><use href="#h" x="831.2" y="1044.0"/><use href="#h" x="702.2" y="1078.5"/><use href="#h" x="711.4" y="1078.5"/><use href="#h" x="748.3" y="1078.5"/><use href="#h" x="683.8" y="1113.0"/>
</g>
<g fill="#dc5d67" stroke="#dc5d67">
<use href="#h" x="481.2" y="612.2"/><use href="#h" x="499.6" y="612.2"/><use href="#h" x="858.8" y="612.2"/><use href="#h" x="978.5" y="612.2"/><use href="#h" x="1052.2" y="612.2"/><use href="#h" x="1070.6" y="612.2"/><use href="#h" x="1089.1" y="612.2"/><use href="#h" x="941.7" y="629.5"/><use href="#h" x="1171.9" y="629.5"/><use href="#h" x="269.4" y="871.3"/><use href="#h" x="278.6" y="888.5"/><use href="#h" x="1125.9" y="905.8"/><use href="#h" x="1006.2" y="940.3"/><use href="#h" x="527.2" y="957.6"/><use href="#h" x="416.7" y="974.9"/><use href="#h" x="969.3" y="974.9"/><use href="#h" x="858.8" y="992.1"/><use href="#h" x="877.2" y="992.1"/><use href="#h" x="416.7" y="1026.7"/><use href="#h" x="481.2" y="1026.7"/><use href="#h" x="407.5" y="1044.0"/><use href="#h" x="472.0" y="1061.2"/><use href="#h" x="545.7" y="1061.2"/><use href="#h" x="785.1" y="1061.2"/><use href="#h" x="481.2" y="1078.5"/><use href="#h" x="545.7" y="1078.5"/><use href="#h" x="665.4" y="1078.5"/><use href="#h" x="683.8" y="1078.5"/><use href="#h" x="619.3" y="1095.8"/><use href="#h" x="683.8" y="1095.8"/><use href="#h" x="444.4" y="1216.7"/><use href="#h" x="453.6" y="1233.9"/>
</g>
<g fill="#eb7655" stroke="#eb7655">
<use href="#h" x="637.8" y="612.2"/><use href="#h" x="379.9" y="629.5"/><use href="#h" x="389.1" y="629.5"/><use href="#h" x="527.2" y="629.5"/><use href="#h" x="564.1" y="629.5"/><use href="#h" x="775.9" y="629.5"/><use href="#h" x="969.3" y="629.5"/><use href="#h" x="1181.2" y="646.7"/><use href="#h" x="352.3" y="836.7"/><use href="#h" x="361.5" y="871.3"/><use href="#h" x="1098.3" y="871.3"/><use href="#h" x="1181.2" y="871.3"/><use href="#h" x="1024.6" y="888.5"/><use href="#h" x="416.7" y="905.8"/><use href="#h" x="960.1" y="923.1"/><use href="#h" x="960.1" y="940.3"/><use href="#h" x="407.5" y="957.6"/><use href="#h" x="545.7" y="957.6"/><use href="#h" x="969.3" y="957.6"/><use href="#h" x="527.2" y="974.9"/><use href="#h" x="554.9" y="974.9"/><use href="#h" x="591.7" y="974.9"/><use href="#h" x="868.0" y="974.9"/><use href="#h" x="914.1" y="974.9"/><use href="#h" x="600.9" y="992.1"/><use href="#h" x="444.4" y="1044.0"/><use href="#h" x="665.4" y="1061.2"/><use href="#h" x="554.9" y="1078.5"/><use href="#h" x="499.6" y="1095.8"/><use href="#h" x="435.1" y="1164.8"/><use href="#h" x="462.8" y="1182.1"/><use href="#h" x="462.8" y="1199.4"/>
</g>
<g fill="#ee7b51" stroke="#ee7b51">
<use href="#h" x="656.2" y="612.2"/><use href="#h" x="693.0" y="612.2"/><use href="#h" x="287.8" y="629.5"/><use href="#h" x="370.7" y="629.5"/><use href="#h" x="398.3" y="629.5"/><use href="#h" x="674.6" y="629.5"/><use href="#h" x="794.3" y="629.5"/><use href="#h" x="1098.3" y="646.7"/><use href="#h" x="333.8" y="836.7"/><use href="#h" x="297.0" y="871.3"/><use href="#h" x="1052.2" y="888.5"/><use href="#h" x="1135.1" y="888.5"/><use href="#h" x="545.7" y="905.8"/><use href="#h" x="490.4" y="923.1"/><use href="#h" x="545.7" y="923.1"/><use href="#h" x="573.3" y="923.1"/><use href="#h" x="481.2" y="940.3"/><use href="#h" x="499.6" y="974.9"/><use href="#h" x="628.6" y="974.9"/><use href="#h" x="748.3" y="1026.7"/><use href="#h" x="683.8" y="1044.0"/><use href="#h" x="748.3" y="1044.0"/><use href="#h" x="647.0" y="1061.2"/><use href="#h" x="435.1" y="1113.0"/><use href="#h" x="444.4" y="1113.0"/><use href="#h" x="453.6" y="1164.8"/><use href="#h" x="435.1" y="1182.1"/><use href="#h" x="444.4" y="1182.1"/>
</g>
<g fill="#f1834c" stroke="#f1834c">
<use href="#h" x="683.8" y="612.2"/><use href="#h" x="536.5" y="629.5"/><use href="#h" x="997.0" y="629.5"/><use href="#h" x="1015.4" y="646.7"/><use href="#h" x="1116.7" y="646.7"/><use href="#h" x="1153.5" y="646.7"/><use href="#h" x="1144.3" y="836.7"/><use href="#h" x="324.6" y="854.0"/><use href="#h" x="343.0" y="854.0"/><use href="#h" x="398.3" y="854.0"/><use href="#h" x="518.0" y="854.0"/><use href="#h" x="527.2" y="854.0"/><use href="#h" x="370.7" y="871.3"/><use href="#h" x="1043.0" y="871.3"/><use href="#h" x="1079.8" y="871.3"/><use href="#h" x="554.9" y="905.8"/><use href="#h" x="564.1" y="923.1"/><use href="#h" x="849.6" y="923.1"/><use href="#h" x="997.0" y="923.1"/><use href="#h" x="877.2" y="940.3"/><use href="#h" x="591.7" y="992.1"/><use href="#h" x="785.1" y="1009.4"/><use href="#h" x="794.3" y="1009.4"/><use href="#h" x="600.9" y="1026.7"/><use href="#h" x="803.5" y="1026.7"/><use href="#h" x="619.3" y="1044.0"/><use href="#h" x="425.9" y="1061.2"/>
</g>
<g fill="#e97158" stroke="#e97158">
<use href="#h" x="757.5" y="612.2"/><use href="#h" x="573.3" y="629.5"/><use href="#h" x="1043.0" y="629.5"/><use href="#h" x="1061.4" y="629.5"/><use href="#h" x="306.2" y="854.0"/><use href="#h" x="1144.3" y="854.0"/><use href="#h" x="1153.5" y="854.0"/><use href="#h" x="297.0" y="888.5"/><use href="#h" x="1098.3" y="888.5"/><use href="#h" x="536.5" y="905.8"/><use href="#h" x="554.9" y="923.1"/><use href="#h" x="545.7" y="940.3"/><use href="#h" x="554.9" y="940.3"/><use href="#h" x="987.7" y="940.3"/><use href="#h" x="499.6" y="957.6"/><use href="#h" x="886.4" y="957.6"/><use href="#h" x="794.3" y="974.9"/><use href="#h" x="895.6" y="974.9"/><use href="#h" x="481.2" y="992.1"/><use href="#h" x="545.7" y="1009.4"/><use href="#h" x="600.9" y="1009.4"/><use href="#h" x="610.1" y="1009.4"/><use href="#h" x="573.3" y="1026.7"/><use href="#h" x="637.8" y="1061.2"/><use href="#h" x="656.2" y="1061.2"/><use href="#h" x="674.6" y="1061.2"/><use href="#h" x="693.0" y="1061.2"/><use href="#h" x="425.9" y="1078.5"/><use href="#h" x="647.0" y="1078.5"/>
</g>
<g fill="#f0804e" stroke="#f0804e">
<use href="#h" x="803.5" y="612.2"/><use href="#h" x="315.4" y="629.5"/><use href="#h" x="508.8" y="629.5"/><use href="#h" x="849.6" y="629.5"/><use href="#h" x="886.4" y="629.5"/><use href="#h" x="352.3" y="819.4"/><use href="#h" x="370.7" y="819.4"/><use href="#h" x="287.8" y="836.7"/><use href="#h" x="1181.2" y="836.7"/><use href="#h" x="416.7" y="854.0"/><use href="#h" x="472.0" y="854.0"/><use href="#h" x="379.9" y="871.3"/><use href="#h" x="1125.9" y="888.5"/><use href="#h" x="472.0" y="905.8"/><use href="#h" x="481.2" y="923.1"/><use href="#h" x="407.5" y="940.3"/><use href="#h" x="628.6" y="940.3"/><use href="#h" x="904.9" y="957.6"/><use href="#h" x="997.0" y="957.6"/><use href="#h" x="647.0" y="1044.0"/><use href="#h" x="665.4" y="1044.0"/><use href="#h" x="693.0" y="1044.0"/><use href="#h" x="766.7" y="1044.0"/><use href="#h" x="683.8" y="1061.2"/><use href="#h" x="729.9" y="1061.2"/><use href="#h" x="462.8" y="1113.0"/><use href="#h" x="462.8" y="1147.6"/>
</g>
<g fill="#ef7c51" stroke="#ef7c51">
<use href="#h" x="822.0" y="612.2"/><use href="#h" x="297.0" y="629.5"/><use href="#h" x="324.6" y="629.5"/><use href="#h" x="610.1" y="629.5"/><use href="#h" x="739.1" y="629.5"/><use href="#h" x="785.1" y="629.5"/><use href="#h" x="858.8" y="629.5"/><use href="#h" x="895.6" y="629.5"/><use href="#h" x="987.7" y="629.5"/><use href="#h" x="324.6" y="836.7"/><use href="#h" x="1171.9" y="854.0"/><use href="#h" x="352.3" y="871.3"/><use href="#h" x="554.9" y="871.3"/><use href="#h" x="1116.7" y="871.3"/><use href="#h" x="1153.5" y="871.3"/><use href="#h" x="1153.5" y="888.5"/><use href="#h" x="564.1" y="905.8"/><use href="#h" x="499.6" y="923.1"/><use href="#h" x="508.8" y="923.1"/><use href="#h" x="582.5" y="940.3"/><use href="#h" x="858.8" y="957.6"/><use href="#h" x="877.2" y="974.9"/><use href="#h" x="674.6" y="992.1"/><use href="#h" x="527.2" y="1026.7"/><use href="#h" x="619.3" y="1026.7"/><use href="#h" x="766.7" y="1026.7"/><use href="#h" x="425.9" y="1044.0"/><use href="#h" x="637.8" y="1078.5"/>
</g>
<g fill="#f1814d" stroke="#f1814d">
<use href="#h" x="306.2" y="629.5"/><use href="#h" x="904.9" y="629.5"/><use href="#h" x="1061.4" y="646.7"/><use href="#h" x="333.8" y="819.4"/><use href="#h" x="573.3" y="819.4"/><use href="#h" x="361.5" y="836.7"/><use href="#h" x="278.6" y="854.0"/><use href="#h" x="1043.0" y="854.0"/><use href="#h" x="481.2" y="888.5"/><use href="#h" x="508.8" y="905.8"/><use href="#h" x="573.3" y="905.8"/><use href="#h" x="941.7" y="905.8"/><use href="#h" x="997.0" y="940.3"/><use href="#h" x="868.0" y="957.6"/><use href="#h" x="674.6" y="1026.7"/><use href="#h" x="435.1" y="1061.2"/><use href="#h" x="462.8" y="1061.2"/>
</g>
<g fill="#ed7a52" stroke="#ed7a52">
<use href="#h" x="333.8" y="629.5"/><use href="#h" x="481.2" y="629.5"/><use href="#h" x="518.0" y="629.5"/><use href="#h" x="950.9" y="629.5"/><use href="#h" x="1033.8" y="802.2"/><use href="#h" x="278.6" y="836.7"/><use href="#h" x="306.2" y="836.7"/><use href="#h" x="333.8" y="871.3"/><use href="#h" x="389.1" y="871.3"/><use href="#h" x="508.8" y="888.5"/><use href="#h" x="1015.4" y="888.5"/><use href="#h" x="904.9" y="940.3"/><use href="#h" x="472.0" y="957.6"/><use href="#h" x="582.5" y="957.6"/><use href="#h" x="610.1" y="957.6"/><use href="#h" x="490.4" y="974.9"/><use href="#h" x="904.9" y="974.9"/><use href="#h" x="508.8" y="992.1"/><use href="#h" x="656.2" y="992.1"/><use href="#h" x="775.9" y="992.1"/><use href="#h" x="674.6" y="1009.4"/><use href="#h" x="729.9" y="1009.4"/><use href="#h" x="647.0" y="1026.7"/><use href="#h" x="453.6" y="1044.0"/><use href="#h" x="702.2" y="1061.2"/><use href="#h" x="425.9" y="1095.8"/>
</g>
<g fill="#f58b47" stroke="#f58b47">
<use href="#h" x="407.5" y="629.5"/><use href="#h" x="665.4" y="629.5"/><use href="#h" x="748.3" y="629.5"/><use href="#h" x="766.7" y="629.5"/><use href="#h" x="923.3" y="629.5"/><use href="#h" x="472.0" y="646.7"/><use href="#h" x="536.5" y="646.7"/><use href="#h" x="1144.3" y="646.7"/><use href="#h" x="1162.7" y="646.7"/><use href="#h" x="1107.5" y="819.4"/><use href="#h" x="398.3" y="836.7"/><use href="#h" x="407.5" y="836.7"/><use href="#h" x="1070.6" y="836.7"/><use href="#h" x="499.6" y="871.3"/><use href="#h" x="1107.5" y="871.3"/><use href="#h" x="398.3" y="888.5"/><use href="#h" x="591.7" y="923.1"/><use href="#h" x="969.3" y="923.1"/><use href="#h" x="886.4" y="940.3"/><use href="#h" x="481.2" y="957.6"/><use href="#h" x="711.4" y="957.6"/><use href="#h" x="425.9" y="992.1"/><use href="#h" x="637.8" y="1009.4"/><use href="#h" x="656.2" y="1026.7"/><use href="#h" x="693.0" y="1026.7"/><use href="#h" x="812.8" y="1026.7"/><use href="#h" x="656.2" y="1044.0"/>
</g>
<g fill="#f58c46" stroke="#f58c46">
<use href="#h" x="425.9" y="629.5"/><use href="#h" x="453.6" y="629.5"/><use href="#h" x="462.8" y="629.5"/><use href="#h" x="932.5" y="629.5"/><use href="#h" x="1024.6" y="646.7"/><use href="#h" x="1171.9" y="715.8"/><use href="#h" x="269.4" y="819.4"/><use href="#h" x="315.4" y="819.4"/><use href="#h" x="1033.8" y="819.4"/><use href="#h" x="315.4" y="836.7"/><use href="#h" x="416.7" y="871.3"/><use href="#h" x="564.1" y="871.3"/><use href="#h" x="619.3" y="923.1"/><use href="#h" x="978.5" y="923.1"/><use href="#h" x="858.8" y="940.3"/><use href="#h" x="895.6" y="957.6"/><use href="#h" x="748.3" y="974.9"/><use href="#h" x="637.8" y="1026.7"/>
</g>
<g fill="#f89540" stroke="#f89540">
<use href="#h" x="435.1" y="629.5"/><use href="#h" x="757.5" y="629.5"/><use href="#h" x="398.3" y="646.7"/><use href="#h" x="1079.8" y="646.7"/><use href="#h" x="1015.4" y="664.0"/><use href="#h" x="1061.4" y="784.9"/><use href="#h" x="297.0" y="819.4"/><use href="#h" x="306.2" y="819.4"/><use href="#h" x="324.6" y="819.4"/><use href="#h" x="361.5" y="819.4"/><use href="#h" x="1024.6" y="836.7"/><use href="#h" x="536.5" y="854.0"/><use href="#h" x="1061.4" y="854.0"/><use href="#h" x="1089.1" y="854.0"/><use href="#h" x="407.5" y="871.3"/><use href="#h" x="573.3" y="871.3"/><use href="#h" x="591.7" y="871.3"/><use href="#h" x="573.3" y="888.5"/><use href="#h" x="877.2" y="888.5"/><use href="#h" x="895.6" y="888.5"/><use href="#h" x="665.4" y="957.6"/><use href="#h" x="453.6" y="1182.1"/>
</g>
<g fill="#f3854b" stroke="#f3854b">
<use href="#h" x="444.4" y="629.5"/><use href="#h" x="619.3" y="629.5"/><use href="#h" x="831.2" y="629.5"/><use href="#h" x="1135.1" y="629.5"/><use href="#h" x="1135.1" y="646.7"/><use href="#h" x="1171.9" y="802.2"/><use href="#h" x="1181.2" y="819.4"/><use href="#h" x="389.1" y="854.0"/><use href="#h" x="941.7" y="871.3"/><use href="#h" x="1070.6" y="871.3"/><use href="#h" x="1162.7" y="871.3"/><use href="#h" x="619.3" y="905.8"/><use href="#h" x="969.3" y="905.8"/><use href="#h" x="472.0" y="923.1"/><use href="#h" x="610.1" y="940.3"/><use href="#h" x="619.3" y="957.6"/><use href="#h" x="628.6" y="957.6"/><use href="#h" x="619.3" y="1009.4"/><use href="#h" x="683.8" y="1009.4"/><use href="#h" x="757.5" y="1026.7"/><use href="#h" x="444.4" y="1078.5"/><use href="#h" x="444.4" y="1095.8"/>
</g>
<g fill="#f48849" stroke="#f48849">
<use href="#h" x="472.0" y="629.5"/><use href="#h" x="1052.2" y="646.7"/><use href="#h" x="1171.9" y="646.7"/><use href="#h" x="536.5" y="836.7"/><use href="#h" x="361.5" y="854.0"/><use href="#h" x="1098.3" y="854.0"/><use href="#h" x="472.0" y="871.3"/><use href="#h" x="545.7" y="871.3"/><use href="#h" x="1006.2" y="871.3"/><use href="#h" x="1006.2" y="888.5"/><use href="#h" x="490.4" y="905.8"/><use href="#h" x="895.6" y="905.8"/><use href="#h" x="582.5" y="923.1"/><use href="#h" x="600.9" y="940.3"/><use href="#h" x="619.3" y="940.3"/><use href="#h" x="794.3" y="940.3"/><use href="#h" x="508.8" y="957.6"/><use href="#h" x="877.2" y="957.6"/><use href="#h" x="647.0" y="992.1"/><use href="#h" x="766.7" y="992.1"/><use href="#h" x="822.0" y="992.1"/><use href="#h" x="840.4" y="992.1"/><use href="#h" x="711.4" y="1044.0"/><use href="#h" x="444.4" y="1061.2"/><use href="#h" x="462.8" y="1078.5"/><use href="#h" x="462.8" y="1130.3"/>
</g>
<g fill="#f07f4f" stroke="#f07f4f">
<use href="#h" x="582.5" y="629.5"/><use href="#h" x="702.2" y="629.5"/><use href="#h" x="1024.6" y="629.5"/><use href="#h" x="1043.0" y="646.7"/><use href="#h" x="1033.8" y="854.0"/><use href="#h" x="518.0" y="871.3"/><use href="#h" x="407.5" y="888.5"/><use href="#h" x="527.2" y="888.5"/><use href="#h" x="1070.6" y="888.5"/><use href="#h" x="1089.1" y="888.5"/><use href="#h" x="536.5" y="923.1"/><use href="#h" x="508.8" y="940.3"/><use href="#h" x="573.3" y="940.3"/><use href="#h" x="665.4" y="1026.7"/><use href="#h" x="822.0" y="1026.7"/><use href="#h" x="840.4" y="1026.7"/><use href="#h" x="674.6" y="1044.0"/><use href="#h" x="840.4" y="1044.0"/><use href="#h" x="435.1" y="1078.5"/><use href="#h" x="425.9" y="1147.6"/>
</g>
<g fill="#f68d45" stroke="#f68d45">
<use href="#h" x="591.7" y="629.5"/><use href="#h" x="1006.2" y="802.2"/><use href="#h" x="490.4" y="836.7"/><use href="#h" x="554.9" y="836.7"/><use href="#h" x="287.8" y="854.0"/><use href="#h" x="379.9" y="854.0"/><use href="#h" x="1006.2" y="854.0"/><use href="#h" x="1052.2" y="854.0"/><use href="#h" x="1162.7" y="854.0"/><use href="#h" x="1052.2" y="871.3"/><use href="#h" x="1089.1" y="871.3"/><use href="#h" x="554.9" y="888.5"/><use href="#h" x="619.3" y="992.1"/><use href="#h" x="757.5" y="992.1"/><use href="#h" x="453.6" y="1009.4"/><use href="#h" x="462.8" y="1095.8"/>
</g>
<g fill="#f3874a" stroke="#f3874a">
<use href="#h" x="628.6" y="629.5"/><use href="#h" x="960.1" y="629.5"/><use href="#h" x="997.0" y="646.7"/><use href="#h" x="278.6" y="819.4"/><use href="#h" x="389.1" y="836.7"/><use href="#h" x="1171.9" y="836.7"/><use href="#h" x="370.7" y="854.0"/><use href="#h" x="545.7" y="854.0"/><use href="#h" x="1116.7" y="854.0"/><use href="#h" x="527.2" y="871.3"/><use href="#h" x="527.2" y="905.8"/><use href="#h" x="849.6" y="905.8"/><use href="#h" x="610.1" y="923.1"/><use href="#h" x="969.3" y="940.3"/><use href="#h" x="785.1" y="957.6"/><use href="#h" x="600.9" y="974.9"/><use href="#h" x="435.1" y="1009.4"/><use href="#h" x="812.8" y="1009.4"/><use href="#h" x="637.8" y="1044.0"/><use href="#h" x="435.1" y="1130.3"/><use href="#h" x="453.6" y="1130.3"/>
</g>
<g fill="#f79342" stroke="#f79342">
<use href="#h" x="637.8" y="629.5"/><use href="#h" x="1006.2" y="646.7"/><use href="#h" x="1107.5" y="664.0"/><use href="#h" x="1181.2" y="664.0"/><use href="#h" x="352.3" y="802.2"/><use href="#h" x="1135.1" y="802.2"/><use href="#h" x="379.9" y="819.4"/><use href="#h" x="518.0" y="819.4"/><use href="#h" x="545.7" y="819.4"/><use href="#h" x="1043.0" y="819.4"/><use href="#h" x="1052.2" y="819.4"/><use href="#h" x="1098.3" y="819.4"/><use href="#h" x="481.2" y="854.0"/><use href="#h" x="573.3" y="854.0"/><use href="#h" x="978.5" y="871.3"/><use href="#h" x="1125.9" y="871.3"/><use href="#h" x="416.7" y="888.5"/><use href="#h" x="490.4" y="888.5"/><use href="#h" x="591.7" y="888.5"/><use href="#h" x="858.8" y="905.8"/><use href="#h" x="960.1" y="905.8"/><use href="#h" x="923.3" y="940.3"/><use href="#h" x="914.1" y="957.6"/><use href="#h" x="766.7" y="974.9"/><use href="#h" x="683.8" y="992.1"/><use href="#h" x="702.2" y="1009.4"/><use href="#h" x="462.8" y="1044.0"/>
</g>
<g fill="#f48948" stroke="#f48948">
<use href="#h" x="647.0" y="629.5"/><use href="#h" x="720.7" y="629.5"/><use href="#h" x="1070.6" y="646.7"/><use href="#h" x="1043.0" y="802.2"/><use href="#h" x="490.4" y="871.3"/><use href="#h" x="545.7" y="888.5"/><use href="#h" x="582.5" y="888.5"/><use href="#h" x="407.5" y="905.8"/><use href="#h" x="499.6" y="905.8"/><use href="#h" x="877.2" y="923.1"/><use href="#h" x="987.7" y="923.1"/><use href="#h" x="775.9" y="940.3"/><use href="#h" x="895.6" y="940.3"/><use href="#h" x="831.2" y="974.9"/><use href="#h" x="720.7" y="992.1"/><use href="#h" x="794.3" y="992.1"/><use href="#h" x="665.4" y="1009.4"/><use href="#h" x="748.3" y="1009.4"/><use href="#h" x="729.9" y="1044.0"/><use href="#h" x="453.6" y="1113.0"/>
</g>
<g fill="#fb9f3a" stroke="#fb9f3a">
<use href="#h" x="656.2" y="629.5"/><use href="#h" x="840.4" y="629.5"/><use href="#h" x="987.7" y="646.7"/><use href="#h" x="1024.6" y="819.4"/><use href="#h" x="600.9" y="836.7"/><use href="#h" x="877.2" y="836.7"/><use href="#h" x="435.1" y="854.0"/><use href="#h" x="619.3" y="854.0"/><use href="#h" x="950.9" y="854.0"/><use href="#h" x="435.1" y="871.3"/><use href="#h" x="720.7" y="940.3"/><use href="#h" x="729.9" y="940.3"/><use href="#h" x="803.5" y="940.3"/><use href="#h" x="729.9" y="957.6"/><use href="#h" x="748.3" y="992.1"/><use href="#h" x="803.5" y="992.1"/><use href="#h" x="831.2" y="992.1"/><use href="#h" x="683.8" y="1026.7"/>
</g>
<g fill="#f9973f" stroke="#f9973f">
<use href="#h" x="693.0" y="629.5"/><use href="#h" x="914.1" y="629.5"/><use href="#h" x="582.5" y="646.7"/><use href="#h" x="1171.9" y="664.0"/><use href="#h" x="1181.2" y="802.2"/><use href="#h" x="287.8" y="819.4"/><use href="#h" x="858.8" y="819.4"/><use href="#h" x="868.0" y="888.5"/><use href="#h" x="923.3" y="888.5"/><use href="#h" x="1079.8" y="888.5"/><use href="#h" x="582.5" y="905.8"/><use href="#h" x="600.9" y="905.8"/><use href="#h" x="868.0" y="905.8"/><use href="#h" x="729.9" y="923.1"/><use href="#h" x="886.4" y="923.1"/><use href="#h" x="453.6" y="940.3"/><use href="#h" x="748.3" y="940.3"/><use href="#h" x="720.7" y="957.6"/><use href="#h" x="674.6" y="974.9"/><use href="#h" x="812.8" y="992.1"/><use href="#h" x="656.2" y="1009.4"/><use href="#h" x="702.2" y="1026.7"/>
</g>
<g fill="#f79143" stroke="#f79143">
<use href="#h" x="711.4" y="629.5"/><use href="#h" x="269.4" y="646.7"/><use href="#h" x="518.0" y="646.7"/><use href="#h" x="1125.9" y="646.7"/><use href="#h" x="1043.0" y="681.3"/><use href="#h" x="343.0" y="802.2"/><use href="#h" x="398.3" y="819.4"/><use href="#h" x="1116.7" y="819.4"/><use href="#h" x="527.2" y="836.7"/><use href="#h" x="849.6" y="836.7"/><use href="#h" x="1015.4" y="854.0"/><use href="#h" x="499.6" y="888.5"/><use href="#h" x="610.1" y="888.5"/><use href="#h" x="1061.4" y="888.5"/><use href="#h" x="610.1" y="905.8"/><use href="#h" x="858.8" y="923.1"/><use href="#h" x="895.6" y="923.1"/><use href="#h" x="978.5" y="940.3"/><use href="#h" x="729.9" y="974.9"/><use href="#h" x="739.1" y="974.9"/><use href="#h" x="647.0" y="1009.4"/><use href="#h" x="720.7" y="1026.7"/>
</g>
<g fill="#f99a3e" stroke="#f99a3e">
<use href="#h" x="803.5" y="629.5"/><use href="#h" x="877.2" y="629.5"/><use href="#h" x="287.8" y="646.7"/><use href="#h" x="858.8" y="646.7"/><use href="#h" x="941.7" y="767.6"/><use href="#h" x="297.0" y="784.9"/><use href="#h" x="1107.5" y="802.2"/><use href="#h" x="1144.3" y="802.2"/><use href="#h" x="1153.5" y="802.2"/><use href="#h" x="343.0" y="819.4"/><use href="#h" x="407.5" y="819.4"/><use href="#h" x="1052.2" y="836.7"/><use href="#h" x="886.4" y="888.5"/><use href="#h" x="960.1" y="888.5"/><use href="#h" x="435.1" y="974.9"/><use href="#h" x="757.5" y="974.9"/><use href="#h" x="840.4" y="974.9"/><use href="#h" x="462.8" y="992.1"/><use href="#h" x="711.4" y="1026.7"/>
</g>
<g fill="#f9983e" stroke="#f9983e">
<use href="#h" x="812.8" y="629.5"/><use href="#h" x="573.3" y="646.7"/><use href="#h" x="1089.1" y="646.7"/><use href="#h" x="1107.5" y="646.7"/><use href="#h" x="1153.5" y="664.0"/><use href="#h" x="1181.2" y="767.6"/><use href="#h" x="287.8" y="784.9"/><use href="#h" x="343.0" y="784.9"/><use href="#h" x="1043.0" y="784.9"/><use href="#h" x="324.6" y="802.2"/><use href="#h" x="398.3" y="802.2"/><use href="#h" x="1015.4" y="819.4"/><use href="#h" x="1061.4" y="819.4"/><use href="#h" x="297.0" y="836.7"/><use href="#h" x="518.0" y="836.7"/><use href="#h" x="1043.0" y="836.7"/><use href="#h" x="1162.7" y="836.7"/><use href="#h" x="1079.8" y="854.0"/><use href="#h" x="1135.1" y="854.0"/><use href="#h" x="858.8" y="871.3"/><use href="#h" x="904.9" y="888.5"/><use href="#h" x="886.4" y="905.8"/><use href="#h" x="978.5" y="905.8"/><use href="#h" x="868.0" y="923.1"/><use href="#h" x="831.2" y="957.6"/><use href="#h" x="425.9" y="974.9"/><use href="#h" x="775.9" y="974.9"/><use href="#h" x="739.1" y="992.1"/><use href="#h" x="444.4" y="1009.4"/><use href="#h" x="425.9" y="1026.7"/>
</g>
<g fill="#f79044" stroke="#f79044">
<use href="#h" x="822.0" y="629.5"/><use href="#h" x="278.6" y="646.7"/><use href="#h" x="1033.8" y="646.7"/><use href="#h" x="1116.7" y="664.0"/><use href="#h" x="1181.2" y="784.9"/><use href="#h" x="481.2" y="819.4"/><use href="#h" x="407.5" y="854.0"/><use href="#h" x="554.9" y="854.0"/><use href="#h" x="628.6" y="871.3"/><use href="#h" x="849.6" y="871.3"/><use href="#h" x="1061.4" y="871.3"/><use href="#h" x="536.5" y="888.5"/><use href="#h" x="591.7" y="905.8"/><use href="#h" x="1089.1" y="905.8"/><use href="#h" x="600.9" y="923.1"/><use href="#h" x="794.3" y="923.1"/><use href="#h" x="932.5" y="923.1"/><use href="#h" x="868.0" y="940.3"/><use href="#h" x="425.9" y="1009.4"/><use href="#h" x="757.5" y="1009.4"/><use href="#h" x="803.5" y="1009.4"/><use href="#h" x="453.6" y="1061.2"/><use href="#h" x="453.6" y="1095.8"/>
</g>
<g fill="#fca338" stroke="#fca338">
<use href="#h" x="297.0" y="646.7"/><use href="#h" x="554.9" y="646.7"/><use href="#h" x="978.5" y="646.7"/><use href="#h" x="1153.5" y="698.6"/><use href="#h" x="1153.5" y="750.4"/><use href="#h" x="1162.7" y="750.4"/><use href="#h" x="389.1" y="802.2"/><use href="#h" x="1052.2" y="802.2"/><use href="#h" x="1079.8" y="802.2"/><use href="#h" x="425.9" y="836.7"/><use href="#h" x="950.9" y="836.7"/><use href="#h" x="1125.9" y="854.0"/><use href="#h" x="582.5" y="871.3"/><use href="#h" x="619.3" y="871.3"/><use href="#h" x="600.9" y="888.5"/><use href="#h" x="656.2" y="905.8"/><use href="#h" x="748.3" y="905.8"/><use href="#h" x="757.5" y="905.8"/><use href="#h" x="683.8" y="923.1"/><use href="#h" x="775.9" y="923.1"/><use href="#h" x="693.0" y="940.3"/><use href="#h" x="739.1" y="940.3"/><use href="#h" x="914.1" y="940.3"/><use href="#h" x="766.7" y="957.6"/>
</g>
<g fill="#fba238" stroke="#fba238">
<use href="#h" x="306.2" y="646.7"/><use href="#h" x="1033.8" y="664.0"/><use href="#h" x="1033.8" y="698.6"/><use href="#h" x="1107.5" y="750.4"/><use href="#h" x="1153.5" y="767.6"/><use href="#h" x="1107.5" y="784.9"/><use href="#h" x="1135.1" y="784.9"/><use href="#h" x="297.0" y="802.2"/><use href="#h" x="306.2" y="802.2"/><use href="#h" x="941.7" y="802.2"/><use href="#h" x="472.0" y="819.4"/><use href="#h" x="582.5" y="819.4"/><use href="#h" x="1153.5" y="819.4"/><use href="#h" x="564.1" y="836.7"/><use href="#h" x="895.6" y="836.7"/><use href="#h" x="508.8" y="871.3"/><use href="#h" x="822.0" y="888.5"/><use href="#h" x="877.2" y="905.8"/><use href="#h" x="425.9" y="923.1"/><use href="#h" x="462.8" y="923.1"/><use href="#h" x="425.9" y="940.3"/><use href="#h" x="647.0" y="940.3"/><use href="#h" x="665.4" y="974.9"/><use href="#h" x="720.7" y="974.9"/>
</g>
<g fill="#fca537" stroke="#fca537">
<use href="#h" x="315.4" y="646.7"/><use href="#h" x="333.8" y="646.7"/><use href="#h" x="370.7" y="646.7"/><use href="#h" x="610.1" y="646.7"/><use href="#h" x="720.7" y="646.7"/><use href="#h" x="739.1" y="646.7"/><use href="#h" x="886.4" y="646.7"/><use href="#h" x="1043.0" y="664.0"/><use href="#h" x="1070.6" y="664.0"/><use href="#h" x="1153.5" y="681.3"/><use href="#h" x="269.4" y="767.6"/><use href="#h" x="269.4" y="784.9"/><use href="#h" x="324.6" y="784.9"/><use href="#h" x="361.5" y="784.9"/><use href="#h" x="379.9" y="784.9"/><use href="#h" x="481.2" y="784.9"/><use href="#h" x="582.5" y="784.9"/><use href="#h" x="1006.2" y="784.9"/><use href="#h" x="1125.9" y="784.9"/><use href="#h" x="287.8" y="802.2"/><use href="#h" x="315.4" y="802.2"/><use href="#h" x="573.3" y="802.2"/><use href="#h" x="1098.3" y="802.2"/><use href="#h" x="490.4" y="819.4"/><use href="#h" x="775.9" y="819.4"/><use href="#h" x="960.1" y="819.4"/><use href="#h" x="573.3" y="836.7"/><use href="#h" x="619.3" y="836.7"/><use href="#h" x="757.5" y="836.7"/><use href="#h" x="858.8" y="836.7"/><use href="#h" x="877.2" y="854.0"/><use href="#h" x="886.4" y="854.0"/><use href="#h" x="812.8" y="871.3"/><use href="#h" x="904.9" y="871.3"/><use href="#h" x="444.4" y="905.8"/><use href="#h" x="665.4" y="905.8"/><use href="#h" x="674.6" y="905.8"/><use href="#h" x="822.0" y="923.1"/><use href="#h" x="822.0" y="940.3"/><use href="#h" x="637.8" y="957.6"/><use href="#h" x="453.6" y="992.1"/>
</g>
<g fill="#fdac33" stroke="#fdac33">
<use href="#h" x="324.6" y="646.7"/><use href="#h" x="564.1" y="646.7"/><use href="#h" x="794.3" y="646.7"/><use href="#h" x="822.0" y="646.7"/><use href="#h" x="554.9" y="664.0"/><use href="#h" x="941.7" y="664.0"/><use href="#h" x="1033.8" y="681.3"/><use href="#h" x="1061.4" y="681.3"/><use href="#h" x="1162.7" y="681.3"/><use href="#h" x="1043.0" y="698.6"/><use href="#h" x="1144.3" y="698.6"/><use href="#h" x="1144.3" y="733.1"/><use href="#h" x="941.7" y="750.4"/><use href="#h" x="1098.3" y="750.4"/><use href="#h" x="343.0" y="767.6"/><use href="#h" x="1061.4" y="767.6"/><use href="#h" x="1089.1" y="767.6"/><use href="#h" x="527.2" y="784.9"/><use href="#h" x="775.9" y="784.9"/><use href="#h" x="978.5" y="784.9"/><use href="#h" x="591.7" y="802.2"/><use href="#h" x="600.9" y="802.2"/><use href="#h" x="886.4" y="802.2"/><use href="#h" x="978.5" y="802.2"/><use href="#h" x="1015.4" y="802.2"/><use href="#h" x="868.0" y="819.4"/><use href="#h" x="978.5" y="819.4"/><use href="#h" x="914.1" y="836.7"/><use href="#h" x="1125.9" y="836.7"/><use href="#h" x="969.3" y="854.0"/><use href="#h" x="425.9" y="871.3"/><use href="#h" x="739.1" y="871.3"/><use href="#h" x="453.6" y="888.5"/><use href="#h" x="656.2" y="888.5"/><use href="#h" x="720.7" y="888.5"/><use href="#h" x="425.9" y="905.8"/><use href="#h" x="462.8" y="905.8"/><use href="#h" x="647.0" y="905.8"/><use href="#h" x="822.0" y="905.8"/><use href="#h" x="444.4" y="923.1"/><use href="#h" x="656.2" y="923.1"/><use href="#h" x="711.4" y="923.1"/>
</g>
<g fill="#f89441" stroke="#f89441">
<use href="#h" x="343.0" y="646.7"/><use href="#h" x="361.5" y="646.7"/><use href="#h" x="1171.9" y="767.6"/><use href="#h" x="1033.8" y="784.9"/><use href="#h" x="1162.7" y="784.9"/><use href="#h" x="269.4" y="802.2"/><use href="#h" x="379.9" y="802.2"/><use href="#h" x="1162.7" y="802.2"/><use href="#h" x="564.1" y="819.4"/><use href="#h" x="610.1" y="819.4"/><use href="#h" x="379.9" y="836.7"/><use href="#h" x="545.7" y="836.7"/><use href="#h" x="610.1" y="836.7"/><use href="#h" x="1107.5" y="836.7"/><use href="#h" x="1024.6" y="854.0"/><use href="#h" x="1070.6" y="854.0"/><use href="#h" x="600.9" y="871.3"/><use href="#h" x="803.5" y="888.5"/><use href="#h" x="794.3" y="905.8"/><use href="#h" x="987.7" y="905.8"/><use href="#h" x="997.0" y="905.8"/><use href="#h" x="453.6" y="923.1"/><use href="#h" x="425.9" y="957.6"/>
</g>
<g fill="#fba139" stroke="#fba139">
<use href="#h" x="352.3" y="646.7"/><use href="#h" x="877.2" y="646.7"/><use href="#h" x="941.7" y="646.7"/><use href="#h" x="960.1" y="646.7"/><use href="#h" x="1144.3" y="664.0"/><use href="#h" x="1070.6" y="681.3"/><use href="#h" x="1043.0" y="715.8"/><use href="#h" x="1144.3" y="715.8"/><use href="#h" x="1033.8" y="750.4"/><use href="#h" x="1181.2" y="750.4"/><use href="#h" x="1033.8" y="767.6"/><use href="#h" x="1052.2" y="767.6"/><use href="#h" x="1162.7" y="767.6"/><use href="#h" x="333.8" y="784.9"/><use href="#h" x="352.3" y="784.9"/><use href="#h" x="490.4" y="784.9"/><use href="#h" x="1015.4" y="784.9"/><use href="#h" x="1024.6" y="784.9"/><use href="#h" x="333.8" y="802.2"/><use href="#h" x="370.7" y="802.2"/><use href="#h" x="407.5" y="802.2"/><use href="#h" x="472.0" y="802.2"/><use href="#h" x="997.0" y="802.2"/><use href="#h" x="1089.1" y="802.2"/><use href="#h" x="1116.7" y="802.2"/><use href="#h" x="389.1" y="819.4"/><use href="#h" x="508.8" y="819.4"/><use href="#h" x="1006.2" y="819.4"/><use href="#h" x="499.6" y="836.7"/><use href="#h" x="508.8" y="836.7"/><use href="#h" x="886.4" y="836.7"/><use href="#h" x="941.7" y="836.7"/><use href="#h" x="1033.8" y="836.7"/><use href="#h" x="1116.7" y="836.7"/><use href="#h" x="1153.5" y="836.7"/><use href="#h" x="499.6" y="854.0"/><use href="#h" x="600.9" y="854.0"/><use href="#h" x="610.1" y="854.0"/><use href="#h" x="849.6" y="854.0"/><use href="#h" x="1024.6" y="871.3"/><use href="#h" x="425.9" y="888.5"/><use href="#h" x="775.9" y="905.8"/><use href="#h" x="628.6" y="923.1"/><use href="#h" x="757.5" y="923.1"/><use href="#h" x="904.9" y="923.1"/><use href="#h" x="711.4" y="940.3"/><use href="#h" x="831.2" y="940.3"/><use href="#h" x="674.6" y="957.6"/><use href="#h" x="794.3" y="957.6"/><use href="#h" x="444.4" y="974.9"/><use href="#h" x="683.8" y="974.9"/><use href="#h" x="693.0" y="974.9"/><use href="#h" x="711.4" y="974.9"/><use href="#h" x="444.4" y="992.1"/>
</g>
<g fill="#fa9c3c" stroke="#fa9c3c">
<use href="#h" x="379.9" y="646.7"/><use href="#h" x="628.6" y="646.7"/><use href="#h" x="729.9" y="646.7"/><use href="#h" x="775.9" y="646.7"/><use href="#h" x="1061.4" y="664.0"/><use href="#h" x="1043.0" y="750.4"/><use href="#h" x="278.6" y="802.2"/><use href="#h" x="361.5" y="802.2"/><use href="#h" x="582.5" y="802.2"/><use href="#h" x="877.2" y="819.4"/><use href="#h" x="941.7" y="819.4"/><use href="#h" x="1070.6" y="819.4"/><use href="#h" x="1089.1" y="819.4"/><use href="#h" x="1015.4" y="836.7"/><use href="#h" x="508.8" y="854.0"/><use href="#h" x="868.0" y="871.3"/><use href="#h" x="858.8" y="888.5"/><use href="#h" x="932.5" y="940.3"/><use href="#h" x="435.1" y="1044.0"/>
</g>
<g fill="#fca934" stroke="#fca934">
<use href="#h" x="389.1" y="646.7"/><use href="#h" x="527.2" y="646.7"/><use href="#h" x="591.7" y="646.7"/><use href="#h" x="656.2" y="646.7"/><use href="#h" x="785.1" y="646.7"/><use href="#h" x="564.1" y="664.0"/><use href="#h" x="1006.2" y="664.0"/><use href="#h" x="1024.6" y="664.0"/><use href="#h" x="1006.2" y="681.3"/><use href="#h" x="1144.3" y="681.3"/><use href="#h" x="1033.8" y="715.8"/><use href="#h" x="324.6" y="767.6"/><use href="#h" x="361.5" y="767.6"/><use href="#h" x="1079.8" y="767.6"/><use href="#h" x="1144.3" y="767.6"/><use href="#h" x="416.7" y="784.9"/><use href="#h" x="1079.8" y="784.9"/><use href="#h" x="435.1" y="802.2"/><use href="#h" x="481.2" y="802.2"/><use href="#h" x="490.4" y="802.2"/><use href="#h" x="508.8" y="802.2"/><use href="#h" x="1024.6" y="802.2"/><use href="#h" x="591.7" y="819.4"/><use href="#h" x="600.9" y="819.4"/><use href="#h" x="619.3" y="819.4"/><use href="#h" x="1125.9" y="819.4"/><use href="#h" x="416.7" y="836.7"/><use href="#h" x="582.5" y="836.7"/><use href="#h" x="969.3" y="836.7"/><use href="#h" x="564.1" y="854.0"/><use href="#h" x="628.6" y="854.0"/><use href="#h" x="794.3" y="871.3"/><use href="#h" x="665.4" y="888.5"/><use href="#h" x="748.3" y="923.1"/><use href="#h" x="803.5" y="923.1"/><use href="#h" x="665.4" y="940.3"/><use href="#h" x="757.5" y="940.3"/><use href="#h" x="748.3" y="957.6"/><use href="#h" x="693.0" y="992.1"/>
</g>
<g fill="#feb82c" stroke="#feb82c">
<use href="#h" x="407.5" y="646.7"/><use href="#h" x="453.6" y="646.7"/><use href="#h" x="647.0" y="646.7"/><use href="#h" x="665.4" y="646.7"/><use href="#h" x="748.3" y="646.7"/><use href="#h" x="895.6" y="646.7"/><use href="#h" x="1052.2" y="715.8"/><use href="#h" x="573.3" y="733.1"/><use href="#h" x="1089.1" y="733.1"/><use href="#h" x="1061.4" y="750.4"/><use href="#h" x="333.8" y="767.6"/><use href="#h" x="508.8" y="767.6"/><use href="#h" x="1015.4" y="767.6"/><use href="#h" x="564.1" y="784.9"/><use href="#h" x="610.1" y="784.9"/><use href="#h" x="895.6" y="784.9"/><use href="#h" x="914.1" y="784.9"/><use href="#h" x="656.2" y="802.2"/><use href="#h" x="702.2" y="802.2"/><use href="#h" x="987.7" y="802.2"/><use href="#h" x="444.4" y="819.4"/><use href="#h" x="895.6" y="819.4"/><use href="#h" x="775.9" y="836.7"/><use href="#h" x="997.0" y="836.7"/><use href="#h" x="591.7" y="854.0"/><use href="#h" x="803.5" y="854.0"/><use href="#h" x="831.2" y="871.3"/><use href="#h" x="840.4" y="871.3"/><use href="#h" x="914.1" y="871.3"/><use href="#h" x="775.9" y="888.5"/><use href="#h" x="693.0" y="905.8"/><use href="#h" x="720.7" y="905.8"/>
</g>
<g fill="#fdb130" stroke="#fdb130">
<use href="#h" x="416.7" y="646.7"/><use href="#h" x="904.9" y="646.7"/><use href="#h" x="950.9" y="664.0"/><use href="#h" x="1079.8" y="681.3"/><use href="#h" x="1089.1" y="681.3"/><use href="#h" x="1181.2" y="698.6"/><use href="#h" x="1107.5" y="715.8"/><use href="#h" x="950.9" y="733.1"/><use href="#h" x="1061.4" y="733.1"/><use href="#h" x="1135.1" y="733.1"/><use href="#h" x="527.2" y="750.4"/><use href="#h" x="950.9" y="750.4"/><use href="#h" x="1024.6" y="750.4"/><use href="#h" x="518.0" y="767.6"/><use href="#h" x="1116.7" y="767.6"/><use href="#h" x="1135.1" y="767.6"/><use href="#h" x="472.0" y="784.9"/><use href="#h" x="1089.1" y="784.9"/><use href="#h" x="1144.3" y="784.9"/><use href="#h" x="775.9" y="802.2"/><use href="#h" x="794.3" y="819.4"/><use href="#h" x="969.3" y="819.4"/><use href="#h" x="987.7" y="819.4"/><use href="#h" x="628.6" y="836.7"/><use href="#h" x="665.4" y="836.7"/><use href="#h" x="1079.8" y="836.7"/><use href="#h" x="978.5" y="854.0"/><use href="#h" x="997.0" y="854.0"/><use href="#h" x="987.7" y="871.3"/><use href="#h" x="435.1" y="888.5"/><use href="#h" x="693.0" y="888.5"/><use href="#h" x="729.9" y="888.5"/><use href="#h" x="794.3" y="888.5"/><use href="#h" x="840.4" y="888.5"/><use href="#h" x="674.6" y="940.3"/><use href="#h" x="702.2" y="940.3"/><use href="#h" x="812.8" y="940.3"/><use href="#h" x="840.4" y="940.3"/>
</g>
<g fill="#fdb52e" stroke="#fdb52e">
<use href="#h" x="425.9" y="646.7"/><use href="#h" x="914.1" y="646.7"/><use href="#h" x="370.7" y="664.0"/><use href="#h" x="591.7" y="664.0"/><use href="#h" x="978.5" y="664.0"/><use href="#h" x="1079.8" y="664.0"/><use href="#h" x="1135.1" y="664.0"/><use href="#h" x="1015.4" y="715.8"/><use href="#h" x="1061.4" y="715.8"/><use href="#h" x="1070.6" y="715.8"/><use href="#h" x="1098.3" y="715.8"/><use href="#h" x="1070.6" y="733.1"/><use href="#h" x="343.0" y="750.4"/><use href="#h" x="389.1" y="784.9"/><use href="#h" x="554.9" y="784.9"/><use href="#h" x="729.9" y="836.7"/><use href="#h" x="425.9" y="854.0"/><use href="#h" x="702.2" y="854.0"/><use href="#h" x="775.9" y="854.0"/><use href="#h" x="932.5" y="854.0"/><use href="#h" x="637.8" y="871.3"/><use href="#h" x="711.4" y="871.3"/><use href="#h" x="720.7" y="871.3"/><use href="#h" x="822.0" y="871.3"/><use href="#h" x="812.8" y="888.5"/><use href="#h" x="702.2" y="905.8"/><use href="#h" x="840.4" y="905.8"/><use href="#h" x="637.8" y="923.1"/><use href="#h" x="831.2" y="923.1"/><use href="#h" x="923.3" y="923.1"/><use href="#h" x="803.5" y="957.6"/>
</g>
<g fill="#febe2a" stroke="#febe2a">
<use href="#h" x="435.1" y="646.7"/><use href="#h" x="711.4" y="646.7"/><use href="#h" x="333.8" y="664.0"/><use href="#h" x="352.3" y="664.0"/><use href="#h" x="499.6" y="664.0"/><use href="#h" x="610.1" y="664.0"/><use href="#h" x="269.4" y="681.3"/><use href="#h" x="1098.3" y="681.3"/><use href="#h" x="582.5" y="698.6"/><use href="#h" x="591.7" y="698.6"/><use href="#h" x="1006.2" y="698.6"/><use href="#h" x="1162.7" y="698.6"/><use href="#h" x="564.1" y="733.1"/><use href="#h" x="858.8" y="733.1"/><use href="#h" x="1107.5" y="733.1"/><use href="#h" x="416.7" y="750.4"/><use href="#h" x="297.0" y="767.6"/><use href="#h" x="665.4" y="784.9"/><use href="#h" x="683.8" y="784.9"/><use href="#h" x="766.7" y="784.9"/><use href="#h" x="637.8" y="802.2"/><use href="#h" x="729.9" y="802.2"/><use href="#h" x="766.7" y="819.4"/><use href="#h" x="803.5" y="819.4"/><use href="#h" x="886.4" y="819.4"/><use href="#h" x="637.8" y="836.7"/><use href="#h" x="914.1" y="854.0"/><use href="#h" x="932.5" y="871.3"/><use href="#h" x="637.8" y="888.5"/><use href="#h" x="647.0" y="888.5"/><use href="#h" x="831.2" y="888.5"/><use href="#h" x="932.5" y="888.5"/>
</g>
<g fill="#fdab33" stroke="#fdab33">
<use href="#h" x="444.4" y="646.7"/><use href="#h" x="1052.2" y="681.3"/><use href="#h" x="1006.2" y="767.6"/><use href="#h" x="398.3" y="784.9"/><use href="#h" x="950.9" y="784.9"/><use href="#h" x="499.6" y="802.2"/><use href="#h" x="610.1" y="802.2"/><use href="#h" x="904.9" y="819.4"/><use href="#h" x="674.6" y="888.5"/><use href="#h" x="766.7" y="888.5"/><use href="#h" x="997.0" y="888.5"/><use href="#h" x="711.4" y="905.8"/><use href="#h" x="720.7" y="923.1"/><use href="#h" x="637.8" y="940.3"/><use href="#h" x="656.2" y="974.9"/><use href="#h" x="702.2" y="974.9"/><use href="#h" x="702.2" y="992.1"/>
</g>
<g fill="#fdaf31" stroke="#fdaf31">
<use href="#h" x="462.8" y="646.7"/><use href="#h" x="923.3" y="646.7"/><use href="#h" x="269.4" y="664.0"/><use href="#h" x="1015.4" y="681.3"/><use href="#h" x="1181.2" y="681.3"/><use href="#h" x="1181.2" y="715.8"/><use href="#h" x="1116.7" y="750.4"/><use href="#h" x="1144.3" y="750.4"/><use href="#h" x="352.3" y="767.6"/><use href="#h" x="554.9" y="767.6"/><use href="#h" x="1107.5" y="767.6"/><use href="#h" x="306.2" y="784.9"/><use href="#h" x="315.4" y="784.9"/><use href="#h" x="858.8" y="784.9"/><use href="#h" x="1116.7" y="784.9"/><use href="#h" x="536.5" y="802.2"/><use href="#h" x="868.0" y="802.2"/><use href="#h" x="1125.9" y="802.2"/><use href="#h" x="628.6" y="819.4"/><use href="#h" x="729.9" y="819.4"/><use href="#h" x="785.1" y="819.4"/><use href="#h" x="444.4" y="836.7"/><use href="#h" x="923.3" y="854.0"/><use href="#h" x="997.0" y="871.3"/><use href="#h" x="462.8" y="888.5"/><use href="#h" x="619.3" y="888.5"/><use href="#h" x="812.8" y="905.8"/><use href="#h" x="831.2" y="905.8"/><use href="#h" x="435.1" y="923.1"/><use href="#h" x="766.7" y="940.3"/><use href="#h" x="462.8" y="974.9"/>
</g>
<g fill="#fa9b3d" stroke="#fa9b3d">
<use href="#h" x="481.2" y="646.7"/><use href="#h" x="490.4" y="646.7"/><use href="#h" x="499.6" y="646.7"/><use href="#h" x="766.7" y="646.7"/><use href="#h" x="950.9" y="646.7"/><use href="#h" x="1052.2" y="664.0"/><use href="#h" x="1043.0" y="733.1"/><use href="#h" x="278.6" y="784.9"/><use href="#h" x="370.7" y="784.9"/><use href="#h" x="1070.6" y="784.9"/><use href="#h" x="1098.3" y="784.9"/><use href="#h" x="416.7" y="802.2"/><use href="#h" x="518.0" y="802.2"/><use href="#h" x="1144.3" y="819.4"/><use href="#h" x="1006.2" y="836.7"/><use href="#h" x="1061.4" y="836.7"/><use href="#h" x="1089.1" y="836.7"/><use href="#h" x="1098.3" y="836.7"/><use href="#h" x="1135.1" y="836.7"/><use href="#h" x="868.0" y="854.0"/><use href="#h" x="960.1" y="854.0"/><use href="#h" x="481.2" y="871.3"/><use href="#h" x="1015.4" y="871.3"/><use href="#h" x="1135.1" y="871.3"/><use href="#h" x="472.0" y="888.5"/><use href="#h" x="564.1" y="888.5"/><use href="#h" x="748.3" y="888.5"/><use href="#h" x="969.3" y="888.5"/><use href="#h" x="435.1" y="905.8"/><use href="#h" x="914.1" y="905.8"/><use href="#h" x="932.5" y="905.8"/><use href="#h" x="665.4" y="923.1"/><use href="#h" x="444.4" y="940.3"/><use href="#h" x="647.0" y="957.6"/><use href="#h" x="656.2" y="957.6"/><use href="#h" x="739.1" y="957.6"/><use href="#h" x="840.4" y="957.6"/><use href="#h" x="637.8" y="974.9"/><use href="#h" x="803.5" y="974.9"/><use href="#h" x="822.0" y="974.9"/><use href="#h" x="435.1" y="992.1"/><use href="#h" x="711.4" y="992.1"/><use href="#h" x="711.4" y="1009.4"/><use href="#h" x="720.7" y="1009.4"/><use href="#h" x="766.7" y="1009.4"/><use href="#h" x="453.6" y="1026.7"/><use href="#h" x="453.6" y="1078.5"/><use href="#h" x="435.1" y="1095.8"/>
</g>
<g fill="#fa9e3b" stroke="#fa9e3b">
<use href="#h" x="508.8" y="646.7"/><use href="#h" x="545.7" y="646.7"/><use href="#h" x="849.6" y="646.7"/><use href="#h" x="868.0" y="646.7"/><use href="#h" x="969.3" y="646.7"/><use href="#h" x="1098.3" y="664.0"/><use href="#h" x="1125.9" y="681.3"/><use href="#h" x="518.0" y="784.9"/><use href="#h" x="1171.9" y="784.9"/><use href="#h" x="416.7" y="819.4"/><use href="#h" x="527.2" y="819.4"/><use href="#h" x="950.9" y="819.4"/><use href="#h" x="582.5" y="854.0"/><use href="#h" x="628.6" y="888.5"/><use href="#h" x="849.6" y="888.5"/><use href="#h" x="628.6" y="905.8"/><use href="#h" x="739.1" y="905.8"/><use href="#h" x="766.7" y="905.8"/><use href="#h" x="785.1" y="923.1"/><use href="#h" x="812.8" y="923.1"/><use href="#h" x="656.2" y="940.3"/><use href="#h" x="785.1" y="940.3"/><use href="#h" x="444.4" y="957.6"/><use href="#h" x="757.5" y="957.6"/><use href="#h" x="647.0" y="974.9"/><use href="#h" x="462.8" y="1009.4"/><use href="#h" x="444.4" y="1026.7"/><use href="#h" x="462.8" y="1026.7"/>
</g>
<g fill="#fdb42f" stroke="#fdb42f">
<use href="#h" x="600.9" y="646.7"/><use href="#h" x="840.4" y="646.7"/><use href="#h" x="1024.6" y="681.3"/><use href="#h" x="1089.1" y="698.6"/><use href="#h" x="1135.1" y="698.6"/><use href="#h" x="1171.9" y="698.6"/><use href="#h" x="1006.2" y="733.1"/><use href="#h" x="1033.8" y="733.1"/><use href="#h" x="269.4" y="750.4"/><use href="#h" x="370.7" y="767.6"/><use href="#h" x="628.6" y="767.6"/><use href="#h" x="407.5" y="784.9"/><use href="#h" x="453.6" y="784.9"/><use href="#h" x="499.6" y="784.9"/><use href="#h" x="591.7" y="784.9"/><use href="#h" x="969.3" y="784.9"/><use href="#h" x="997.0" y="784.9"/><use href="#h" x="628.6" y="802.2"/><use href="#h" x="637.8" y="819.4"/><use href="#h" x="1135.1" y="819.4"/><use href="#h" x="794.3" y="836.7"/><use href="#h" x="729.9" y="854.0"/><use href="#h" x="739.1" y="854.0"/><use href="#h" x="748.3" y="854.0"/><use href="#h" x="794.3" y="854.0"/><use href="#h" x="674.6" y="871.3"/><use href="#h" x="785.1" y="871.3"/><use href="#h" x="923.3" y="871.3"/><use href="#h" x="960.1" y="871.3"/><use href="#h" x="444.4" y="888.5"/><use href="#h" x="711.4" y="888.5"/><use href="#h" x="674.6" y="923.1"/><use href="#h" x="462.8" y="940.3"/><use href="#h" x="435.1" y="957.6"/><use href="#h" x="812.8" y="957.6"/><use href="#h" x="822.0" y="957.6"/><use href="#h" x="453.6" y="974.9"/>
</g>
<g fill="#fca835" stroke="#fca835">
<use href="#h" x="619.3" y="646.7"/><use href="#h" x="674.6" y="646.7"/><use href="#h" x="1116.7" y="698.6"/><use href="#h" x="1098.3" y="733.1"/><use href="#h" x="1171.9" y="733.1"/><use href="#h" x="950.9" y="767.6"/><use href="#h" x="941.7" y="784.9"/><use href="#h" x="545.7" y="802.2"/><use href="#h" x="564.1" y="802.2"/><use href="#h" x="950.9" y="802.2"/><use href="#h" x="1061.4" y="802.2"/><use href="#h" x="554.9" y="819.4"/><use href="#h" x="1079.8" y="819.4"/><use href="#h" x="435.1" y="836.7"/><use href="#h" x="904.9" y="836.7"/><use href="#h" x="1107.5" y="854.0"/><use href="#h" x="886.4" y="871.3"/><use href="#h" x="895.6" y="871.3"/><use href="#h" x="969.3" y="871.3"/><use href="#h" x="739.1" y="888.5"/><use href="#h" x="785.1" y="888.5"/><use href="#h" x="987.7" y="888.5"/><use href="#h" x="637.8" y="905.8"/><use href="#h" x="766.7" y="923.1"/><use href="#h" x="914.1" y="923.1"/><use href="#h" x="702.2" y="957.6"/><use href="#h" x="729.9" y="992.1"/><use href="#h" x="693.0" y="1009.4"/>
</g>
<g fill="#fdc328" stroke="#fdc328">
<use href="#h" x="637.8" y="646.7"/><use href="#h" x="481.2" y="664.0"/><use href="#h" x="536.5" y="664.0"/><use href="#h" x="729.9" y="664.0"/><use href="#h" x="785.1" y="664.0"/><use href="#h" x="868.0" y="664.0"/><use href="#h" x="858.8" y="681.3"/><use href="#h" x="941.7" y="698.6"/><use href="#h" x="1006.2" y="715.8"/><use href="#h" x="536.5" y="733.1"/><use href="#h" x="1024.6" y="733.1"/><use href="#h" x="315.4" y="750.4"/><use href="#h" x="324.6" y="750.4"/><use href="#h" x="352.3" y="750.4"/><use href="#h" x="573.3" y="767.6"/><use href="#h" x="582.5" y="767.6"/><use href="#h" x="720.7" y="767.6"/><use href="#h" x="831.2" y="767.6"/><use href="#h" x="858.8" y="767.6"/><use href="#h" x="868.0" y="767.6"/><use href="#h" x="868.0" y="784.9"/><use href="#h" x="923.3" y="784.9"/><use href="#h" x="453.6" y="836.7"/><use href="#h" x="674.6" y="836.7"/><use href="#h" x="923.3" y="836.7"/><use href="#h" x="683.8" y="854.0"/><use href="#h" x="720.7" y="854.0"/><use href="#h" x="812.8" y="854.0"/><use href="#h" x="840.4" y="854.0"/><use href="#h" x="453.6" y="871.3"/><use href="#h" x="647.0" y="871.3"/><use href="#h" x="656.2" y="871.3"/><use href="#h" x="803.5" y="871.3"/>
</g>
<g fill="#fdc627" stroke="#fdc627">
<use href="#h" x="683.8" y="646.7"/><use href="#h" x="416.7" y="664.0"/><use href="#h" x="490.4" y="664.0"/><use href="#h" x="1079.8" y="698.6"/><use href="#h" x="1125.9" y="698.6"/><use href="#h" x="858.8" y="715.8"/><use href="#h" x="269.4" y="733.1"/><use href="#h" x="554.9" y="733.1"/><use href="#h" x="628.6" y="733.1"/><use href="#h" x="987.7" y="733.1"/><use href="#h" x="1079.8" y="733.1"/><use href="#h" x="297.0" y="750.4"/><use href="#h" x="490.4" y="767.6"/><use href="#h" x="619.3" y="767.6"/><use href="#h" x="987.7" y="767.6"/><use href="#h" x="619.3" y="802.2"/><use href="#h" x="766.7" y="802.2"/><use href="#h" x="794.3" y="802.2"/><use href="#h" x="831.2" y="802.2"/><use href="#h" x="969.3" y="802.2"/><use href="#h" x="665.4" y="819.4"/><use href="#h" x="702.2" y="819.4"/><use href="#h" x="720.7" y="836.7"/><use href="#h" x="812.8" y="836.7"/>
</g>
<g fill="#feb72d" stroke="#feb72d">
<use href="#h" x="693.0" y="646.7"/><use href="#h" x="702.2" y="646.7"/><use href="#h" x="803.5" y="646.7"/><use href="#h" x="343.0" y="664.0"/><use href="#h" x="582.5" y="733.1"/><use href="#h" x="370.7" y="750.4"/><use href="#h" x="1006.2" y="750.4"/><use href="#h" x="315.4" y="767.6"/><use href="#h" x="472.0" y="767.6"/><use href="#h" x="1098.3" y="767.6"/><use href="#h" x="840.4" y="784.9"/><use href="#h" x="425.9" y="819.4"/><use href="#h" x="757.5" y="854.0"/><use href="#h" x="904.9" y="854.0"/><use href="#h" x="444.4" y="871.3"/><use href="#h" x="803.5" y="905.8"/>
</g>
<g fill="#fdc229" stroke="#fdc229">
<use href="#h" x="757.5" y="646.7"/><use href="#h" x="278.6" y="664.0"/><use href="#h" x="545.7" y="664.0"/><use href="#h" x="600.9" y="664.0"/><use href="#h" x="545.7" y="681.3"/><use href="#h" x="1079.8" y="715.8"/><use href="#h" x="1089.1" y="715.8"/><use href="#h" x="941.7" y="733.1"/><use href="#h" x="490.4" y="750.4"/><use href="#h" x="499.6" y="750.4"/><use href="#h" x="554.9" y="750.4"/><use href="#h" x="435.1" y="767.6"/><use href="#h" x="775.9" y="767.6"/><use href="#h" x="877.2" y="767.6"/><use href="#h" x="969.3" y="767.6"/><use href="#h" x="1125.9" y="767.6"/><use href="#h" x="794.3" y="784.9"/><use href="#h" x="904.9" y="784.9"/><use href="#h" x="425.9" y="802.2"/><use href="#h" x="674.6" y="802.2"/><use href="#h" x="711.4" y="802.2"/><use href="#h" x="914.1" y="819.4"/><use href="#h" x="978.5" y="836.7"/><use href="#h" x="693.0" y="854.0"/><use href="#h" x="831.2" y="854.0"/>
</g>
<g fill="#feba2c" stroke="#feba2c">
<use href="#h" x="812.8" y="646.7"/><use href="#h" x="518.0" y="664.0"/><use href="#h" x="573.3" y="664.0"/><use href="#h" x="582.5" y="664.0"/><use href="#h" x="849.6" y="664.0"/><use href="#h" x="858.8" y="664.0"/><use href="#h" x="987.7" y="664.0"/><use href="#h" x="1107.5" y="681.3"/><use href="#h" x="1098.3" y="698.6"/><use href="#h" x="1116.7" y="715.8"/><use href="#h" x="1125.9" y="750.4"/><use href="#h" x="287.8" y="767.6"/><use href="#h" x="545.7" y="767.6"/><use href="#h" x="840.4" y="767.6"/><use href="#h" x="545.7" y="784.9"/><use href="#h" x="785.1" y="784.9"/><use href="#h" x="849.6" y="784.9"/><use href="#h" x="886.4" y="784.9"/><use href="#h" x="960.1" y="784.9"/><use href="#h" x="656.2" y="819.4"/><use href="#h" x="766.7" y="836.7"/><use href="#h" x="868.0" y="836.7"/><use href="#h" x="674.6" y="854.0"/><use href="#h" x="895.6" y="854.0"/><use href="#h" x="987.7" y="854.0"/><use href="#h" x="462.8" y="871.3"/><use href="#h" x="775.9" y="871.3"/><use href="#h" x="877.2" y="871.3"/><use href="#h" x="757.5" y="888.5"/><use href="#h" x="453.6" y="905.8"/>
</g>
<g fill="#fdae32" stroke="#fdae32">
<use href="#h" x="831.2" y="646.7"/><use href="#h" x="932.5" y="646.7"/><use href="#h" x="1116.7" y="681.3"/><use href="#h" x="1171.9" y="681.3"/><use href="#h" x="1107.5" y="698.6"/><use href="#h" x="1153.5" y="733.1"/><use href="#h" x="1162.7" y="733.1"/><use href="#h" x="536.5" y="784.9"/><use href="#h" x="849.6" y="802.2"/><use href="#h" x="849.6" y="819.4"/><use href="#h" x="1162.7" y="819.4"/><use href="#h" x="591.7" y="836.7"/><use href="#h" x="785.1" y="836.7"/><use href="#h" x="444.4" y="854.0"/><use href="#h" x="665.4" y="854.0"/><use href="#h" x="729.9" y="871.3"/><use href="#h" x="914.1" y="888.5"/><use href="#h" x="904.9" y="905.8"/><use href="#h" x="923.3" y="905.8"/><use href="#h" x="693.0" y="923.1"/><use href="#h" x="739.1" y="923.1"/><use href="#h" x="435.1" y="940.3"/>
</g>
<g fill="#fec029" stroke="#fec029">
<use href="#h" x="287.8" y="664.0"/><use href="#h" x="895.6" y="664.0"/><use href="#h" x="941.7" y="681.3"/><use href="#h" x="324.6" y="733.1"/><use href="#h" x="610.1" y="733.1"/><use href="#h" x="600.9" y="750.4"/><use href="#h" x="987.7" y="750.4"/><use href="#h" x="1135.1" y="750.4"/><use href="#h" x="536.5" y="767.6"/><use href="#h" x="600.9" y="767.6"/><use href="#h" x="637.8" y="767.6"/><use href="#h" x="886.4" y="767.6"/><use href="#h" x="702.2" y="784.9"/><use href="#h" x="987.7" y="784.9"/><use href="#h" x="453.6" y="802.2"/><use href="#h" x="895.6" y="802.2"/><use href="#h" x="923.3" y="802.2"/><use href="#h" x="960.1" y="802.2"/><use href="#h" x="435.1" y="819.4"/><use href="#h" x="674.6" y="819.4"/><use href="#h" x="748.3" y="819.4"/><use href="#h" x="822.0" y="819.4"/><use href="#h" x="656.2" y="836.7"/><use href="#h" x="683.8" y="836.7"/><use href="#h" x="831.2" y="836.7"/><use href="#h" x="987.7" y="836.7"/><use href="#h" x="822.0" y="854.0"/>
</g>
<g fill="#fdcb26" stroke="#fdcb26">
<use href="#h" x="297.0" y="664.0"/><use href="#h" x="315.4" y="664.0"/><use href="#h" x="407.5" y="664.0"/><use href="#h" x="803.5" y="664.0"/><use href="#h" x="886.4" y="664.0"/><use href="#h" x="923.3" y="681.3"/><use href="#h" x="997.0" y="681.3"/><use href="#h" x="794.3" y="698.6"/><use href="#h" x="545.7" y="715.8"/><use href="#h" x="610.1" y="715.8"/><use href="#h" x="361.5" y="733.1"/><use href="#h" x="508.8" y="733.1"/><use href="#h" x="812.8" y="733.1"/><use href="#h" x="278.6" y="750.4"/><use href="#h" x="444.4" y="750.4"/><use href="#h" x="536.5" y="750.4"/><use href="#h" x="591.7" y="750.4"/><use href="#h" x="822.0" y="750.4"/><use href="#h" x="656.2" y="767.6"/><use href="#h" x="628.6" y="784.9"/><use href="#h" x="812.8" y="784.9"/><use href="#h" x="462.8" y="802.2"/><use href="#h" x="693.0" y="802.2"/><use href="#h" x="720.7" y="802.2"/><use href="#h" x="739.1" y="802.2"/><use href="#h" x="702.2" y="836.7"/><use href="#h" x="453.6" y="854.0"/><use href="#h" x="647.0" y="854.0"/><use href="#h" x="656.2" y="854.0"/><use href="#h" x="683.8" y="905.8"/>
</g>
<g fill="#fdc827" stroke="#fdc827">
<use href="#h" x="306.2" y="664.0"/><use href="#h" x="398.3" y="664.0"/><use href="#h" x="628.6" y="664.0"/><use href="#h" x="877.2" y="664.0"/><use href="#h" x="481.2" y="681.3"/><use href="#h" x="582.5" y="681.3"/><use href="#h" x="600.9" y="681.3"/><use href="#h" x="785.1" y="681.3"/><use href="#h" x="960.1" y="681.3"/><use href="#h" x="987.7" y="681.3"/><use href="#h" x="573.3" y="698.6"/><use href="#h" x="600.9" y="698.6"/><use href="#h" x="1015.4" y="698.6"/><use href="#h" x="1070.6" y="698.6"/><use href="#h" x="1024.6" y="715.8"/><use href="#h" x="518.0" y="733.1"/><use href="#h" x="527.2" y="733.1"/><use href="#h" x="287.8" y="750.4"/><use href="#h" x="508.8" y="750.4"/><use href="#h" x="858.8" y="750.4"/><use href="#h" x="591.7" y="767.6"/><use href="#h" x="822.0" y="767.6"/><use href="#h" x="674.6" y="784.9"/><use href="#h" x="720.7" y="784.9"/><use href="#h" x="812.8" y="802.2"/><use href="#h" x="453.6" y="819.4"/><use href="#h" x="637.8" y="854.0"/><use href="#h" x="766.7" y="854.0"/><use href="#h" x="757.5" y="871.3"/>
</g>
<g fill="#fdca26" stroke="#fdca26">
<use href="#h" x="324.6" y="664.0"/><use href="#h" x="472.0" y="664.0"/><use href="#h" x="508.8" y="664.0"/><use href="#h" x="656.2" y="664.0"/><use href="#h" x="711.4" y="664.0"/><use href="#h" x="904.9" y="664.0"/><use href="#h" x="886.4" y="681.3"/><use href="#h" x="877.2" y="698.6"/><use href="#h" x="969.3" y="698.6"/><use href="#h" x="987.7" y="715.8"/><use href="#h" x="287.8" y="733.1"/><use href="#h" x="1125.9" y="733.1"/><use href="#h" x="333.8" y="750.4"/><use href="#h" x="361.5" y="750.4"/><use href="#h" x="739.1" y="750.4"/><use href="#h" x="886.4" y="750.4"/><use href="#h" x="978.5" y="750.4"/><use href="#h" x="895.6" y="767.6"/><use href="#h" x="960.1" y="767.6"/><use href="#h" x="637.8" y="784.9"/><use href="#h" x="647.0" y="784.9"/><use href="#h" x="739.1" y="784.9"/><use href="#h" x="822.0" y="784.9"/><use href="#h" x="812.8" y="819.4"/><use href="#h" x="462.8" y="836.7"/><use href="#h" x="693.0" y="836.7"/><use href="#h" x="462.8" y="854.0"/><use href="#h" x="683.8" y="871.3"/>
</g>
<g fill="#fccd25" stroke="#fccd25">
<use href="#h" x="361.5" y="664.0"/><use href="#h" x="960.1" y="664.0"/><use href="#h" x="739.1" y="681.3"/><use href="#h" x="794.3" y="681.3"/><use href="#h" x="269.4" y="698.6"/><use href="#h" x="269.4" y="715.8"/><use href="#h" x="582.5" y="715.8"/><use href="#h" x="794.3" y="715.8"/><use href="#h" x="1135.1" y="715.8"/><use href="#h" x="333.8" y="733.1"/><use href="#h" x="545.7" y="733.1"/><use href="#h" x="886.4" y="733.1"/><use href="#h" x="398.3" y="750.4"/><use href="#h" x="407.5" y="750.4"/><use href="#h" x="674.6" y="750.4"/><use href="#h" x="748.3" y="750.4"/><use href="#h" x="960.1" y="750.4"/><use href="#h" x="444.4" y="767.6"/><use href="#h" x="702.2" y="767.6"/><use href="#h" x="766.7" y="767.6"/><use href="#h" x="904.9" y="767.6"/><use href="#h" x="803.5" y="784.9"/>
</g>
<g fill="#fbd324" stroke="#fbd324">
<use href="#h" x="379.9" y="664.0"/><use href="#h" x="757.5" y="664.0"/><use href="#h" x="831.2" y="664.0"/><use href="#h" x="518.0" y="681.3"/><use href="#h" x="619.3" y="681.3"/><use href="#h" x="914.1" y="681.3"/><use href="#h" x="978.5" y="681.3"/><use href="#h" x="352.3" y="715.8"/><use href="#h" x="527.2" y="715.8"/><use href="#h" x="379.9" y="733.1"/><use href="#h" x="794.3" y="733.1"/><use href="#h" x="877.2" y="733.1"/><use href="#h" x="895.6" y="733.1"/><use href="#h" x="628.6" y="750.4"/><use href="#h" x="711.4" y="750.4"/><use href="#h" x="720.7" y="750.4"/><use href="#h" x="729.9" y="750.4"/><use href="#h" x="831.2" y="750.4"/><use href="#h" x="665.4" y="767.6"/><use href="#h" x="711.4" y="767.6"/><use href="#h" x="683.8" y="802.2"/>
</g>
<g fill="#fcd225" stroke="#fcd225">
<use href="#h" x="389.1" y="664.0"/><use href="#h" x="794.3" y="664.0"/><use href="#h" x="997.0" y="664.0"/><use href="#h" x="370.7" y="681.3"/><use href="#h" x="527.2" y="681.3"/><use href="#h" x="527.2" y="698.6"/><use href="#h" x="536.5" y="698.6"/><use href="#h" x="987.7" y="698.6"/><use href="#h" x="619.3" y="715.8"/><use href="#h" x="960.1" y="715.8"/><use href="#h" x="978.5" y="715.8"/><use href="#h" x="472.0" y="733.1"/><use href="#h" x="997.0" y="733.1"/><use href="#h" x="693.0" y="750.4"/><use href="#h" x="775.9" y="750.4"/><use href="#h" x="794.3" y="750.4"/><use href="#h" x="416.7" y="767.6"/><use href="#h" x="729.9" y="767.6"/><use href="#h" x="665.4" y="802.2"/>
</g>
<g fill="#fbd724" stroke="#fbd724">
<use href="#h" x="425.9" y="664.0"/><use href="#h" x="914.1" y="664.0"/><use href="#h" x="315.4" y="681.3"/><use href="#h" x="333.8" y="681.3"/><use href="#h" x="352.3" y="681.3"/><use href="#h" x="564.1" y="681.3"/><use href="#h" x="591.7" y="681.3"/><use href="#h" x="877.2" y="681.3"/><use href="#h" x="554.9" y="698.6"/><use href="#h" x="886.4" y="698.6"/><use href="#h" x="895.6" y="698.6"/><use href="#h" x="564.1" y="715.8"/><use href="#h" x="785.1" y="715.8"/><use href="#h" x="1125.9" y="715.8"/><use href="#h" x="481.2" y="733.1"/><use href="#h" x="499.6" y="733.1"/><use href="#h" x="665.4" y="733.1"/><use href="#h" x="518.0" y="750.4"/><use href="#h" x="785.1" y="750.4"/><use href="#h" x="904.9" y="750.4"/><use href="#h" x="693.0" y="767.6"/><use href="#h" x="739.1" y="767.6"/>
</g>
<g fill="#f9dd25" stroke="#f9dd25">
<use href="#h" x="435.1" y="664.0"/><use href="#h" x="748.3" y="681.3"/><use href="#h" x="628.6" y="698.6"/><use href="#h" x="729.9" y="698.6"/><use href="#h" x="914.1" y="698.6"/><use href="#h" x="536.5" y="715.8"/><use href="#h" x="389.1" y="733.1"/><use href="#h" x="748.3" y="733.1"/><use href="#h" x="785.1" y="733.1"/><use href="#h" x="840.4" y="750.4"/>
</g>
<g fill="#fada24" stroke="#fada24">
<use href="#h" x="444.4" y="664.0"/><use href="#h" x="932.5" y="664.0"/><use href="#h" x="536.5" y="681.3"/><use href="#h" x="775.9" y="698.6"/><use href="#h" x="904.9" y="698.6"/><use href="#h" x="997.0" y="698.6"/><use href="#h" x="398.3" y="715.8"/><use href="#h" x="628.6" y="715.8"/><use href="#h" x="969.3" y="715.8"/><use href="#h" x="370.7" y="733.1"/><use href="#h" x="720.7" y="733.1"/><use href="#h" x="904.9" y="733.1"/><use href="#h" x="453.6" y="750.4"/><use href="#h" x="582.5" y="750.4"/><use href="#h" x="656.2" y="750.4"/><use href="#h" x="812.8" y="767.6"/>
</g>
<g fill="#f5eb27" stroke="#f5eb27">
<use href="#h" x="453.6" y="664.0"/><use href="#h" x="674.6" y="681.3"/><use href="#h" x="352.3" y="698.6"/><use href="#h" x="508.8" y="698.6"/><use href="#h" x="822.0" y="698.6"/><use href="#h" x="287.8" y="715.8"/><use href="#h" x="508.8" y="715.8"/><use href="#h" x="637.8" y="715.8"/><use href="#h" x="803.5" y="733.1"/>
</g>
<g fill="#f8df25" stroke="#f8df25">
<use href="#h" x="462.8" y="664.0"/><use href="#h" x="693.0" y="664.0"/><use href="#h" x="389.1" y="681.3"/><use href="#h" x="499.6" y="681.3"/><use href="#h" x="508.8" y="681.3"/><use href="#h" x="683.8" y="681.3"/><use href="#h" x="720.7" y="681.3"/><use href="#h" x="822.0" y="681.3"/><use href="#h" x="398.3" y="698.6"/><use href="#h" x="545.7" y="698.6"/><use href="#h" x="619.3" y="698.6"/><use href="#h" x="674.6" y="698.6"/><use href="#h" x="757.5" y="698.6"/><use href="#h" x="766.7" y="698.6"/><use href="#h" x="361.5" y="715.8"/><use href="#h" x="554.9" y="715.8"/><use href="#h" x="693.0" y="715.8"/><use href="#h" x="748.3" y="715.8"/><use href="#h" x="877.2" y="715.8"/><use href="#h" x="997.0" y="715.8"/><use href="#h" x="343.0" y="733.1"/><use href="#h" x="398.3" y="733.1"/><use href="#h" x="425.9" y="750.4"/><use href="#h" x="766.7" y="750.4"/><use href="#h" x="932.5" y="750.4"/><use href="#h" x="674.6" y="767.6"/>
</g>
<g fill="#febd2a" stroke="#febd2a">
<use href="#h" x="527.2" y="664.0"/><use href="#h" x="619.3" y="664.0"/><use href="#h" x="969.3" y="664.0"/><use href="#h" x="950.9" y="698.6"/><use href="#h" x="1153.5" y="715.8"/><use href="#h" x="960.1" y="733.1"/><use href="#h" x="1181.2" y="733.1"/><use href="#h" x="573.3" y="750.4"/><use href="#h" x="619.3" y="750.4"/><use href="#h" x="1070.6" y="750.4"/><use href="#h" x="278.6" y="767.6"/><use href="#h" x="379.9" y="767.6"/><use href="#h" x="564.1" y="767.6"/><use href="#h" x="610.1" y="767.6"/><use href="#h" x="794.3" y="767.6"/><use href="#h" x="849.6" y="767.6"/><use href="#h" x="1070.6" y="767.6"/><use href="#h" x="425.9" y="784.9"/><use href="#h" x="444.4" y="784.9"/><use href="#h" x="619.3" y="784.9"/><use href="#h" x="711.4" y="784.9"/><use href="#h" x="683.8" y="819.4"/><use href="#h" x="739.1" y="819.4"/><use href="#h" x="840.4" y="819.4"/><use href="#h" x="822.0" y="836.7"/><use href="#h" x="840.4" y="836.7"/><use href="#h" x="766.7" y="871.3"/><use href="#h" x="683.8" y="888.5"/>
</g>
<g fill="#febb2b" stroke="#febb2b">
<use href="#h" x="637.8" y="664.0"/><use href="#h" x="775.9" y="664.0"/><use href="#h" x="950.9" y="681.3"/><use href="#h" x="1135.1" y="681.3"/><use href="#h" x="1052.2" y="698.6"/><use href="#h" x="591.7" y="715.8"/><use href="#h" x="1162.7" y="715.8"/><use href="#h" x="1015.4" y="733.1"/><use href="#h" x="564.1" y="750.4"/><use href="#h" x="895.6" y="750.4"/><use href="#h" x="306.2" y="767.6"/><use href="#h" x="997.0" y="767.6"/><use href="#h" x="1024.6" y="767.6"/><use href="#h" x="748.3" y="784.9"/><use href="#h" x="904.9" y="802.2"/><use href="#h" x="462.8" y="819.4"/><use href="#h" x="647.0" y="819.4"/><use href="#h" x="831.2" y="819.4"/><use href="#h" x="997.0" y="819.4"/><use href="#h" x="711.4" y="836.7"/><use href="#h" x="803.5" y="836.7"/><use href="#h" x="932.5" y="836.7"/><use href="#h" x="960.1" y="836.7"/><use href="#h" x="711.4" y="854.0"/><use href="#h" x="702.2" y="923.1"/><use href="#h" x="453.6" y="957.6"/><use href="#h" x="693.0" y="957.6"/>
</g>
<g fill="#fad824" stroke="#fad824">
<use href="#h" x="647.0" y="664.0"/><use href="#h" x="812.8" y="664.0"/><use href="#h" x="278.6" y="681.3"/><use href="#h" x="554.9" y="681.3"/><use href="#h" x="610.1" y="681.3"/><use href="#h" x="628.6" y="681.3"/><use href="#h" x="637.8" y="681.3"/><use href="#h" x="812.8" y="681.3"/><use href="#h" x="831.2" y="681.3"/><use href="#h" x="518.0" y="698.6"/><use href="#h" x="564.1" y="698.6"/><use href="#h" x="610.1" y="698.6"/><use href="#h" x="573.3" y="715.8"/><use href="#h" x="600.9" y="715.8"/><use href="#h" x="904.9" y="715.8"/><use href="#h" x="315.4" y="733.1"/><use href="#h" x="766.7" y="733.1"/><use href="#h" x="775.9" y="733.1"/><use href="#h" x="822.0" y="733.1"/><use href="#h" x="840.4" y="733.1"/><use href="#h" x="969.3" y="733.1"/><use href="#h" x="877.2" y="750.4"/><use href="#h" x="923.3" y="750.4"/><use href="#h" x="997.0" y="750.4"/><use href="#h" x="923.3" y="767.6"/><use href="#h" x="656.2" y="784.9"/><use href="#h" x="757.5" y="784.9"/>
</g>
<g fill="#fcd025" stroke="#fcd025">
<use href="#h" x="665.4" y="664.0"/><use href="#h" x="720.7" y="664.0"/><use href="#h" x="739.1" y="664.0"/><use href="#h" x="923.3" y="664.0"/><use href="#h" x="591.7" y="733.1"/><use href="#h" x="600.9" y="733.1"/><use href="#h" x="978.5" y="733.1"/><use href="#h" x="969.3" y="750.4"/><use href="#h" x="462.8" y="767.6"/><use href="#h" x="785.1" y="767.6"/><use href="#h" x="932.5" y="784.9"/><use href="#h" x="647.0" y="802.2"/><use href="#h" x="757.5" y="802.2"/><use href="#h" x="840.4" y="802.2"/><use href="#h" x="693.0" y="819.4"/>
</g>
<g fill="#fdc527" stroke="#fdc527">
<use href="#h" x="674.6" y="664.0"/><use href="#h" x="969.3" y="681.3"/><use href="#h" x="849.6" y="698.6"/><use href="#h" x="1024.6" y="698.6"/><use href="#h" x="941.7" y="715.8"/><use href="#h" x="950.9" y="715.8"/><use href="#h" x="379.9" y="750.4"/><use href="#h" x="389.1" y="750.4"/><use href="#h" x="545.7" y="750.4"/><use href="#h" x="849.6" y="750.4"/><use href="#h" x="389.1" y="767.6"/><use href="#h" x="407.5" y="767.6"/><use href="#h" x="978.5" y="767.6"/><use href="#h" x="435.1" y="784.9"/><use href="#h" x="729.9" y="784.9"/><use href="#h" x="831.2" y="784.9"/><use href="#h" x="785.1" y="802.2"/><use href="#h" x="720.7" y="819.4"/><use href="#h" x="757.5" y="819.4"/><use href="#h" x="923.3" y="819.4"/><use href="#h" x="932.5" y="819.4"/><use href="#h" x="693.0" y="871.3"/><use href="#h" x="702.2" y="871.3"/><use href="#h" x="748.3" y="871.3"/><use href="#h" x="683.8" y="957.6"/>
</g>
<g fill="#f6e626" stroke="#f6e626">
<use href="#h" x="683.8" y="664.0"/><use href="#h" x="306.2" y="681.3"/><use href="#h" x="324.6" y="681.3"/><use href="#h" x="379.9" y="681.3"/><use href="#h" x="840.4" y="681.3"/><use href="#h" x="343.0" y="715.8"/><use href="#h" x="766.7" y="715.8"/><use href="#h" x="932.5" y="715.8"/><use href="#h" x="453.6" y="733.1"/><use href="#h" x="683.8" y="733.1"/><use href="#h" x="932.5" y="733.1"/>
</g>
<g fill="#f8e125" stroke="#f8e125">
<use href="#h" x="702.2" y="664.0"/><use href="#h" x="297.0" y="681.3"/><use href="#h" x="361.5" y="681.3"/><use href="#h" x="490.4" y="681.3"/><use href="#h" x="665.4" y="698.6"/><use href="#h" x="840.4" y="698.6"/><use href="#h" x="868.0" y="698.6"/><use href="#h" x="978.5" y="698.6"/><use href="#h" x="324.6" y="715.8"/><use href="#h" x="370.7" y="715.8"/><use href="#h" x="490.4" y="715.8"/><use href="#h" x="729.9" y="715.8"/><use href="#h" x="416.7" y="733.1"/><use href="#h" x="619.3" y="733.1"/><use href="#h" x="435.1" y="750.4"/><use href="#h" x="665.4" y="750.4"/><use href="#h" x="812.8" y="750.4"/><use href="#h" x="683.8" y="767.6"/>
</g>
<g fill="#fcce25" stroke="#fcce25">
<use href="#h" x="748.3" y="664.0"/><use href="#h" x="573.3" y="681.3"/><use href="#h" x="757.5" y="681.3"/><use href="#h" x="868.0" y="733.1"/><use href="#h" x="481.2" y="750.4"/><use href="#h" x="610.1" y="750.4"/><use href="#h" x="868.0" y="750.4"/><use href="#h" x="1089.1" y="750.4"/><use href="#h" x="425.9" y="767.6"/><use href="#h" x="481.2" y="767.6"/><use href="#h" x="748.3" y="767.6"/><use href="#h" x="462.8" y="784.9"/><use href="#h" x="877.2" y="784.9"/><use href="#h" x="748.3" y="802.2"/><use href="#h" x="822.0" y="802.2"/><use href="#h" x="932.5" y="802.2"/><use href="#h" x="711.4" y="819.4"/>
</g>
<g fill="#fbd524" stroke="#fbd524">
<use href="#h" x="766.7" y="664.0"/><use href="#h" x="822.0" y="664.0"/><use href="#h" x="840.4" y="664.0"/><use href="#h" x="711.4" y="681.3"/><use href="#h" x="868.0" y="681.3"/><use href="#h" x="858.8" y="698.6"/><use href="#h" x="518.0" y="715.8"/><use href="#h" x="868.0" y="715.8"/><use href="#h" x="895.6" y="715.8"/><use href="#h" x="278.6" y="733.1"/><use href="#h" x="352.3" y="733.1"/><use href="#h" x="490.4" y="733.1"/><use href="#h" x="757.5" y="733.1"/><use href="#h" x="831.2" y="733.1"/><use href="#h" x="306.2" y="750.4"/><use href="#h" x="914.1" y="750.4"/><use href="#h" x="647.0" y="767.6"/><use href="#h" x="757.5" y="767.6"/><use href="#h" x="932.5" y="767.6"/><use href="#h" x="914.1" y="802.2"/><use href="#h" x="647.0" y="836.7"/>
</g>
<g fill="#fdb22f" stroke="#fdb22f">
<use href="#h" x="1089.1" y="664.0"/><use href="#h" x="1052.2" y="733.1"/><use href="#h" x="1116.7" y="733.1"/><use href="#h" x="1015.4" y="750.4"/><use href="#h" x="1052.2" y="750.4"/><use href="#h" x="1079.8" y="750.4"/><use href="#h" x="398.3" y="767.6"/><use href="#h" x="499.6" y="767.6"/><use href="#h" x="1043.0" y="767.6"/><use href="#h" x="508.8" y="784.9"/><use href="#h" x="573.3" y="784.9"/><use href="#h" x="600.9" y="784.9"/><use href="#h" x="444.4" y="802.2"/><use href="#h" x="527.2" y="802.2"/><use href="#h" x="858.8" y="802.2"/><use href="#h" x="877.2" y="802.2"/><use href="#h" x="748.3" y="836.7"/><use href="#h" x="610.1" y="871.3"/><use href="#h" x="665.4" y="871.3"/><use href="#h" x="702.2" y="888.5"/>
</g>
<g fill="#fca636" stroke="#fca636">
<use href="#h" x="1125.9" y="664.0"/><use href="#h" x="1061.4" y="698.6"/><use href="#h" x="1171.9" y="750.4"/><use href="#h" x="527.2" y="767.6"/><use href="#h" x="1052.2" y="784.9"/><use href="#h" x="554.9" y="802.2"/><use href="#h" x="739.1" y="836.7"/><use href="#h" x="490.4" y="854.0"/><use href="#h" x="785.1" y="854.0"/><use href="#h" x="858.8" y="854.0"/><use href="#h" x="978.5" y="888.5"/><use href="#h" x="729.9" y="905.8"/><use href="#h" x="785.1" y="905.8"/><use href="#h" x="840.4" y="923.1"/><use href="#h" x="683.8" y="940.3"/><use href="#h" x="462.8" y="957.6"/><use href="#h" x="812.8" y="974.9"/><use href="#h" x="637.8" y="992.1"/>
</g>
<g fill="#f68f44" stroke="#f68f44">
<use href="#h" x="1162.7" y="664.0"/><use href="#h" x="1153.5" y="784.9"/><use href="#h" x="1070.6" y="802.2"/><use href="#h" x="499.6" y="819.4"/><use href="#h" x="536.5" y="819.4"/><use href="#h" x="472.0" y="836.7"/><use href="#h" x="481.2" y="836.7"/><use href="#h" x="941.7" y="854.0"/><use href="#h" x="950.9" y="871.3"/><use href="#h" x="647.0" y="923.1"/><use href="#h" x="775.9" y="957.6"/><use href="#h" x="739.1" y="1009.4"/><use href="#h" x="435.1" y="1026.7"/><use href="#h" x="720.7" y="1044.0"/>
</g>
<g fill="#f7e225" stroke="#f7e225">
<use href="#h" x="287.8" y="681.3"/><use href="#h" x="407.5" y="681.3"/><use href="#h" x="656.2" y="681.3"/><use href="#h" x="766.7" y="681.3"/><use href="#h" x="904.9" y="681.3"/><use href="#h" x="315.4" y="698.6"/><use href="#h" x="711.4" y="698.6"/><use href="#h" x="831.2" y="698.6"/><use href="#h" x="333.8" y="715.8"/><use href="#h" x="499.6" y="715.8"/><use href="#h" x="757.5" y="715.8"/><use href="#h" x="297.0" y="733.1"/><use href="#h" x="637.8" y="733.1"/><use href="#h" x="647.0" y="750.4"/><use href="#h" x="702.2" y="750.4"/><use href="#h" x="803.5" y="750.4"/><use href="#h" x="803.5" y="767.6"/>
</g>
<g fill="#f9dc24" stroke="#f9dc24">
<use href="#h" x="343.0" y="681.3"/><use href="#h" x="472.0" y="681.3"/><use href="#h" x="665.4" y="681.3"/><use href="#h" x="702.2" y="681.3"/><use href="#h" x="803.5" y="681.3"/><use href="#h" x="849.6" y="681.3"/><use href="#h" x="895.6" y="681.3"/><use href="#h" x="379.9" y="698.6"/><use href="#h" x="748.3" y="698.6"/><use href="#h" x="785.1" y="698.6"/><use href="#h" x="932.5" y="698.6"/><use href="#h" x="379.9" y="715.8"/><use href="#h" x="656.2" y="715.8"/><use href="#h" x="674.6" y="715.8"/><use href="#h" x="739.1" y="715.8"/><use href="#h" x="849.6" y="715.8"/><use href="#h" x="886.4" y="715.8"/><use href="#h" x="729.9" y="733.1"/><use href="#h" x="849.6" y="733.1"/><use href="#h" x="914.1" y="733.1"/><use href="#h" x="923.3" y="733.1"/><use href="#h" x="472.0" y="750.4"/><use href="#h" x="683.8" y="750.4"/><use href="#h" x="757.5" y="750.4"/><use href="#h" x="914.1" y="767.6"/><use href="#h" x="693.0" y="784.9"/><use href="#h" x="803.5" y="802.2"/>
</g>
<g fill="#f1f426" stroke="#f1f426">
<use href="#h" x="398.3" y="681.3"/><use href="#h" x="803.5" y="698.6"/><use href="#h" x="711.4" y="715.8"/>
</g>
<g fill="#f5e926" stroke="#f5e926">
<use href="#h" x="416.7" y="681.3"/><use href="#h" x="693.0" y="681.3"/><use href="#h" x="287.8" y="698.6"/><use href="#h" x="297.0" y="698.6"/><use href="#h" x="324.6" y="698.6"/><use href="#h" x="343.0" y="698.6"/><use href="#h" x="472.0" y="698.6"/><use href="#h" x="499.6" y="698.6"/><use href="#h" x="278.6" y="715.8"/><use href="#h" x="297.0" y="715.8"/><use href="#h" x="315.4" y="715.8"/><use href="#h" x="720.7" y="715.8"/><use href="#h" x="840.4" y="715.8"/><use href="#h" x="693.0" y="733.1"/><use href="#h" x="702.2" y="733.1"/><use href="#h" x="711.4" y="733.1"/><use href="#h" x="637.8" y="750.4"/>
</g>
<g fill="#f6e826" stroke="#f6e826">
<use href="#h" x="425.9" y="681.3"/><use href="#h" x="729.9" y="681.3"/><use href="#h" x="361.5" y="698.6"/><use href="#h" x="647.0" y="715.8"/><use href="#h" x="803.5" y="715.8"/><use href="#h" x="923.3" y="715.8"/><use href="#h" x="674.6" y="733.1"/>
</g>
<g fill="#f0f921" stroke="#f0f921">
<use href="#h" x="435.1" y="681.3"/><use href="#h" x="453.6" y="681.3"/><use href="#h" x="462.8" y="681.3"/><use href="#h" x="425.9" y="698.6"/><use href="#h" x="435.1" y="698.6"/><use href="#h" x="453.6" y="698.6"/><use href="#h" x="462.8" y="698.6"/><use href="#h" x="683.8" y="698.6"/><use href="#h" x="693.0" y="698.6"/><use href="#h" x="425.9" y="715.8"/><use href="#h" x="444.4" y="715.8"/><use href="#h" x="453.6" y="715.8"/><use href="#h" x="462.8" y="715.8"/><use href="#h" x="462.8" y="733.1"/>
</g>
<g fill="#f0f724" stroke="#f0f724">
<use href="#h" x="444.4" y="681.3"/><use href="#h" x="435.1" y="715.8"/>
</g>
<g fill="#f7e425" stroke="#f7e425">
<use href="#h" x="647.0" y="681.3"/><use href="#h" x="775.9" y="681.3"/><use href="#h" x="932.5" y="681.3"/><use href="#h" x="278.6" y="698.6"/><use href="#h" x="333.8" y="698.6"/><use href="#h" x="370.7" y="698.6"/><use href="#h" x="481.2" y="698.6"/><use href="#h" x="490.4" y="698.6"/><use href="#h" x="637.8" y="698.6"/><use href="#h" x="656.2" y="698.6"/><use href="#h" x="739.1" y="698.6"/><use href="#h" x="923.3" y="698.6"/><use href="#h" x="960.1" y="698.6"/><use href="#h" x="306.2" y="715.8"/><use href="#h" x="472.0" y="715.8"/><use href="#h" x="481.2" y="715.8"/><use href="#h" x="665.4" y="715.8"/><use href="#h" x="702.2" y="715.8"/><use href="#h" x="775.9" y="715.8"/><use href="#h" x="812.8" y="715.8"/><use href="#h" x="914.1" y="715.8"/><use href="#h" x="306.2" y="733.1"/><use href="#h" x="407.5" y="733.1"/><use href="#h" x="444.4" y="733.1"/><use href="#h" x="739.1" y="733.1"/><use href="#h" x="462.8" y="750.4"/><use href="#h" x="453.6" y="767.6"/>
</g>
<g fill="#f2f227" stroke="#f2f227">
<use href="#h" x="306.2" y="698.6"/><use href="#h" x="389.1" y="698.6"/><use href="#h" x="647.0" y="698.6"/>
</g>
<g fill="#f3ee27" stroke="#f3ee27">
<use href="#h" x="407.5" y="698.6"/><use href="#h" x="720.7" y="698.6"/><use href="#h" x="812.8" y="698.6"/><use href="#h" x="389.1" y="715.8"/><use href="#h" x="683.8" y="715.8"/><use href="#h" x="435.1" y="733.1"/>
</g>
<g fill="#f3f027" stroke="#f3f027">
<use href="#h" x="416.7" y="698.6"/><use href="#h" x="444.4" y="698.6"/><use href="#h" x="425.9" y="733.1"/><use href="#h" x="656.2" y="733.1"/>
</g>
<g fill="#f1f525" stroke="#f1f525">
<use href="#h" x="702.2" y="698.6"/><use href="#h" x="822.0" y="715.8"/>
</g>
<g fill="#f4ed27" stroke="#f4ed27">
<use href="#h" x="407.5" y="715.8"/><use href="#h" x="416.7" y="715.8"/><use href="#h" x="831.2" y="715.8"/><use href="#h" x="647.0" y="733.1"/>
</g>
</g></g>
<path d="M375.38 344.90V296.70H389.87V318.80H404.37V308.90H418.86V287.60H433.35V285.60H447.84V242.80H462.34V271.50H476.83V311.70H491.32V275.40H505.81V290.50H520.31V298.40H534.80V296.10H549.29V281.40H563.78V296.10H578.27V265.80H592.77V271.50H607.26V297.00H621.75V296.10H636.25V237.50H650.74V292.70H665.23V257.90H679.72V282.80H694.22V216.20H708.71V298.90H723.20V279.00H737.69V228.90H752.19V282.00H766.68V251.40H781.17V270.60H795.66V261.00H810.15V249.30H824.65V264.60H839.14V270.60H853.63V318.60H868.12V290.40H882.62V303.60H897.11V280.50H911.60V257.40H926.10V318.60H940.59V285.90H955.08V344.90Z" fill="#e8817f"/>
<path d="M264.30 344.90V174.30H287.36V156.70H310.42V169.50H333.48V174.30H356.54V172.30H379.60V142.50H402.66V126.10H425.72V68.00H448.78V35.40H471.84V128.00H494.90V123.30H517.96V153.00H541.02V151.60H564.08V146.80H587.14V120.40H610.20V112.00H633.26V48.20H656.32V46.80H679.38V22.70H702.44V39.00H725.50V66.00H748.56V60.00H771.62V88.50H794.68V42.90H817.74V54.00H840.80V129.90H863.86V108.60H886.92V99.60H909.98V75.90H933.04V165.90H956.10V126.90H979.16V119.10H1002.22V180.00H1025.28V210.90H1048.34V188.40H1071.40V180.00H1094.46V196.50H1117.52V174.60H1140.58V207.90H1163.64V223.50H1186.70V344.90" fill="none" stroke="#000" stroke-width="3.8" stroke-linejoin="miter"/>
<path d="M1235.00 796.60H1316.20V812.26H1312.10V827.92H1310.00V843.58H1302.70V859.24H1299.30V874.90H1292.00V890.56H1287.90V906.22H1285.10V921.88H1278.90V937.54H1278.90V953.20H1272.00V968.86H1268.20V984.52H1265.70V1000.18H1263.00V1015.84H1260.80V1031.50H1257.00V1047.16H1254.20V1062.82H1250.80V1078.48H1247.90V1094.14H1245.60V1109.80H1243.50V1125.46H1241.90V1141.12H1240.20V1156.78H1239.10V1172.44H1238.10V1188.10H1237.30V1203.76H1236.60V1219.42H1236.20V1235.08H1235.90V1250.74H1235.60V1266.40H1235.30V1282.06H1235.00Z" fill="#e8817f"/>
<g clip-path="url(#crh)"><path d="M1235.00 370.45H1235.30V394.70H1235.50V418.95H1235.60V443.20H1235.80V467.45H1236.30V491.70H1237.60V515.95H1239.60V540.20H1242.60V564.45H1260.10V588.70H1289.30V612.95H1342.00V637.20H1442.80V661.45H1509.50V685.70H1525.30V709.95H1508.80V734.20H1482.50V758.45H1455.80V782.70H1435.90V806.95H1419.50V831.20H1401.50V855.45H1377.80V879.70H1355.80V903.95H1335.60V928.20H1319.40V952.45H1304.90V976.70H1292.20V1000.95H1281.20V1025.20H1271.10V1049.45H1264.50V1073.70H1257.90V1097.95H1252.20V1122.20H1247.00V1146.45H1243.40V1170.70H1241.20V1194.95H1240.00V1219.20H1239.00V1243.45H1238.30V1267.70H1237.60V1291.95H1237.10V1316.20H1236.60V1340.45H1236.20V1364.70H1235.40V1469.50" fill="none" stroke="#000" stroke-width="3.8"/></g>
<line x1="375.38" y1="1469.50" x2="375.38" y2="346.30" stroke="#000" stroke-width="5.76" stroke-dasharray="21.3 9.25"/>
<line x1="375.38" y1="344.10" x2="375.38" y2="6.50" stroke="#000" stroke-width="5.76" stroke-dasharray="21.3 9.25"/>
<line x1="955.08" y1="1469.50" x2="955.08" y2="346.30" stroke="#000" stroke-width="5.76" stroke-dasharray="21.3 9.25"/>
<line x1="955.08" y1="344.10" x2="955.08" y2="6.50" stroke="#000" stroke-width="5.76" stroke-dasharray="21.3 9.25"/>
<line x1="219.20" y1="797.10" x2="1233.40" y2="797.10" stroke="#000" stroke-width="5.76" stroke-dasharray="21.3 9.25"/>
<line x1="1235.00" y1="797.10" x2="1539.00" y2="797.10" stroke="#000" stroke-width="5.76" stroke-dasharray="21.3 9.25"/>
<rect x="219.20" y="6.50" width="1014.20" height="338.10" fill="none" stroke="#000" stroke-width="2.00"/>
<rect x="219.20" y="346.30" width="1014.20" height="1123.20" fill="none" stroke="#000" stroke-width="2.00"/>
<rect x="1235.00" y="346.30" width="304.00" height="1123.20" fill="none" stroke="#000" stroke-width="2.00"/>
<rect x="218.20" y="342.9" width="1016.20" height="4.9" fill="#000"/>
<rect x="1570.60" y="6.50" width="73.20" height="1462.50" fill="url(#cg)"/>
<rect x="1570.60" y="6.50" width="73.20" height="1462.50" fill="none" stroke="#000" stroke-width="2.00"/>
<line x1="259.44" y1="1469.50" x2="259.44" y2="1479.80" stroke="#000" stroke-width="2.00"/>
<text x="259.44" y="1521.20" font-size="43.40" text-anchor="middle">0.00</text>
<line x1="404.37" y1="1469.50" x2="404.37" y2="1479.80" stroke="#000" stroke-width="2.00"/>
<text x="404.37" y="1521.20" font-size="43.40" text-anchor="middle">0.25</text>
<line x1="549.29" y1="1469.50" x2="549.29" y2="1479.80" stroke="#000" stroke-width="2.00"/>
<text x="549.29" y="1521.20" font-size="43.40" text-anchor="middle">0.50</text>
<line x1="694.22" y1="1469.50" x2="694.22" y2="1479.80" stroke="#000" stroke-width="2.00"/>
<text x="694.22" y="1521.20" font-size="43.40" text-anchor="middle">0.75</text>
<line x1="839.14" y1="1469.50" x2="839.14" y2="1479.80" stroke="#000" stroke-width="2.00"/>
<text x="839.14" y="1521.20" font-size="43.40" text-anchor="middle">1.00</text>
<line x1="984.07" y1="1469.50" x2="984.07" y2="1479.80" stroke="#000" stroke-width="2.00"/>
<text x="984.07" y="1521.20" font-size="43.40" text-anchor="middle">1.25</text>
<line x1="1128.99" y1="1469.50" x2="1128.99" y2="1479.80" stroke="#000" stroke-width="2.00"/>
<text x="1128.99" y="1521.20" font-size="43.40" text-anchor="middle">1.50</text>
<line x1="208.90" y1="1357.38" x2="219.20" y2="1357.38" stroke="#000" stroke-width="2.00"/>
<text x="197.90" y="1374.88" font-size="43.40" text-anchor="end">18</text>
<line x1="208.90" y1="1197.30" x2="219.20" y2="1197.30" stroke="#000" stroke-width="2.00"/>
<text x="197.90" y="1214.80" font-size="43.40" text-anchor="end">20</text>
<line x1="208.90" y1="1037.22" x2="219.20" y2="1037.22" stroke="#000" stroke-width="2.00"/>
<text x="197.90" y="1054.72" font-size="43.40" text-anchor="end">22</text>
<line x1="208.90" y1="877.14" x2="219.20" y2="877.14" stroke="#000" stroke-width="2.00"/>
<text x="197.90" y="894.64" font-size="43.40" text-anchor="end">24</text>
<line x1="208.90" y1="717.06" x2="219.20" y2="717.06" stroke="#000" stroke-width="2.00"/>
<text x="197.90" y="734.56" font-size="43.40" text-anchor="end">26</text>
<line x1="208.90" y1="556.98" x2="219.20" y2="556.98" stroke="#000" stroke-width="2.00"/>
<text x="197.90" y="574.48" font-size="43.40" text-anchor="end">28</text>
<line x1="208.90" y1="396.90" x2="219.20" y2="396.90" stroke="#000" stroke-width="2.00"/>
<text x="197.90" y="414.40" font-size="43.40" text-anchor="end">30</text>
<line x1="208.90" y1="344.90" x2="219.20" y2="344.90" stroke="#000" stroke-width="2.00"/>
<text x="197.90" y="362.40" font-size="43.40" text-anchor="end">0</text>
<line x1="208.90" y1="215.70" x2="219.20" y2="215.70" stroke="#000" stroke-width="2.00"/>
<text x="197.90" y="233.20" font-size="43.40" text-anchor="end">5000</text>
<line x1="208.90" y1="86.50" x2="219.20" y2="86.50" stroke="#000" stroke-width="2.00"/>
<text x="197.90" y="104.00" font-size="43.40" text-anchor="end">10000</text>
<line x1="1235.00" y1="1469.50" x2="1235.00" y2="1479.80" stroke="#000" stroke-width="2.00"/>
<text x="1235.00" y="1521.20" font-size="43.40" text-anchor="middle">0</text>
<line x1="1414.60" y1="1469.50" x2="1414.60" y2="1479.80" stroke="#000" stroke-width="2.00"/>
<text x="1414.60" y="1521.20" font-size="43.40" text-anchor="middle">20000</text>
<line x1="1643.80" y1="1469.00" x2="1653.80" y2="1469.00" stroke="#000" stroke-width="2.00"/>
<text x="1663.90" y="1484.60" font-size="41.00" letter-spacing="2.50">10</text>
<text x="1719.30" y="1469.70" font-size="28.70">0</text>
<line x1="1643.80" y1="1277.00" x2="1649.30" y2="1277.00" stroke="#000" stroke-width="1.50"/>
<line x1="1643.80" y1="1164.69" x2="1649.30" y2="1164.69" stroke="#000" stroke-width="1.50"/>
<line x1="1643.80" y1="1085.01" x2="1649.30" y2="1085.01" stroke="#000" stroke-width="1.50"/>
<line x1="1643.80" y1="1023.20" x2="1649.30" y2="1023.20" stroke="#000" stroke-width="1.50"/>
<line x1="1643.80" y1="972.70" x2="1649.30" y2="972.70" stroke="#000" stroke-width="1.50"/>
<line x1="1643.80" y1="930.00" x2="1649.30" y2="930.00" stroke="#000" stroke-width="1.50"/>
<line x1="1643.80" y1="893.01" x2="1649.30" y2="893.01" stroke="#000" stroke-width="1.50"/>
<line x1="1643.80" y1="860.38" x2="1649.30" y2="860.38" stroke="#000" stroke-width="1.50"/>
<line x1="1643.80" y1="831.20" x2="1653.80" y2="831.20" stroke="#000" stroke-width="2.00"/>
<text x="1663.90" y="846.80" font-size="41.00" letter-spacing="2.50">10</text>
<text x="1719.30" y="831.90" font-size="28.70">1</text>
<line x1="1643.80" y1="639.20" x2="1649.30" y2="639.20" stroke="#000" stroke-width="1.50"/>
<line x1="1643.80" y1="526.89" x2="1649.30" y2="526.89" stroke="#000" stroke-width="1.50"/>
<line x1="1643.80" y1="447.21" x2="1649.30" y2="447.21" stroke="#000" stroke-width="1.50"/>
<line x1="1643.80" y1="385.40" x2="1649.30" y2="385.40" stroke="#000" stroke-width="1.50"/>
<line x1="1643.80" y1="334.90" x2="1649.30" y2="334.90" stroke="#000" stroke-width="1.50"/>
<line x1="1643.80" y1="292.20" x2="1649.30" y2="292.20" stroke="#000" stroke-width="1.50"/>
<line x1="1643.80" y1="255.21" x2="1649.30" y2="255.21" stroke="#000" stroke-width="1.50"/>
<line x1="1643.80" y1="222.58" x2="1649.30" y2="222.58" stroke="#000" stroke-width="1.50"/>
<line x1="1643.80" y1="193.40" x2="1653.80" y2="193.40" stroke="#000" stroke-width="2.00"/>
<text x="1663.90" y="209.00" font-size="41.00" letter-spacing="2.50">10</text>
<text x="1719.30" y="194.10" font-size="28.70">2</text>
<text transform="translate(42.5,177.4) rotate(-90)" font-size="46" text-anchor="middle">Number</text>
<text x="1387" y="1578" font-size="46" text-anchor="middle">Number</text>
<text transform="translate(1784.3,738.8) rotate(-90)" font-size="46" text-anchor="middle">N galaxies</text>
<text x="726.4" y="1592.3" font-size="68" text-anchor="middle">z</text>
<text transform="translate(109,907.7) rotate(-90)" font-size="67" text-anchor="middle" font-style="italic">I<tspan font-size="46" dy="10">mag</tspan></text>
</svg></body></html>
